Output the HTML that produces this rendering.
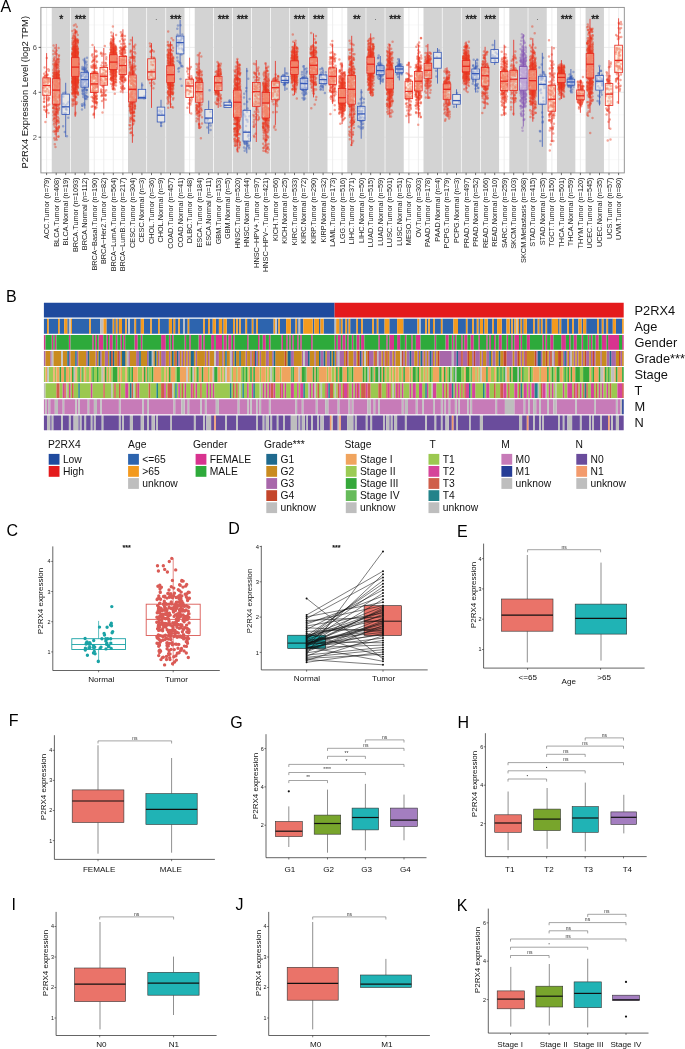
<!DOCTYPE html>
<html><head><meta charset="utf-8"><style>
html,body{margin:0;padding:0;background:#fff;overflow:hidden;width:685px;height:1049px;}
svg{display:block;font-family:"Liberation Sans", sans-serif;will-change:transform;}
</style></head><body>
<svg width="685" height="1049" viewBox="0 0 685 1049">
<rect width="685" height="1049" fill="#fff"/>
<text x="0.5" y="12" font-size="16" fill="#000">A</text>
<rect x="40.9" y="7.4" width="583.4" height="165.5" fill="#fff"/>
<path d="M40.9 159.7H624.3M40.9 114.8H624.3M40.9 69.8H624.3M40.9 24.9H624.3" stroke="#F2F2F2" stroke-width="0.5"/>
<path d="M40.9 137.2H624.3M40.9 92.3H624.3M40.9 47.4H624.3M46.6 7.4V172.9M56.2 7.4V172.9M65.7 7.4V172.9M75.2 7.4V172.9M84.8 7.4V172.9M94.3 7.4V172.9M103.8 7.4V172.9M113.3 7.4V172.9M122.9 7.4V172.9M132.4 7.4V172.9M141.9 7.4V172.9M151.5 7.4V172.9M161 7.4V172.9M170.5 7.4V172.9M180.1 7.4V172.9M189.6 7.4V172.9M199.1 7.4V172.9M208.7 7.4V172.9M218.2 7.4V172.9M227.7 7.4V172.9M237.3 7.4V172.9M246.8 7.4V172.9M256.3 7.4V172.9M265.9 7.4V172.9M275.4 7.4V172.9M284.9 7.4V172.9M294.5 7.4V172.9M304 7.4V172.9M313.5 7.4V172.9M323.1 7.4V172.9M332.6 7.4V172.9M342.1 7.4V172.9M351.7 7.4V172.9M361.2 7.4V172.9M370.7 7.4V172.9M380.3 7.4V172.9M389.8 7.4V172.9M399.3 7.4V172.9M408.9 7.4V172.9M418.4 7.4V172.9M427.9 7.4V172.9M437.5 7.4V172.9M447 7.4V172.9M456.5 7.4V172.9M466.1 7.4V172.9M475.6 7.4V172.9M485.1 7.4V172.9M494.7 7.4V172.9M504.2 7.4V172.9M513.7 7.4V172.9M523.3 7.4V172.9M532.8 7.4V172.9M542.3 7.4V172.9M551.9 7.4V172.9M561.4 7.4V172.9M570.9 7.4V172.9M580.4 7.4V172.9M590 7.4V172.9M599.5 7.4V172.9M609 7.4V172.9M618.6 7.4V172.9" stroke="#EBEBEB" stroke-width="0.9"/>
<rect x="51.74" y="7.4" width="18.37" height="165.5" fill="#D3D3D3"/>
<rect x="70.80" y="7.4" width="18.37" height="165.5" fill="#D3D3D3"/>
<rect x="128.00" y="7.4" width="18.37" height="165.5" fill="#D3D3D3"/>
<rect x="147.06" y="7.4" width="18.37" height="165.5" fill="#D3D3D3"/>
<rect x="166.13" y="7.4" width="18.37" height="165.5" fill="#D3D3D3"/>
<rect x="194.73" y="7.4" width="18.37" height="165.5" fill="#D3D3D3"/>
<rect x="213.79" y="7.4" width="18.37" height="165.5" fill="#D3D3D3"/>
<rect x="232.86" y="7.4" width="18.37" height="165.5" fill="#D3D3D3"/>
<rect x="251.92" y="7.4" width="18.37" height="165.5" fill="#D3D3D3"/>
<rect x="270.99" y="7.4" width="18.37" height="165.5" fill="#D3D3D3"/>
<rect x="290.05" y="7.4" width="18.37" height="165.5" fill="#D3D3D3"/>
<rect x="309.12" y="7.4" width="18.37" height="165.5" fill="#D3D3D3"/>
<rect x="347.25" y="7.4" width="18.37" height="165.5" fill="#D3D3D3"/>
<rect x="366.31" y="7.4" width="18.37" height="165.5" fill="#D3D3D3"/>
<rect x="385.38" y="7.4" width="18.37" height="165.5" fill="#D3D3D3"/>
<rect x="423.51" y="7.4" width="18.37" height="165.5" fill="#D3D3D3"/>
<rect x="442.58" y="7.4" width="18.37" height="165.5" fill="#D3D3D3"/>
<rect x="461.64" y="7.4" width="18.37" height="165.5" fill="#D3D3D3"/>
<rect x="480.71" y="7.4" width="18.37" height="165.5" fill="#D3D3D3"/>
<rect x="509.30" y="7.4" width="18.37" height="165.5" fill="#D3D3D3"/>
<rect x="528.37" y="7.4" width="18.37" height="165.5" fill="#D3D3D3"/>
<rect x="556.97" y="7.4" width="18.37" height="165.5" fill="#D3D3D3"/>
<rect x="585.57" y="7.4" width="18.37" height="165.5" fill="#D3D3D3"/>
<path d="M522.1 98.3h0M522.9 62.4h0M523.8 120h0M523.4 73.2h0M525.9 55.5h0M525.8 74.9h0M522.8 66.1h0M523.9 65.1h0M521.8 76.6h0M523.5 87.2h0M523.7 60.6h0M522.3 127.7h0M520.7 95.4h0M524.7 90.3h0M521.4 75.6h0M520.8 80.2h0M525 87.8h0M520.6 93.5h0M525.6 93.2h0M523.7 91.6h0M523.1 90.5h0M520.8 106.5h0M523.5 85h0M526.1 57.1h0M525.2 69.9h0M523 82h0M525.6 84.8h0M524.9 66.2h0M522.4 47.5h0M520.8 65.7h0M523 63.3h0M523.9 66.9h0M520.9 91h0M521.1 115.6h0M521.9 76.2h0M521.3 82h0M525.1 97.2h0M524.7 42.4h0M525.9 48.1h0M521.8 90.5h0M521.2 79.2h0M525.9 75.1h0M525.4 61.5h0M520.4 57.7h0M525.1 83h0M523.2 54.8h0M522.8 86.7h0M522.3 76.5h0M524.8 80.5h0M525.7 77.4h0M524.5 71.1h0M524.6 80.3h0M521.1 81.2h0M523.1 87.6h0M525.9 99.1h0M520.9 79.8h0M525.9 52.1h0M521.7 50h0M521.3 91.1h0M525.5 66.2h0M521.8 37.7h0M522.7 91.4h0M524.6 105.5h0M523.5 92.4h0M520.6 70.3h0M520.4 64.9h0M520.9 108.4h0M526.1 73.9h0M523.5 110.9h0M520.9 60.5h0M524 79.6h0M525.8 49.9h0M523.4 102.1h0M524.8 54.6h0" stroke="#8B5DB8" stroke-opacity="0.43" stroke-width="2.5" stroke-linecap="round" fill="none"/>
<path d="M525.3 94.6h0M521.7 71.8h0M521.6 101.9h0M525.2 73.2h0M524.9 81.2h0M523.3 67.3h0M525.7 78.2h0M522.8 77h0M522.5 77.5h0M522.2 51h0M520.4 80.6h0M522.2 107.5h0M525.2 107.1h0M523.9 100h0M524.8 94.4h0M522.3 87.7h0M522.7 85.2h0M524.5 69.7h0M523.8 35.8h0M522.2 68.7h0M524.4 88.6h0M521.6 99.8h0M522.8 51h0M524.3 100.3h0M525.7 99.4h0M523.5 72.1h0M523.6 75.6h0M520.5 49.1h0M525.2 68.1h0M522.6 91.4h0M522.6 130.8h0M525.9 69.8h0M524.5 97h0M525.5 67.2h0M521.2 114h0M523.2 88.1h0M524 106.6h0M523 101.4h0M525.9 60.7h0M525.5 77.1h0M521.2 82.4h0M522.6 59.5h0M525.5 65.5h0M524.2 59.2h0M525.4 94.3h0M520.8 61.1h0M524.1 103.8h0M523.1 81.9h0M525.4 95.9h0M523.9 76.4h0M523 71.6h0M522.3 82.7h0M520.6 106h0M523.9 53h0M522.9 64.8h0M522 63.8h0M521.8 98.1h0M523.3 69.5h0M525.8 82.2h0M525.5 80.2h0M525.4 76.2h0M523 50.3h0M523.7 97.9h0M521.1 91.9h0M525.9 86.9h0M523.8 59.5h0M521.2 82.2h0M524.4 79.7h0M525.8 86h0M526.1 102.3h0M526.1 96.2h0M524.5 86.6h0M524.4 43.3h0M521.5 85.1h0" stroke="#8B5DB8" stroke-opacity="0.43" stroke-width="2.5" stroke-linecap="round" fill="none"/>
<path d="M522 96h0M524.5 61.6h0M524 82.5h0M522.7 86.9h0M522.2 99.1h0M521.9 34.3h0M522.9 72.3h0M523.7 114.5h0M526.1 94.9h0M524.5 77.6h0M524.9 95.2h0M524.9 103.1h0M522.4 56.3h0M526 83.3h0M524.7 89.4h0M525.6 91h0M522.6 62.2h0M522.3 65.2h0M520.7 101h0M521.4 97h0M520.7 66.9h0M524.2 53.7h0M524.1 59.1h0M521 68h0M520.6 86.6h0M525.4 88.3h0M520.7 61.4h0M520.5 74.9h0M523.9 73.9h0M523.9 76.7h0M523.7 94.3h0M522.3 79.6h0M522.5 85.2h0M520.6 74.5h0M521.9 66.2h0M525 89.7h0M522 103.3h0M524.2 73.9h0M521.3 81h0M522.8 84.4h0M523.8 96.7h0M521 88.6h0M523.1 57.2h0M521.6 99.8h0M523.2 73.7h0M523.6 78.6h0M522.3 95.7h0M523.5 106.6h0M523 69.2h0M524.6 81.9h0M521.1 86.4h0M523.8 103.5h0M522.2 83.1h0M525.6 57.8h0M521.9 54.4h0M523.3 85.3h0M520.8 88.6h0M522.1 52.1h0M525 75.7h0M524.1 92.4h0M522.7 81.6h0M521.9 79.7h0M522.1 69h0M524.6 71.5h0M525.1 92.3h0M525 82.5h0M523.7 66.9h0M521.5 77.8h0M521.7 71.6h0M523.2 52.2h0M523.5 82.2h0M524.9 63.7h0M523.2 56.8h0M521.6 97.5h0" stroke="#8B5DB8" stroke-opacity="0.43" stroke-width="2.5" stroke-linecap="round" fill="none"/>
<path d="M523.7 94.1h0M523 71.9h0M525.6 69.6h0M525.8 101.3h0M521.3 89.1h0M523.6 84.6h0M522.4 46.2h0M525.5 65.8h0M523.6 83.5h0M521.5 111.6h0M524.7 85.1h0M524.4 70.5h0M523.4 70.8h0M525.1 62.1h0M524.7 104.3h0M526 77.6h0M522.8 82.7h0M520.4 89.4h0M526.1 94h0M522.2 83.3h0M524.4 78.5h0M520.4 100.6h0M524 80h0M525.4 81.5h0M524.9 63.1h0M522.9 76.2h0M522.4 97.9h0M523.9 72h0M522.8 97.6h0M520.5 80.6h0M520.8 60.1h0M522 93.3h0M525.8 76.5h0M520.4 80.2h0M524.4 105.3h0M522.8 68.7h0M524.4 84.2h0M522.7 60.2h0M525 63.8h0M521.1 62.3h0M525.7 66.3h0M523 72.4h0M523.2 103.5h0M521.6 57.3h0M524.7 78.9h0M525.5 68.5h0M523.1 82.1h0M525.1 74.2h0M520.9 74.4h0M521.6 74.9h0M522.6 80.1h0M522.6 71.9h0M521.9 57.5h0M523.2 82.9h0M524.1 65.4h0M521.6 80.3h0M523.3 63.2h0M525.5 99h0M521.4 90.7h0M522.7 55.2h0M523 79.7h0M522.7 69.7h0M521 105.8h0M522.6 78.9h0M523.1 77.3h0M524.3 80.5h0M525.8 105.7h0M525.6 58.6h0M524.6 82.5h0M520.7 69.8h0M521.7 57.1h0M524.4 119.3h0M525.4 78.1h0" stroke="#8B5DB8" stroke-opacity="0.43" stroke-width="2.5" stroke-linecap="round" fill="none"/>
<path d="M525.8 85.7h0M522.8 51.7h0M521 65.6h0M525.8 83.8h0M520.4 91.2h0M522.2 73.8h0M522.2 94.5h0M521.5 61.4h0M521.8 69.2h0M525.8 81.4h0M520.5 92.8h0M524.7 96.9h0M523.3 70.6h0M520.6 69.3h0M520.7 44.3h0M524.3 60.3h0M523.9 53.9h0M525.1 63.7h0M524.4 96.3h0M523.5 61.9h0M522.3 72.8h0M523.8 48h0M525.8 87.6h0M522.9 55.8h0M520.9 113.5h0M522.5 90h0M524.8 70.1h0M525 82.6h0M523.9 58.7h0M524.5 62.4h0M522.2 116h0M522.9 79.4h0M522.1 88.3h0M525.9 82.7h0M526 82.2h0M522.2 68.2h0M524.8 60.4h0M525.4 68.3h0M524.4 81.4h0M524.8 92h0M524.4 99.8h0M523.9 68.4h0M522.8 37.1h0M523.5 68.8h0M521.1 93.9h0M526 59.9h0M523.9 49.9h0M522 75.5h0M520.9 60.3h0M524.8 76.4h0M525.2 96.2h0M523.9 40.8h0M521.5 78.3h0M525.2 57.8h0M521.2 40.8h0M524.9 55.3h0M521.3 58.7h0M521.1 87.8h0M525.8 72.2h0M525.4 46.8h0M520.9 54.7h0M523.1 82.6h0M521.6 54.1h0M522.2 71.7h0M523.9 93.6h0M522.4 81.2h0M526.1 89.3h0M520.9 72.1h0M524 68.2h0M524.3 73.6h0M523.3 67h0M523.1 107.1h0M524.3 78.6h0" stroke="#8B5DB8" stroke-opacity="0.43" stroke-width="2.5" stroke-linecap="round" fill="none"/>
<path d="M66.4 109.1h0M63.3 93h0M63.1 126.2h0M65.6 113.6h0M86.5 83.6h0M85.6 68.8h0M84.7 86.4h0M86.4 75.7h0M85.9 85.6h0M86.7 71.4h0M85 69h0M87.3 97h0M85 70h0M83.8 103.6h0M86.4 61.8h0M82.4 66.9h0M87.3 85.4h0M82.5 93.6h0M82.6 69.2h0M83.2 93.8h0M83.2 67.3h0M85.4 98.4h0M82.4 89.4h0M83.8 74h0M85.5 95.6h0M86.7 79.8h0M86.4 86.1h0M144.4 96h0M159 114.1h0M162 110.9h0M181.8 44.5h0M182.9 49.5h0M179.1 62h0M177.6 60.8h0M181.4 65.6h0M178.2 68.8h0M180.9 40.2h0M177.9 40.2h0M178.6 41.9h0M208 118.9h0M210.4 111.7h0M207.3 121.3h0M229.3 100.8h0M249.6 99.1h0M248.8 132.1h0M245.4 143.5h0M247.3 119.9h0M244 97.6h0M244.1 141.6h0M244.8 144.1h0M247.9 136.4h0M246.9 143.6h0M285 81.2h0M284 85.1h0M287.8 82.6h0M284.5 76.8h0M284.8 80.4h0M305.4 87.1h0M302.1 78.8h0M303.8 99.8h0M306.5 81.2h0M305.9 89.4h0M302.2 88.3h0M305.8 92.1h0M305.2 82.4h0M302.7 90.3h0M305 85.5h0M301.9 74.5h0M304.8 78h0M305.7 81.6h0M306.2 93.8h0M303.1 88.7h0M321 83.1h0M322.1 67.9h0M322 86h0M321.3 86.1h0M320.7 77h0M321.1 74.9h0M322.1 86.6h0M359.6 111.7h0M361.3 122.3h0M360 111.3h0M363.1 123.8h0M362.1 97.8h0M358.3 111h0M364 99.1h0M359.1 114.8h0M363 127.2h0M361.7 103.3h0M378 58.2h0M380.2 76h0M382.4 76.2h0M381.1 77.4h0M379.7 68.6h0M381.5 79.7h0M383 69h0M379.7 69.8h0M381 80.9h0M383 79.2h0M381.5 72h0M381 76.9h0M400.3 65.2h0M399.2 73.6h0M400.4 66.5h0M401.1 70.2h0M398.4 73.8h0M400.4 68.8h0M398.5 64.7h0M398.3 70.7h0M397.3 66.7h0M397.6 66.5h0M401.3 73.2h0M436.9 57h0M459.1 102h0M475.8 78.3h0M473.7 75.1h0M473.1 71.5h0M473.8 69.3h0M474.1 68.1h0M472.9 77h0M476.2 73.9h0M475.3 75.1h0M477.3 60.2h0M476.8 85.7h0M476.3 75.2h0M494.1 49.7h0M492.7 45h0M543.5 72.4h0M541.4 104.1h0M545.2 80.8h0M543 77.9h0M542.1 112.4h0M543.1 57.7h0M540.6 103.8h0M570.9 76.9h0M573.2 82.2h0M572.1 83.7h0M571.4 80.4h0M570.2 79.5h0M572.8 77.9h0M568.7 82.1h0M569.9 79.6h0M572 84.1h0M568.5 86.7h0M573.4 83.6h0M569.6 74.4h0M601.4 81h0M598.3 95.8h0M602 83h0M600.5 78h0M601.5 82.4h0M600.2 79.7h0M602.2 85h0" stroke="#3A5CB8" stroke-opacity="0.43" stroke-width="2.5" stroke-linecap="round" fill="none"/>
<path d="M65.6 105.3h0M65.3 92.4h0M68.3 117.8h0M63.7 113.5h0M86.5 84.2h0M82.1 75.5h0M83.6 87.4h0M87.4 76.7h0M83.6 59.7h0M82.7 84.8h0M86.1 69.5h0M83.9 88.8h0M82.4 91.1h0M87.3 96.7h0M85.1 80.9h0M85.6 76.9h0M86.9 90.2h0M84.6 79.3h0M84.8 78.2h0M83.4 79.6h0M85.3 72.4h0M83.8 87h0M83.3 73.8h0M86.4 85.4h0M82.4 68.8h0M87.3 85.7h0M87.4 73.3h0M142.3 85.2h0M160.1 111.4h0M162.1 114h0M181.7 85.7h0M177.5 34.7h0M181.3 66.3h0M177.7 35.8h0M178.5 36.5h0M178.7 71.4h0M179.3 67.9h0M177.3 28.7h0M207.8 119.6h0M209.6 122.8h0M225.4 106h0M247.6 121.7h0M247.6 141.2h0M248.2 135.2h0M249.2 138.8h0M247.5 143.1h0M247 112.1h0M244.2 93.8h0M244.2 114.4h0M247.7 145.5h0M286.8 81.1h0M287.4 82.8h0M283.8 84h0M284.8 82.6h0M286 78.7h0M305.6 92.9h0M306 76.7h0M303.6 95.1h0M306.7 88.3h0M305.8 76.4h0M304.4 84.5h0M303.2 66.6h0M301.9 79.8h0M303.1 89.5h0M302 72.1h0M303.3 89.3h0M302.8 89.6h0M302.2 83h0M305.1 76.4h0M302.9 77.4h0M322 78.6h0M321.2 72.4h0M324.8 82h0M321.3 85.3h0M321.8 72.5h0M320.6 74.9h0M322.6 86.9h0M358.5 126.5h0M362.2 117.3h0M360.1 117h0M360.6 99.3h0M361.9 113h0M360.3 127h0M362.1 113.5h0M358.5 108.1h0M363.7 102.6h0M360.7 128.3h0M377.4 72.1h0M379.4 75.3h0M383.1 71.2h0M378.4 57.4h0M381.9 72.4h0M378.7 55.6h0M381.2 63.7h0M379.1 65.1h0M381.2 68h0M380.6 69.5h0M377.5 66.9h0M383 67.6h0M399.3 65.2h0M399.6 68h0M396.9 68h0M401.7 74.2h0M398.5 70.5h0M397.3 67.3h0M400.5 67.3h0M397.7 62.8h0M399.6 68.4h0M401.5 68.1h0M439 50.5h0M457 92.9h0M473.1 66h0M475.6 67h0M477.3 65.5h0M476.4 84.2h0M473.6 75.3h0M477.9 71.3h0M477.2 59.5h0M475.5 88.8h0M476.6 73.8h0M478 88.3h0M473 72.3h0M493.2 56.9h0M495.7 52.4h0M542.9 121.6h0M540.3 131.4h0M541.6 78.2h0M543.8 85.8h0M539.4 67.6h0M543.6 101.2h0M540.8 80h0M568.2 78.2h0M570.2 79.7h0M570.4 81.9h0M571.6 79.7h0M570.5 87.2h0M570.4 77.6h0M571 82.5h0M571.6 82.5h0M570.7 77.3h0M569.8 85h0M573.7 80.4h0M570.9 80.5h0M598.8 73.5h0M597.1 82.4h0M602.4 83.4h0M600.9 70.7h0M602 85.4h0M596.8 79.6h0M602 80h0" stroke="#3A5CB8" stroke-opacity="0.43" stroke-width="2.5" stroke-linecap="round" fill="none"/>
<path d="M67.3 103.8h0M66.5 110h0M63.6 107.1h0M63.2 96.4h0M85.3 63.1h0M85.3 76.9h0M83.1 94.6h0M83.3 93.8h0M83.2 74.3h0M84.1 70.4h0M84.3 72.9h0M86.2 81.1h0M87 74.1h0M83.8 81.6h0M82.4 75.7h0M83.9 70h0M84.6 61.5h0M84.8 72.7h0M87 57.7h0M82 86.1h0M82.2 76h0M86.6 98.9h0M82.7 81.3h0M86.4 92.7h0M86 95.9h0M86.7 64.8h0M144 98.2h0M159.5 110.1h0M158.5 110.9h0M182.6 66.6h0M183 50.6h0M182.3 34.4h0M177.5 45.8h0M180.5 63.3h0M178.9 48.4h0M177.2 57.6h0M178.7 44.5h0M206 118.6h0M207.3 127.5h0M229.9 100.6h0M245.6 148.5h0M245 143.4h0M248.3 146.1h0M244 147.5h0M248.7 146.9h0M249.4 116.3h0M244.7 150.8h0M244.4 104h0M248.8 145.5h0M284.4 75.4h0M285.1 82.9h0M286.8 88.8h0M285.4 78.5h0M285.5 83.9h0M301.3 89.1h0M306 89.6h0M306.5 68.5h0M302.7 81.9h0M302.4 77.6h0M303.7 79.7h0M306 88.4h0M304.5 83.4h0M303.3 82h0M302.6 97.9h0M304.4 79.7h0M305.5 88h0M305 94.4h0M306.7 71.3h0M325.8 76.1h0M325.8 75h0M320.7 75.2h0M320.3 69.3h0M321 89.2h0M325.5 84.5h0M361.5 114.5h0M362.6 128.4h0M359.2 115.2h0M361.6 92.2h0M360.6 106.7h0M359.1 119.7h0M362.3 111.1h0M358.5 118.6h0M358.6 110.6h0M361.6 124.5h0M379.6 65.9h0M382.3 65.4h0M379.2 73.5h0M379.9 79.1h0M378.3 63.5h0M377.9 71.3h0M381 75.5h0M379.2 72h0M379.8 69.7h0M379.9 66.9h0M379.4 71.3h0M382.8 81.8h0M401.7 68.8h0M397.9 65.6h0M398.1 59.2h0M397.8 65.5h0M399.5 64.1h0M399.5 70.6h0M399.2 67.1h0M396.9 74.5h0M400.2 67.6h0M397.8 69h0M436.1 70.7h0M454 106.8h0M477 63.2h0M475.3 68.7h0M476.8 71h0M473.7 59.8h0M478.3 87.7h0M477 66.7h0M475.8 80.6h0M477 66.9h0M473.3 77.8h0M472.7 83.7h0M497.3 54h0M494.7 60.2h0M543.4 72.1h0M543.4 103.8h0M539.4 78.1h0M541.5 76.7h0M544.1 74h0M540.3 141h0M540.9 89.4h0M570.7 91.1h0M572.4 81.3h0M570.6 77.4h0M572 85.4h0M570.5 80.3h0M569 84.7h0M573.2 82.3h0M571.6 83.6h0M573.6 87.1h0M569.6 85h0M572.1 92.3h0M571.2 77.8h0M599.4 66.1h0M597 80.8h0M599.7 88.1h0M597.7 75.8h0M601 71h0M598.1 86.2h0M602.1 74.8h0" stroke="#3A5CB8" stroke-opacity="0.43" stroke-width="2.5" stroke-linecap="round" fill="none"/>
<path d="M65.5 113.6h0M63.3 107h0M67 136.2h0M64.8 132.1h0M84.4 104.9h0M82.9 82.9h0M87.2 76.4h0M87.1 71.5h0M85.1 88.2h0M82 109.6h0M86.7 82h0M82.4 105.6h0M86.8 73h0M84.5 82.6h0M85.3 98.4h0M84 69.1h0M86.9 76.7h0M84 68.1h0M84.7 77.1h0M83.5 90.3h0M83.3 96.9h0M81.9 104.2h0M83.8 96.5h0M87.1 78h0M87.5 83.5h0M86.5 90.1h0M161.2 112.7h0M161.3 122.9h0M181.5 38.7h0M180.1 40.6h0M181.5 54.4h0M181.3 38h0M178 53.1h0M180.3 42.9h0M177.9 25.6h0M179.4 42.6h0M209.6 90.3h0M210.6 125.4h0M229.9 102.2h0M246.1 126.1h0M247.2 101.7h0M246.1 91.2h0M246.3 88.1h0M244.7 110h0M246.1 119.6h0M244.2 142.4h0M249.2 148.4h0M245.7 131.5h0M285.6 80.3h0M284.8 84.4h0M285.3 79.8h0M286.2 73.3h0M282.3 76.1h0M305.1 81.8h0M306.2 83.5h0M305.2 88h0M306.9 80.9h0M304.1 88.4h0M305.1 98.4h0M302.5 93.2h0M301.6 82.5h0M305.2 69.3h0M303.3 79.5h0M304 78.6h0M306.6 72.2h0M302.8 78.2h0M302.6 90.1h0M324.5 83.8h0M322.5 69.3h0M320.4 86.9h0M324.9 93h0M320.4 89.4h0M325.4 80.7h0M362 111.2h0M362.7 106.8h0M363.1 120.2h0M360.2 120.9h0M362.9 107.9h0M364.1 118.1h0M359.3 111.1h0M358.8 111.3h0M360.3 106.3h0M360.2 117.8h0M382.7 80.3h0M378.8 72.5h0M378 68.7h0M380.4 68h0M382.7 75h0M378 77.7h0M381.1 68h0M380.9 71.6h0M379.1 73.4h0M382.6 68.5h0M383.1 67.8h0M378.8 78.8h0M398.5 65.5h0M398 68.1h0M398.2 70.2h0M399.7 64.1h0M400 69.1h0M399.1 61.2h0M400.6 66.4h0M402.1 67.7h0M401.1 67.2h0M397.4 71h0M436.4 76.4h0M473.2 81.5h0M475.1 75h0M473.2 65.2h0M472.9 78.5h0M474.1 72h0M476.6 76.9h0M477 85.8h0M477.5 91.6h0M474.8 72.2h0M478.2 74.2h0M495.7 62.1h0M492.6 55.3h0M539.9 131.1h0M540.5 75h0M542.6 116.9h0M541.1 83.2h0M544.1 84.3h0M541.5 78.3h0M544.3 87.9h0M573.4 71.9h0M571.4 83.7h0M571.7 76.1h0M571.9 78.7h0M571.7 85.3h0M572.2 81.3h0M569.9 78.9h0M568.2 85.6h0M572.1 85h0M568.7 82.1h0M572.3 89.4h0M571.5 85.1h0M601.7 94.7h0M599.5 103.3h0M599.2 81.8h0M598.5 73.3h0M602 79.2h0M601.1 92.5h0M601 91.5h0" stroke="#3A5CB8" stroke-opacity="0.43" stroke-width="2.5" stroke-linecap="round" fill="none"/>
<path d="M63.4 103.7h0M65.8 108.8h0M68.5 101.9h0M86.9 72.5h0M86.5 67.3h0M83.1 85h0M82.2 82.2h0M82.7 84.5h0M83.1 91.4h0M82.6 84.6h0M84.7 79.1h0M82 76.1h0M82.9 79.3h0M84.5 85.9h0M82.8 83.1h0M82.5 75.7h0M83 76h0M85.8 76h0M87 71.5h0M82.1 105.7h0M87.3 73.8h0M83.1 75h0M83 79.5h0M85.8 74.4h0M86.6 89.8h0M161.2 125.9h0M178.5 44.2h0M181.6 48.6h0M180.5 25.2h0M178.4 45.3h0M182.2 37.9h0M180.5 79.1h0M177.8 46.2h0M178.7 42.4h0M206.7 118.5h0M210.6 129.9h0M229.5 102.2h0M245.4 141.5h0M245 131.5h0M247.1 71h0M249.2 135.8h0M245.4 116.5h0M247.6 108.5h0M249.3 134.6h0M248.3 78.8h0M284.6 80.8h0M284.9 82.8h0M284.4 81.1h0M283.2 75.1h0M287.4 73.6h0M301.6 88.3h0M302.5 78h0M301.2 83.2h0M306.6 77.9h0M306.2 73.7h0M304.1 86.8h0M305.8 90h0M304.5 91.3h0M302.7 89.4h0M305.3 80.6h0M306.3 80.6h0M304.8 82.5h0M303.8 91.3h0M301.8 86.3h0M320.6 74.8h0M321.3 81.2h0M325.8 72.3h0M323.6 78.8h0M324.3 80.4h0M323.9 80.7h0M362.5 120.6h0M359.3 118.9h0M358.7 115.3h0M358.6 107.8h0M360.6 111.7h0M360.9 120.3h0M361 117.9h0M360.3 117.9h0M358.7 103.5h0M359.7 108.5h0M377.6 75.5h0M382.2 68.3h0M379.2 62.7h0M380.7 76.6h0M377.4 69.7h0M379.7 65h0M378.6 76h0M379.9 67.1h0M378.3 64h0M381.5 71.1h0M381.1 65.5h0M400.1 66.6h0M398.6 71.7h0M398.1 76.9h0M401.5 64.5h0M397.1 66.3h0M400.9 72.1h0M398.7 70.6h0M397.2 73.2h0M400.8 72.5h0M401.9 73h0M478.1 77.9h0M477.8 84.1h0M476.2 66.7h0M472.7 77.9h0M476.9 75.3h0M475.5 67.9h0M475.4 68.2h0M474.4 74.6h0M474.9 85.3h0M473.1 80.5h0M495.1 56.6h0M495 60.5h0M541.2 93.1h0M543.1 97.7h0M540.2 90.6h0M542.3 79.8h0M542.5 122.4h0M545.2 75h0M541.7 64.5h0M569.3 81h0M570.7 80.5h0M571.3 79h0M568.1 81.4h0M573.2 84.7h0M571.4 82.8h0M569.5 80.8h0M571 87.1h0M568.6 86h0M569.8 77.7h0M572.6 84.3h0M597.9 80.2h0M597.6 101.1h0M599.4 101.5h0M599.8 97.1h0M596.7 77.1h0M596.8 78.6h0M599.5 77h0" stroke="#3A5CB8" stroke-opacity="0.43" stroke-width="2.5" stroke-linecap="round" fill="none"/>
<path d="M47.5 89.2h0M44.2 82.7h0M48.7 82.1h0M45.9 72h0M48.3 97.2h0M44.4 97.4h0M47.8 78.6h0M47.8 82.8h0M44.1 82.7h0M48.8 79.5h0M45.1 81.8h0M47.7 74.8h0M44.3 96.9h0M44.6 82.4h0M48.6 90.4h0M44.7 78.1h0M58.9 91.4h0M58 97.2h0M53.4 69.9h0M54.5 74.6h0M57.9 110.2h0M58.9 108.7h0M57.9 83.2h0M56.3 66h0M56.7 76h0M56.2 131.1h0M56 89.4h0M57.7 90h0M57.3 106.2h0M58.1 136.7h0M58.5 78.9h0M59 109.5h0M53.4 76.1h0M53.9 79.3h0M54.8 72.6h0M56.9 54.3h0M58.6 85.7h0M57.7 96.9h0M56.4 87.1h0M57.2 109.6h0M54 81.3h0M55 93.2h0M58.9 94.6h0M53.8 76.9h0M57.1 103.2h0M58.4 59.2h0M58 91.2h0M56.5 64.7h0M56.4 123.3h0M56.1 93.7h0M54.7 96.7h0M56.2 97.9h0M55.9 96.8h0M58.8 77.1h0M53.4 54.3h0M58.1 61.9h0M56.7 78h0M56.2 90h0M56.4 124h0M56 82.2h0M55.5 104.8h0M54.4 101h0M55.6 108.6h0M58.3 119.6h0M53.4 101.7h0M58.9 74.9h0M57.7 102.1h0M56.9 81.2h0M53.3 82.3h0M55 64.5h0M53.5 131.4h0M58 75.8h0M55.7 89.8h0M58.5 74.4h0M55.4 65.6h0M58.8 56.2h0M55.4 80.4h0M58.6 89h0M54.9 93.9h0M58.8 88.2h0M57.7 92.9h0M54.7 84.8h0M56.1 83.5h0M57.1 120.9h0M58.4 89.8h0M59 59.6h0M56.6 73.3h0M56.7 139.8h0M55.2 89.4h0M55.5 92.3h0M56.5 76.1h0M53.3 64.3h0M58.5 118.5h0M53.9 70h0M55.5 53.7h0M58.1 73.2h0M56.5 86.2h0M55.7 99.2h0M77.5 66.8h0M74.2 56.6h0M76 54.2h0M74.6 40.3h0M77.1 67.3h0M73.2 66.3h0M72.9 54.1h0M77.7 78h0M75.6 47.1h0M75.4 37h0M75.3 61.2h0M76.5 58.3h0M74.3 66.7h0M75.4 71.9h0M76.6 68.4h0M78 82.4h0M72.8 62.5h0M72.6 60.7h0M72.7 54.7h0M77 64.7h0M72.4 73.1h0M75.9 70.7h0M77.1 63.2h0M76.9 66.7h0M73 72.1h0M74.6 76.3h0M73.7 87.7h0M77.2 57h0M73.4 59.4h0M73.3 54.7h0M76.6 42.4h0M76.9 64.7h0M75.6 54.7h0M76.3 88h0M74.8 74.2h0M74.6 48.6h0M75.5 52.4h0M76.3 49h0M74.8 52.6h0M77 73.3h0M74.4 61.7h0M74.4 69.2h0M74.1 69.1h0M77.1 78.7h0M72.9 72.9h0M77.5 80.8h0M74.9 89.1h0M73.2 66.9h0M74.5 80.4h0M77.7 63.7h0M74.4 81.4h0M74 58.8h0M74.1 72.9h0M74.1 78.4h0M76.4 81.3h0M72.5 73.4h0M74.2 71.7h0M75.7 65.4h0M76.1 72.5h0M77.4 42h0M76.6 73.2h0M72.4 31.1h0M74.4 71.9h0M74.7 51.9h0M74.2 74.5h0M76.3 54.4h0M72.6 55.4h0M77.6 87h0M75 83.2h0M73.7 53.9h0M74.4 58h0M76 67.3h0M75.6 56.4h0M72.5 99h0M75.8 62.8h0M74.6 93.5h0M77.2 42.4h0M77.8 64.4h0M73.7 75.3h0M77.7 59.9h0M77.1 79h0M77.4 84h0M73 79.3h0M73.5 65.5h0M78 68.8h0M74.8 81.6h0M75.8 61.9h0M72.7 83.8h0M77.6 69.5h0M75.8 60.9h0M74.5 76.4h0M72.4 68.5h0M72.4 69.9h0M73 82.9h0M76.6 56.2h0M77.8 81.2h0M72.6 56.4h0M72.7 76.7h0M77.4 56.6h0M73.8 75.2h0M73.9 51h0M73.7 53.4h0M75.9 83.8h0M74.4 54.7h0M77.4 64.3h0M76.6 60.8h0M76.7 68.7h0M75.7 68h0M76.5 81.5h0M74.9 92.9h0M77.9 52.4h0M76.8 73.4h0M76.2 86.8h0M75.1 79.7h0M75.3 41.3h0M74 76.3h0M74.7 69.7h0M73.5 82.3h0M76.7 61.2h0M72.4 83.2h0M74.9 78.1h0M72.6 59.9h0M73.7 100.4h0M73.3 64.7h0M73 71.2h0M74.3 63.4h0M74.4 64.3h0M73.1 67.4h0M75.3 62.1h0M72.8 72h0M74.1 68.6h0M77.3 79.9h0M77.2 70.3h0M72.5 88.5h0M76.5 57.4h0M72.6 87.5h0M76.3 67.1h0M76.3 71.8h0M76.7 60.5h0M73.8 70.8h0M75.3 66.3h0M77 53.1h0M74.4 58.4h0M75 64.9h0M72.9 49.3h0M77.7 76.6h0M77.2 59.3h0M74.2 59.2h0M77.6 57.9h0M73.3 69.8h0M76.9 52.3h0M77.1 54.4h0M78 73.9h0M75.9 71.5h0M76.3 58.2h0M74.6 58.5h0M75.2 77.3h0M72.7 70h0M74.6 46.1h0M74.5 71.7h0M77.6 54.7h0M74.5 90.2h0M76.2 43h0M77 65.2h0M77.8 76.3h0M77.1 70.6h0M73.6 56h0M74.4 63.4h0M73.9 72.3h0M76.8 67.3h0M74.1 47.6h0M74.3 71.5h0M74.9 38.9h0M75.5 55.8h0M74.8 81.8h0M73.9 64.1h0M75.8 70.6h0M76 51.1h0M72.6 53.6h0M75.6 66.6h0M77 66.4h0M73.8 74.4h0M73.1 99.2h0M72.8 67.7h0M76.6 61.9h0M74.3 68.9h0M72.7 89.3h0M74.8 56.6h0M77.4 51.7h0M76.3 64.4h0M77.3 61.3h0M76.6 65.3h0M73.7 63.5h0M78.1 64.3h0M75.2 53.5h0M76.6 31.5h0M76.3 68.4h0M74.2 82.5h0M73.8 91.4h0M72.6 87h0M75.8 57h0M75.9 80.4h0M75.3 88.6h0M73.7 69.6h0M77.1 86h0M72.8 82.7h0M75.3 72.6h0M73.4 49.8h0M76.9 62.7h0M76.1 78.2h0M74.2 81.1h0M75.8 80.4h0M76.2 92.5h0M73.6 90.3h0M72.6 70.9h0M75.3 72.6h0M72.6 81.3h0M74.5 62.7h0M75.4 55.6h0M94.5 91.7h0M94.2 92.9h0M96.2 102.5h0M91.5 65.9h0M96.3 74.6h0M91.6 66.8h0M96.6 51.6h0M92.4 84.2h0M94.4 72.2h0M95 96h0M96.2 51.7h0M96.9 87h0M93 67.7h0M95.5 107.8h0M94.4 95.2h0M92.5 44.9h0M93.6 76.3h0M95.8 86.8h0M93.1 57.5h0M91.8 84.8h0M97 75.3h0M92.5 78.9h0M93.8 73.4h0M92.3 76.8h0M96.5 107.5h0M92.7 85.2h0M93.3 88.6h0M92 55.6h0M96.3 56.8h0M94.8 97.9h0M93.3 84.5h0M93.7 88.4h0M92.9 60.9h0M91.5 74.1h0M93.2 65h0M94.1 68.6h0M94.3 78.5h0M96.1 85.3h0M105.5 75.1h0M102.1 95.1h0M104.3 70h0M102.3 86h0M106.6 79.1h0M101.1 52.8h0M102.4 84.3h0M101.5 68.1h0M104.5 84.7h0M105.7 76.4h0M104.1 73.5h0M104.4 75.7h0M103.6 93h0M104.9 77h0M102.7 68.9h0M105.3 54.3h0M105.4 95.8h0M113.5 84.9h0M113.6 77.7h0M115.7 58.1h0M111.9 62.6h0M114.3 65.6h0M116.1 52.5h0M113 51.6h0M114.3 50.1h0M111.5 74.4h0M111.2 41h0M111.1 51.8h0M114.2 69.9h0M111.1 59.5h0M112.5 59.1h0M116 76.2h0M115.8 54.7h0M111.1 46.8h0M111.8 62.9h0M112.6 68.1h0M111.6 67.7h0M113.2 60h0M111.8 50.1h0M115.3 60.6h0M111.3 42.1h0M113.1 55.6h0M111.1 39.3h0M115.1 55.7h0M110.9 55.2h0M114.4 51.8h0M114.2 69.6h0M116 64.1h0M110.7 60.2h0M114.5 67.2h0M114.2 59.9h0M113.9 54.2h0M111.5 61.1h0M115.9 62.3h0M111.4 57.8h0M111.5 72h0M111 56.4h0M113.7 57.3h0M110.6 79.3h0M112.3 77.7h0M112.3 59.5h0M115.5 62.6h0M110.9 61.3h0M114.9 50.9h0M116.1 62.6h0M113 54.6h0M111.4 58.9h0M111.9 57.7h0M113.1 69.3h0M111.9 49.7h0M112.9 65.9h0M112.3 76.7h0M112.8 58.7h0M114.8 93.7h0M115.3 57.8h0M115.5 76.4h0M112.3 62.1h0M112.8 69.4h0M113.8 70.5h0M111.7 50.9h0M112.9 78h0M111.7 44.5h0M111.5 70.6h0M111.5 62.1h0M115.7 85.6h0M113.9 76.6h0M111.8 65.9h0M114.8 48.4h0M115.1 58.6h0M111.6 46.3h0M111.5 67.3h0M111.3 60.8h0M111.3 66.1h0M112.8 50h0M113.9 50.7h0M115.1 57.2h0M113.2 48.1h0M115.7 54.3h0M111.3 43.9h0M115.8 76.3h0M113.9 49.5h0M111.4 77h0M116.1 62.3h0M113.5 47.9h0M115.9 67.8h0M115.1 51h0M116 85.5h0M115.2 73.2h0M115.8 70.9h0M112.9 72.7h0M114.7 63.3h0M115.8 69.4h0M113.2 83.9h0M111.2 63.1h0M113.1 59.9h0M111.1 56.7h0M115.7 55.6h0M115.7 71.5h0M113.7 53.3h0M114.9 51.8h0M113.6 51.7h0M114.4 72.4h0M111.9 71.1h0M114.3 62.4h0M113.7 52.9h0M115.3 61.5h0M115.3 63.4h0M116.2 50.1h0M111.4 62.3h0M113.6 68.4h0M121.4 75.3h0M125.3 80.4h0M121.8 55.3h0M120.2 78.9h0M124.1 47.9h0M121.3 49.8h0M124 63.2h0M122.8 68.4h0M120.7 55.8h0M121.8 88.6h0M120 51.3h0M122.2 80.6h0M123.4 78.1h0M123.4 76.6h0M121.6 72.8h0M124.1 68.9h0M124.4 56.6h0M122.1 66.2h0M120.6 74.5h0M122.5 49.9h0M121.9 35.9h0M123.4 77.8h0M123.9 49.2h0M123.4 57.3h0M121.2 74.9h0M122.2 64.8h0M123.6 72.4h0M122.5 59.2h0M121.7 79.8h0M122.1 58.6h0M123.8 69h0M123.8 71.9h0M124.2 58.8h0M124 56.6h0M120.8 66.2h0M122.5 73.9h0M120.6 70.1h0M120.1 57.9h0M121.9 72.3h0M125.2 70.8h0M121.3 76.2h0M121.1 62.2h0M121.2 78h0M122 71.1h0M132.6 99.7h0M134.2 57.2h0M131 51.3h0M134.1 104.6h0M130.8 99.9h0M132.1 66.9h0M134 102h0M133.2 71.8h0M131 89.2h0M130.2 62.3h0M131.9 54.6h0M134 90.8h0M130.9 113h0M133.2 89.7h0M129.6 104.4h0M131.3 102.8h0M131.8 97.3h0M130.8 93.1h0M134.6 67h0M134.7 91.7h0M134.9 91h0M130.4 72.1h0M134.4 89.5h0M129.9 110.8h0M131.1 102.8h0M133.7 72.6h0M133.1 90.8h0M131 69h0M129.8 106.1h0M131.8 118.2h0M133.8 80.9h0M131.7 109.9h0M130.4 93.8h0M129.6 73.5h0M130.1 89.4h0M134.7 92.7h0M131.1 74.4h0M134.2 107.5h0M135 106.1h0M131 70.5h0M133.2 120.5h0M135 86.6h0M131.4 102.8h0M134.4 85.3h0M132.7 94.3h0M133 113.3h0M130.9 68.6h0M132.8 66.2h0M133.2 104.5h0M129.7 93.9h0M135 100.6h0M132.8 57.8h0M134.9 108.1h0M134.2 112.8h0M134.3 46.7h0M134.9 90.9h0M134.7 61.6h0M131.1 105.2h0M130 57.6h0M131.5 76.8h0M133.8 93.4h0M149.2 72.2h0M153.8 69.7h0M151.3 74.7h0M154.3 57.9h0M153.2 78h0M150.7 46h0M151 73.1h0M151.8 71h0M167.9 79.4h0M168.7 71.5h0M173.3 81.7h0M170.2 49.5h0M171 86.2h0M169.9 76.7h0M170.4 73.5h0M168.8 67.2h0M168.6 76.6h0M172.8 58.8h0M169.5 62.9h0M169.2 72.7h0M172.1 79.5h0M172.8 72.9h0M170.5 68.5h0M169.2 55.5h0M172.1 68.2h0M168.8 46.1h0M172.2 68.8h0M172.3 66.4h0M173.3 80.1h0M170.2 76h0M168.9 53.1h0M170.1 58.2h0M168.5 88.1h0M171.4 65h0M170.1 77h0M171.9 94h0M168.9 68.1h0M171.4 76.2h0M169.7 88.2h0M170.2 72.5h0M172.8 76.5h0M172.3 72.2h0M168 54.8h0M170.1 78.2h0M168.7 94.4h0M171.3 78.2h0M169.1 61.8h0M168.8 63.9h0M170.1 70.4h0M172.8 67.6h0M171.8 75.5h0M169.3 77.9h0M169.1 67.1h0M167.9 76.9h0M172.3 67.6h0M171.2 54.9h0M172.7 82h0M170.4 80.9h0M171.6 80.9h0M168.6 83.2h0M172.7 87.6h0M172.7 67.9h0M172.1 77.4h0M169.5 68.8h0M169.2 85h0M170.7 75.4h0M172.3 82.4h0M172.1 81.2h0M169.4 70.6h0M172.3 86.3h0M172.4 84.3h0M169.2 66.8h0M173.2 92.7h0M172.5 64.9h0M171.1 81.5h0M170.3 72.3h0M173.4 77.2h0M172.9 58.2h0M173.1 78.2h0M169.2 71.7h0M173.1 61.1h0M168.1 78.9h0M170.7 45.1h0M172.6 84.6h0M171.1 69.3h0M172.8 50.8h0M168.9 102.3h0M170.4 75.6h0M168.3 99.4h0M171.6 87.8h0M171.3 78.6h0M172.7 79.3h0M167.7 56.9h0M170 80.5h0M170.5 85h0M170.1 86h0M171.3 65.1h0M173.3 64.4h0M167.7 73h0M167.7 79.3h0M188.8 93.9h0M189.4 85.9h0M190.4 104.6h0M191.2 113.5h0M190.6 91.1h0M191.7 99.4h0M191.9 82.8h0M191.2 91.6h0M191.6 79.5h0M191.2 97.4h0M200.3 109.2h0M196.4 105.5h0M198.3 88.1h0M200.5 99.8h0M201.8 81.6h0M199.6 75.4h0M201.4 99h0M200.4 115.1h0M197.7 86.6h0M196.9 109.1h0M196.5 121.3h0M199.4 78h0M197.7 86h0M200.8 109.8h0M201.6 78.9h0M196.4 106.8h0M196.9 69h0M199 85.7h0M196.3 105.6h0M196.3 111.4h0M196.9 72.1h0M198.8 83.7h0M196.4 77.8h0M197.5 110.9h0M196.7 112.9h0M200.2 109.8h0M199.5 107.3h0M199.9 98h0M200 87.6h0M200.3 100.7h0M197.1 86h0M197.3 77.6h0M196.7 118.6h0M199.1 124.3h0M197.2 81.3h0M201.3 78.2h0M200.3 108h0M215.8 92.1h0M218.4 78.9h0M215.9 85.1h0M215.6 77h0M220.5 105.7h0M217.4 81.1h0M220.1 69.2h0M217.2 89.1h0M217.6 74.2h0M218.1 85.3h0M219.1 80.6h0M216.9 78h0M217 100.2h0M218 74.8h0M217.3 77h0M220 96.6h0M215.8 94.4h0M219.3 76.2h0M218.9 63.7h0M217 103.9h0M218.1 86.3h0M219.4 78.9h0M215.6 87h0M216.5 94.5h0M218.9 82h0M216.6 77.2h0M219.4 69.7h0M220.9 84.6h0M218.4 78.8h0M216.6 87h0M217.7 95.3h0M237.2 74.9h0M235.7 120.3h0M235.6 118.1h0M239.6 95.2h0M236.2 109.9h0M236 85h0M237.1 77.7h0M234.6 138.9h0M236.4 104.8h0M237.7 67h0M234.9 139.5h0M235.2 86.2h0M234.8 138.8h0M239.5 64.4h0M236.1 135.3h0M239.5 75.6h0M237.7 104.2h0M238.4 86.5h0M234.8 105.1h0M239.9 119h0M239.9 81.6h0M236.3 132h0M234.6 81.9h0M236.6 77.4h0M240.1 107.5h0M234.7 139.7h0M235.4 105.8h0M240.1 127.4h0M236.3 97h0M238.1 93.6h0M238.1 94.6h0M238.4 66.9h0M237.4 119.8h0M237.7 81.5h0M236.4 103.3h0M236.6 140.9h0M238.6 93.8h0M235.1 93.2h0M239.5 97.1h0M240.1 107h0M235.8 136.4h0M235.2 91.8h0M234.9 121.4h0M234.6 86h0M238.4 97.2h0M237.2 140.1h0M239.5 86.9h0M238.2 78.3h0M238.7 134.1h0M237.2 134.8h0M238.2 85.5h0M235.6 135h0M236.8 102.4h0M235 106.6h0M235 72h0M236.6 83h0M238.5 104.1h0M239.5 78.7h0M238.1 71.7h0M240 115.1h0M235.4 89.2h0M235.8 123.4h0M236.4 110h0M238.4 80.1h0M236.9 104.8h0M236.8 124.6h0M239 72.9h0M236.7 62.3h0M237.1 106.8h0M235 118h0M235.8 100.9h0M235.6 117h0M234.7 128.8h0M237.8 151.4h0M237.9 130.8h0M235.9 99.4h0M239.5 126.3h0M238.5 121.8h0M236.1 129h0M234.5 105.4h0M237.3 78.5h0M236.2 107.8h0M238.5 130.1h0M237.2 114.4h0M234.5 105h0M236.3 101.1h0M238.2 108.9h0M237 93.4h0M236 97.4h0M238.3 119.3h0M238.6 88h0M239.6 110.3h0M240.2 73.1h0M236.9 92.7h0M238.8 86.8h0M240.1 102.6h0M234.9 131.6h0M236.3 105.4h0M236.4 116.4h0M238.5 73.5h0M237.4 117.5h0M237.8 99.9h0M240.2 127.6h0M238.6 84.4h0M259 118.8h0M255.1 105.2h0M255.3 90.3h0M254 77.3h0M257.8 84.8h0M253.9 116.5h0M255.3 64.2h0M256.6 106.7h0M258.7 93.6h0M256.6 90.4h0M256.1 102.3h0M257.8 93.7h0M255.6 133.7h0M257.4 79.9h0M253.9 63.8h0M258.8 94.6h0M256.6 87.5h0M257 87.9h0M258.2 84.4h0M255.1 106.1h0M264.7 101.4h0M263.6 98.9h0M268.7 127.2h0M263.9 102.5h0M267 98.1h0M264.2 82.6h0M264 123.1h0M263 126.5h0M267.4 100.9h0M263.2 82.8h0M263.7 131.2h0M264 87.3h0M264.8 85.7h0M268.5 130.3h0M267.5 71.1h0M263.8 112.2h0M264.9 106.8h0M267.8 86.8h0M268.1 99h0M268.1 126.5h0M263.3 130.1h0M264.6 93.8h0M265.2 117.6h0M266.1 108.5h0M264.8 102.6h0M267.5 148.2h0M265.4 114.5h0M267.3 101.7h0M263.8 73.3h0M263.4 82.7h0M264.5 130.8h0M265.5 96.8h0M265 105.1h0M265.1 103.2h0M264.9 83.7h0M266.7 111.3h0M265.2 141.4h0M267.6 123.6h0M263.6 132.6h0M265.7 89.9h0M264.7 95.8h0M266.6 140.1h0M266.9 102.5h0M263.1 122.5h0M268 75.8h0M263.8 137.5h0M264.1 111.9h0M267.7 152.4h0M265.9 134.5h0M265.8 114.9h0M264.3 90.6h0M265.5 101.1h0M264.8 132.1h0M265.4 98.3h0M265.4 118.9h0M264.9 97.4h0M265.9 72.6h0M268.7 127.6h0M263.6 128.9h0M267.5 120.6h0M266.7 92.8h0M264.3 86.1h0M267 119.3h0M265 88.7h0M264.5 132.3h0M266.1 68.1h0M266.1 87.6h0M267.6 82.3h0M263.9 114.8h0M267.5 94h0M268.2 94.2h0M266.1 92.2h0M264.7 89.2h0M266.4 151.9h0M266.1 113.8h0M266.4 82h0M265.1 109.1h0M263.8 91h0M266.5 86.2h0M266.3 110.5h0M263.7 135.6h0M265.4 93.6h0M267.2 95.6h0M266.3 132.6h0M267.6 115.3h0M272.5 101.4h0M277.8 95.2h0M277.6 92.6h0M276.1 89.1h0M277.1 105.6h0M277.6 87h0M276.3 102.7h0M275.7 82.1h0M277.2 106h0M274.9 83.5h0M274 78.9h0M272.8 82.7h0M276.1 80.1h0M273.8 85.5h0M295.7 63.6h0M293.9 72.1h0M293.9 71.6h0M296.6 71.4h0M295.4 63.9h0M294.5 58.4h0M296.8 74h0M296.8 65.8h0M293 63.2h0M294.4 66.3h0M295.4 66.9h0M295.6 65.2h0M295 84.1h0M296.2 67.8h0M293.2 64.5h0M295.9 82.1h0M296.8 65.4h0M293.6 56.1h0M296.2 48.9h0M293.4 63.8h0M294.2 52.7h0M295.4 75.1h0M297.2 80.4h0M292.2 79.7h0M294 69.4h0M296.6 66.7h0M296.8 73.7h0M294.6 50.9h0M292.9 60.3h0M297 54.2h0M297.1 57h0M292 78.6h0M297 67.8h0M295.2 58.9h0M294.9 65.4h0M294.8 61.6h0M294.8 90.7h0M294.4 69h0M291.8 62.6h0M295.8 67.5h0M293.1 72.2h0M295 72.7h0M295.8 78.2h0M296.3 55.9h0M295.7 64.7h0M297.3 67.5h0M297.2 58.9h0M294.6 58.1h0M295.8 72.2h0M291.7 74.6h0M295.5 83h0M296.6 70.2h0M294.5 67.4h0M292.6 55.6h0M293.5 78h0M293.5 76.9h0M297.1 82.1h0M295.4 70.5h0M296.8 78.1h0M296.5 52.3h0M295.9 62.7h0M291.8 76.2h0M294.9 78.6h0M293.8 62.8h0M296.7 71.6h0M293.3 64.7h0M294.9 45.6h0M295.2 44.9h0M293.6 48.1h0M296.2 59.6h0M292.1 73.4h0M296.8 68.3h0M292.6 62h0M292.4 55.9h0M293.5 58.8h0M292.6 64.9h0M293.6 56.2h0M292.2 70h0M294.7 86.9h0M296.4 70h0M296.3 66.3h0M292.4 76.5h0M294.5 68.7h0M296.1 81h0M296.7 76.4h0M292.9 79.5h0M296.4 67.6h0M296.1 69.1h0M295.2 83.2h0M293.1 52.5h0M296.9 72.9h0M292.3 69h0M295.6 56.6h0M296.2 57.6h0M296.6 59h0M295.7 69.6h0M294.1 80.6h0M293.6 70.1h0M291.7 74.3h0M294.9 58.9h0M294.1 62.9h0M294.7 53.8h0M295.4 65.7h0M297 61.1h0M293 63.9h0M295.1 89h0M293.5 62.9h0M316 69.1h0M313.2 64.1h0M316 57.5h0M310.9 74.7h0M314.5 70.2h0M313.8 68.5h0M316.3 70.9h0M313.6 74.4h0M313.9 82.6h0M311.3 53.3h0M313 70.8h0M312 72.7h0M315.8 54h0M310.7 79.8h0M314.1 56h0M311.9 56.6h0M315.3 72.2h0M315.6 53.1h0M316.2 73.3h0M314.2 82.9h0M312.4 72.5h0M316.4 71.8h0M311.5 73.7h0M312.5 85.6h0M311.8 55h0M313 52h0M314.9 67.4h0M313.6 61.9h0M311.8 55.1h0M314.2 55.8h0M312 68.2h0M316.4 64.7h0M314.1 60.4h0M313.9 72.4h0M315.8 85.1h0M311.7 57.3h0M313.7 60.2h0M316.2 65h0M312.9 63h0M311.1 60h0M316 71.6h0M316.1 57.1h0M314.4 62.4h0M310.7 77.6h0M311.9 65.9h0M316.3 68.8h0M313.4 74h0M311.3 46.6h0M314.2 58.7h0M312.8 85.6h0M313.2 52h0M310.7 72.4h0M311.4 75.6h0M312 73.3h0M314.9 59.2h0M310.7 78.7h0M316 47.6h0M313.6 52h0M332.3 73.3h0M335 74.4h0M334.2 95.3h0M331.6 74.4h0M332.5 76.9h0M333.1 64.1h0M330.9 58h0M330.5 87.9h0M330.1 78.3h0M332.4 82.9h0M330.3 74.8h0M333.5 72.6h0M335.5 85.6h0M334.5 77.6h0M331.8 96.7h0M331.5 83.3h0M334 81.5h0M333.8 74.1h0M329.9 90.1h0M333.4 80.7h0M335.5 94.2h0M334.4 88.5h0M332.4 81.4h0M330.5 83.3h0M333.6 67.9h0M334.4 58.8h0M329.8 62.1h0M334.8 71.2h0M332.7 79.8h0M334.1 93.7h0M333.5 82.1h0M333.9 73.8h0M330.3 69h0M332.9 100h0M332.9 80.2h0M339.6 104h0M344.7 100h0M342.7 111.2h0M342.4 102.5h0M339.5 83h0M341.4 86.7h0M343.9 91.5h0M339.5 104.4h0M340.5 86.1h0M340 102.3h0M344.6 99.2h0M342 85.3h0M340.2 99.9h0M340.3 123.7h0M344.8 102.5h0M341.5 98.7h0M341 106.5h0M341.3 98.7h0M339.3 112.9h0M343.5 100.5h0M344.4 101.2h0M343.3 82.7h0M343.3 96h0M341.7 79.7h0M341.2 75.6h0M343.1 108.3h0M341.5 83.7h0M340.6 98.2h0M342.9 75.2h0M344.5 74.8h0M340.9 98.8h0M344.4 107.4h0M339.4 98.8h0M342.5 83.4h0M339.5 82h0M343.6 105.3h0M343.2 87.7h0M342.2 101.3h0M341.4 102.5h0M341.8 93h0M340.9 91.5h0M340.9 95.7h0M339.6 76.1h0M344.5 103.3h0M340.6 99.5h0M340.4 104h0M340.1 103.6h0M344.5 102.4h0M344 91.4h0M343.3 108.4h0M343.4 99.4h0M341.3 103.8h0M344.7 109.7h0M343.8 96.8h0M342.1 93.4h0M344.7 89.3h0M343.4 92.6h0M340 96.3h0M339.9 70.9h0M341.2 93.5h0M341.4 99.7h0M343.4 88.1h0M344.1 100.2h0M343.2 106.4h0M342.1 100.2h0M340.3 106.9h0M344.8 76.8h0M340.1 97.8h0M341.3 99.7h0M344.3 104.9h0M343.3 73.7h0M339.6 101.1h0M342.7 95.4h0M343.3 99.4h0M341 110h0M340.3 90.5h0M341.6 106.3h0M341.7 103.1h0M340 100.9h0M344.9 118h0M339.5 98.7h0M343.3 96.4h0M341.2 102.3h0M340.2 97.8h0M344.2 97.9h0M340.3 99.2h0M341.1 99h0M341.8 95.2h0M342.2 86.2h0M343.3 94.3h0M342.6 84.4h0M343.9 79.2h0M345 75.3h0M343.1 99.1h0M339.4 105.6h0M342.4 79.1h0M340.9 99h0M341.9 85.1h0M344.3 82.6h0M343.8 95.7h0M344.3 105.4h0M344.4 103.1h0M344 104.4h0M341 85.4h0M349.4 79.9h0M353.4 93.3h0M350.1 73.8h0M352.9 123.3h0M354 101.5h0M351.1 125.4h0M354.2 119.5h0M351.4 89.2h0M351.3 70.6h0M348.8 103.2h0M354.5 69.2h0M351.4 61.5h0M352.3 92.6h0M354.4 82.4h0M351 88h0M353.2 91.1h0M350.6 73h0M353.7 84.5h0M354.4 72.4h0M351.7 103.3h0M348.9 58h0M351.5 103.7h0M352.2 110.1h0M354 76.6h0M351.5 137h0M353 134.5h0M351.4 77.3h0M350.2 111.4h0M350.8 88.9h0M350.9 63.4h0M353.6 109.7h0M351.6 80.3h0M350.2 57.7h0M354.1 121.8h0M349 49.7h0M349.4 75.1h0M354.5 111.5h0M353.1 91.1h0M351.9 120.2h0M350.3 68.6h0M352.7 103.4h0M352.9 101.1h0M351.4 91.2h0M352.3 89.7h0M353.5 91.9h0M349.5 80.5h0M351.5 120.7h0M351.3 95.9h0M350.1 105.5h0M352.5 79.9h0M352 70h0M352.2 104.4h0M350.4 122.3h0M349 99.2h0M354.3 114h0M350.2 98.7h0M349.8 135.8h0M353.2 79.9h0M351.8 82.3h0M352 84.8h0M351.5 103.9h0M354 96h0M351.5 74.8h0M351.1 80.7h0M350 57.2h0M352.5 105.2h0M352.1 89.8h0M353.6 59.9h0M352.3 91.4h0M352.2 44h0M351.3 77.8h0M349.8 93.4h0M348.8 100.9h0M350.4 114.2h0M353.7 88.9h0M371.2 78.9h0M372.2 78.1h0M373 59.2h0M370.8 62.3h0M370.9 90.8h0M370 58.4h0M369.9 64.2h0M370.5 55.7h0M369.2 88.5h0M368.6 63h0M369.7 65.1h0M371.4 60.3h0M372 84.8h0M373.4 55.4h0M373.3 57.6h0M373 70.3h0M371.9 67.8h0M371.5 67.7h0M369.8 75h0M371.4 55.2h0M369.8 55.7h0M371.6 62.3h0M371.6 62.4h0M369.2 59.4h0M371.6 76.6h0M368.2 47.9h0M369.8 89.8h0M369.5 80.3h0M373.2 61.1h0M372.9 63.3h0M368.4 59.7h0M370.2 38.4h0M368.1 69.6h0M369.2 86.8h0M373.1 65.8h0M368.2 85h0M368.5 78.8h0M367.9 68.4h0M369.2 58.8h0M372.5 72.3h0M373.2 65.6h0M371.5 71h0M370.3 79.9h0M371.6 87.2h0M371 74h0M373.5 76.2h0M372.8 48.2h0M371.5 54.4h0M368 65.6h0M370.5 73.8h0M371.7 60.5h0M371.3 77.9h0M372.3 53.5h0M371.5 56.2h0M368.1 78.2h0M371.1 79h0M368.9 50.5h0M371.8 73.5h0M370.3 65.8h0M369.4 65.7h0M370.8 87h0M370 51.5h0M369.1 48.9h0M370.7 55.9h0M373.4 73.4h0M370.6 70h0M371.1 60.6h0M368.8 63.7h0M371.2 58.8h0M370.9 59h0M373.1 60.5h0M370.8 65.8h0M370.7 64.6h0M372.3 63.4h0M372.8 55.5h0M372.7 55.3h0M370.1 47.5h0M371.1 63.2h0M370.6 64.7h0M369.8 61.5h0M369.2 60.4h0M368.6 50h0M373.6 46.6h0M371.1 67.8h0M370.1 74h0M373.2 68.9h0M370.1 87.9h0M373.2 72.8h0M369.4 75h0M373.2 76.4h0M369.5 83h0M370.8 50.5h0M371.7 89.7h0M370.3 76.7h0M370.6 70.1h0M370.6 67.1h0M369.5 70.4h0M372.8 55.6h0M369.2 84.7h0M367.8 72.9h0M369.1 52.3h0M369.4 69.3h0M370.9 62.9h0M387.6 52.6h0M388 106.2h0M390.4 70.5h0M389.8 83.2h0M389.3 95.4h0M392.6 91.3h0M390.9 77.7h0M389.4 71h0M388.1 86.1h0M388.4 95.4h0M391.4 71.7h0M387.3 92.9h0M389 91.9h0M390.2 96h0M392.1 78.3h0M388.7 75.4h0M388.8 63h0M387 77h0M392 63.6h0M392.6 63.3h0M387.9 71.1h0M388.6 75.7h0M391.4 96.5h0M392.3 77.7h0M392.5 84.7h0M392.7 81.7h0M392 71.5h0M391.5 68.4h0M391.3 79.4h0M392.2 60.4h0M392.4 52.6h0M392.5 111.8h0M389.4 96.2h0M390.8 54.2h0M388 114h0M391.6 87h0M388.1 89.6h0M388.9 79.3h0M392.4 92.2h0M391.8 91.1h0M387.3 94h0M388.2 80.5h0M389 82.3h0M388.1 61.4h0M391.7 81.7h0M388.1 80.9h0M388.8 44.4h0M389.9 81.8h0M388.7 79.1h0M388.9 78h0M390.5 73.3h0M390.6 101.2h0M387.5 89.5h0M388.7 63.2h0M387.1 106h0M388.9 99.2h0M387.9 70.3h0M389.7 80.4h0M391.1 85.9h0M391.4 77.6h0M389.1 100.1h0M390.5 69.4h0M391.9 77.6h0M392.5 100.9h0M391.7 87.6h0M390 99.5h0M391.7 66.8h0M387.6 81.5h0M387.6 75.2h0M391.3 81.5h0M388.1 75.3h0M390.3 78.1h0M391.1 70.1h0M389.2 87.1h0M388.2 93h0M389.6 80.1h0M387 74.7h0M389 49.5h0M392.3 76.5h0M392.1 80.7h0M391.4 88.9h0M388.7 80.4h0M391.6 97.2h0M391.1 64.9h0M390.9 87h0M390.1 104.6h0M390.7 85.3h0M389.5 87.7h0M389.3 72.6h0M391.5 71.1h0M388.7 85.6h0M391.6 95.7h0M391.1 91.3h0M389.5 106h0M390.1 77h0M388.5 70.6h0M391 82.5h0M390 91.9h0M387.9 73.3h0M390.3 55.8h0M391.2 61.8h0M408.9 93.3h0M410.4 66.9h0M407.7 81.5h0M406.4 94.8h0M409 75.2h0M407.7 80h0M406 103.9h0M411.6 76.1h0M408.8 63.1h0M411 93.2h0M410.2 104.8h0M406.6 79.9h0M409.4 110.4h0M409.6 93.7h0M409.4 100.2h0M407.6 78.9h0M411.4 91.9h0M410.4 84.3h0M419.4 80.8h0M419.5 64.5h0M415.6 67.8h0M417.3 89.6h0M416.8 73.5h0M420.1 70h0M420.9 73.6h0M418.3 99h0M421.2 76.5h0M416.3 46.8h0M416.3 95.4h0M419.1 106h0M420.6 81.6h0M420.9 103.2h0M417.6 100.1h0M417.3 58.8h0M416.9 88.7h0M418.3 98.3h0M418.9 92.8h0M420.6 81.1h0M418.9 57.4h0M419.6 68.5h0M421 81.8h0M416.7 75.7h0M419.2 77.6h0M416.7 72.7h0M415.6 105.4h0M417.6 96.9h0M418 83.8h0M421.2 97.4h0M416.5 66.5h0M419.3 84.3h0M419.1 95.5h0M421 77.3h0M418.9 76.1h0M420.3 76.3h0M417.6 90.5h0M418.5 81.1h0M419.7 114.7h0M418.9 61.7h0M418.6 113.1h0M415.9 92.8h0M419 89.4h0M417.1 86.5h0M420 91.6h0M419.1 42.4h0M419.5 83.9h0M420.2 83.4h0M419.6 77.3h0M416.3 90.5h0M420.9 81.1h0M417.9 85.5h0M419.9 91.8h0M417.8 44.5h0M417.9 71.3h0M417.3 86.4h0M418.9 60.6h0M418.8 89.5h0M419.7 98.6h0M418.5 69.2h0M420.8 83h0M425.2 91.6h0M430 76.1h0M428.6 67.1h0M427.5 62.2h0M426.1 65.9h0M428.3 64.7h0M428.7 69.1h0M425.9 58.4h0M428.8 59.9h0M430.6 90.1h0M425.5 53h0M427.4 61h0M426.7 56.6h0M426.4 82.9h0M429.9 78.5h0M430.2 72.6h0M430.6 78.4h0M429.6 73.8h0M430.8 54h0M430.1 65.8h0M425.4 73.3h0M426.8 85.9h0M429.7 82.9h0M427.3 63.7h0M428 81.4h0M427 61.5h0M430.8 85.2h0M426.1 92.8h0M429.6 75.4h0M427.4 88h0M425.9 75.2h0M429.5 80.8h0M428.5 78.5h0M426.8 71.7h0M425.3 85.5h0M428.6 97.6h0M446.5 89.8h0M445.1 85.4h0M444.7 86.6h0M444.2 85.7h0M446.1 86.6h0M447.7 86.7h0M445 92.7h0M444.8 80.7h0M446.3 106.5h0M449 78h0M444.6 96.3h0M449.3 85.9h0M447.2 90.7h0M446.2 82.5h0M444.4 103.7h0M448 116h0M449.8 111.7h0M448.4 86.7h0M447.3 109.8h0M449.3 103.4h0M448.8 87.9h0M446 91.3h0M444.9 86.2h0M444.8 83.4h0M444.9 98.7h0M445.8 89h0M448.8 90.4h0M445.6 93h0M445.6 103.7h0M449.1 72.3h0M444.6 97.7h0M448 105.6h0M445.2 112.2h0M444.9 93.5h0M445.6 69.2h0M447.2 78.8h0M466.7 75.9h0M464.7 64.1h0M465.4 58.5h0M467.3 73.5h0M468.1 59h0M464.4 67.3h0M467.8 60.3h0M465.2 61.2h0M468 66.6h0M463.4 70h0M465 62.6h0M466.5 70.3h0M463.2 64.8h0M463.3 71.6h0M467.4 72h0M464.4 68.8h0M463.6 76h0M464.6 76.8h0M464 71.9h0M464.8 50.3h0M467.4 68.5h0M466.4 69.3h0M464.2 74.1h0M464.7 49.9h0M468.2 57.9h0M468.1 68.1h0M463.9 78.2h0M464.3 61.2h0M467.7 64h0M466.8 61.4h0M465.1 77.2h0M464 74.6h0M468.1 62h0M468.6 71.3h0M464.8 67h0M466.3 58.6h0M464.5 56.2h0M466.3 63.1h0M464.7 67.3h0M465.9 60.1h0M468.8 41.7h0M467.6 58.2h0M465.5 75.7h0M464.8 51.5h0M463.5 64.5h0M464.4 70.4h0M468.3 69.6h0M466 77.9h0M468.9 73.8h0M467 82.5h0M468.4 57.6h0M467.4 78.3h0M466.7 46.4h0M464.3 61.2h0M463.4 62h0M466.5 47.3h0M467.7 70h0M468.9 79.9h0M463.9 77.7h0M464 68h0M463.4 71.8h0M467.3 75.7h0M464.5 61.1h0M467.7 75.7h0M467.2 59.3h0M463.3 56.8h0M464.2 66.1h0M467.9 67.9h0M464.6 68.8h0M466.9 63h0M468.3 70.2h0M465.8 77.9h0M466.9 74.9h0M463.2 59h0M466.3 60.7h0M468.8 55.3h0M467.7 73.9h0M466.5 74.1h0M463.8 70.1h0M465.5 74.5h0M469 60h0M468.5 53.2h0M464 52.7h0M468.8 86.1h0M466.1 66.2h0M465.9 65.6h0M465.4 66.3h0M466.4 55.6h0M465.3 54.4h0M464.1 68.5h0M468.8 70.8h0M465.1 61.6h0M468.9 64.9h0M466.4 64.1h0M466 53.5h0M463.8 69.2h0M463.4 61.7h0M463.4 70.6h0M464.5 66.2h0M467.6 80.4h0M483.1 61.6h0M482.4 91.8h0M482.4 93.1h0M487.6 80.8h0M485.2 67.9h0M483.9 80.4h0M483.2 79.3h0M484.1 89.1h0M484.8 81.9h0M484.5 88.5h0M487.7 104.1h0M484.3 89h0M485.5 78h0M488 68h0M487.7 87.2h0M483.1 71.6h0M483.1 69.7h0M487.9 81.2h0M487.9 98.3h0M487 68.1h0M485.2 78.7h0M482.7 71.5h0M483.5 75.2h0M482.4 74.9h0M487.2 92.7h0M482.7 92.5h0M486.3 96.7h0M487.1 51.9h0M484.8 93.5h0M486 76.6h0M484.2 71.5h0M483 85h0M486.5 88.3h0M484.6 69.5h0M503.1 81.5h0M504.1 81.1h0M501.7 84.1h0M504.1 97.9h0M506.3 78.4h0M504.2 61.4h0M506.6 73.1h0M503.3 83h0M507.1 79.8h0M503.8 70.7h0M506.2 86.3h0M504.9 57.5h0M506.7 91.5h0M505.9 84.6h0M506.4 86.4h0M504.2 69.7h0M504.1 113.9h0M506.9 91.2h0M502 75.1h0M501.3 66.7h0M507 74.6h0M504.8 100.6h0M504.7 80.5h0M505.2 82.6h0M505 71.5h0M503.7 97.6h0M505.7 77.9h0M502.5 78.8h0M501.4 85.1h0M504.2 107h0M506.5 70.9h0M503.9 82.6h0M505.7 86.2h0M501.9 77.4h0M505.6 89.4h0M503.7 70.5h0M503.5 78.6h0M506.5 77.4h0M504.4 77.3h0M504.3 79.3h0M502 90.5h0M504.7 96.9h0M506.9 84.1h0M503.2 91.5h0M505.6 77h0M506.2 89.6h0M504.6 62.2h0M503.2 89.2h0M502.4 102.4h0M502.5 72.1h0M501.7 51.8h0M504.4 98.5h0M511 77.6h0M511.6 82.1h0M514.6 95.4h0M515.3 75.8h0M515.1 99.9h0M516.5 92.6h0M516.3 71h0M512.9 81h0M513.2 97.9h0M516.5 62.4h0M515.1 98.8h0M513.4 59.8h0M512.7 72.3h0M512.5 84.1h0M511.8 80.6h0M514.3 81.5h0M513.6 85.8h0M511.7 60.8h0M510.8 72.1h0M515.6 74.2h0M514.5 70.5h0M533.6 81.6h0M530.1 110.3h0M530.9 65.3h0M532.7 89.3h0M533.3 91.3h0M533.5 86.5h0M535.5 94.7h0M534.6 64.2h0M533.1 82.7h0M531.5 96.6h0M534.7 92.5h0M534.9 87.5h0M535.1 84h0M532.8 68.6h0M530.3 59.4h0M534.3 84.3h0M533.4 57.6h0M531.5 111.3h0M532.9 115h0M532.1 83.9h0M533.1 66.9h0M532.5 94.7h0M535.1 67.4h0M533.9 92.9h0M530.9 80.7h0M535.2 85.1h0M535.6 107.9h0M530.6 67.5h0M534.6 87.4h0M530.7 74.4h0M534.2 70h0M535.2 59.1h0M535.1 84.6h0M534.9 77.2h0M533.7 84.9h0M535.5 92.6h0M532.8 87h0M534.4 87.1h0M534.8 86.1h0M530.2 88.8h0M532.4 78.2h0M532.5 83.4h0M535 91.2h0M531 101.4h0M533.7 90.7h0M535.3 75h0M535.4 91.7h0M530.9 67.7h0M531.9 85.1h0M531.4 113.5h0M533.8 51.3h0M534.7 77.8h0M530.1 83.3h0M533.8 52.8h0M530.6 77.7h0M530 80.1h0M530.4 65.5h0M530.8 72h0M529.9 93.7h0M533.9 108h0M535.1 74.9h0M533 94.6h0M531.2 65.1h0M535.1 77.8h0M533 87.9h0M531.7 65.9h0M530.4 80.1h0M530.6 104.4h0M532 91.5h0M532.8 77.6h0M533.2 84h0M533.1 90.6h0M534.5 72h0M533.9 74.1h0M532.1 92.8h0M533.8 93.4h0M535.5 68.2h0M531.8 89.6h0M534.8 77.5h0M532.5 64.5h0M532.8 77h0M534.8 70.1h0M534.1 91.9h0M553.3 75.3h0M550.8 95h0M550.2 85.5h0M549.3 107.6h0M551.7 100.8h0M550.4 114.1h0M552.3 70.1h0M553.6 77h0M554.3 115.6h0M551.6 105.6h0M552.7 101.6h0M552.6 68.1h0M553.7 117.9h0M553.2 75.4h0M549.9 90.5h0M553.5 106.6h0M549.8 150.6h0M550.2 120.3h0M553.3 103.8h0M549.2 100.5h0M551.4 84.9h0M550.8 98.3h0M551.9 100.8h0M551.3 81h0M551.5 65.1h0M550.2 73.4h0M554.3 89.2h0M554.5 89.6h0M552.1 85.5h0M553.4 141h0M560.4 83.9h0M560 78.5h0M559.7 85h0M563.8 71.8h0M559.8 85.6h0M560.5 81.9h0M563.7 91.3h0M561.4 83.3h0M564.2 76.2h0M560.8 87.2h0M559.7 84.8h0M564.2 73.8h0M560.2 74.4h0M562.1 70.2h0M561.3 74.5h0M559.5 69.3h0M564 71.5h0M563 69.3h0M560 68.1h0M559.1 73.8h0M559.6 75.2h0M564.3 77.9h0M560.6 76.7h0M561.6 80h0M562 82h0M561.8 81.2h0M561.6 80.8h0M562.3 82.1h0M559.3 84.9h0M560.8 76.9h0M562.8 68.4h0M563.9 76.9h0M558.7 70.1h0M559.1 94.1h0M561.8 70.4h0M561.8 86.1h0M561.5 70.4h0M564 96.7h0M560.8 83.1h0M561.7 84.8h0M561.4 79.9h0M563.4 81h0M561.4 93h0M559.5 80.8h0M559.3 75.9h0M562.4 73.4h0M563.9 74.2h0M559.2 80.4h0M563.2 83.7h0M560.9 75.6h0M563.9 72.9h0M564.3 74.8h0M564.1 91.8h0M560 86.7h0M561.4 77.1h0M559.7 94.7h0M563.7 75.5h0M561.2 82.4h0M560 81h0M558.9 76.9h0M562.3 79h0M560 82.2h0M558.8 82.8h0M560.9 74.5h0M558.6 67.1h0M560 84.2h0M562.6 83h0M560.1 79.3h0M562.7 88.8h0M563.7 73.7h0M559.5 88.2h0M561.1 74.8h0M558.9 80.9h0M562.1 77h0M563 69.8h0M558.7 85.3h0M559.6 80.9h0M562.7 76.7h0M562.4 83.6h0M561.7 67.5h0M560.2 72.8h0M559.3 81.9h0M558.5 75.2h0M559.1 87.5h0M560.9 65.9h0M562.9 84.8h0M560.9 82h0M563.3 80.9h0M563.1 81.6h0M560.8 75h0M562.5 71.9h0M561.5 74.6h0M558.6 73.6h0M562.6 74.2h0M563.1 76.7h0M560.8 73.5h0M563.8 77.2h0M561.7 75.1h0M562.2 87h0M562.8 80.5h0M559.4 69.1h0M582.9 94h0M582.9 77h0M580.4 81.6h0M578.6 100.1h0M583.3 86.7h0M580 104.8h0M578.2 101.8h0M580.1 92.9h0M579.8 97.3h0M578.1 86.7h0M579.3 96.3h0M578.2 84.2h0M577.6 89.5h0M582.3 82.7h0M582.4 89.3h0M582.8 95.3h0M582.1 92h0M580.5 98.4h0M580.9 99.6h0M579.3 98.9h0M580.5 80.8h0M577.8 95h0M581.5 102.5h0M580.1 92.1h0M587.5 88h0M591.5 84.5h0M589.1 44.9h0M592.3 65h0M589.9 43.9h0M591.7 56.8h0M591.6 67.8h0M590.4 63.3h0M590.3 63.1h0M587.5 62h0M589.2 53.4h0M589.6 45.1h0M591.5 62.8h0M589.5 40h0M589.9 80.6h0M590.8 93.4h0M590.5 75.4h0M587.2 89.2h0M587.4 63.4h0M590.4 61.5h0M589.8 94.5h0M592.8 42.6h0M590.3 57.9h0M589.2 54.7h0M591 61h0M588.5 41.6h0M592.4 75.4h0M588.6 58.7h0M592.7 81.9h0M589.4 52.9h0M587.3 63.6h0M590.1 83.6h0M591.7 80.7h0M592.7 100.1h0M590.9 93.5h0M588.8 73.1h0M588.6 57.5h0M589.7 76.8h0M590.9 59.6h0M590.6 52.1h0M592 76.3h0M588.5 57h0M588.3 86.2h0M591.7 61.6h0M590.9 57.7h0M589.7 57.4h0M591.6 63.6h0M587.5 47.8h0M590.2 87.9h0M589.5 70.9h0M590.9 39.1h0M590.6 67.8h0M590.9 67.4h0M588 45h0M592.7 57.9h0M589.4 85.4h0M590.8 62.6h0M588.6 54.7h0M591.6 56.8h0M588.3 65.1h0M590.2 44.4h0M588.3 61.1h0M588.1 115.8h0M590.9 74.8h0M591.7 68.8h0M592.5 96.5h0M590.2 51.6h0M589.1 32.2h0M592.6 54.6h0M588.8 86.4h0M591.8 89.3h0M587.7 62.4h0M587.2 63.1h0M587.5 86.2h0M589.6 72.3h0M589.4 58.3h0M589 71.1h0M591.4 82.2h0M589.7 57.6h0M591.7 66.9h0M587.2 58.8h0M591.6 52h0M589.4 89.4h0M591.9 53h0M590.1 53h0M590.6 79.8h0M591.8 92.1h0M588.9 82.8h0M587.9 77.1h0M587.6 44.2h0M592 45.4h0M592.4 101.1h0M588.5 57.4h0M592.6 66.6h0M587.9 70.1h0M592.2 64h0M588.9 55h0M588.4 69.2h0M591.2 30.2h0M589.7 67.7h0M590 56.1h0M591.6 72.7h0M588.5 48.6h0M592.5 61.1h0M589 50.1h0M592 87.2h0M590.5 57.5h0M592.6 35.4h0M592.4 84.8h0M607 79.7h0M609.9 76h0M608 101.3h0M611.9 93.6h0M607.7 81.9h0M608 84.5h0M609.4 83.2h0M606.6 72.2h0M607.7 88.5h0M606.3 108.5h0M611.5 96.8h0M607.1 85.2h0M616.2 66h0M619.2 48.5h0M618.5 66.3h0M618.8 23h0M616.4 88h0M619.7 90.8h0M615.9 52.9h0M619.3 66.5h0M617.6 77.7h0M619 52.7h0M621.2 69h0M616 81.6h0M617.8 72.4h0M616 53.8h0M620.6 85.7h0M617.2 62.1h0" stroke="#EA3418" stroke-opacity="0.43" stroke-width="2.5" stroke-linecap="round" fill="none"/>
<path d="M44.1 79.7h0M44.4 109.7h0M45.4 86.2h0M44.1 90.5h0M47.8 82.7h0M44.6 106.8h0M47.2 94.4h0M48.5 113.1h0M48.2 80.6h0M45.3 76h0M46.5 78.2h0M47.6 105.6h0M47.4 78.4h0M43.9 76.9h0M49.5 81.2h0M46.8 58.1h0M54.8 73.1h0M59 79.6h0M54.8 76.6h0M54.6 95.7h0M58.5 68.7h0M55.5 63.7h0M58.9 70.9h0M58.7 95.6h0M54 91.4h0M56.3 72h0M55.1 94.2h0M56.2 76.5h0M56 114.8h0M54 108.4h0M57.1 74.9h0M58.1 78.4h0M53.4 111.3h0M54.8 144.3h0M56.6 67.7h0M57.9 72.6h0M56.3 91.3h0M54.9 76.8h0M58.7 83h0M59 77.6h0M54.7 65h0M55.9 77.8h0M53.3 97.3h0M55.6 89.7h0M55.5 99.2h0M56.9 81.4h0M57.2 128.3h0M56.9 70.4h0M57.5 94.3h0M55.5 147h0M56.5 90.9h0M55.9 105.6h0M55.9 71.2h0M54 74.1h0M55.9 70.4h0M53.9 89.8h0M54.8 104.3h0M54.4 76.8h0M57.5 91.4h0M55.2 94.9h0M54.5 85.1h0M53.8 87.2h0M55.4 111.9h0M54.5 90.7h0M58.4 64.1h0M54.7 126.7h0M53.5 115.6h0M57.3 80.8h0M58.8 97.5h0M53.4 98.1h0M57.2 101.6h0M54.6 93.5h0M54.1 116h0M58.4 83.9h0M55.4 85.1h0M58 85.9h0M58.5 96.7h0M58.5 91.6h0M53.3 107.9h0M54.7 74.1h0M56.8 128.9h0M56.5 86h0M57.4 86.3h0M55 66.6h0M56.6 80.4h0M58 74.7h0M58.6 47.9h0M55.4 100.8h0M57.2 87.7h0M53.8 118.5h0M55.3 95.3h0M58 75.6h0M53.8 99.6h0M58.9 127.8h0M58.5 77.4h0M55.6 85.3h0M57.6 93.7h0M57.1 109.2h0M73.9 75.1h0M73.3 58.5h0M74.4 55.8h0M78.1 63.9h0M73.8 71.4h0M75.3 77.9h0M74.4 66.9h0M72.9 66.8h0M74.3 65.7h0M72.7 75.4h0M76 49h0M76.6 40.2h0M76.7 63.2h0M77.9 69h0M74.2 99.9h0M76.4 92.7h0M77.6 48.2h0M76.4 73.9h0M77.4 93.1h0M76 84h0M73.8 53.8h0M74.8 53h0M73.3 71.6h0M74.3 60.6h0M76 82.3h0M77.5 62.5h0M75 47.2h0M73.3 78.9h0M74.1 73.7h0M78 71.3h0M74.8 69.6h0M76 72.7h0M76.7 75h0M74.1 76.6h0M75 74.6h0M72.5 104h0M76.5 56.3h0M73 85.2h0M76.4 65.9h0M73.1 74.4h0M76 31.6h0M74.5 60.6h0M75.1 56.9h0M73.1 46.9h0M73.1 75.7h0M76.2 85.6h0M77.4 71.4h0M75.4 83.1h0M74.7 89.6h0M75.3 85.8h0M75.1 43.6h0M75.2 60.5h0M75.7 56.5h0M77.7 58.1h0M75.8 79.9h0M76.1 62.4h0M74.8 53.3h0M72.4 53.9h0M73.5 63.7h0M76.5 65.3h0M72.8 93.2h0M77.1 47h0M75.7 66.7h0M77.8 85.1h0M75.8 91.6h0M77 90.4h0M77.2 93.2h0M75.5 70.4h0M73.5 79.9h0M77.5 92.6h0M75.6 47.5h0M75.8 65.2h0M73.8 78.8h0M72.8 64.4h0M74.6 69.8h0M77.9 74.7h0M72.6 84.1h0M75.7 72.2h0M73.1 66.1h0M73.1 47.5h0M75.1 63.4h0M73.2 68.5h0M78 39.7h0M78.1 94.7h0M72.4 78.3h0M75.6 58.8h0M75.2 64.3h0M76.5 68.6h0M75.1 67h0M74.9 50.2h0M76.7 47.3h0M73.4 57.4h0M75.8 75.6h0M73.9 83.2h0M73.3 52.6h0M73.7 65h0M75.3 91.4h0M72.4 81.9h0M72.5 93.5h0M77.8 81.5h0M75 71.6h0M77.2 52.2h0M75 62.8h0M75.5 60.4h0M74.9 62.7h0M74.4 60h0M75.1 89.5h0M75.6 102.1h0M74 62.5h0M73.2 62.3h0M73.5 88.8h0M75.3 114.5h0M75.4 39.8h0M78.1 84.9h0M73 70.5h0M73.4 83.2h0M76.9 70.1h0M73.9 84.4h0M72.9 61.5h0M76.5 65.5h0M74.6 73.3h0M74.1 42.3h0M74.6 66.1h0M78 72.6h0M77.1 64.2h0M72.9 54.9h0M76.5 74.7h0M77.5 70h0M75.5 72.1h0M74.2 55.1h0M73.6 62.2h0M72.5 59.5h0M74.4 76.9h0M74.1 62.2h0M73.8 82.1h0M72.6 55.5h0M74.6 72.9h0M76 68.9h0M72.6 70.2h0M74.7 54.9h0M74.9 56.8h0M73.3 89.1h0M73.5 59.5h0M72.7 72.5h0M75.2 69.3h0M73.7 73.1h0M77.7 48.8h0M74.5 78.8h0M77.8 86.4h0M72.8 100.9h0M74.8 89.7h0M74 60.2h0M77.6 53.2h0M77.8 72.3h0M74.9 65.5h0M77.5 60.5h0M75.5 69.1h0M75.5 92.4h0M73.3 51.4h0M73.6 48.5h0M77.4 79.7h0M76.5 69.8h0M73.8 46.4h0M74 60.1h0M72.4 90.1h0M75.1 72.9h0M77.5 61.4h0M74.3 48.8h0M75.2 76.7h0M76 50.4h0M76.7 74.9h0M75.1 85.2h0M74.9 65.8h0M77.7 55.4h0M77.4 48.3h0M74.6 69.8h0M72.8 102h0M74.2 58.6h0M76 62h0M75.9 62.4h0M74.8 73h0M76.8 72.7h0M72.4 71.8h0M72.7 59.7h0M77.7 60.1h0M74.2 62.3h0M75.6 51h0M76.7 66h0M73.9 43.9h0M75.7 79.4h0M78.1 73.7h0M76.3 60.2h0M76.9 67.5h0M73 78.5h0M73 48.8h0M73.9 68.3h0M76.1 65.6h0M74.6 99.1h0M75.9 86.6h0M76.1 71.2h0M78.1 80.1h0M76 72.4h0M75.1 63.4h0M75 55h0M73 49.2h0M76.3 103.9h0M73.7 78.9h0M74.2 69.3h0M75.9 53.1h0M74.6 62.3h0M72.7 52.3h0M77.2 81.9h0M76.6 69h0M72.9 44.4h0M76.3 82.3h0M73.9 25.4h0M74.1 68.1h0M75.7 82.5h0M74.7 63.3h0M97 76.6h0M96.7 80.9h0M95.2 88.4h0M92 83.4h0M91.9 91.7h0M96.2 67.7h0M96.9 95.7h0M96.9 84h0M96.6 104.8h0M93.6 66.4h0M94 90.5h0M96.6 76.4h0M94.5 82.9h0M95.4 56.6h0M95.7 77.3h0M93.2 90.6h0M92.6 72h0M94.1 75.7h0M95.9 90.7h0M94.6 72.3h0M95.9 96.9h0M96.4 95h0M95.3 108.8h0M95.3 107.5h0M95.5 67.4h0M91.9 73.2h0M92.2 62h0M92.7 76.7h0M91.6 76.9h0M93.7 98.8h0M94.2 77.9h0M93 75.4h0M97 102.3h0M96.4 79.8h0M93.4 74.6h0M97.1 61.7h0M91.5 80.9h0M96.3 96.4h0M106.1 80.1h0M102.3 74.5h0M103.5 89.8h0M104.7 94.8h0M105.5 74.5h0M101.2 79.8h0M105.3 74.9h0M105.5 62.8h0M101.4 95.9h0M105.6 79.2h0M105.2 79.8h0M106.6 83.7h0M104.7 91.4h0M105.8 79.5h0M101.5 83.1h0M102.5 112.5h0M105.5 72h0M112.3 46.1h0M115.9 65.2h0M114.6 53.7h0M111.9 80.4h0M112.2 75.9h0M114.4 53.9h0M115.9 62.8h0M112.1 77.7h0M116.1 59.1h0M116 60.1h0M112.1 61.9h0M113.2 55.2h0M111 78.9h0M113.2 59.4h0M115.9 58.8h0M113.1 57.9h0M111.5 49.8h0M113.3 75.7h0M111.8 56.5h0M114.8 59.9h0M113.3 88.7h0M116 62.1h0M111.9 47.3h0M111.2 43.2h0M114.3 81.4h0M110.5 54.5h0M111.1 69.6h0M115.7 63.8h0M114.1 46.2h0M111.5 77.6h0M114.7 55.7h0M111.2 53.8h0M113.2 68.4h0M114.1 82.8h0M113.9 49.2h0M114.5 61.7h0M112.4 56.1h0M111 60.6h0M110.7 49.6h0M113.8 81h0M113.8 57.5h0M114.6 65.7h0M111.4 66.6h0M114.6 71.2h0M111.1 69.2h0M112.7 67.2h0M115.8 70.4h0M115.7 59.2h0M111 52.8h0M113.5 59.5h0M112 56.8h0M114.6 67.6h0M116.2 62.5h0M115.2 56.2h0M112 50.5h0M114.1 38.6h0M114.3 58.9h0M115.4 71.2h0M112.4 73.7h0M110.6 57.1h0M112.2 53.4h0M111.1 41.7h0M116 68.9h0M111 55h0M113 37h0M113.6 46.7h0M114.9 50.5h0M116 62.5h0M112.9 62.6h0M111.9 79.9h0M112 66.2h0M114.4 60h0M114 56.2h0M113.2 50.4h0M114.5 60h0M115.5 72.3h0M113.7 70.5h0M114.4 77.7h0M113.2 52.7h0M112.4 68.8h0M112.4 70.7h0M111.8 54.9h0M113 41.3h0M116.1 75.3h0M114.3 55.9h0M116.2 54.2h0M113 63.3h0M115.4 52.8h0M110.5 59.2h0M115.8 47.2h0M112.3 45.6h0M110.9 61.5h0M115 57.9h0M114.2 70.5h0M112.9 26.5h0M111.1 46.7h0M111.9 69.1h0M113.2 63.9h0M112.4 57.1h0M114 66.1h0M114.8 56.5h0M112.8 48.2h0M115.6 67.6h0M112.3 64.3h0M114.1 79.5h0M116.1 35h0M116.2 72.2h0M110.5 63.9h0M112 41.9h0M116.1 66h0M114.2 47h0M111.3 56.1h0M112.9 58.4h0M122.2 52.8h0M123.5 60.9h0M121.4 67.9h0M123.7 46.9h0M122.9 52.3h0M120.5 72.5h0M122.5 52.2h0M122.9 58.7h0M124 53.6h0M124.2 48.8h0M120.5 67.4h0M120.2 66h0M125.5 46.7h0M121.3 54.1h0M124.5 62.9h0M124.7 52.4h0M121.3 66.4h0M120.2 60.8h0M122.8 59.3h0M122.4 87.1h0M122.5 48.8h0M121.5 60.5h0M120.1 71.5h0M123.3 70.7h0M122.1 70.6h0M120.2 47.8h0M124.5 58.9h0M122.7 59.7h0M124.1 59h0M121.9 39h0M121.9 77h0M123.8 60.9h0M125.6 56.3h0M121.5 48.5h0M120.8 83.7h0M124.8 69.6h0M125.4 68.1h0M125.1 79.6h0M120.4 53.6h0M125 36h0M123.2 40h0M125.5 79.7h0M122.9 53.2h0M124.2 58.3h0M130.4 105.3h0M133.2 75.2h0M134.3 88.8h0M132 104.3h0M134.5 89.9h0M129.6 124.9h0M131.3 92.4h0M132.7 93.2h0M130 80.4h0M131.4 88.8h0M134.9 81.2h0M130.5 77.6h0M132.7 82.6h0M130.3 76.1h0M132.1 112.1h0M130.2 121.8h0M132.4 79.5h0M133.3 71h0M130.7 83.2h0M131.9 87.3h0M130.1 95.8h0M130 87.8h0M129.8 73.6h0M133.7 97.9h0M133.2 97.4h0M134.7 102.8h0M130.7 50.4h0M132.2 98.4h0M130.6 112.3h0M130.6 109.7h0M133.7 101h0M134.4 77h0M133.7 80.9h0M129.6 106.1h0M133.6 84.6h0M129.6 60.1h0M131.8 67.5h0M134.9 104.5h0M134 111.1h0M130.3 105.3h0M130.5 76.7h0M134 120.4h0M133 106.9h0M134.4 105h0M131.7 94h0M133.9 46.4h0M132.9 124.5h0M135.3 65.9h0M132.6 104.2h0M130.9 109.3h0M134 64.2h0M129.6 81.8h0M129.9 73.2h0M134.3 99.7h0M130.1 89h0M133.5 100.3h0M130.9 57.7h0M134.2 86.1h0M133.4 73.5h0M133.7 87.4h0M130.8 72.7h0M151.5 56.9h0M152.3 75.9h0M153.9 51.4h0M148.7 79.9h0M152.8 65.1h0M149.2 77.1h0M152 50.2h0M170.5 81.5h0M171.8 68.9h0M171.5 77.5h0M171.8 59.1h0M172.4 56.6h0M168.9 73.3h0M167.6 82.7h0M171.9 89.9h0M171.9 89.8h0M172 64.7h0M168.8 73.7h0M169.8 73.1h0M171.8 59.5h0M173 78.8h0M171.5 84h0M170.7 69.2h0M170.4 68.1h0M168.3 101.1h0M171.8 76.1h0M169.4 95.5h0M173.1 85.6h0M169.2 92.3h0M168.5 75.3h0M168.2 31.6h0M170.6 74h0M170.6 96.7h0M167.8 68.4h0M171.1 70.1h0M168.3 75.5h0M170.5 83.3h0M169.9 67.7h0M169 84h0M172.5 70.6h0M168.3 57.6h0M172.3 66.8h0M171.9 74.6h0M171.8 65.7h0M167.8 81.5h0M171 82.8h0M169.6 68.5h0M173 99.4h0M170.3 86.1h0M170.2 74.9h0M172.2 76.7h0M170.7 72.5h0M172.6 64.6h0M173.3 69.5h0M170.2 79.1h0M168.3 75.2h0M167.8 50.7h0M168.3 49.9h0M169.9 79.6h0M173 47.8h0M170.8 79.9h0M171.7 68h0M172.8 93.8h0M172.8 78.4h0M170 88.3h0M171.7 89.3h0M172.9 65.7h0M171.9 91.8h0M167.7 103.6h0M169.8 56.9h0M172.9 79.1h0M171.9 45.2h0M168.9 65.7h0M169.4 87.9h0M172.6 80.2h0M168.3 53.3h0M168.7 79.4h0M168.2 107.7h0M171 84.9h0M169.1 73.1h0M168.5 78.2h0M169.2 79.7h0M167.8 66.5h0M170.1 62.2h0M172 74.1h0M168.1 91.8h0M171.7 67.7h0M172 66.1h0M168.7 84.1h0M171.9 66.5h0M173.4 71.2h0M168.1 82h0M171.2 62.7h0M167.9 50.1h0M173 107.4h0M169.5 89.8h0M167.7 54.8h0M168.2 80.4h0M172.1 61.1h0M188.6 76.7h0M191.9 80.8h0M190.3 103.1h0M187.9 81.6h0M187.3 85h0M191.1 101.6h0M188 90h0M188.1 90.1h0M189.8 68.8h0M188 83.3h0M202 99.1h0M199 87.5h0M198.5 110.8h0M199.1 82.1h0M201.8 110.6h0M196.6 96.8h0M199.1 89.8h0M200.8 79.5h0M196.5 82.4h0M197.8 89.8h0M197.6 86h0M198 74.9h0M197 93h0M197.3 87.2h0M197.6 87h0M199.2 74.6h0M197.8 88.2h0M202 117.2h0M197.8 55.2h0M199.8 99.8h0M199.4 91.9h0M199.6 103.5h0M199.7 105.2h0M200.7 92.9h0M201.2 94.1h0M199.6 73.7h0M199.2 78.3h0M199.2 84.5h0M198.9 95.9h0M201.6 94.3h0M196.3 77.5h0M198.2 80.7h0M201.7 80.1h0M198.1 99.9h0M196.6 114.4h0M200.8 83.6h0M201.2 83.6h0M220.4 77.9h0M216.6 91.7h0M217.4 71.4h0M215.7 72.1h0M217.2 86.7h0M216.4 78.4h0M219.5 76.9h0M217 72.2h0M220.3 86.2h0M218.2 79.4h0M216.2 85.1h0M216.1 76.8h0M217.8 66.2h0M219.1 100h0M220.6 69.8h0M218.8 88.3h0M219.8 73h0M220.9 84.5h0M217.8 91.8h0M218.7 93.5h0M216.5 103.9h0M218.2 82h0M217.3 73.4h0M215.5 91.7h0M218.3 68.7h0M217.7 94.1h0M219.3 75.1h0M220.1 74.5h0M220.4 99h0M219.2 72.1h0M219.3 86h0M236.3 94.9h0M237.2 90.4h0M235.3 91h0M237 88.6h0M239.6 103.2h0M237.1 95.1h0M235.3 134.6h0M239.9 69.4h0M236.4 84.7h0M236.2 115.6h0M239.3 120.7h0M234.5 113.8h0M237.3 97.9h0M237.6 103.8h0M239.6 101.4h0M235.8 71.3h0M236.7 105.3h0M237.3 130.5h0M234.6 103.5h0M237.5 88h0M238.5 108.5h0M235.1 118.8h0M239.5 113.5h0M240 103.7h0M238.6 115.3h0M237.9 119.6h0M235 88.1h0M235.8 104.9h0M234.9 94.6h0M234.8 114.9h0M235.2 99.9h0M239.5 107.9h0M235.6 105.9h0M238.4 127.9h0M237.2 86.7h0M239.5 142.9h0M238.8 70.7h0M238.2 83.9h0M238.4 106.9h0M235.2 83.8h0M234.8 80.2h0M236.6 104.6h0M238.8 106.6h0M237.1 78.4h0M239.6 68h0M234.6 105.9h0M235.1 143.6h0M236.4 109.6h0M237.7 62.2h0M239.6 99.3h0M239.4 93.8h0M236.8 94.5h0M234.5 102.5h0M234.9 112.3h0M237.5 111.7h0M236.8 111.1h0M235.5 123.9h0M239.9 65.3h0M238.9 95.4h0M239.9 103h0M239.6 95.6h0M239.2 119.9h0M237.4 59h0M237.6 116.9h0M235.7 79.4h0M234.4 114.9h0M239.3 128.3h0M237.3 116.3h0M235.9 92.4h0M238.3 69.8h0M235.1 104.9h0M238 102.6h0M237.2 149.5h0M236.3 70.3h0M238.7 148.3h0M238 105.7h0M236.1 77.9h0M239.3 118.4h0M234.7 107.1h0M235.7 127.7h0M237.5 91.1h0M240 74.3h0M236.4 109.2h0M236 94.7h0M236.6 125h0M237.2 110.3h0M237.2 108.7h0M237.3 123.7h0M236.5 110.1h0M239.5 97.2h0M236.8 114.8h0M234.8 114.5h0M238 101.7h0M238.6 120.1h0M239.7 113.9h0M236.2 101.8h0M237.1 87.4h0M238.9 138.3h0M234.6 129.9h0M238.7 102.7h0M237 119.1h0M237.6 123.8h0M239.6 102.6h0M239.2 104h0M255.4 80.2h0M254.1 124.6h0M258.6 80.2h0M258.3 102.9h0M255 124.6h0M254.1 126.8h0M256.6 96.6h0M258.1 95.1h0M253.8 121.9h0M253.5 114.9h0M254.4 86.9h0M254.3 137h0M254.9 94.8h0M255.6 101h0M258 83.1h0M257.7 115.3h0M254.1 88.8h0M255.3 73.2h0M254.2 119.8h0M258.9 117.2h0M266.3 83.6h0M266.7 80.8h0M263.4 84h0M268.2 136.9h0M267.1 90h0M268.4 88.4h0M266.6 144.8h0M263.6 105h0M263.4 98.6h0M263.8 103.3h0M264.9 113.2h0M268.7 120.9h0M267.4 91.1h0M267.7 102.2h0M265.1 110.9h0M263.2 96.8h0M263.1 111.6h0M265.3 63.5h0M266.9 111.4h0M268.4 100.4h0M263 93.9h0M264.3 119.2h0M266.2 109.9h0M268.1 129.3h0M267 125.1h0M264.9 85.8h0M263.4 150.8h0M267.7 147.5h0M266.3 92.5h0M264.3 95.7h0M265 117h0M263.2 127.5h0M266.2 83.9h0M266.9 93h0M266.2 111.4h0M267.4 114.3h0M266.9 70.5h0M263.1 117h0M265.7 73.5h0M266.3 99h0M267.7 102.1h0M266.5 125.5h0M263 91.5h0M267.1 107.2h0M265.2 93.1h0M268.2 97.9h0M267 108.9h0M266.8 118.1h0M265.2 150.9h0M265.8 99.5h0M265.3 105.8h0M267.3 100h0M264 86.9h0M264.7 145.7h0M267.8 84.1h0M266 76.5h0M268.6 95.1h0M267.3 103.2h0M266.3 114.8h0M266 73.8h0M265.3 98.2h0M268.6 109.1h0M267.4 117.3h0M265.8 98.8h0M265.7 89.6h0M268 92.8h0M265.1 86.5h0M265.6 101.8h0M267.4 94h0M267 68.2h0M267.8 116.2h0M264.5 117.6h0M263.6 88.2h0M266.3 99.8h0M266.4 98.5h0M265.5 93.8h0M266.1 86.7h0M266 126.1h0M263.2 93.7h0M264.6 79.7h0M266.2 119.7h0M267.8 97.2h0M268.5 90.6h0M268.3 86.2h0M273.2 94.2h0M274.2 81.6h0M274.6 81.5h0M277.4 99.8h0M273.5 92.7h0M276 78.1h0M276.7 94.2h0M274.2 83.9h0M275.5 80.6h0M276.9 95.6h0M276.8 79.3h0M276.4 103.9h0M277.7 87.5h0M292.3 75h0M296.7 84.6h0M296.9 69.7h0M295.4 87.5h0M296.6 70.9h0M293.4 70.7h0M296.2 88.5h0M297.4 63.1h0M295.4 72.8h0M296.4 74.1h0M294.6 80.2h0M296.3 86.7h0M293.5 54.2h0M295.1 74h0M296.3 73.8h0M293.8 87.4h0M296 70.3h0M296.8 70h0M292.9 65h0M292.2 53.1h0M292.5 73.3h0M296.1 73.1h0M294.7 59.5h0M294.3 62.6h0M291.6 60.8h0M293.2 50.3h0M296.3 67.8h0M294.2 57.3h0M292.7 70.1h0M296.4 47.6h0M297.3 62.8h0M295.3 67.4h0M294.2 68.8h0M292.4 63.7h0M294.6 72.1h0M292.7 70.7h0M294.5 72.5h0M293.4 52.1h0M297.2 61.4h0M295.5 85.7h0M295.2 55h0M293.9 62.7h0M292.9 58.2h0M293.3 49.4h0M295.5 67h0M297.3 56.3h0M295.6 82.3h0M292.6 74.7h0M293.5 84.8h0M296 77.1h0M297.3 62.1h0M294.1 70h0M296.4 57.6h0M293.2 66.7h0M292 61.3h0M291.9 81.4h0M292.4 68.7h0M292.2 62.2h0M295.1 73.7h0M293.8 65.1h0M294 67.5h0M292.9 62.7h0M295.1 83.8h0M294.9 74.4h0M296.4 56.3h0M293 68.4h0M292 70.1h0M296.9 63.3h0M291.9 54.9h0M295.8 68.1h0M293.4 68.4h0M296.3 65.2h0M295.3 57.4h0M296.1 62h0M295.2 59.3h0M292.8 72.4h0M296.2 73.9h0M295.4 65.6h0M292.1 63.7h0M292.7 47.1h0M292 54.7h0M292.2 69.2h0M294 67.9h0M297.4 49.2h0M292.6 70.7h0M296.7 64.1h0M294.3 73.6h0M296.1 62.9h0M296.5 65.8h0M293 85.2h0M292.8 66.9h0M294.6 74.6h0M292.7 75.4h0M292.3 68.7h0M294.1 56.8h0M297.1 79.8h0M292.7 89h0M294.5 66.8h0M296.5 55.6h0M295.7 58.6h0M292.4 57.6h0M297.3 51.7h0M295.3 69.2h0M292.7 53.6h0M292.6 68.5h0M293.3 64.8h0M292.7 56.8h0M312.7 46.5h0M315.6 43h0M315.5 55.4h0M314.7 104.5h0M311.5 59.6h0M311.6 61.9h0M312.6 47.1h0M316.4 65.3h0M316.2 73.7h0M311.4 49.5h0M310.7 73.1h0M316.4 61.4h0M313.3 58.1h0M311.5 62.2h0M314.8 62.7h0M315.4 82.2h0M310.7 58.7h0M312.2 71.9h0M314.5 58.5h0M315.7 73.7h0M312.9 48.6h0M311.2 63.9h0M311.8 66.9h0M311.8 68.3h0M315.9 36h0M315.5 79.4h0M313.6 66.6h0M315.9 51.3h0M316.1 72.4h0M312.7 56.8h0M312.9 77.3h0M316.1 89.6h0M311.5 71h0M315.1 73h0M312.4 81.8h0M314 72.7h0M313.2 73.4h0M313.7 62.6h0M313.5 50.5h0M312.4 52.5h0M314.6 56.3h0M315.2 58.9h0M314.2 49.2h0M311.9 62.6h0M315.6 58.8h0M314.4 88.9h0M312.5 68.4h0M314 85.3h0M313.9 72h0M313.9 60.3h0M314.3 73.4h0M312.7 77h0M313.3 55.5h0M316.4 70.7h0M316.3 69.4h0M314 60.9h0M312.2 76.7h0M311.6 64.7h0M334 53.9h0M334.2 95.8h0M332.3 78.4h0M330.4 91.4h0M331.3 79.4h0M335.5 71.3h0M330.7 88.5h0M334 67.5h0M332.8 72.1h0M335.1 73.1h0M330 80.1h0M332.8 78h0M331 78.8h0M333.8 83.5h0M331 69.7h0M332.9 61.6h0M335.1 70.2h0M333.1 86.7h0M334.1 83.4h0M333.4 67.9h0M332.8 77.2h0M335 79.3h0M334.8 60.6h0M333.5 69.4h0M331.8 89.6h0M334.5 100.4h0M334.3 69.9h0M334 91.5h0M330.1 91h0M330.6 68h0M333.6 71.1h0M335 76h0M333.5 80.8h0M330.4 114h0M331.1 57.5h0M345 102.1h0M340.9 95.6h0M340.8 107.3h0M342.6 94.1h0M340.4 91.8h0M344.4 94.1h0M339.6 90.2h0M342.6 115.8h0M343.1 111.5h0M344.2 99.4h0M343.9 90.7h0M340.3 107.8h0M341 97.7h0M342.4 107.7h0M340.7 108.2h0M342.4 82.8h0M339.5 86.8h0M343.9 101.8h0M340.4 96.7h0M339.5 100h0M344.6 101.6h0M343.8 119h0M344.5 87.3h0M341.1 100.1h0M344.7 96.5h0M340.4 100.6h0M340.9 88.8h0M340.6 95.5h0M340.8 91.9h0M342 82.3h0M344.2 93.7h0M344.8 95.9h0M342.6 102.5h0M343 82.9h0M340.7 83.9h0M341.7 93.9h0M343.1 115.9h0M343.5 78h0M341.6 98.4h0M341.3 86.5h0M342.5 101.4h0M340.1 93.5h0M341.6 80.4h0M340.5 103.4h0M340.6 97.3h0M342.7 83.9h0M340.5 100.8h0M344.9 75.4h0M341.2 109.6h0M341.1 92.9h0M344.7 80.8h0M340.9 94.8h0M343.5 79.4h0M341.7 102.1h0M344.4 83.1h0M344.8 102h0M343.7 72.7h0M340.1 106.7h0M342.6 104.2h0M340 90.6h0M344.2 95.6h0M344 90.3h0M344.1 102.7h0M339.7 88.1h0M340.3 81.3h0M339.8 94.5h0M341 91.4h0M344.9 105h0M344.6 101h0M343.4 110.6h0M343.6 90.7h0M343.1 88.9h0M340.6 76.5h0M341.6 99.1h0M339.4 59.6h0M339.4 108.9h0M342.2 87.7h0M340.9 84.4h0M342.6 103.5h0M341.9 99.1h0M343.4 96.2h0M344.3 77.6h0M341 103.5h0M342.3 86.1h0M341.1 105.3h0M342 106.2h0M341 102h0M343.1 80.1h0M339.8 82.8h0M344.3 101.9h0M343.2 88.1h0M341.6 101.5h0M339.4 91.7h0M339.2 94.2h0M344.5 85h0M340.4 88.5h0M341.5 88.2h0M341.9 100.6h0M343 100.3h0M341.9 86.9h0M341 98.7h0M344.7 88.3h0M342.6 114.2h0M352.4 49.1h0M353 74.7h0M352.1 124.8h0M349.9 91.3h0M353.7 67.8h0M351.1 85.1h0M350.6 99.9h0M349.3 69.6h0M348.9 91.9h0M351.8 109h0M353 99.7h0M354.4 77h0M354.2 75.5h0M351.5 77.8h0M352.9 94.4h0M354.1 106.5h0M349.1 95.9h0M354.4 94.2h0M353.9 72.5h0M349.8 97h0M353.4 67.5h0M350.1 92.5h0M352 78h0M353.7 74h0M350.9 63.5h0M354.2 107.9h0M350.2 75.7h0M352.9 101.4h0M349.4 94.2h0M351.8 118.3h0M351.9 88.9h0M349.7 82.2h0M349.7 59h0M349.3 127h0M350.2 82.4h0M349.9 87.6h0M351.1 93.1h0M352.9 111.8h0M352.6 67.6h0M349.7 85.4h0M353.5 105.9h0M351.9 69h0M349.5 80.9h0M353.7 94.6h0M354.2 108.2h0M354.5 78.7h0M353.4 107.3h0M350.2 63.6h0M350.7 69.8h0M353.2 54.2h0M353.6 77h0M350.6 83.2h0M348.9 103h0M353.8 122.3h0M352.5 89.5h0M353.3 91.7h0M350.6 43.6h0M349.5 101.3h0M351.3 86h0M349 88.9h0M350.4 132h0M353.3 94h0M353.6 45h0M350.6 83.8h0M353.7 91.8h0M349.4 68.5h0M348.9 75.7h0M353.4 124.8h0M349.4 87h0M353.5 121.1h0M349.8 139.2h0M349.1 105.7h0M354.4 94.8h0M352.1 106h0M369.7 62.1h0M368.8 58.1h0M371.5 72.4h0M370 64.7h0M368.9 56.1h0M370.9 74.7h0M370.1 65.5h0M370.2 85.5h0M370.1 64.8h0M371.8 76.3h0M372.6 63.6h0M369.2 83.9h0M373.2 53.6h0M369.8 76.5h0M370.7 66h0M372.1 54.9h0M371.9 95.5h0M371.1 57.6h0M370.8 68.6h0M371.2 64.8h0M369.8 75.4h0M367.8 62.7h0M373.4 71.2h0M371.8 54.9h0M371.5 69.9h0M368.8 79.8h0M373.2 60.8h0M371.2 67.4h0M371.8 61.5h0M372.6 66.5h0M373.3 73.5h0M372.5 62.7h0M371.4 58.5h0M370 53.8h0M369.4 74.7h0M371.9 52.2h0M372 92.2h0M370.4 82.2h0M373.1 74.1h0M369.2 58.7h0M368.8 52.4h0M369.6 56.4h0M371.7 56.3h0M369.8 78.1h0M370.9 68.3h0M372.7 76.1h0M369.8 53.1h0M368.6 55.3h0M370.4 64.1h0M372.4 76.4h0M369.1 70h0M368.8 40.9h0M369 61.2h0M368.4 70h0M372.6 65.8h0M369.7 57.5h0M372.1 61.6h0M371.5 63h0M372.6 59.7h0M373.3 52.8h0M372.6 64.6h0M373.2 89.7h0M368.9 52.7h0M370.5 77.2h0M368.7 46.4h0M373.6 62.1h0M370.2 78.9h0M369.7 75.4h0M372.2 44.1h0M371.5 56.1h0M371.7 60.4h0M368.6 61.1h0M368 89.7h0M371.1 54h0M368.6 60.3h0M369.1 54.6h0M370.6 92.7h0M369.3 65.1h0M369 54.8h0M368.5 69.4h0M370.8 55h0M369 66.5h0M372.3 66h0M371.4 84.1h0M367.9 56.5h0M371.6 52.8h0M369.4 68h0M372.2 56.2h0M370.5 65.6h0M369.6 88.6h0M368.4 68.1h0M368.6 43.8h0M372.7 67.6h0M370.7 75.1h0M372.1 63h0M371 65.1h0M371.2 64.4h0M368.8 66.6h0M372.1 81h0M369.6 79.8h0M373 49.3h0M371.6 59.4h0M371.2 58.3h0M392 81.2h0M387.8 70.6h0M391.4 93.9h0M387.4 80.5h0M387.2 76.3h0M391 64.9h0M387.8 89.4h0M387 60.3h0M387.6 73.2h0M390 85.8h0M389 90.9h0M391.4 78.2h0M388.6 82.7h0M391.5 95.2h0M388.5 70.1h0M388.2 78.7h0M389.8 45.2h0M388.6 99h0M388.2 73.6h0M390.2 77.2h0M389.2 70.9h0M390.9 74.7h0M390.7 53.5h0M392.1 75.6h0M390.3 73h0M391.7 75.9h0M388.4 88.5h0M391.9 75.8h0M390.3 94.8h0M387.9 92h0M391 91.8h0M392.7 100.8h0M388.1 59.5h0M391.5 77h0M389.8 86.1h0M388.6 78.8h0M391.9 84.7h0M387.2 89.8h0M390 62.9h0M387.5 78.1h0M389.9 103.3h0M391.9 76.6h0M388.9 82.1h0M389.7 86.1h0M392 80.7h0M388.2 99.4h0M389.5 78.7h0M390.7 70.5h0M387.2 70.6h0M388.3 65.5h0M391.2 48.7h0M388.1 74.9h0M391.7 52.4h0M392 71.2h0M388 52.1h0M387.1 90.2h0M391.5 70.9h0M389.9 70.2h0M391.5 87.9h0M390.4 93.9h0M389.3 77.9h0M391.5 84.7h0M390.8 70.6h0M388.2 88.9h0M388.7 56.8h0M388.3 60h0M388.4 110.7h0M392.2 57.6h0M391.1 79h0M387.5 106.3h0M392.1 71.6h0M387.5 83.8h0M389.8 96.9h0M387.4 69.8h0M388 52.9h0M388.2 75.9h0M388.9 70.4h0M387.3 84.8h0M388.3 69.6h0M387.3 84.7h0M390.8 58.8h0M390.8 71.7h0M388.1 105.6h0M387.1 65.5h0M389.3 57h0M387.2 99.8h0M391.6 70.5h0M391.8 72h0M389 84.9h0M392.7 79.7h0M388.7 94.1h0M387 69.3h0M387 78.2h0M389.8 103.7h0M389.5 84.1h0M390.6 87.4h0M391.4 78.2h0M388 97.4h0M388.9 79.5h0M388.3 62.4h0M408.3 79.6h0M411.7 96.6h0M408.2 90.3h0M406.2 97h0M411.2 97.7h0M410.6 97.2h0M408.8 114.7h0M407.1 64.9h0M406.2 99.3h0M408.3 85.2h0M407.1 106.1h0M406.7 107h0M407.5 107.2h0M406.2 88.2h0M410.9 101.6h0M410.7 107.6h0M408 89.2h0M409 97.6h0M416.7 73.3h0M416.9 75.3h0M417.3 69.2h0M421.2 57.5h0M418.1 89h0M417.3 85.9h0M417.4 89.6h0M421.1 80.4h0M416.5 84.5h0M419.6 79.3h0M417.9 81.2h0M420.2 65.9h0M415.7 90.1h0M417.7 87.2h0M419.6 76h0M418.9 109.5h0M419.3 83.1h0M421 38.1h0M418.9 86.5h0M417 64.9h0M421.3 58.5h0M417.2 66.2h0M421.1 55.4h0M421 86.9h0M418.7 68.3h0M421.2 83.2h0M419 78h0M416.1 100.1h0M417.2 84.8h0M420.3 68.7h0M416.7 94.5h0M419.4 59.2h0M417.8 66.2h0M418.4 79.3h0M419.1 80h0M416.8 74.8h0M419.9 58.2h0M419.6 80.3h0M416.3 70.7h0M418 106.7h0M417.1 74.4h0M418.9 71.5h0M416.1 79h0M418.6 95.4h0M417 67h0M420.2 86.2h0M418.5 66.7h0M419.4 77h0M417.6 97.2h0M417.9 104.5h0M416 81.4h0M416.8 74.3h0M416.2 113h0M420.3 77.5h0M415.7 85.6h0M421 83.3h0M417.1 71.3h0M419.1 70.9h0M417.1 97.3h0M415.9 83.7h0M417.8 82.8h0M426.8 64.8h0M429.5 77.3h0M428.6 59.3h0M428.3 62.9h0M428.3 59.5h0M429 86.6h0M426.8 75.1h0M426.7 64.4h0M425.8 97.5h0M427.8 66.3h0M427.5 61.3h0M429 62.3h0M427.3 52.9h0M429.7 68.7h0M428.5 66h0M426.9 81.1h0M430.5 65.6h0M429.2 75.9h0M425.8 84.1h0M429.1 56.2h0M428.3 57.4h0M425.5 61.8h0M428.7 76.4h0M429.3 75.6h0M429.5 52.4h0M427.8 59.5h0M425.7 68.2h0M430.8 67.9h0M429.1 87.5h0M425.7 59.5h0M429.3 97.7h0M429.9 60.7h0M425.9 61h0M428.5 80.1h0M426.9 83.9h0M426.6 59.3h0M446 84.8h0M447.3 92.8h0M448 114.3h0M448.2 94.3h0M446.7 88.6h0M447.5 113.6h0M448.7 82.1h0M447.8 85.5h0M446.4 103.5h0M446.1 83.6h0M447.8 98.5h0M448.2 87.8h0M445.1 94.9h0M449.8 87.8h0M447.9 88.6h0M446.3 95.3h0M446.3 78.7h0M446.2 73.5h0M445.2 82.2h0M445.2 106.4h0M448.1 98.1h0M449 76.8h0M445.9 90.2h0M445.7 93.4h0M447 85.9h0M446.3 85.7h0M444.6 106.6h0M444.7 84.8h0M444.1 105.6h0M447 72.1h0M444.2 88.3h0M449.8 98h0M444.3 77.9h0M445.2 86.2h0M444.2 87.3h0M445.7 93.5h0M468.6 65.6h0M466 66.6h0M468.9 60h0M466.4 54.9h0M468.8 70.2h0M465.7 68.4h0M465.9 79.9h0M467.6 73h0M467.6 70.6h0M467.2 63.1h0M466.4 71.9h0M468.6 65.5h0M463.2 57.7h0M468.7 60.1h0M466.9 73.7h0M465.4 80.4h0M463.6 66.2h0M467.2 57.8h0M464.4 65.2h0M463.4 71.8h0M468 80.2h0M464.9 68.4h0M468.3 59.1h0M465 58.2h0M467 78h0M465.5 69.9h0M465.3 66.1h0M465.9 66.8h0M466.6 70.5h0M468.5 71.8h0M463.8 67h0M463.8 50.3h0M465.7 74h0M467 61.1h0M467.3 50.2h0M464.9 64.4h0M464.6 61.3h0M467.7 48.1h0M468.5 51.2h0M465.1 66.3h0M468.9 47.9h0M467.1 51.7h0M466.3 68.8h0M468.8 48h0M466.9 81.3h0M465.2 55.2h0M463.3 63.7h0M463.8 65.5h0M465 57.7h0M468.7 76.3h0M468.9 68.3h0M468.7 76.3h0M464.5 64.6h0M468.5 56.9h0M463.6 63.3h0M464.1 68.3h0M465.3 57.9h0M464.6 72.2h0M466.8 69.7h0M467 70.1h0M467.3 67.6h0M465.8 67.9h0M468 66.2h0M464.3 67h0M465.6 66.6h0M467.3 70.9h0M467.9 54.3h0M465 61h0M465.8 64.3h0M465.4 67.3h0M463.4 71.3h0M467.6 79.8h0M463.9 58.2h0M463.9 62.6h0M465.4 45.8h0M467.1 76.7h0M463.3 71.9h0M468.4 69.5h0M465.2 47.5h0M464.1 53.7h0M465.6 83.5h0M464.6 80.2h0M464.8 69.7h0M467.2 57h0M466.1 59.5h0M468.5 56.8h0M466.1 70.1h0M466.9 62.9h0M464.6 66h0M466.5 46.5h0M469 78.8h0M467.2 78h0M465.9 60h0M466.7 46.7h0M464.4 66.1h0M465.9 61.7h0M467.6 81.4h0M466.5 67.4h0M464 56.6h0M465 64h0M482.3 67.5h0M485.5 81.2h0M485.4 71h0M486.1 83.3h0M486 77.8h0M487.5 68.9h0M487.3 66.4h0M482.4 77.6h0M484.2 69.2h0M484.8 72.7h0M486.1 53.3h0M484.2 93.6h0M484.5 62.8h0M487 70.3h0M487.8 84.4h0M486.1 66.6h0M486.7 74.4h0M484.7 79.8h0M487.5 76.3h0M486.2 98.5h0M482.6 70.8h0M482.7 73.2h0M482.7 98.1h0M483.7 69.2h0M486.9 89.1h0M484.9 55.1h0M482.5 75.4h0M483.9 58.2h0M483.7 86.2h0M483 65.3h0M485.8 82.3h0M482.5 96.6h0M485.2 84.3h0M505.7 70.3h0M506.1 80.6h0M506.9 60.6h0M503 85.6h0M505.6 65.8h0M505.8 90.5h0M503.7 68.3h0M504.3 80.5h0M506.5 60.9h0M504 76.4h0M505.7 97.7h0M505.8 60.9h0M506.7 85.1h0M504.2 59h0M505.6 79.5h0M506.6 80.7h0M501.9 77.9h0M504 86h0M501.4 93.7h0M503.2 99.3h0M503.1 75.3h0M504.8 63.1h0M503 72.8h0M506.2 57.8h0M501.6 87.4h0M501.9 72.1h0M501.9 105.6h0M503.3 98.2h0M504.3 57.4h0M502.1 83.3h0M501.8 114.9h0M506.9 90.8h0M503.1 77.5h0M504.7 82.7h0M505.7 95.1h0M505.8 88.1h0M507 96.5h0M504.6 77.1h0M503.1 70.6h0M506.5 63.8h0M504.9 79.1h0M503.9 61.8h0M504 84.3h0M502.9 93.7h0M506.3 84h0M503.6 87.9h0M504.4 71.6h0M505.2 69.9h0M506.1 89.8h0M504.7 82.9h0M506.2 67.2h0M502.9 87h0M514.9 86.3h0M514.4 80.4h0M511.4 72.6h0M514.3 67.9h0M513.6 102.4h0M512.6 70.4h0M513.4 75h0M511 109.5h0M514.9 57.7h0M511.8 74.9h0M513.6 99.6h0M510.9 80.9h0M514.3 80.5h0M516.1 82h0M515.4 51.4h0M513.2 88.1h0M515.2 72h0M515.2 97.9h0M512.4 89.5h0M516.1 84.9h0M514.2 72.5h0M534.6 81.2h0M534.8 92.5h0M533.9 84.1h0M532 66.2h0M535 59.4h0M535.7 86.7h0M530 91.7h0M532.4 66.4h0M532.1 79.2h0M535.5 81.9h0M535.3 87.1h0M532.6 91.6h0M535.6 79.4h0M532.4 85.3h0M534.6 68.7h0M530.8 59.2h0M530.9 84.1h0M534 75h0M535.5 93.5h0M532.7 63.4h0M530.7 70.2h0M530.9 88.3h0M533 50h0M532.2 91.9h0M534.3 62.3h0M534 90h0M533.6 53.2h0M531.8 86.3h0M532.1 103.5h0M534.2 96.8h0M535 59.7h0M535.3 71.9h0M533.6 82.2h0M530.5 68.7h0M532 85h0M533.3 61.4h0M530.8 104.1h0M535.5 83.1h0M535.6 66h0M535.2 87.9h0M531.5 80.8h0M530.6 82.7h0M533.9 102.4h0M531.5 65.1h0M531.8 94.6h0M533.4 94.2h0M534.3 94.6h0M533.1 98.9h0M535.3 101.6h0M532.5 68.2h0M530 101.2h0M535.7 68.8h0M533.4 70.4h0M532.8 81.2h0M530.8 62h0M534.2 86.3h0M531.4 55.8h0M531.4 82.3h0M535.1 73.2h0M535.4 47.7h0M530.1 78.3h0M535 84.2h0M531.2 50.9h0M532.3 58.2h0M535.2 83.1h0M531.4 104.1h0M530.8 78.2h0M532.2 94.4h0M533.6 64.9h0M531 89h0M530.6 71h0M533 56.1h0M531.6 98.3h0M532.6 88.2h0M530.5 116.9h0M534.4 88h0M533.3 80.2h0M530.6 60h0M531.3 64h0M533.7 62.6h0M533.1 80.6h0M534.7 78.6h0M533.7 114.3h0M554.4 102.8h0M549.3 114.5h0M551.1 90.9h0M550.2 101.4h0M553.5 94.2h0M552.1 63.1h0M554 123.8h0M551.1 104.9h0M554.6 89.8h0M550.9 94.6h0M552.4 102.7h0M553.7 87.9h0M554.5 90.9h0M552.9 114.8h0M553.4 107.1h0M551.5 91.5h0M549.5 86.3h0M550.6 102.3h0M551.2 128.6h0M554.3 94.8h0M552.5 79.2h0M550.7 144.6h0M554.6 95.7h0M552.8 96.1h0M553.9 98.4h0M551.6 87h0M550.6 95.4h0M554 109.6h0M551.1 104.1h0M553 106.2h0M559.6 99.1h0M562.5 85.1h0M559.8 76.4h0M562.9 82h0M563.2 73.4h0M560.1 83.6h0M559.2 88.2h0M561.5 76.9h0M562.4 82.1h0M558.9 83.2h0M561.7 64.2h0M563.4 80.2h0M562.2 84.3h0M560.1 80.3h0M559.6 84.6h0M562.4 76.2h0M559.8 90.5h0M562.4 70.8h0M563.6 75.9h0M561 71.3h0M561 75.9h0M560.9 72.3h0M563.4 76.9h0M561.9 77.3h0M563.2 69.9h0M562.9 81.5h0M560.2 78.7h0M559.3 78.5h0M560.9 88.5h0M562.8 73.8h0M561.9 85.1h0M562.5 73.2h0M560.5 81.1h0M560.5 82.3h0M562 90.6h0M562.5 82.8h0M560.7 84.4h0M559.1 79h0M559.4 82.2h0M559.9 75.9h0M562.6 70.2h0M558.5 84.3h0M561.1 74.2h0M560.7 80.7h0M560.2 84.3h0M561.5 90.3h0M559.9 84.5h0M560.5 77.7h0M559.4 71.7h0M563.9 74.8h0M560.6 77.7h0M559.4 75.5h0M560.4 84.5h0M562.6 81h0M559.3 71.9h0M563.8 81.6h0M563.5 78h0M562.3 73.6h0M562.3 76.8h0M561.4 79.4h0M561.1 71.2h0M561 87.2h0M561.7 84.5h0M559 67.4h0M561.9 77.4h0M564.2 85.4h0M564.2 66.9h0M560.8 79.5h0M560.2 71.9h0M563.4 86h0M561.2 73.6h0M562.4 69.5h0M563.7 79.6h0M559.6 90.9h0M561 85.6h0M561.3 79.9h0M561 86.6h0M563.9 74.1h0M561.2 75.7h0M562.1 83.7h0M562.1 73.8h0M559.2 74.6h0M563.5 78.2h0M563 86.8h0M561.4 79.7h0M559.6 73.5h0M559.6 81.5h0M562.5 74.1h0M558.6 88.9h0M561.9 74.3h0M563.1 84h0M558.7 73.3h0M560.2 87.1h0M564.1 74.8h0M562.5 83.8h0M560.7 73.5h0M560.8 81.7h0M559.4 82.1h0M558.7 72.5h0M560.6 74.1h0M582.1 86.6h0M579.2 93.5h0M581.7 89.6h0M582.2 88.7h0M578 102.6h0M579.7 93.8h0M582.7 96.2h0M577.7 95h0M581.1 105h0M582.1 85.7h0M583.3 91.3h0M577.8 93.8h0M583 94.1h0M578.9 90.6h0M583 96h0M582.9 99.9h0M579.2 89.8h0M580.5 99.5h0M582.3 101.5h0M578 96.5h0M582.5 99.6h0M579.2 95h0M578.4 96.5h0M578.8 102.8h0M592.3 36.6h0M589.9 79h0M590.4 103.3h0M589.5 62.5h0M587.3 66.8h0M590.5 76.3h0M589.2 48.9h0M588.3 59.9h0M590.8 60.3h0M590.1 76.3h0M591.1 77.9h0M588.5 91.2h0M592.2 56.2h0M589.2 75.1h0M588.6 84.2h0M589.8 96.9h0M591 37.9h0M591.9 69.4h0M588.5 82.9h0M587.3 43.1h0M590.9 59.1h0M590.8 74.6h0M587.8 40.4h0M589.6 34.9h0M587.2 85.5h0M591.6 29.5h0M591.6 36.6h0M590.1 79h0M589.9 72.6h0M588.7 67.7h0M590.2 70.9h0M591.7 68.7h0M588.8 51.6h0M589.4 60h0M590.4 91.6h0M589.2 64.7h0M591.3 87.5h0M587.6 62.2h0M589.7 64.9h0M592.4 64.9h0M588.4 83h0M592.5 35.3h0M588.3 82.5h0M589.1 51.7h0M591.2 68.7h0M590.7 70.4h0M592.1 89.8h0M590.2 41.9h0M590.1 83.6h0M587.6 113.1h0M590 62.8h0M592.9 78.1h0M591.8 58.2h0M590.3 60.9h0M592.4 81.5h0M588.2 77.2h0M589.7 58.9h0M589.2 45.9h0M590.1 57.2h0M590.3 66.1h0M589.7 46.5h0M587.4 81.9h0M588.3 52.6h0M587.5 82.1h0M592.4 52.5h0M588.1 65.2h0M592.1 65.6h0M590.8 52.2h0M587.1 43.1h0M592.7 53.5h0M589 88.5h0M590.5 55.6h0M590.4 42.2h0M591.7 83.4h0M590.7 65.3h0M592.4 60.4h0M588.5 56h0M588.5 68.8h0M590.1 66.9h0M589.9 89h0M589.5 84.7h0M588.5 55h0M588.8 74.3h0M588.8 46.5h0M592.1 88.9h0M591.5 82.5h0M589.4 85.1h0M591.1 57.7h0M591.1 64.6h0M589.9 32.3h0M590.6 73h0M589.9 60h0M592.2 61.1h0M592.7 47h0M588.3 34.6h0M589 78.4h0M591.2 74.2h0M587.5 66.8h0M590.9 65.9h0M591.6 77.9h0M588.4 54.8h0M588.6 90.1h0M592.2 55.4h0M590.1 63.1h0M590.6 43.9h0M589.7 95.9h0M587.3 55.5h0M592.1 51.1h0M590 87.7h0M606.6 114.4h0M608.3 79.7h0M608.8 76h0M607.2 73.4h0M609.8 119.6h0M609.1 97.6h0M609.4 98.3h0M608.2 93.8h0M608.6 81h0M609.5 96.4h0M610.3 83.1h0M609 104.6h0M616 72h0M618.9 61.5h0M620.4 68h0M618.9 52.4h0M619.7 66.3h0M619.7 29.5h0M621.2 69.3h0M617.2 86.9h0M616 80.2h0M621.5 60.1h0M620.3 60h0M618.5 67.9h0M618.2 59.6h0M616.1 78.9h0M620.2 55.2h0M616 86.4h0" stroke="#EA3418" stroke-opacity="0.43" stroke-width="2.5" stroke-linecap="round" fill="none"/>
<path d="M44.1 99h0M45 75.9h0M45.5 82h0M44.9 87h0M46.8 85h0M46.6 76.2h0M48.6 99.6h0M45.4 122.1h0M46 79.7h0M46.1 111.8h0M43.7 95.1h0M44 87.5h0M44.9 81.6h0M48.8 79.1h0M44.2 101.8h0M44.6 81.5h0M55.4 114.5h0M58 71.7h0M57.3 87.7h0M56.9 86.3h0M57.8 77.5h0M57.5 131.3h0M57.1 65h0M58 128.9h0M58.5 72.5h0M55.8 94.1h0M56.3 116.4h0M58.5 122.8h0M58.7 83.9h0M53.7 76.9h0M54.1 68h0M56.2 80.6h0M55.2 97.6h0M54.8 61.6h0M57.3 59.5h0M53.6 61.3h0M54.6 81.3h0M55.3 103.2h0M53.9 72.3h0M57.4 111.8h0M54.2 78.2h0M54.8 80h0M55.5 75.3h0M55 86.6h0M55.1 132.1h0M54.1 94h0M57.3 112.4h0M56.1 112.3h0M54.7 96.6h0M57.7 121.5h0M53.3 107.9h0M58.4 100.4h0M54.8 139.8h0M58.4 81.5h0M55 89.7h0M58.5 66.2h0M53.5 76.4h0M58.4 126.7h0M55.9 96.6h0M58.9 100.2h0M58.5 81.4h0M54.6 95.1h0M55.2 79.5h0M55.6 92.2h0M56 84.8h0M56.3 82.5h0M57.8 84.4h0M56.3 85.2h0M57 72.3h0M55.7 121.4h0M54.4 75.1h0M55 85h0M55.5 134h0M58.7 97.9h0M53.3 96.4h0M58 74.8h0M58 73h0M55.2 62.1h0M56.9 88.8h0M55.7 96h0M55.4 98.7h0M55.1 88.3h0M55.7 104.5h0M56.5 67.7h0M59 99.8h0M58.1 78.6h0M55.9 119.2h0M54.1 100.1h0M54.4 84.3h0M54.2 99.3h0M59 126.3h0M55.6 102.8h0M56.2 104.6h0M54.4 88.3h0M54.2 118.5h0M56.3 79.3h0M53.9 58.8h0M55.8 101h0M75.2 64h0M77.7 65.1h0M75.7 54.7h0M75.7 77.3h0M75.7 92.3h0M77.5 76.8h0M75.7 64.1h0M76 59.2h0M77.8 76.1h0M76.8 61.4h0M74.1 63.8h0M75 66h0M76.4 76h0M73.6 47.2h0M73.7 58h0M77.3 62h0M72.9 65.1h0M76.6 85.2h0M72.9 38.3h0M74 86.1h0M74.5 71.5h0M76.8 64.3h0M76.7 57.7h0M77.1 52.2h0M76.4 45.7h0M72.5 70.8h0M76.7 89.5h0M74.9 86.2h0M73.2 74.7h0M76.5 59.1h0M72.9 60.5h0M75 82.2h0M76.5 75.7h0M76 78.8h0M76.2 77.2h0M75.5 64.7h0M77.1 86.5h0M78 52.3h0M73.6 73.5h0M76.8 61.1h0M75 56.4h0M73.8 75.8h0M76.1 84.6h0M77.1 80.4h0M74.3 64.6h0M77.5 82.1h0M73.7 77.2h0M77.3 66.2h0M76 61.7h0M75.1 32.6h0M73.5 90.2h0M73.9 79.3h0M72.5 82.9h0M75.8 66.7h0M76.2 71.1h0M74.5 97h0M72.6 87.1h0M74.6 74.4h0M72.3 65.7h0M73.7 65.2h0M75 81.9h0M72.8 65.2h0M73.2 86.1h0M76.9 51h0M75.8 41.1h0M74 84.4h0M75.6 56.5h0M76.9 62.3h0M76.9 67.8h0M75.3 81h0M73.2 80.6h0M74.3 74.8h0M77.8 64.4h0M72.6 58.7h0M73.8 41.4h0M78.1 64.5h0M76.1 62.1h0M76.7 77.4h0M76.5 68.1h0M74.9 88.3h0M73.6 72.3h0M73.9 52.8h0M76.2 39.4h0M77.7 34.9h0M73.1 62.6h0M73.1 72.1h0M75.9 68.5h0M72.6 81h0M73.4 59.5h0M75.3 66.6h0M77.9 40.9h0M72.9 69.1h0M76.4 81.8h0M73 66.4h0M74.6 52h0M74.3 79.3h0M73.8 35.7h0M73.1 60.4h0M76.3 73.9h0M74 69h0M73 74.7h0M75.9 57.9h0M73.6 70.9h0M75.2 74.8h0M74.9 54.3h0M76.2 56.7h0M77.6 62.3h0M74.7 66.6h0M74.5 80.5h0M75.7 56.2h0M72.4 93.9h0M75.3 78.8h0M74.6 56.1h0M74.3 59.9h0M77.1 50.3h0M73.4 68.3h0M72.3 74.4h0M76.1 66.9h0M75.3 60.2h0M74.4 79h0M75.7 39.5h0M77.5 78.4h0M74.1 69h0M74 60.1h0M73.4 73.2h0M73.9 49h0M73.5 91.7h0M75.7 77.3h0M74.5 70.1h0M76.2 42.7h0M74 51.6h0M76.3 58.8h0M73 73.1h0M74.5 59.2h0M74.3 86.1h0M73.7 81.9h0M73.9 67.5h0M74.9 92.7h0M73.8 74.3h0M73.5 62.3h0M74.1 55.2h0M76.2 74h0M73.5 56.6h0M72.4 60.7h0M75.5 75.2h0M73.1 75.6h0M77.1 55.1h0M77.1 54.1h0M73.2 83.1h0M72.5 54.2h0M75.3 71.3h0M74.9 71.7h0M77.9 42.1h0M75.1 49.8h0M74.5 49.5h0M75.5 61.3h0M73 64.4h0M76.5 56.8h0M76.8 49.7h0M74.1 65.3h0M74.3 55.7h0M72.6 100.2h0M77.2 61.8h0M76.3 50.8h0M75.2 71.4h0M73.2 79.4h0M73.3 70.6h0M72.4 66.4h0M75.4 68.4h0M76 84h0M76 68.2h0M74.4 29.8h0M73.3 77.6h0M75.7 71.9h0M77.5 52.5h0M73.5 76.3h0M74.3 56.7h0M76.7 71.5h0M75.8 75.2h0M76.5 67.5h0M75.5 84.7h0M74.1 89.6h0M76.8 86.8h0M75.2 65.8h0M76.8 65.3h0M77.6 81.5h0M77.8 92.9h0M76 57.8h0M74 66.8h0M77.4 75.7h0M73 68h0M72.8 62.2h0M75.2 68.5h0M75.1 40.9h0M77.6 76.8h0M72.7 58.5h0M76.3 83.7h0M74.6 48.9h0M73.5 74.3h0M75.5 78.4h0M76.6 65.2h0M75.5 77.9h0M77.7 65.7h0M76 44.2h0M72.9 61.1h0M74.9 38.1h0M74.5 75.7h0M73.7 77.8h0M74.9 69.9h0M75.7 78.9h0M75.4 66.6h0M74.7 63.5h0M76.3 70.3h0M72.8 55.1h0M78.1 82.8h0M73.8 65.5h0M77.3 50.3h0M74.4 63.5h0M73.9 78.2h0M96 86h0M93.7 91.8h0M96.2 80.2h0M94.9 77.7h0M93 91.1h0M96.9 78.9h0M94.3 72.6h0M92.8 106.2h0M95.2 58.9h0M96.6 102.9h0M95.7 98.8h0M94.7 71.2h0M93.8 94.4h0M94.7 85.2h0M92.4 89.2h0M93.2 74.2h0M96.7 86.2h0M95.7 101.6h0M91.6 91.1h0M93.8 83.3h0M93.7 98.5h0M95.3 99.1h0M94.7 84.2h0M96.6 83.4h0M94.9 66.1h0M96 99.4h0M93 83.4h0M93.3 91.9h0M95.9 98.7h0M92.7 100.8h0M92.2 84.3h0M94.4 75.2h0M95.7 91.2h0M92.9 87h0M96.6 81.2h0M94.1 60.3h0M96.7 72.4h0M92.6 82.2h0M104 75.4h0M101.5 65.5h0M101.3 91.9h0M101.7 81.6h0M105.7 63.2h0M102.2 74.5h0M101.5 74.2h0M100.9 53.7h0M101.2 89.5h0M104.7 82.8h0M105.8 71.6h0M101.4 76.1h0M106.2 66.3h0M102 100.9h0M103.5 66.8h0M101 76.3h0M114.1 49.7h0M114.4 82.4h0M116.2 61.4h0M111.7 45.8h0M110.8 71.9h0M111.5 64.9h0M112.4 67h0M115.7 55.1h0M112.7 58.3h0M111.3 73.6h0M112.7 42.8h0M114.3 59.7h0M111.1 57.9h0M110.9 49.4h0M113.5 66.2h0M113.1 62.6h0M110.5 63.3h0M111.3 74.7h0M113.9 66.1h0M112.8 84.6h0M116.2 64.1h0M112.4 67h0M113.1 62.1h0M115.6 76.4h0M115.4 49.8h0M116.1 64.3h0M111.9 72.9h0M114.5 68.4h0M113.2 54.2h0M111.8 43.7h0M112.5 66.8h0M110.9 71.6h0M110.6 59.5h0M111.6 70.1h0M111.6 80.2h0M112 54.3h0M113.5 63.3h0M112 74.2h0M111.3 68.2h0M115.1 56h0M111.1 56.7h0M114.2 60.5h0M111.8 69.4h0M111 48.2h0M113.4 60.4h0M114.3 70.4h0M115.9 53.6h0M114 53.7h0M116 56.5h0M111.5 58.8h0M114.7 63.1h0M111.6 62.7h0M111.3 49.9h0M110.5 52.9h0M112.6 78.6h0M111.9 48.3h0M112.7 69.8h0M115.9 57.8h0M115 65.7h0M110.9 59.9h0M114.1 87.9h0M113.5 79.7h0M114.5 54.3h0M115 82.2h0M112.7 85.1h0M111.3 78.4h0M115.5 69.5h0M113.7 87.5h0M113.4 53.4h0M113.9 68.9h0M115.3 78.9h0M114.2 54.6h0M112.2 52.7h0M113.3 89.5h0M116.1 58.4h0M115.4 63.2h0M114.3 58.4h0M113.6 76.3h0M113.3 60.5h0M115 73.5h0M115.2 64.2h0M114.7 54.2h0M111.6 49h0M111.2 58.5h0M116.1 48.6h0M111.5 64h0M115 64.7h0M111.3 50.2h0M115.1 75h0M112.6 69.3h0M114.8 63.1h0M111.3 45.6h0M111 64h0M114.6 51.8h0M113.8 75.6h0M114.4 62.1h0M115.2 70.2h0M112.4 65.6h0M111.4 50.4h0M114.1 43.8h0M111.8 77.7h0M113.2 59.2h0M112.6 65.6h0M111.2 54.9h0M113.6 42h0M113.7 60.7h0M114.4 85.1h0M113.9 82.5h0M115.6 47.1h0M112 48.3h0M111.4 62.7h0M111.4 78.8h0M111.8 61.7h0M121.9 57.1h0M120.5 63.4h0M121.9 59.1h0M120.9 47.5h0M122.5 55.7h0M124 60.2h0M123.1 62.7h0M124.7 46.9h0M125.6 71.1h0M122 59.7h0M123.7 69.4h0M122 66.5h0M123.3 69.1h0M122.9 68.2h0M123 85.9h0M121.2 86.8h0M124.5 74.4h0M123.9 49.7h0M122.1 86.2h0M121 79.5h0M121.1 87.8h0M122.2 52.3h0M123.9 71.5h0M121.9 67.1h0M125.2 52.7h0M121.5 58.5h0M122.2 56.3h0M121.2 65.8h0M121 69.3h0M121.6 78.3h0M124.9 67.8h0M121.3 78.2h0M123.9 63.8h0M123.5 69.9h0M121.8 63.6h0M122.1 85.7h0M125.6 67.7h0M124 88.6h0M120.4 63.5h0M124.6 51.2h0M123.5 49h0M124.8 69.7h0M122.9 69.1h0M132.5 68.4h0M132.3 79.8h0M133.1 113.3h0M133.4 120.2h0M130.6 97.4h0M134.9 90.1h0M132.8 91.2h0M133.8 99.4h0M131.3 103.5h0M130.1 86.6h0M129.9 101.9h0M131.9 107.9h0M131.7 83.6h0M131.3 106.9h0M131.5 100.7h0M133.8 98.9h0M132.5 97.5h0M134.3 92.5h0M131.1 118.8h0M129.7 62.2h0M129.6 98.7h0M130.6 80.7h0M135 89.7h0M131.1 112.6h0M132.4 56.6h0M131.1 73.7h0M134.2 58.7h0M133.7 97.5h0M132 68.8h0M135 98.8h0M134.6 52.1h0M133.4 123.6h0M131.4 82.5h0M134.5 81.1h0M130.9 108.6h0M133.6 60.3h0M132.8 77.3h0M131.7 96.1h0M133.9 108.9h0M130.3 125.4h0M130 76.4h0M132.9 68h0M131.5 75h0M132.9 135.3h0M130.1 108.3h0M129.8 129.1h0M133.9 100.6h0M129.7 101.8h0M129.6 101.9h0M131.7 116.2h0M132.5 74.1h0M131.1 132.5h0M130.3 94.5h0M134.3 89.8h0M133.2 85.5h0M134.4 59.7h0M130.2 98.4h0M130.4 110.1h0M133.4 75.5h0M134.1 52h0M134.5 96.2h0M151.1 70.6h0M152.9 64.9h0M151.4 85.7h0M150.7 51.2h0M149.9 43.4h0M152 50.6h0M150 82.9h0M171.3 53.6h0M169.7 86.3h0M168.2 90.9h0M169.4 89.5h0M173.4 61.9h0M172.2 84.7h0M172.1 75.7h0M168.8 78.1h0M168.5 58.4h0M171.7 78.3h0M167.8 97.1h0M168.3 68.3h0M172.2 89h0M172.8 78h0M170.1 68.1h0M168.7 69.6h0M170 63.8h0M172.6 82.5h0M170 81.9h0M170.8 70.4h0M171.7 69.4h0M167.8 86.6h0M171 59.1h0M173.2 58.5h0M172.7 72.5h0M170.6 85h0M172.7 61.4h0M172.1 58.5h0M171.4 77.8h0M172 87.5h0M173.3 84.7h0M167.7 80.7h0M171.7 74.1h0M171.1 92h0M172.8 81.3h0M168.4 44.4h0M173.2 88.2h0M168.4 82.8h0M168.5 77.9h0M169.9 68h0M170.7 74.8h0M170.7 58.9h0M168.9 65.4h0M172.2 62.7h0M170.1 67h0M168.3 75.7h0M169.3 85.6h0M173 67.8h0M170.6 70.2h0M169.5 68.2h0M170 82.7h0M170.8 70.7h0M172.2 73.1h0M168.2 62.6h0M168.5 82h0M169.7 76.3h0M168.1 71.2h0M170.9 79.5h0M167.7 70.8h0M172 61.3h0M169.8 95.3h0M172.8 80h0M167.9 55.6h0M172.5 73h0M168.4 72.3h0M167.8 76.8h0M171.8 76.4h0M172.7 79.7h0M169.7 62.4h0M173.2 64.8h0M170.7 104.3h0M173.1 78.8h0M169 85h0M168.1 84.8h0M171.9 107.1h0M170.8 49.9h0M171.8 68.9h0M171.1 73.5h0M168.9 76.6h0M169.5 63.3h0M168.4 80.1h0M170.3 82.4h0M173.4 74.4h0M168 63.1h0M167.8 61h0M170.8 77.4h0M172.3 79.5h0M173 59.5h0M170.7 77.5h0M170.1 86.9h0M170.6 61.1h0M191 66.9h0M187.4 68.1h0M186.8 90.6h0M191.7 77.8h0M191.3 76.2h0M187.7 82.9h0M190.1 92h0M188.7 103.6h0M190.9 88.2h0M189.2 90.9h0M200.9 138.2h0M196.9 104.8h0M197 91.7h0M197 91.3h0M200 85h0M200 92.2h0M201.9 81h0M198.3 70.5h0M197.2 78.7h0M199.2 72.4h0M197 98.4h0M201.6 75.5h0M199.2 125.4h0M196.3 100h0M196.5 64.1h0M199.6 98.6h0M199.9 88.9h0M197.5 98h0M197.8 89.4h0M199.2 111.9h0M198.3 67.4h0M197.3 72.3h0M201 92.3h0M197.7 106.3h0M200.2 94.3h0M197.7 84.1h0M197.9 100.3h0M200.7 126.9h0M201.1 91.7h0M200.9 78.7h0M196.6 109.9h0M196.5 82.7h0M199.1 106h0M198.9 104.5h0M197.8 89.7h0M199.8 71.4h0M199.5 83.2h0M218.5 88.1h0M219.2 82.7h0M220.9 72.7h0M220.8 101.6h0M219.1 66.1h0M218.6 85.5h0M220 103.4h0M221.1 98.4h0M217.9 98.8h0M219.9 78.6h0M219.7 83.6h0M218.5 85h0M216.9 88.7h0M217.8 89.3h0M216.4 82.1h0M219.1 93.7h0M217.5 76.7h0M220.2 66.5h0M216.2 91.3h0M216.5 86.5h0M216.4 85.9h0M220.8 74.5h0M217 93h0M218.6 83.4h0M215.4 83.7h0M216.6 71.5h0M217.6 85.8h0M219.2 86.1h0M218 81.2h0M217.7 70.8h0M220.7 71.5h0M237.4 113.3h0M238.2 107.9h0M239.3 97.4h0M235 99.7h0M237.9 132.9h0M238.7 86.2h0M239.2 108.5h0M238.8 100.7h0M238.7 92h0M235.6 104.5h0M235.8 133.6h0M238 73.7h0M235.9 104h0M234.4 119.7h0M239.1 108.4h0M239 87.6h0M237.3 135.2h0M234.4 131.7h0M239 68.8h0M234.4 106.7h0M236.2 115.3h0M237.6 118.8h0M235.1 99.2h0M236.2 105.6h0M235 145.5h0M236.7 100.3h0M235.1 78.7h0M237.3 95.9h0M239 96.2h0M234.6 70.6h0M235.7 118.9h0M238.9 107.7h0M239.4 80.5h0M239.5 96.9h0M238.6 123.7h0M235.2 97h0M235.4 132.8h0M238.4 116.4h0M235.2 88.7h0M240 109.7h0M235.5 96.7h0M238.9 99.4h0M235.5 128.3h0M238.5 103.9h0M236.5 100.2h0M236.3 124.2h0M237.4 92.8h0M236.7 84.5h0M234.9 114h0M234.9 133.8h0M239 83.2h0M238.5 92.2h0M235 80.2h0M237.1 122.5h0M238.5 140.6h0M240.1 106h0M235.5 105.2h0M237.9 78.2h0M237.4 97.8h0M238.3 69h0M237.6 131.6h0M234.6 109.7h0M237.6 116.9h0M234.7 88.7h0M235.6 93.2h0M236.3 118.4h0M235.1 101.1h0M237.4 78.5h0M239 102.4h0M239 65.4h0M236 131.2h0M237.8 90.5h0M236.9 83.2h0M235 108.6h0M234.8 115.2h0M238.7 65.6h0M234.4 105.9h0M235.2 74.9h0M238.4 126.3h0M237.4 111.3h0M239.8 88.4h0M238.8 121h0M236.6 130.7h0M236.6 117.2h0M240.1 110.9h0M235.9 113.3h0M236.4 99.8h0M238.4 113.4h0M239.9 79.5h0M235 98.5h0M237.9 109.6h0M238 137.9h0M239.1 115.4h0M240.1 96.7h0M239.9 142.2h0M236.5 99.3h0M237.6 135h0M236.6 125.8h0M237.5 92.3h0M239.3 112h0M240.1 86.5h0M238.3 103.4h0M237.4 100.5h0M236.5 117.3h0M254.7 111.7h0M256.3 109.3h0M255.7 74.7h0M255.2 86.2h0M253.7 91.9h0M254 104.2h0M258.2 111.9h0M256 93.7h0M257.1 98.2h0M256.5 87.5h0M255.3 95.9h0M257.6 88.6h0M254.3 82.7h0M255.1 89.1h0M258.3 106.3h0M257.2 77h0M259.2 83.5h0M253.6 126.6h0M254 72.6h0M268.5 125.4h0M267.7 115.6h0M268.2 116.7h0M268.7 80.2h0M265.1 95.5h0M266.7 85.8h0M264.4 98.7h0M264.7 93.6h0M264.8 90.1h0M268.2 108.5h0M267.5 127.7h0M263.1 85.5h0M263.9 108.1h0M264.5 79.2h0M267.6 131.6h0M266.3 91.7h0M263.8 86.7h0M268.7 115.6h0M265.2 122h0M264.1 101.4h0M267.3 113.7h0M265.5 88.4h0M268 112.3h0M264.8 91.2h0M263.9 147.8h0M267 88.9h0M267.1 98.7h0M266.1 95h0M265.7 105.9h0M264.6 104.8h0M267.5 146.7h0M266.7 88.9h0M268.3 118.8h0M264 118.8h0M267.8 81.3h0M266 118.2h0M265.5 116.4h0M266.5 116.7h0M265.5 100.6h0M266.7 99.1h0M264.6 99.2h0M266.1 139.9h0M265.3 130.9h0M266 92.4h0M267 80.2h0M263.8 126h0M263.8 138.9h0M264.7 94.3h0M263.8 93.3h0M264.4 132.7h0M265.7 120.6h0M268.7 119.5h0M266.7 148.9h0M265.6 91.9h0M266.3 136.6h0M265.8 100.6h0M265 92.9h0M265.8 129.7h0M267.5 92.5h0M264.4 97h0M265.1 101h0M266.1 113.5h0M268.6 109.7h0M263.8 92.1h0M268 102.4h0M267.8 90.6h0M266.5 106.7h0M264.2 126.8h0M268 114.7h0M267.8 96.1h0M265.4 95.5h0M266.6 107.7h0M264.5 110.2h0M264.7 85.9h0M266.5 135.7h0M263.9 127.8h0M267.5 101.1h0M268.5 101.5h0M266.1 109.9h0M264.7 92.8h0M266.8 114.4h0M263.5 123.2h0M268.2 113.7h0M263.9 125.2h0M278.1 76.2h0M273.1 112.2h0M275.7 86.4h0M278.1 90.8h0M275.7 86.1h0M277.4 81.1h0M274.7 99.1h0M274.7 80.8h0M273.6 104.3h0M275.1 91.6h0M272.7 96.5h0M277 82.2h0M277.7 81.5h0M295.3 64.9h0M292.8 69.1h0M294.6 67.1h0M294.9 59.6h0M292.4 57h0M297.2 82.7h0M293.2 58.3h0M295.9 62.5h0M293 59.9h0M294.4 65h0M293.6 63.3h0M297 64.7h0M293.8 59.1h0M297.3 66.1h0M297.2 51.2h0M296.1 68h0M295.4 51.7h0M295.3 74.1h0M296.2 56.8h0M297.3 76h0M294.3 63.3h0M292 75.8h0M295.5 72.5h0M294.6 69.1h0M294.9 68.2h0M292.3 78h0M292.2 62.8h0M292.9 50.8h0M296.6 60.1h0M295.3 76.8h0M293.6 86.5h0M293 65.8h0M296.7 59.5h0M292.6 49.2h0M293.5 74.5h0M295.3 75h0M297.2 61h0M292.1 68.3h0M294.1 70.4h0M294.5 60.5h0M295.8 47.1h0M293.1 61.2h0M296.2 55h0M293 63.4h0M293.7 57.2h0M292.4 53.6h0M292 52.1h0M294.8 84.9h0M294.3 80h0M293.8 74h0M291.6 58.8h0M294.6 65.3h0M295 61.7h0M292.4 52.5h0M295.7 81.7h0M294.8 89.3h0M293.1 86.2h0M293.9 75.7h0M295.3 89.1h0M296.4 64.9h0M292.7 47.2h0M294 48.4h0M297.2 68.6h0M296.5 60.3h0M295.2 78.1h0M296 64.1h0M295.5 51.4h0M295.9 67.5h0M293 61.3h0M292.4 76.2h0M293.2 41.7h0M297.1 66.8h0M291.7 76.3h0M296.9 84.7h0M293.1 71h0M295.7 65.8h0M292.8 72.2h0M296.6 61h0M292.2 61.4h0M291.9 73.2h0M291.7 82.9h0M291.8 72.7h0M296.3 62.6h0M294.2 71.1h0M293 63.3h0M295.9 76.7h0M293.3 64.5h0M292.6 71.4h0M291.7 64.5h0M292.2 61.2h0M293.1 50.9h0M293.7 76.5h0M296.9 76.9h0M292.9 74.1h0M296.2 51.7h0M293.6 69h0M292.5 55.3h0M296.8 57h0M293.5 62.8h0M296.4 64.3h0M291.7 62.7h0M295.6 92.3h0M297 61.9h0M292.8 67h0M291.9 57.4h0M293.4 76.3h0M294.5 59.4h0M315.4 67.9h0M312.6 78.3h0M311.5 58.3h0M311.1 63.4h0M311.2 54.7h0M314.4 82.7h0M311.8 53.8h0M311.8 53.5h0M312.6 90.7h0M313 57.6h0M312.1 59.4h0M313.7 77h0M311.9 72.3h0M312.4 80.6h0M310.7 51.7h0M316 64.8h0M310.8 53.9h0M314.1 75.2h0M316.3 64.5h0M315.8 57.4h0M316.2 66h0M311.4 76.4h0M313.5 62.6h0M312.8 57.7h0M312.5 58.1h0M314.5 58.7h0M311.1 61.4h0M313.2 59.3h0M313.4 52.8h0M311 67.1h0M313.7 50.4h0M312.2 69.8h0M311.8 87.7h0M314.1 76.3h0M311.3 77.7h0M314.2 84.1h0M315.4 49.9h0M311.2 46.7h0M312.3 80h0M313.7 69.1h0M311 67.7h0M310.7 76.6h0M311.4 65.8h0M310.9 63.4h0M312 76h0M314 74.3h0M313.4 64.4h0M312.4 69.8h0M316.1 70.9h0M314.1 67.1h0M315.7 58.9h0M316 84.1h0M314.6 75.6h0M312.7 76.3h0M315.8 61.1h0M311.9 63.7h0M312 71.1h0M314.9 68.5h0M334.7 105.2h0M332.5 77.5h0M335.2 90.7h0M330.7 97.4h0M335.2 70.9h0M330 59.6h0M332 73.2h0M331.9 78.3h0M333.8 83h0M332.8 57.1h0M330.7 85.6h0M331 98.8h0M334.8 89.6h0M330.3 72.4h0M332.3 78.9h0M334.6 83.1h0M332.2 91.9h0M334.7 61.6h0M331.4 72.6h0M330.1 71.9h0M332.8 91.9h0M332.8 79.9h0M332.5 52.2h0M334.1 89h0M334.1 91.1h0M331.4 83.9h0M334.3 70.9h0M333.8 58.8h0M334.7 81.6h0M333.3 83.7h0M335.3 71.9h0M330 69.2h0M330.5 81.2h0M333.1 85.2h0M331.9 86.6h0M340.1 101.8h0M343.1 108.1h0M339.9 98.4h0M341.6 89h0M340.2 92.6h0M342.8 107.4h0M343.2 89.6h0M341.2 78.4h0M343.9 99.9h0M344.4 95.7h0M344.1 110.2h0M340.5 89h0M341.4 99.2h0M342.7 101.6h0M343 110.8h0M342.7 98.7h0M341 100.1h0M340.1 95.4h0M343.1 74.4h0M340.3 99.4h0M343.7 93h0M341.9 84.4h0M342.9 106.9h0M340.2 104.4h0M343.2 98.1h0M343 104.1h0M339.6 97.6h0M340.2 85.8h0M340 70.7h0M339.6 110h0M344.2 96.9h0M342.6 101.2h0M344.3 100.3h0M339.6 100.3h0M341.1 99.2h0M342.4 100.1h0M341.4 99.5h0M341.2 99.2h0M340.4 97.9h0M342.2 109.2h0M341 101.4h0M341.1 82.4h0M340.9 98.4h0M343.8 104.1h0M344.7 90.2h0M343.8 102.8h0M339.3 79.8h0M343.6 87h0M344.8 92.5h0M343 91.4h0M344.2 96.9h0M344.2 83.1h0M343.7 104.9h0M343.4 77.9h0M341.8 100.4h0M343.9 100.9h0M339.4 103.1h0M340.4 91.1h0M340.7 99.4h0M342 99.1h0M340.7 100.2h0M344.3 95.6h0M344.7 110.1h0M339.8 86h0M344.4 74.7h0M343.3 93h0M341 108.3h0M343.4 100.5h0M342.1 89.4h0M344.9 90.4h0M344.3 94.9h0M341.5 82.8h0M342.3 100.5h0M340.8 64.6h0M342.9 80.6h0M344.3 100.9h0M341.7 64.7h0M340.4 85.8h0M342.7 89.4h0M341.3 96.9h0M341.8 88.2h0M344.7 73.8h0M343.7 76h0M340.8 99.4h0M339.7 87.1h0M343.1 98.8h0M343.4 85.3h0M345 108.2h0M342.9 84.3h0M339.5 93.4h0M340.8 78h0M339.7 98.1h0M340.7 111.7h0M341.4 104.8h0M339.3 94.4h0M341.5 99.7h0M344.7 105.4h0M341.4 112.2h0M339.7 111.9h0M343.4 91h0M340.7 93.4h0M339.6 99.1h0M344.7 92.1h0M353.8 110h0M353.8 89.2h0M351.1 122.8h0M350.8 65.3h0M349.3 92.7h0M353.2 81.4h0M349.9 88.5h0M349.6 103.4h0M353.9 77.7h0M350.1 57.6h0M352.8 57.6h0M352.2 72.1h0M350.5 72.9h0M352.3 81.9h0M349.2 101.5h0M349.2 78h0M349.1 59.4h0M350.5 115h0M351.6 120.7h0M352.5 66.4h0M350.7 105.9h0M350.3 62.1h0M351.5 101.9h0M352 104.8h0M354.1 69.4h0M353.4 89h0M351.4 80.1h0M351.3 64h0M354.1 83.4h0M352.6 78.4h0M352.8 102.8h0M353.7 105.4h0M352.1 123.9h0M350.5 88.1h0M349.3 97.7h0M353.9 94.5h0M350.8 82.2h0M349.7 90.3h0M352.5 86.9h0M353 132.1h0M351.8 75.7h0M351.4 87.3h0M351.3 102.3h0M350.9 99.6h0M351.2 86.3h0M351 70.8h0M354.2 88.6h0M354 59.5h0M350.4 77.1h0M352.3 68.3h0M349.3 82.2h0M350.2 76h0M350 106.5h0M353.2 98.6h0M349.4 98.5h0M353.8 97.1h0M354.1 91.1h0M352 118.2h0M350.3 52.9h0M353.3 97.8h0M354.4 93.8h0M349.1 91.1h0M353.1 89.7h0M349.5 72.2h0M353.4 72.3h0M348.8 98.7h0M350.5 82.8h0M353 99.9h0M349.4 102.7h0M349.9 86.4h0M350.9 81.5h0M350.5 73.3h0M350.6 95.3h0M349.8 73.7h0M371 79.5h0M367.9 59.3h0M370.8 71.1h0M370.4 87.2h0M372.3 58.2h0M372.8 95.3h0M369 50.2h0M372.2 52.3h0M367.9 82.6h0M373.1 71.3h0M372.1 54.3h0M369.8 43.3h0M372.9 92.7h0M373 58.8h0M370.6 57.4h0M370.3 67.4h0M373.2 60.3h0M373.5 66h0M370.4 55.5h0M369.2 78.1h0M371.2 40.7h0M372.1 74.8h0M371.1 88.1h0M370.8 54.8h0M371.1 52.9h0M371.8 62.6h0M368.6 73.5h0M373.4 48.3h0M372.2 52.5h0M372.3 91.9h0M370.1 82.5h0M372.2 60.8h0M369.1 79.6h0M368.7 63.6h0M370.3 76.2h0M368.3 58.2h0M367.8 67.8h0M371.8 60.5h0M367.9 67.9h0M370.2 76.9h0M368 40.9h0M369.4 83h0M373.5 78.8h0M370.8 66.8h0M368.4 68.4h0M368.2 69h0M369.8 59.8h0M371 69.7h0M370 92.5h0M369.6 64.9h0M369.3 56.2h0M373.6 64.5h0M371.6 81.1h0M369.6 48.6h0M372.1 59.2h0M371.5 69.5h0M368.6 63.1h0M372.3 55.3h0M368.5 62.9h0M372.1 70.9h0M371.3 87.6h0M369.8 59.8h0M368.8 49.2h0M373.3 44.3h0M373.6 79.7h0M369.7 68.3h0M370.7 56.4h0M373.1 52.9h0M373.4 38.2h0M372.3 59.4h0M372.5 54.7h0M372.5 71.5h0M368.9 64.6h0M368 56.6h0M370.3 62h0M373.4 63.3h0M371.1 67.4h0M372.2 71.6h0M370.9 70h0M371.3 57.8h0M370.6 65.4h0M369.8 65.7h0M372.1 60.5h0M370.6 77.8h0M372.9 49.9h0M369.2 84.8h0M373.3 72.4h0M370.2 58.7h0M367.9 70.3h0M369.3 71.1h0M373.6 46.9h0M371.6 73.4h0M370.7 90.6h0M371.3 61.4h0M369.2 74.7h0M370.6 57.1h0M372.2 71.9h0M369.1 51.4h0M372 83.6h0M369.5 67.2h0M373 68.9h0M372.7 60.9h0M370.4 65h0M392.6 82.3h0M388.8 87.3h0M390.1 54.1h0M387.6 58.8h0M387.3 65.5h0M391.3 71.4h0M392.5 68.2h0M391.9 72.2h0M388.4 101.9h0M392.4 58.3h0M391.4 59.8h0M387.7 75.8h0M392.5 78.1h0M389.6 81.9h0M390 64.1h0M390.2 105.8h0M392.5 74.2h0M389.6 84.5h0M389.7 90.5h0M391.2 67.6h0M392.4 70.3h0M391.1 88.5h0M387.6 87.4h0M391.9 66.3h0M392.2 80.7h0M391.9 58.8h0M391.6 101.2h0M391.3 90.4h0M389.8 87h0M388.5 80.8h0M389.3 60.7h0M391.1 71.5h0M390.6 67.9h0M391.8 81.6h0M391.9 54.5h0M390.7 82.4h0M388.6 91.5h0M392 70.5h0M388.7 82.9h0M388.8 62.9h0M390.8 64.9h0M388.5 92.6h0M389.8 102.3h0M389.7 67.8h0M392.2 90.3h0M387.3 74.8h0M392.3 88.1h0M392.3 72.5h0M392 79.4h0M389.9 104.4h0M389.4 103h0M392.2 86.7h0M391.6 65.9h0M389.8 74.7h0M389.1 75.4h0M388.7 78.2h0M389.8 70.2h0M387.5 64.8h0M389.3 113.1h0M387.2 72.5h0M392.6 41.8h0M392.6 80.7h0M392.4 89.4h0M387.1 73.4h0M391.6 78.3h0M391.9 75.4h0M391.3 78.7h0M388.9 63.6h0M390.1 89.1h0M388.6 95.8h0M390.2 93.6h0M387.2 111.9h0M387.6 55.2h0M387.3 73h0M392 72.6h0M389.9 61.5h0M387.6 68.8h0M391.6 79.8h0M392.3 85.2h0M391.8 79.2h0M388.8 77.8h0M388.5 70.5h0M392.4 77.4h0M391.7 77h0M388.9 73.1h0M387.1 82.2h0M390.8 68.2h0M392.2 85.1h0M387.1 103.4h0M387 87.6h0M391 85.2h0M388.2 57.4h0M387.9 69.4h0M388.3 68.8h0M386.9 68.3h0M387.3 99.9h0M390.9 67.6h0M389.2 86.5h0M389.2 64.3h0M388.1 86.3h0M411 88.7h0M410.8 108.9h0M409.3 96.7h0M407.1 94.3h0M411.4 86.7h0M410.1 105.1h0M410 87.6h0M409.5 93.2h0M406.2 78.9h0M406.7 96.8h0M407 98.6h0M406.1 87.6h0M408.6 64.8h0M411 90.2h0M409.6 94.6h0M407.9 81.6h0M406.6 73.2h0M415.7 94.4h0M420.4 82.7h0M417.5 102.7h0M419.5 75.7h0M416.8 88.2h0M419.6 52.3h0M416 112.2h0M420.8 66.9h0M417.8 78.2h0M415.8 91h0M421.1 77.4h0M418.3 84.1h0M419.9 88.2h0M416.1 74.6h0M420.6 81.5h0M418.2 80h0M415.5 89.7h0M419.3 89.8h0M417.9 67h0M419.1 99.1h0M420.2 61.8h0M420.1 68.5h0M419.1 52.3h0M420.4 82.5h0M418.6 70.4h0M417.8 78.6h0M420.3 90.8h0M420.9 82.3h0M418.6 86.4h0M418.4 88.2h0M420.5 93.2h0M418.1 79.7h0M419.5 71.4h0M418.7 77.9h0M415.5 80.2h0M417.3 92.2h0M419.9 113.1h0M416.6 97h0M420 67.9h0M416.5 88.4h0M420 92.1h0M419.6 76.7h0M416.6 83.2h0M418.6 58.9h0M418.4 69h0M417.3 86.8h0M420.7 86.9h0M418.2 53.5h0M420.1 88.7h0M418.8 84.2h0M419.5 94.9h0M419.7 92.1h0M419.1 58.1h0M418.3 50.3h0M415.6 73.4h0M417.6 57h0M418.5 77.8h0M416.2 82.4h0M418.8 92.7h0M420.4 75.8h0M417.8 97.6h0M429.7 72.1h0M430.5 58.4h0M430.4 59.4h0M426 66.1h0M426.1 88.4h0M425.5 72.3h0M427.9 64.9h0M426.5 70.6h0M430.4 71.8h0M428.6 61.3h0M428 65.7h0M430.1 75.6h0M428.4 64.3h0M428 70.4h0M428.5 66.8h0M427.5 60.9h0M430.2 59.3h0M430.5 82.3h0M429.1 74.2h0M427.5 79.1h0M425.5 80.4h0M427.7 54.6h0M426.8 63.1h0M430.4 52.9h0M428.5 68.5h0M428.6 58.7h0M425.7 61.2h0M425.5 60.4h0M425.1 73.6h0M426.7 67h0M425.7 80.4h0M429.2 66.1h0M428.4 63.2h0M426.8 72.3h0M430.3 69.8h0M428.2 57.8h0M448 88.7h0M449.1 118.5h0M444.6 87.8h0M447.2 98.6h0M448.1 103.7h0M449.7 88.3h0M445.3 95.9h0M447.8 87.6h0M448.8 117.2h0M448.9 85h0M449.7 82.4h0M447.7 108.6h0M446.6 86.7h0M444.9 81.4h0M449.7 116.8h0M445.4 82h0M444.6 92.2h0M449.3 74.7h0M444.7 89.2h0M448.4 94.7h0M449.5 96.2h0M449.5 95h0M445.8 95.8h0M446.1 86.3h0M448.1 78.7h0M447.8 96.7h0M449.4 102.8h0M446 115.1h0M449.8 103h0M445.9 90h0M444.7 89.6h0M445.4 95h0M444.2 82.1h0M448.1 85.9h0M448.5 99.8h0M445.8 80.3h0M466 69.6h0M465.3 70.2h0M463.9 72.6h0M466.5 72.7h0M463.5 61.6h0M467 65.8h0M466.4 73.3h0M465.5 60.1h0M467.7 70.8h0M465.8 58.7h0M464.8 76.2h0M468 66.7h0M467.1 66.8h0M466.8 65.6h0M463.3 73.8h0M465.4 63.3h0M468.8 73.7h0M468.1 84.8h0M465.4 64.2h0M468.8 72.8h0M463.9 64.4h0M464.7 64.2h0M466.7 71.2h0M468.5 73.3h0M465.3 69.3h0M464.9 78.6h0M468.6 77.5h0M463.8 70.9h0M468.9 68.7h0M463.5 73.1h0M464.5 61.4h0M468.7 59.9h0M465.2 72.7h0M464.2 84.3h0M465 53.7h0M464.4 65.2h0M463.8 56.4h0M464.4 64.8h0M466.6 64.8h0M465.4 69.8h0M468.8 69.7h0M467.8 65.1h0M463.9 76.9h0M466.5 78.9h0M466.5 79.5h0M466.9 73.6h0M465.6 69.4h0M465.7 46.5h0M467.4 64.2h0M466.5 75.8h0M466.7 73.4h0M466.6 69.9h0M466.2 55.2h0M464 63.9h0M464.8 69.6h0M468.7 66.3h0M468.2 69.4h0M464.1 71h0M463.5 63.9h0M463.4 56.7h0M463.7 76.6h0M465.5 71.3h0M468.3 70.7h0M466.2 66.3h0M464.9 66.9h0M465.7 52.6h0M466.6 84.1h0M466.6 79.8h0M467.6 76.7h0M465.5 62.7h0M466.4 64.8h0M468.2 56.3h0M466.2 67.4h0M465.9 73.1h0M464.6 61.4h0M463.6 82.9h0M467.6 45.8h0M468.4 67.8h0M464.2 75.3h0M463.6 74.1h0M468.2 65.2h0M466.6 53.7h0M467.6 59.7h0M465.5 63.9h0M463.9 71.3h0M464.2 68.3h0M467.7 58.6h0M463.7 72.7h0M466.3 67.7h0M465 65.1h0M463.8 74.7h0M466.3 63.9h0M463.8 81.5h0M468.7 72.2h0M464.9 76.3h0M464 58h0M464 67h0M467.2 61.7h0M466.7 58.7h0M485.1 58.7h0M486.5 87.3h0M486.3 82.7h0M486.9 86.1h0M487.9 65.8h0M482.3 113.1h0M485.5 65.2h0M484.3 72.8h0M482.4 69.6h0M484.9 80.8h0M482.4 67.1h0M482.2 68.2h0M487.3 98.1h0M488 71.7h0M487.4 89.3h0M487 75.4h0M487 81.1h0M485.5 79h0M483.4 86.5h0M483.3 92.4h0M487.2 98.6h0M484.1 102.8h0M484.9 71h0M483.9 94.6h0M482.5 74h0M484.5 58.3h0M487.6 75.5h0M485.2 87.6h0M485 72.6h0M487.3 72.5h0M483.5 69.9h0M487.3 72h0M482.6 64.4h0M505 88.7h0M501.9 73.1h0M505.2 47.1h0M505.4 73h0M503.5 65.3h0M504.9 91.9h0M501.6 86.6h0M504.8 77.1h0M503.4 83.2h0M504.3 57.8h0M506.7 80.2h0M505.5 73.9h0M503.1 83.7h0M505.6 107h0M505.4 68.9h0M501.6 69.3h0M501.8 67h0M503 74.9h0M503.6 93.2h0M506.8 70.4h0M503.9 58.1h0M506.4 71.8h0M506.5 77.3h0M504.8 95.5h0M501.6 77.3h0M506.8 80.7h0M506.9 61.9h0M502.8 68.3h0M502.7 86h0M502.6 83.1h0M504.3 65.7h0M504.7 63.8h0M502.5 68.6h0M503 95h0M506.4 84.3h0M505.6 76.9h0M501.5 72.3h0M501.8 97.8h0M502.2 92.8h0M503.5 79.2h0M502.1 68.9h0M501.5 95.2h0M505.2 73.6h0M506.4 70.9h0M506.5 63.2h0M501.4 80.7h0M503.7 85.5h0M501.4 68.2h0M503.9 85.4h0M505.9 93.8h0M507 76.6h0M501.8 91.3h0M511.7 64.4h0M514.4 101.6h0M515.3 74.2h0M515.4 57.6h0M512.8 81h0M511 80.6h0M515 88.1h0M511.4 69h0M515.9 58.5h0M516.3 90.2h0M515.7 89.3h0M513.2 89.8h0M515.4 101.6h0M512.4 93.1h0M515.1 75.8h0M512.9 59h0M516.2 70h0M513.2 81.4h0M513.8 65.5h0M516 71.9h0M515.6 70.2h0M531 75.6h0M535.3 107h0M534.4 81h0M531.9 72.5h0M535.1 77.6h0M533.2 87.8h0M534.6 67.7h0M532.2 93h0M535.1 104.3h0M532.9 71.2h0M530.2 70.3h0M534.7 65.9h0M533.7 82.1h0M534.8 98.6h0M534.3 97h0M533.1 86.5h0M533.7 106.1h0M532.2 74.6h0M532.9 78h0M530.7 73.5h0M534.9 74.2h0M535.4 63.7h0M533.7 81.9h0M535.6 112.7h0M531.3 82.5h0M531 91.7h0M534.6 77.1h0M530.1 66.4h0M534.1 94.7h0M530.3 90.3h0M531.1 57.1h0M531.5 103.8h0M532.1 75.2h0M534.8 60.2h0M534.6 52.7h0M530.2 60.5h0M535 85.1h0M533.7 88.9h0M531.7 58.8h0M534.8 63h0M532.5 98.6h0M535.2 68h0M532.4 63.9h0M532.4 91.1h0M534.7 33.2h0M535.7 96.3h0M533.5 52.4h0M534.3 104.1h0M532.5 71.4h0M533.4 96.1h0M535 78.7h0M532.1 86.3h0M533.6 57.4h0M531.6 46.9h0M531.6 94.1h0M531.9 70.1h0M532.8 81.3h0M531.7 90.9h0M534.3 87.9h0M532.3 26.6h0M531.3 101.3h0M531 68.7h0M530.2 56.8h0M531.3 62.9h0M531.8 104.4h0M531.6 77.7h0M530.9 38.8h0M531.4 64.9h0M531.7 74.3h0M533.7 74.4h0M532.9 76.2h0M530 45.6h0M534.6 70.4h0M534.3 91.6h0M532.9 95.5h0M530.8 62.9h0M530.2 84.9h0M531 93h0M533.5 89.4h0M535.6 69.2h0M530.3 101.1h0M534.5 100.4h0M533 44.6h0M550.3 100.3h0M551.4 89.8h0M551.4 121.6h0M553.6 115.6h0M553.3 105.1h0M550.2 86h0M549.4 115.5h0M554.2 88.1h0M553.1 126.7h0M552.5 90.3h0M549 40.3h0M551.4 74.7h0M549.3 120.5h0M552.4 116.5h0M554 103h0M550.2 93.9h0M552.9 129.3h0M552.8 110.4h0M550.6 61.1h0M551.8 107h0M549.6 100h0M551.2 120.2h0M550.9 105.2h0M553.7 77.6h0M550.5 105.2h0M551.6 140.9h0M551.2 122.5h0M551.7 120.9h0M553.9 106.7h0M552 119.1h0M558.8 72.1h0M563.1 80.9h0M559.6 74.3h0M563.5 72.9h0M561.4 73.3h0M564.2 84.4h0M560.9 88.2h0M561.8 70.6h0M558.7 80.2h0M559.7 81.6h0M560.8 79.9h0M560.3 64.5h0M558.6 68.6h0M563.3 76.2h0M561.9 76.7h0M559.7 79.9h0M563.9 74.9h0M560.2 79.2h0M558.7 74.6h0M561 77.6h0M562.6 78h0M563.6 89.2h0M561.8 73.5h0M562.9 77.4h0M562.6 71.5h0M560.4 71h0M563.4 77.3h0M562.5 85.8h0M558.5 74.6h0M560.7 83.4h0M563 80.1h0M561.8 81.5h0M562.1 83.5h0M561.2 73.6h0M562 75.1h0M563.9 66.1h0M560.8 75.9h0M563.8 87.9h0M558.6 80.8h0M564.1 71h0M561.2 78.2h0M563.3 77.1h0M559.8 92.1h0M560 88.9h0M560.1 78.5h0M559 87h0M561.7 93.5h0M563.3 79.3h0M562.8 76.3h0M561.6 78.9h0M561.9 86.3h0M561.2 84.3h0M561.8 86.7h0M561.2 74.5h0M559.1 74h0M562 72.5h0M561.6 85.2h0M561.2 78.5h0M560.9 83.2h0M562.6 76.8h0M561.3 76.3h0M561 71.2h0M562.5 76.5h0M562 85.8h0M559.5 81.4h0M564 79.3h0M561.7 86h0M562.6 77.3h0M563.9 85.8h0M564 67.4h0M558.7 82.2h0M561.3 70.3h0M564.2 80.4h0M560.5 73.7h0M560.7 77.2h0M558.8 83.9h0M563 74.8h0M559.9 72.2h0M559.1 71.8h0M562 73.6h0M561.8 67.7h0M560.1 77.3h0M560.9 76h0M563.1 73.9h0M561 79.7h0M559 82.8h0M559.2 69.5h0M559.6 84.5h0M563.5 81.5h0M562.1 78h0M563.5 95.9h0M559.4 84h0M562.3 86.6h0M559.4 68.3h0M560.7 75h0M559.6 83.6h0M563.5 80.8h0M559.2 80.4h0M562.8 90h0M558.5 84.7h0M582.9 99.9h0M581.7 87.4h0M583 94.5h0M578.9 100.6h0M577.8 82.2h0M579.5 102.5h0M580.7 82.5h0M577.7 101.4h0M581.9 103.7h0M579.9 100.5h0M578.1 92.2h0M579.3 85h0M578 100.3h0M581 95.5h0M578.7 97.7h0M582.5 97.6h0M581.3 87.1h0M578.6 87.6h0M582.2 90.6h0M578.3 98.9h0M581.7 93.9h0M578.6 85.5h0M579.1 89.7h0M578.8 94.4h0M591.7 100.6h0M591 67.5h0M588 64.3h0M591.6 40.5h0M592.6 71.8h0M592 79.3h0M589.7 93.9h0M592.5 99.8h0M592.3 31.5h0M588.1 67.8h0M590 62.2h0M592.5 39h0M588.9 61.7h0M589.1 58.1h0M591.7 57.6h0M588.1 71.5h0M587.6 62.8h0M590.5 91.7h0M590.5 62.5h0M590.9 55.7h0M588.4 57.9h0M587.9 30h0M590.3 66.2h0M588.6 58.4h0M587.5 74.3h0M589.7 66h0M591.3 86h0M592.3 79.7h0M592.3 63.9h0M590.1 59.9h0M591.1 83.2h0M587.9 73.7h0M588.3 74.3h0M589.9 63.2h0M587.7 38.3h0M587.8 24.5h0M592.1 52.6h0M588.3 26.4h0M592.5 77.6h0M590.4 37.5h0M590.7 50.1h0M591.7 65.9h0M591.2 68.9h0M588.8 78h0M591.5 29h0M589.3 77.8h0M590.6 80.9h0M591.5 101h0M588.5 104.9h0M591.8 69.8h0M592 62.6h0M592.6 63.6h0M588 69.1h0M592.4 38.7h0M588.9 48.3h0M587.8 89.7h0M587.4 42.5h0M588.5 64.5h0M588.2 63.9h0M592.7 49.8h0M592.6 49.8h0M592.7 82.2h0M590.5 61.8h0M589.7 85.8h0M589 73.6h0M587.2 60.8h0M591.1 56.3h0M591 55.3h0M592.6 92.9h0M591.5 70.2h0M589.2 69.8h0M591.7 85.8h0M591.2 87h0M588.6 57.6h0M589.9 71.1h0M588.7 52.9h0M587.8 77.2h0M592.8 61.6h0M588 60.7h0M592.5 84.5h0M588.9 88.6h0M589.5 64.2h0M588 42.8h0M589.9 46.1h0M591.2 69h0M591.5 55.9h0M592.5 118.1h0M588.2 50.8h0M589 93.5h0M592.7 54.8h0M589.4 83.2h0M591.9 69.2h0M590.1 70.2h0M591.8 52.4h0M587.4 61h0M590.5 97.5h0M590.2 77.1h0M589.7 61h0M590.1 81.1h0M588 62.6h0M590.4 57.7h0M587.2 60.7h0M591.3 74.6h0M589.6 52.2h0M589.7 61.1h0M587.9 49.1h0M591.6 83h0M590.6 52.3h0M589.7 72h0M609.6 112.5h0M606.7 88.3h0M610.7 64.3h0M610.5 139.4h0M610.9 102.8h0M607.5 80.3h0M606.8 75.5h0M607.7 77.7h0M609 80.8h0M607.1 109.9h0M608.9 67.2h0M619.5 67h0M618.7 55.4h0M621.3 37h0M621 74.6h0M618.1 78.2h0M621.4 24.3h0M617.4 36.3h0M616.7 65.8h0M616.7 60.9h0M618.5 83.5h0M617.5 66.7h0M619.3 68.3h0M616.5 48.3h0M620.5 79.9h0M618.7 28h0M620 89.1h0" stroke="#EA3418" stroke-opacity="0.43" stroke-width="2.5" stroke-linecap="round" fill="none"/>
<path d="M46.7 88.6h0M47.1 110.1h0M48.5 81.1h0M45.5 92h0M48.8 70.8h0M48.2 69.3h0M49.2 93.2h0M43.9 101.8h0M48.8 79.3h0M49.3 104.6h0M46.1 91.5h0M48.8 69.7h0M44.7 83.9h0M45.2 91.7h0M44.3 82.8h0M46.8 88.8h0M56.3 75.6h0M57.5 120.4h0M58.7 72.4h0M58.5 79.3h0M54.3 90.1h0M54.2 66.3h0M54 105.7h0M54.5 76.3h0M56.6 104.1h0M54.3 90.7h0M53.9 124.5h0M55.8 103.5h0M58.7 103.5h0M54.6 77.5h0M54.5 57.3h0M55.2 74.8h0M53.6 107.9h0M54 82.9h0M57.2 85.2h0M58.3 73.4h0M53.5 82.3h0M53.4 90.1h0M56.1 82.6h0M56.9 63.4h0M58.3 62.1h0M58.8 74.7h0M54.4 114.5h0M54.6 89.2h0M57.5 80.5h0M56.3 128.1h0M54 89.6h0M53.3 112.6h0M57.5 78.2h0M56.8 86.7h0M57.1 77.7h0M54.4 88.3h0M54.5 79.9h0M57.3 112.6h0M55.1 80.3h0M54.9 104.8h0M54.9 64.4h0M58 59.9h0M54.9 89.7h0M54.8 63.6h0M58.5 104.8h0M54.8 83.9h0M58.9 77.5h0M55.8 77.4h0M55.5 90.4h0M57.2 83.9h0M57 86h0M56.6 85.9h0M54.6 75.8h0M54.7 89.8h0M56.2 82h0M58.8 62h0M54.1 79.6h0M58.7 96.5h0M54.9 81.1h0M56 96.2h0M57.7 86.8h0M56.8 97.4h0M58.7 136.6h0M54.3 138h0M57.8 77h0M59 55.3h0M56.9 86.1h0M54.4 114h0M56.2 75h0M55 85.9h0M54.8 65.7h0M56.7 86.4h0M57.9 76.7h0M54.9 97.3h0M55.4 73.2h0M54.2 76.2h0M54.1 104.1h0M58.9 61.8h0M57.8 116.9h0M54.7 98.1h0M56.7 82.4h0M77.7 74.1h0M73.3 79.5h0M77.4 79.5h0M74.9 81.9h0M76.2 97.2h0M76.1 60.3h0M73.5 48.9h0M74.6 50.3h0M76.6 78.8h0M77.8 49.5h0M74.1 74.9h0M73.6 67.9h0M73.9 91.9h0M73.8 65.3h0M77.6 75.4h0M75.6 87.3h0M77.7 64.5h0M74.4 50h0M73.5 83.9h0M76.7 62h0M74.2 45.5h0M75.4 79.3h0M78 67h0M74 69.3h0M76.9 55.2h0M77.5 64.1h0M76.1 71.6h0M73 64.4h0M73.2 92.2h0M72.9 38.5h0M73.5 48.4h0M74.7 55.2h0M77.4 62.3h0M76.9 55.2h0M77.7 76.8h0M77.8 54.2h0M75.3 68.6h0M73.9 70h0M76.6 58.3h0M75 59.9h0M74 89.9h0M72.3 74.9h0M74.4 58.5h0M72.4 68.7h0M73.2 43.1h0M73.5 60.8h0M73.1 70.7h0M75 40.4h0M76 68.4h0M76.5 64.2h0M74.8 70.8h0M76.1 104.1h0M76.5 85h0M77.6 80.2h0M75 75.7h0M75.6 56.3h0M75.6 91.8h0M78 94h0M76.3 65.1h0M72.6 68h0M77.7 82.6h0M73.3 75.4h0M76.9 59.2h0M72.7 77.5h0M74.1 70.7h0M74.8 56.2h0M73.9 92.5h0M77.7 60h0M75 43.9h0M73.4 85.1h0M72.6 57.4h0M72.5 69.9h0M76.8 81.2h0M75 92.9h0M75.6 43h0M73.8 66.4h0M78 88h0M73.8 57.4h0M73.4 69.1h0M77.2 40.8h0M72.6 72.6h0M73.3 60.4h0M73.5 56.8h0M77.5 57.7h0M72.3 78.8h0M76.4 56.9h0M76.4 57.7h0M77.2 62.4h0M77.1 74.8h0M77.1 51.1h0M75.2 56.5h0M72.5 67.2h0M72.9 74.8h0M75.8 73.2h0M74.8 95.6h0M77 102.5h0M74.8 75.4h0M77.8 43.4h0M73.9 75.4h0M73 73.8h0M73.1 68.7h0M73.5 85h0M75.3 57.5h0M74 75.9h0M76.6 61.9h0M77.1 86.9h0M73.1 88h0M75.8 61.2h0M74.2 55.8h0M77.7 72.2h0M72.6 53.4h0M74.4 72.5h0M75.6 59.2h0M73.3 91.7h0M78.1 79.9h0M74.4 79.8h0M74.1 47.1h0M75.6 112.8h0M77.1 62.1h0M72.9 61.8h0M77.9 57.2h0M75.8 62.3h0M77.4 76.6h0M75.4 73.3h0M74 58.7h0M74.9 63.4h0M77.8 42.5h0M75.8 74h0M76.1 43.3h0M74.4 53.2h0M74.7 51.3h0M74.7 73.7h0M77.6 73.4h0M76 55.4h0M72.3 58.7h0M73.5 48.2h0M72.8 92.7h0M74.8 46.8h0M75.5 90.7h0M76.4 69.8h0M77.4 72.1h0M76.8 79.4h0M76.4 62.9h0M72.8 43.9h0M72.4 63.5h0M77.2 43.4h0M76.6 45.8h0M75.6 66.8h0M74.1 66.5h0M76.5 75.3h0M74.8 47h0M73.5 78.7h0M75.9 94.7h0M74.3 74h0M75.7 56.6h0M73.8 46h0M75.3 49.1h0M78.1 66.8h0M73.1 71.5h0M77.5 70.9h0M76.7 47h0M75.5 72.1h0M75.7 52.9h0M77.4 72.7h0M77.4 60.4h0M77.4 59.3h0M74.4 69.3h0M72.6 105.8h0M77.9 49.1h0M76.9 74.3h0M74.4 83.3h0M74.3 66.7h0M72.7 71.9h0M75.7 59.4h0M73.9 60.5h0M76.1 88.8h0M73.1 93h0M76.3 75.3h0M73.8 53.1h0M73.2 70h0M76.1 71.5h0M74.9 61.7h0M74.4 64h0M77.8 75.2h0M73.7 64.2h0M72.7 49.4h0M76 50.3h0M73.6 80.2h0M74.2 92.5h0M74.4 59.9h0M78 64.1h0M76.5 83.4h0M73.7 70.6h0M73.4 57.4h0M74.3 54.1h0M74.7 51.1h0M78 71.8h0M78.1 73.5h0M73 59.9h0M72.3 81.7h0M74.5 47.6h0M73.9 63.9h0M75.4 59.5h0M77.4 53.3h0M74.4 58.4h0M76.7 91.3h0M72.4 57.9h0M76 64h0M74.4 64.1h0M78 59h0M75.2 80.4h0M74.9 95.4h0M75.5 64.8h0M72.6 66.7h0M77.1 58h0M77.3 71.1h0M73.8 85.3h0M77.7 64.1h0M92.7 84.2h0M95.9 102.3h0M96.2 93h0M94 96.2h0M95.2 88.1h0M93.5 72.6h0M96.2 73.8h0M93.4 75.9h0M94 64.6h0M94.3 86.6h0M95.7 64.4h0M91.7 67.6h0M96.1 61.6h0M96.2 74.8h0M93.1 85.5h0M93.9 86.8h0M95.1 107h0M93 90.8h0M93.4 74.6h0M96.1 103.1h0M93.4 60h0M96.6 87h0M93 97.6h0M96.6 98.9h0M94.9 84.6h0M93.5 114.8h0M94.6 68.1h0M94.7 92.3h0M93.8 65.7h0M96.4 85.2h0M95.5 102.4h0M93.9 60h0M95.6 50.7h0M93.4 101.6h0M92 78.1h0M96.2 95.9h0M97.1 91.5h0M94.8 82h0M104.5 65.8h0M104.3 83.5h0M103.6 77h0M106.2 90.2h0M101.1 90.8h0M104.8 45.9h0M102 55.8h0M105.9 95.1h0M103.2 86.8h0M102.1 74.5h0M103 72.8h0M101.6 77.8h0M106.2 78.9h0M106.4 64.9h0M106.3 57.2h0M102.3 62.7h0M116 71.2h0M116.1 48.9h0M114.4 56.9h0M112 59.2h0M112.5 60.4h0M111 43.8h0M115.3 60.8h0M111.4 61.7h0M111.7 70.3h0M115 49h0M111.6 61.4h0M115.3 64.7h0M111.8 68.8h0M111.7 67.5h0M115.5 61.7h0M112.3 66.4h0M110.6 69.7h0M115.1 71.9h0M111.7 58.5h0M114.4 75.1h0M115.3 67.6h0M114.3 52.1h0M111.2 78.1h0M110.8 64.1h0M115.9 53.8h0M115.5 53.4h0M115.1 70.1h0M111.9 65.1h0M110.5 71.3h0M112.9 67.1h0M111.2 71.8h0M113.8 55.8h0M112.6 65h0M114.9 89.5h0M114.7 48.8h0M114.6 61.9h0M113.2 67h0M115 74h0M114.6 65.9h0M115 46.3h0M111.9 67.5h0M114.5 53.3h0M114.6 59.4h0M110.7 57h0M114.6 72.4h0M111.7 61.2h0M113.1 65.9h0M112.2 53.3h0M114.9 53.6h0M114.9 67.9h0M113.2 43.9h0M116 67.9h0M111.5 56.3h0M114.9 73h0M112.6 69.3h0M115.8 74.1h0M113.6 59h0M114.8 66.2h0M111.7 57.7h0M110.8 69.6h0M115.7 52.5h0M113.3 72.9h0M110.7 45.1h0M112.5 65.1h0M111.6 68.4h0M116 62.1h0M111.7 78.2h0M111.3 63.8h0M110.5 66.8h0M115.7 62.8h0M115.9 58.9h0M116.2 52.7h0M110.9 58.1h0M115.9 51.4h0M112.9 70.5h0M114.7 62.6h0M111.3 64.6h0M112.8 40.1h0M112.5 77.3h0M112 52.4h0M110.6 53.2h0M114.6 59.1h0M112.7 62.4h0M110.6 61.2h0M113 81.6h0M111.3 68.6h0M115.6 72.8h0M111.5 69.3h0M113.8 76.1h0M112 68.4h0M111.4 63.3h0M114.9 69.9h0M115.5 63h0M111.7 54.8h0M113.1 55.5h0M110.8 68.2h0M111 50h0M115.9 79.5h0M115 51h0M113.5 65.5h0M116 82h0M113.3 57h0M111.3 32.5h0M112.1 60.8h0M112.5 51.6h0M111.6 61.5h0M110.7 62.2h0M115.2 50.3h0M116.1 71.8h0M111.3 50.6h0M112.5 64.2h0M113.4 72.5h0M115.2 61.8h0M123.9 64.6h0M121.9 60.9h0M125.3 56.1h0M122.9 68.7h0M123.8 48.2h0M121.5 53.5h0M125.7 61.3h0M124.7 73.5h0M120.2 81.9h0M124.1 69.7h0M120.9 91.6h0M121.8 34h0M122.8 60.2h0M122.4 50h0M122.9 65.3h0M122.6 63.1h0M123.7 76.7h0M125.6 69.3h0M124.1 67.4h0M120.9 32.3h0M120.7 63.7h0M120 63.8h0M121.1 73.9h0M123.7 62.2h0M121.4 36.3h0M124.5 88.5h0M124.6 79.4h0M120.5 59.6h0M122.1 80.9h0M120.5 76.7h0M125.5 72.7h0M124.6 61h0M122.7 72.5h0M121 71.1h0M123.6 72.7h0M122.6 74.5h0M124.9 66.9h0M123.1 56.3h0M120.9 70.3h0M121.6 66.4h0M124 60.7h0M121.4 43.9h0M124.3 43.5h0M134.1 99.6h0M130.8 106.9h0M130.2 97.5h0M130.1 76.2h0M132.9 81.5h0M134 87.4h0M133.3 102.6h0M134.6 56.7h0M132.2 88.2h0M135.3 99.9h0M135 77.8h0M133.3 72.5h0M134.6 95h0M130.7 96.3h0M130.3 63.8h0M129.7 44h0M131.3 83.8h0M131.1 113.8h0M130.4 76.2h0M131.3 128.3h0M131.7 57.4h0M134.3 99.4h0M131.9 97.8h0M132 101.3h0M130.8 69.8h0M135.3 44.8h0M132.8 89.7h0M130.1 63.6h0M131.7 93.9h0M135.3 53.4h0M131.1 102.6h0M132.8 83.4h0M134.4 48.7h0M135.1 89.7h0M131.2 100.2h0M132.7 77.3h0M134 58.3h0M133.6 74h0M131.4 81.4h0M135 106.1h0M132.1 91.3h0M132.4 87.9h0M129.6 89.6h0M131.7 91.9h0M133.8 88.2h0M131.1 66.6h0M133.1 77.1h0M133.7 112.2h0M131.4 132.8h0M132.6 84.4h0M131.8 93.5h0M130.5 133.1h0M131.3 78.5h0M134.2 78.9h0M134.3 121.3h0M131 103h0M134 115.7h0M134.6 73.9h0M134.6 81.3h0M130.3 117.7h0M133.2 73.9h0M154.3 78.2h0M150.4 46.6h0M153.9 61.5h0M153.4 88.3h0M151.9 79.8h0M151.2 62.1h0M150.4 74.9h0M169.3 70.1h0M171.4 68.5h0M169.6 78h0M169.4 72.4h0M167.7 75.7h0M170.5 93.2h0M171.3 55.2h0M168.2 78.6h0M168.2 60h0M173.2 82.9h0M172.5 62.7h0M171 70.4h0M170.9 50.1h0M169 54.7h0M173.3 57.4h0M171.3 73.1h0M173.2 79h0M171.1 71.4h0M172 56.4h0M168.1 59.6h0M171.9 76h0M167.9 65.4h0M168.4 84.9h0M167.9 63.1h0M170.1 80.5h0M167.7 65.5h0M171.7 81.1h0M172.4 68.7h0M172.2 93.6h0M170.1 80.2h0M168.2 69.1h0M169.3 52.8h0M172.3 64.6h0M170.3 53.9h0M173.1 86h0M171 73.1h0M169.5 47h0M169.4 81.3h0M169.2 52h0M170.4 73.9h0M171.6 38.3h0M169.6 72.5h0M172.4 70.4h0M171.4 82.4h0M169 88.5h0M172.8 80.9h0M169.2 88.4h0M171.3 74.6h0M170.4 66h0M172.2 63.5h0M168.5 93.6h0M172.3 85.8h0M171 89h0M172.3 80.3h0M172.5 66h0M172.6 78.8h0M168.8 84.1h0M168.2 49.7h0M169 76.3h0M169.3 85.3h0M172.8 72.7h0M172.6 77.7h0M168.4 75.3h0M169.4 86.4h0M169.6 78.8h0M170.7 75.3h0M170.4 92.3h0M170.5 60h0M171.1 74.2h0M168 93h0M173.2 40.2h0M169.1 49.2h0M171.8 61.8h0M170.3 51h0M171.5 78.5h0M173 80.5h0M168.4 74.6h0M170.1 76.2h0M170.2 79.9h0M168.2 72.3h0M171.2 84.4h0M173.4 98.1h0M169.9 54.5h0M172 79.2h0M170.7 71.5h0M167.7 76.3h0M168.3 57.5h0M168.5 76.3h0M167.8 45.2h0M172.3 58.5h0M169 92.9h0M189.6 83.7h0M187.4 107.7h0M191.6 83.4h0M188.9 78h0M188.3 83.8h0M188.1 73.9h0M187.3 89.9h0M192.2 97h0M188 69.3h0M199.1 93.7h0M199 94.4h0M201.9 74.4h0M197.4 93.2h0M198.2 115.9h0M197.9 106.8h0M200.9 84.7h0M201 72.4h0M201.2 79.1h0M199.8 103.5h0M198.9 112.2h0M202 123.6h0M198.9 63.7h0M199.8 52.9h0M198.5 87.1h0M198.8 93.4h0M201.3 56.5h0M197 96.3h0M200.8 87.3h0M196.9 109.2h0M197.6 74.2h0M199.6 93.5h0M197.9 113.2h0M201.1 91.7h0M200.2 100.4h0M196.4 85.9h0M199.1 127.4h0M196.7 86.9h0M197 95.5h0M196.8 108.5h0M199.8 127.9h0M200.1 79.4h0M197.2 73.1h0M197.8 112.6h0M200.7 81.1h0M199 85.4h0M199.1 116.1h0M220.4 95.1h0M220.5 97.5h0M219.7 77.7h0M217.8 89.8h0M219.1 81.9h0M219.6 85.9h0M219 89.1h0M217.2 79.6h0M218 86.2h0M220.7 86.5h0M217.8 72.7h0M215.5 93.8h0M219.2 72h0M216.2 78.8h0M216.1 75.6h0M217.4 87.5h0M218.3 91.2h0M215.5 102.6h0M216 91.6h0M219.1 64.9h0M216.7 89.9h0M217.6 75.7h0M220.2 74.1h0M215.4 89.7h0M220.3 72h0M219.4 77h0M219.7 68.6h0M217.9 73.5h0M215.9 82.5h0M220.8 94.9h0M236.1 105.7h0M237.2 122.5h0M235.9 108.7h0M237.4 78.1h0M238.5 97.5h0M238.8 122.7h0M239.3 94h0M235.3 97.6h0M239.3 100.1h0M236.3 94h0M238.4 103.7h0M236.3 136h0M235.6 78.3h0M235 79.1h0M239.5 108.2h0M239.6 111.9h0M235.9 117.7h0M236.9 116.8h0M235.9 91.5h0M235.9 112h0M239.2 110.9h0M235.2 76h0M236.2 102.4h0M238.2 119.3h0M237.8 103.9h0M237.8 128.8h0M236.5 142.7h0M237.1 88.5h0M239.5 96.4h0M239.7 90h0M237.1 130.9h0M237.2 131.8h0M238.5 101.5h0M238.3 141h0M239.7 126h0M239.1 120.6h0M235.5 104h0M236.3 95h0M237.6 76.7h0M238.7 107.1h0M239 83.7h0M237.5 111.7h0M239.3 105h0M238.3 71.7h0M239.7 134.2h0M236.7 108.9h0M236.6 103.6h0M239.5 87h0M238.5 110.5h0M238 101.7h0M235.1 92.2h0M239.9 81h0M236.1 78.1h0M234.8 91.4h0M237.9 63.8h0M238.7 123.5h0M235.4 104.9h0M237 79.2h0M237.9 96.2h0M237.1 123.7h0M239.6 74.3h0M236.8 115.4h0M237.2 91.9h0M235.4 87.6h0M234.5 135.2h0M240.1 84.7h0M237.2 101.7h0M235.3 83.8h0M234.5 128.6h0M234.7 141.5h0M238.7 64.7h0M237.4 140.3h0M239.2 79.3h0M239.7 96.5h0M238.7 111.1h0M237 94.4h0M238.3 117.2h0M236 85.9h0M236.7 128.1h0M240 97.3h0M238.3 129h0M238.9 123.2h0M238.3 124.7h0M240 109.6h0M237.8 106.4h0M237.4 133.4h0M238.1 94.6h0M238 92.9h0M235.7 92.8h0M236.2 100.4h0M239.5 111.5h0M239 73.2h0M240 90.2h0M236.7 145.1h0M234.4 123.8h0M238.9 103.8h0M237.1 95.2h0M239.6 83.3h0M239.5 96.3h0M239.5 97.9h0M239.6 144.7h0M236.5 121h0M239.5 127.6h0M236.4 88h0M255.5 86.1h0M257.4 84.2h0M256.1 119h0M257.4 98.8h0M258.9 73.3h0M258 101.3h0M257.5 104h0M256.7 77.2h0M254.7 84.6h0M253.8 91.9h0M253.9 135.7h0M258.4 67.4h0M258.8 89.9h0M259.1 78.2h0M255.9 101.7h0M257.9 71.1h0M257.7 110h0M257.2 108.6h0M254.4 102.4h0M266.1 83.7h0M267.8 90.4h0M266.8 95.5h0M267.6 103.4h0M263.8 94.4h0M264.1 89.3h0M263.3 126.1h0M265.6 123.5h0M265.9 139.8h0M263.3 113.4h0M267 84.3h0M266 111.9h0M267.4 125.5h0M268.5 91.9h0M265.4 97.6h0M267.6 119.3h0M266.4 77.4h0M264.9 102h0M265.3 115.5h0M264.3 96.8h0M264.5 71.8h0M263.3 103.4h0M263.4 95.6h0M268.1 93.3h0M265 123.4h0M264.5 107.2h0M265.8 119h0M265.3 101.9h0M264.7 87.9h0M268.2 120h0M265.8 92h0M265.4 107.3h0M267 93.9h0M268.3 120h0M266.3 117.4h0M267.5 132.5h0M268.1 109.8h0M265 96.1h0M263 95.9h0M268.7 80.9h0M267.6 104.3h0M265 89.9h0M265.9 102.2h0M267.2 84.7h0M268.5 110.3h0M263.7 74.7h0M263.4 83.3h0M263.3 126.4h0M268.2 77.9h0M268.6 85.2h0M268.4 102.4h0M265.3 110.1h0M263.6 114.4h0M266.1 89.8h0M267 115.5h0M263.7 105.3h0M265.5 120.6h0M268.4 123.3h0M264.4 110.1h0M267.3 113h0M266.4 138.7h0M264.2 82.6h0M268.2 117.1h0M263.1 101h0M265.1 100.3h0M264.3 88.7h0M265.4 118.2h0M265.1 87.6h0M263.9 99.3h0M263.5 124h0M267.8 108.9h0M268 90.2h0M264.4 130.5h0M263.2 125h0M267.4 135.8h0M267.6 137.9h0M267.2 102.6h0M263.3 118.7h0M265.3 116.3h0M264.1 112h0M267.7 98.2h0M268.2 66.7h0M268.3 108.8h0M264.6 96.1h0M274.1 127.6h0M273.6 84.6h0M272.7 87.7h0M278.1 79h0M278.3 77.3h0M278 99.1h0M276.7 112.1h0M275.6 129.8h0M273.7 89h0M277.1 101.3h0M278.2 82.7h0M273 79.4h0M275.9 83.3h0M292.1 66.5h0M296.7 66.1h0M294.9 67.6h0M294 64.5h0M296.8 72.6h0M297.3 48.2h0M292.5 77.5h0M295.6 78.5h0M296.1 65.9h0M295 74.4h0M296.1 53.8h0M294.2 68h0M295.3 70.1h0M295.6 81.7h0M293.9 72.2h0M294.1 64.5h0M295.5 73.9h0M292.5 74.1h0M293.8 75.9h0M293.8 60.4h0M294.3 70.5h0M292.8 62.1h0M295.8 72.1h0M295.6 61.8h0M293.9 70.8h0M295.8 71.9h0M295.7 69.9h0M295.7 70.6h0M296.3 77h0M291.8 51.5h0M296.2 66.8h0M296 74.6h0M295.4 63.9h0M291.9 62.4h0M295.2 71.8h0M296.1 64.8h0M293.4 52.4h0M296.8 67.1h0M292.1 79.5h0M291.8 60.3h0M296.6 77.9h0M296.9 71h0M296.6 48.3h0M295.6 80.4h0M297.1 68h0M292.8 66.7h0M297.2 61.1h0M297.3 66.2h0M293.7 64.6h0M292.4 63.8h0M292.6 70.6h0M293.6 63.5h0M292 58h0M295.5 53.3h0M292.6 60.4h0M295.2 60.8h0M296.6 70.7h0M295.4 67.2h0M295.2 55.2h0M296 57.3h0M296.7 72.3h0M296.6 68.8h0M295.9 58.6h0M295.4 68.9h0M294.6 73.8h0M292.7 72.9h0M293.5 68.6h0M293.8 71.1h0M295.9 61.7h0M296.4 78.5h0M296.1 70.1h0M295.3 74.5h0M291.6 63.5h0M297.2 62.4h0M294 68.8h0M296.3 82.8h0M292.9 82.1h0M295.4 81.5h0M294.8 74.1h0M292.8 71.1h0M293.6 61.6h0M292.9 89.3h0M296.3 59.7h0M296.4 56.9h0M294.8 45.6h0M296.6 62.7h0M293.6 68.2h0M294.5 81.1h0M295.6 67.6h0M297.1 61.4h0M293.2 59.6h0M292.5 61.2h0M293.1 78.6h0M293.3 72.2h0M296.8 73.7h0M293.3 94.7h0M294 63.5h0M295.4 63.7h0M294.7 56.4h0M293.4 69.8h0M294.2 58.4h0M293.8 74.2h0M294.7 67.1h0M292.9 62.1h0M295.5 66.6h0M291.9 61.5h0M311 63.8h0M310.9 64.5h0M311.1 58.3h0M316.3 73.4h0M315.5 82.1h0M314.5 39.3h0M311.6 80.1h0M311.6 63.4h0M314.1 54.2h0M314.4 57.9h0M314.6 69.4h0M313.5 72.5h0M313.4 59.5h0M310.9 65.3h0M315.8 84.5h0M310.9 80.9h0M313.1 57.7h0M314.7 63.4h0M316.1 60.4h0M312.5 72.3h0M314.4 51.3h0M316.1 78h0M311.5 82.9h0M315.3 57.7h0M311.9 68.4h0M311.6 68.6h0M314 90.8h0M312.8 54.2h0M313.6 67.3h0M310.9 84.3h0M313.4 63.2h0M314.7 79.8h0M315.8 69.9h0M315.9 51.8h0M316.3 74.2h0M311.2 33.1h0M315.4 69.8h0M315.9 99.7h0M313.8 62.9h0M311.4 72.1h0M310.8 48.3h0M313.8 47.1h0M313.9 93.7h0M315 60.8h0M311.9 70.3h0M314.1 55.1h0M311.3 53.2h0M313.7 65h0M313.7 53.2h0M312.9 83.1h0M313.7 59.8h0M314.4 67.8h0M311.3 108.2h0M311.9 67.3h0M313.8 46.5h0M315.8 42.1h0M312.5 57.7h0M311.6 73.9h0M331 77.9h0M331.6 72.3h0M335.4 71.5h0M334.9 88.1h0M332.6 59.9h0M335.3 69.1h0M335.3 58.3h0M330.4 81.5h0M330.6 52.8h0M334.8 74h0M335 72h0M335.5 91.9h0M334.8 110h0M331 73.6h0M334.5 77.6h0M334.4 77.6h0M331.4 74.2h0M333.5 74.3h0M329.8 85.2h0M330 57.2h0M332.2 45.8h0M330.4 79.7h0M332 58.6h0M332.6 77.8h0M330.4 84.3h0M334.7 81.1h0M335.4 70h0M329.9 64.1h0M332.6 81.7h0M330.8 44.5h0M330.5 57.5h0M332.1 75.7h0M331.2 64.1h0M331.9 92.2h0M339.3 95.6h0M340.6 94.5h0M339.3 102.1h0M341.9 115.1h0M344.7 85.3h0M344.1 102.8h0M341.9 80.3h0M341.9 113.1h0M341.3 85.6h0M344.9 106.5h0M343.1 99.8h0M339.9 108.3h0M342.8 101.6h0M343.1 102h0M339.2 104.4h0M344.4 88.9h0M344.1 97.3h0M343 103.8h0M340.6 86.3h0M341 70.2h0M344.1 111h0M342.8 100.5h0M340.1 107.3h0M339.9 106.6h0M341.4 94.7h0M340.2 99.9h0M342.7 110.6h0M343.9 98h0M340.7 96.5h0M339.9 97h0M339.3 81.5h0M339.4 101.3h0M342.5 86h0M341.7 99.8h0M343.9 98.6h0M344 99.5h0M343.9 87.3h0M343.1 82.1h0M343 102.3h0M339.7 98.3h0M341.2 108.4h0M342.3 90.7h0M341.8 93.2h0M344.2 88.5h0M341.1 73.3h0M343.4 106.7h0M340.3 99.6h0M342.9 84.9h0M341.1 107.9h0M339.9 78.1h0M342.7 92h0M345 90.7h0M341.2 83.1h0M343.1 98.4h0M342.7 105.6h0M339.4 95.5h0M342.7 100h0M340.1 101.4h0M343 95.9h0M342.6 100.4h0M340.5 95.7h0M343.3 95.7h0M344.4 93.2h0M340.4 101.8h0M341 98.2h0M341.3 83.2h0M344.1 84.9h0M344 72.9h0M341.6 98.3h0M343.7 108.1h0M342.9 102.7h0M339.6 72.1h0M340.8 88.8h0M341.4 101.1h0M340.9 97.3h0M340.5 98.2h0M341.2 77.8h0M342 65.7h0M340.5 76.4h0M344.8 83.3h0M344.6 95.7h0M343.3 90h0M339.3 85.6h0M341 96.2h0M340.1 87h0M339.6 96.4h0M339.7 101.5h0M339.8 70.3h0M341.6 90.4h0M342.7 95.3h0M341.5 87.9h0M339.2 77.6h0M341 69.6h0M341.8 104.9h0M341.1 98.3h0M344.6 102.7h0M339.7 108.9h0M345 94.5h0M340.9 103.7h0M343.2 112.8h0M343.9 88.4h0M344.8 85.7h0M344.3 89.4h0M353.1 76.4h0M349.3 134.2h0M350.6 76.6h0M350.6 97.6h0M353.9 78.7h0M349.2 70.4h0M349 82h0M353.1 108.2h0M351 98.8h0M349.9 116.7h0M351.3 56.2h0M352.6 119.9h0M352.2 107.7h0M349.5 79.8h0M353.2 83.1h0M351.9 85.5h0M349.6 115.5h0M352.3 96.5h0M351.6 120.2h0M349.1 72.6h0M349.6 40.8h0M350 76.2h0M353.7 117.1h0M350.7 49.4h0M351.2 86.3h0M352.5 89.6h0M348.8 82h0M353.5 95.6h0M350.8 100.9h0M352.4 75.2h0M353.9 127.9h0M352.2 142.8h0M349 95.5h0M352.8 88.1h0M351.3 66.5h0M350.5 133.5h0M353.7 114.4h0M353.8 103.9h0M354.5 54.2h0M350.8 93.7h0M352.5 50.7h0M349.4 131.4h0M349.6 86.1h0M352.4 70.5h0M351.9 96.5h0M352.5 59.4h0M349 90h0M351.3 110.4h0M352.8 79.1h0M349.6 64.7h0M350.9 85.9h0M350.8 93.8h0M351.1 97.7h0M348.9 70.3h0M350.5 99.7h0M352.5 63.4h0M353.8 76.7h0M353.8 89.5h0M353.5 84.3h0M348.9 97.5h0M350.4 91h0M349.8 106.3h0M350.7 61.5h0M350 100h0M352.4 96.7h0M353.8 93.5h0M351.3 84.6h0M353.5 101.2h0M353.9 84.9h0M349.9 106.2h0M353.9 73.6h0M350.3 116.3h0M353.2 140.9h0M351.1 88.5h0M373 67.3h0M370.4 53.2h0M371.9 53h0M371 57.7h0M371.2 67.6h0M373 50.4h0M368.3 57.7h0M369.1 49.9h0M368.9 73.4h0M370 80.8h0M373.6 56.8h0M372.6 64.1h0M368.4 77.1h0M372.5 61.8h0M368.9 85.2h0M369.8 87.4h0M369.3 76.8h0M370.9 86.1h0M373.6 83h0M373.5 60.7h0M371.1 81h0M369.7 65.5h0M369.9 49.5h0M371.5 68.3h0M369.1 54.7h0M368.8 46.2h0M372.6 73h0M370.5 59.4h0M371.8 66.6h0M371.7 65.3h0M372.4 81.3h0M372 51.7h0M369.3 60h0M368.7 61.5h0M370.7 55h0M372.9 58.5h0M371.2 39h0M372.3 63.8h0M370.4 62.4h0M368.1 79.4h0M373 44.7h0M368.6 61.2h0M368.7 61.2h0M371.5 74.4h0M370.1 80.2h0M371.8 75.4h0M370.5 65.4h0M368.3 57.3h0M369.3 72.3h0M370.2 74.9h0M370.5 61.4h0M372.1 64.8h0M368.2 70.8h0M372 83.3h0M370.8 62.2h0M372.6 59.6h0M369 67.3h0M371.4 67.8h0M370.9 73.2h0M368.8 62.9h0M370 50.7h0M369.4 83.8h0M370.2 68.5h0M367.9 61.9h0M372.9 49.4h0M369.1 78.3h0M373 89.5h0M371.6 50.6h0M373.2 46.1h0M373.4 57.5h0M371.8 61.6h0M369.7 75.6h0M372.6 63.9h0M370.5 58h0M372 92.2h0M373.4 76.7h0M372.2 67.1h0M372.6 81.2h0M372.5 66.3h0M368.1 76h0M368.1 66.7h0M369.5 61.7h0M372.6 60.1h0M371.4 61.7h0M372.2 58.2h0M368.4 44.8h0M371 49.4h0M373.2 67h0M370.2 72.1h0M372.7 54.8h0M372.2 59.8h0M371.5 66.9h0M369 39.5h0M372.2 53.8h0M369 72.6h0M370.6 57.1h0M372.1 62.6h0M373.1 65.6h0M369.5 53.5h0M368.9 53.6h0M369 63.8h0M372.6 60.6h0M372.1 66.6h0M390 75.2h0M388.8 69h0M389.4 101.4h0M388.1 92h0M388.3 78h0M390.6 96.7h0M389.1 79.8h0M392.6 80.9h0M390.6 58.5h0M387.8 77.3h0M392.1 99h0M391.4 71.1h0M390.5 88.8h0M391.5 69.6h0M387.9 77.4h0M390.3 74.5h0M387.9 89.4h0M389.6 75.7h0M387.3 70.4h0M390.8 77.7h0M387 93.9h0M391 86.4h0M391.1 68.5h0M390.5 71.2h0M389.7 53h0M387.6 80h0M392.4 74.8h0M391.1 90.3h0M387.7 69.7h0M388.7 85.1h0M387.9 83.2h0M390.1 62.6h0M389.6 103.2h0M391.9 75.8h0M389.4 68.9h0M390.9 71h0M388.9 82.9h0M392.4 86.9h0M389.5 84.3h0M388 104.6h0M388.2 61.1h0M390.3 71.2h0M392.4 93.8h0M389.2 72.5h0M392.6 92.8h0M389.9 102.2h0M391.4 83.5h0M389.9 67.8h0M390.6 73.8h0M388.3 108h0M389.9 77h0M388.3 65.5h0M390.5 82.7h0M388.7 69h0M387.6 63.6h0M389.3 98.6h0M391.2 64.3h0M391.1 64h0M389.1 85.8h0M387.6 108.7h0M387.9 98.2h0M387 76.9h0M388.9 75.1h0M391.1 113.2h0M389.7 68.5h0M390.9 99.2h0M390.1 93.1h0M390.9 98.2h0M389.7 62.5h0M390 75.3h0M389.4 84.5h0M388 77h0M390.8 93.1h0M389 75.7h0M388.1 47.6h0M392.1 78.8h0M389.7 73.4h0M388.3 68h0M392.1 87.8h0M392 65.6h0M388.5 74.2h0M389.6 58.2h0M388.5 74.4h0M391.3 84.8h0M389.8 72.6h0M391.9 94.5h0M391.2 71h0M388.9 85.8h0M388.2 83.3h0M390.6 72.2h0M387.9 75.7h0M392.6 82h0M391.7 85.7h0M391.3 91.1h0M391 75.3h0M389.2 73.4h0M392.3 81.2h0M390.1 106.2h0M391.7 80.6h0M392.3 74.9h0M409.4 98.2h0M407.7 82.2h0M409.3 91.9h0M408.9 92.2h0M406.1 80.2h0M409 96.1h0M406.4 116h0M410.1 80.3h0M408 79.2h0M407.2 98.7h0M407.3 110.6h0M409.3 98.5h0M409.9 76.3h0M409.8 106.4h0M410.5 105.5h0M408.7 96.1h0M407 99.2h0M421.3 96.1h0M418.8 72h0M419.6 71h0M417.5 74.2h0M415.8 95h0M417.9 102.4h0M418.9 74.3h0M417.4 98.3h0M419.8 80.3h0M419.5 77.1h0M417.5 81.9h0M416.3 102.8h0M420.8 117.3h0M421.2 68.6h0M418.6 77.7h0M417.7 104.6h0M421.1 78.4h0M416.8 99.2h0M418.7 88.6h0M418.5 70.7h0M421.3 68.5h0M417.8 63h0M417.8 73.9h0M416.5 85.9h0M417.2 83.5h0M418.7 78.5h0M420.9 68.2h0M418.3 84.1h0M415.6 78.2h0M418.4 72.7h0M415.9 64.9h0M418.9 92.5h0M419.5 83.5h0M418 77.2h0M420.5 95.5h0M417.6 88.7h0M419.4 98.2h0M419.2 46h0M421.1 86h0M415.5 96.5h0M418.6 67.4h0M419.7 93.8h0M418.6 79h0M419.6 99.2h0M418.5 71.1h0M419.4 76.6h0M418.6 82.5h0M418.1 61.2h0M417 75.1h0M416.5 80.6h0M418.2 124.8h0M420.5 81.6h0M417.8 73.5h0M420.3 80.3h0M420.3 75.3h0M419.3 100.1h0M418.4 86.4h0M417.6 101.4h0M416.8 89.8h0M416.9 91.2h0M427.1 75.7h0M430.2 92.8h0M428.2 62.2h0M428.9 83.9h0M428.1 57.7h0M426.5 46.3h0M425.8 71.7h0M425.1 70.7h0M428.5 65h0M426.9 79.3h0M426.2 75.7h0M426.7 62.9h0M428.4 80.3h0M425.5 66h0M425.3 57.1h0M427.7 60.2h0M428.9 56.3h0M428.7 69.2h0M425.7 68.7h0M425.5 68.3h0M427.4 70.2h0M425.3 75.2h0M427.1 72.3h0M428.5 85.4h0M427.7 79.9h0M427.6 61.5h0M425.2 67.1h0M426.2 81.4h0M428.9 65.5h0M430.2 69h0M427.9 81.4h0M427.3 83.3h0M427.9 57.5h0M427 73.6h0M430.4 58.8h0M444.6 109.7h0M447.5 85.3h0M448.4 82.3h0M444.5 113.4h0M444.9 97.4h0M448.5 90.5h0M447.3 77.8h0M444.4 71.3h0M447.7 70.9h0M446 100.5h0M448.2 85.4h0M444.7 91.7h0M449.7 88h0M446.8 82.4h0M448.4 78.9h0M445.5 119.3h0M446.6 81.3h0M448.5 77.8h0M445.9 91.8h0M448.4 88.3h0M444.2 83.7h0M447.2 72.6h0M449.8 82.9h0M449.1 101.3h0M445.1 84.5h0M446.3 89.5h0M444.6 71.7h0M448.9 104.8h0M448.7 90.5h0M449.8 88.5h0M449 114.6h0M446.9 98.2h0M449.8 114.3h0M448.6 111.8h0M449 72.3h0M445.9 101.2h0M465.5 43.6h0M465.9 53.6h0M468.3 55.4h0M465.4 81.5h0M467.2 72.7h0M463.3 71.6h0M465 46.9h0M465.1 83.2h0M465.5 64.3h0M464.1 64.8h0M466 78h0M464.3 66.9h0M464.1 64.5h0M465.9 72.9h0M464.3 58.8h0M468.7 66.5h0M467.2 58.2h0M464.4 55.7h0M467.2 73.4h0M463.3 70.5h0M467.9 56.4h0M464.3 46.9h0M463.8 70.4h0M463.6 60h0M463.8 71.5h0M467.1 58.6h0M464.2 89.3h0M463.4 56.1h0M467.2 61.9h0M467 64h0M466.7 55.4h0M464.9 68.5h0M463.8 58.5h0M464.2 62h0M467.5 62.9h0M466.3 75.4h0M467.1 71.5h0M464.8 72.4h0M465.1 73.7h0M468.6 69.4h0M464.2 81.2h0M468.5 73.5h0M467.9 56.7h0M466.9 58.5h0M464.8 70.1h0M468.6 64.6h0M464.1 66.3h0M468.8 68.2h0M465.4 68.4h0M463.3 70.4h0M464.9 57.1h0M468.2 68h0M468.5 58.9h0M466.9 69.8h0M467.6 51.7h0M467.7 67.2h0M467.5 77.1h0M463.2 58.3h0M466.1 66.7h0M463.7 60.4h0M463.2 71.6h0M464.5 65.4h0M466.4 64.7h0M465.6 69.6h0M467.7 74.8h0M463.9 78.4h0M465.6 52.6h0M463.4 57.1h0M467.2 59h0M464 63.7h0M465 76.6h0M463.3 64.7h0M466.8 45h0M467.1 65.6h0M464.3 69.1h0M465.8 58.6h0M463.4 62.1h0M468.8 63.6h0M464.5 58.2h0M465.9 71.6h0M465 73.3h0M465.1 63.9h0M467.8 58.7h0M463.3 77.4h0M468.9 79.7h0M467.1 77.1h0M466 71.8h0M465 78.5h0M468.3 55.4h0M467.2 62.4h0M467.9 51.3h0M464.3 75.8h0M466.6 57.2h0M464.1 57.2h0M464 69.3h0M465.9 62.4h0M467.4 70h0M467.5 70.7h0M464.6 64.1h0M487.2 95.8h0M487.7 88.4h0M484.8 81.9h0M487.3 63.8h0M484.7 71.5h0M483.3 74.8h0M488 67.2h0M487.2 51.9h0M484.3 66.9h0M487.2 64.6h0M485.7 69.6h0M484 108h0M483.3 68.9h0M483.7 63.7h0M482.9 61.5h0M486.9 78.9h0M486.4 81.4h0M483.5 82.6h0M484.2 56.6h0M484.8 78.3h0M486.6 54.6h0M486.3 90.5h0M483.1 70.4h0M485.8 89.4h0M487.4 95.7h0M484.1 64.3h0M484.3 99.6h0M485.6 86.8h0M485.8 81.2h0M482.5 93.4h0M482.5 83.7h0M485.9 95.7h0M487.4 71.8h0M502.2 82.8h0M503.3 105.6h0M503.9 93.3h0M501.6 64.1h0M507 66.9h0M505.1 81.5h0M503.4 62h0M504.5 58.5h0M505.7 79h0M504.8 90.5h0M503.9 87.3h0M502.5 104.4h0M505.5 82.2h0M506.8 76h0M502.6 76.9h0M504.2 78.1h0M505.7 68h0M504.1 78.2h0M505.5 75.1h0M502.7 75h0M505.8 100.6h0M504.9 79.2h0M502 58.4h0M504.4 82.3h0M503 89.3h0M505 73.7h0M505.5 73h0M503.5 81.8h0M504.1 60.9h0M502.5 82.1h0M502 70.9h0M504.4 93.1h0M505.4 75.7h0M504.7 73.6h0M502.1 78.2h0M501.5 101.4h0M505.6 113.4h0M506 86.9h0M504.4 69.7h0M506.2 84.2h0M503.9 64h0M501.5 72.9h0M506.7 86.5h0M503.2 87.3h0M504.9 80.9h0M506.4 79h0M506.6 67.9h0M502.9 94.4h0M502.4 74.9h0M501.9 81.8h0M503.5 103.6h0M501.6 72.6h0M513.5 56.6h0M514.8 55.2h0M515.9 86.9h0M515 80h0M514.6 95h0M512.9 74.5h0M512.2 71.6h0M512.5 71.9h0M513.4 66.4h0M511.2 66.1h0M513.4 113.8h0M511.1 74.7h0M512.5 74h0M515.4 71.4h0M511.4 73.8h0M511.5 92.1h0M513.8 69.4h0M513.8 83.5h0M513.1 67.6h0M512.8 84.8h0M535.5 57.8h0M535.7 72.3h0M535.6 104.9h0M532.3 78.3h0M535.3 104.4h0M533.6 67.9h0M532 78.9h0M530 66.6h0M532 97.1h0M535 76.7h0M531.1 86.6h0M532 94.6h0M530.6 93.7h0M534.9 85.7h0M533.6 71.3h0M535.1 78.1h0M535.2 63.5h0M531.4 76h0M530.7 98.5h0M531.8 65.5h0M533.6 74h0M534.8 90.4h0M533 78.2h0M534.7 89.8h0M530.7 101.9h0M533.3 79.9h0M532 69.5h0M530.8 71.2h0M532.5 55.3h0M531.6 79.5h0M533 102h0M534.8 62.8h0M535.4 62.5h0M533.4 89.2h0M533.5 99.2h0M531.1 75h0M531.7 52.3h0M534.7 64.1h0M532.7 85h0M532.7 90h0M530 86.2h0M535 81h0M532.3 63.3h0M532.5 86.5h0M533.9 88.7h0M535.6 90.8h0M530.7 82.3h0M533.6 90.2h0M533.2 101.4h0M533 94.5h0M532.2 83h0M530.8 98.4h0M534.1 70.2h0M532.6 85.7h0M534.7 76.2h0M535.4 66.3h0M532.3 102.9h0M534.2 96.6h0M534.8 54.5h0M533.4 89.6h0M531.6 71.3h0M535.4 76.9h0M535.2 106.9h0M534.4 52.4h0M532.9 93.9h0M531 89.1h0M532.4 81.8h0M535.2 90.2h0M533.7 93h0M535.2 85.6h0M530.2 78h0M531.8 82.4h0M531.4 90.9h0M531.7 83.6h0M535.3 82.1h0M533.6 87.5h0M530 73.2h0M530.9 102.2h0M532.6 92.3h0M533.2 63.4h0M531.1 83.9h0M534.4 83.7h0M532.3 61.1h0M554.3 83.7h0M553.9 48.3h0M554 102.4h0M550.2 105.9h0M552.8 128.2h0M554.3 99.2h0M553.8 108.8h0M550 99.9h0M554.4 98h0M552.5 68.1h0M554.6 73.5h0M550.3 91h0M550.6 82.6h0M549.8 68.6h0M553 93.2h0M551.9 83.2h0M549.6 117.3h0M553.3 106.6h0M549.8 73.5h0M553.8 104.9h0M550.3 92.1h0M552.9 99.3h0M549.3 82.1h0M550.2 112.7h0M554 106.4h0M549.6 114.4h0M550.2 127.9h0M549.7 130.4h0M551 92.2h0M553.9 96.4h0M561.9 80.3h0M559.1 72.9h0M559.3 90.4h0M560.7 77.2h0M558.5 67.8h0M559.9 73.5h0M559.7 78.6h0M562.4 73.1h0M559.6 75.6h0M558.9 82.5h0M560.5 74.4h0M563.1 78.8h0M563 76h0M561.7 79.8h0M559.8 82.4h0M562.7 75.7h0M563.7 76.5h0M560.4 79.1h0M560.2 68.9h0M559.3 77.7h0M561 95.6h0M563.8 86.1h0M560 81h0M559.5 86.9h0M559.6 79.7h0M562.7 85.7h0M563.4 94.2h0M562.6 79.4h0M558.6 80.5h0M561.1 82.1h0M560.1 88.4h0M560.2 82.3h0M559.2 71.9h0M561.1 75.2h0M562.5 77.6h0M563.3 85.4h0M561.9 74.6h0M560.9 79.4h0M563.4 72.2h0M563.3 75.7h0M564.2 77.6h0M560.1 70.2h0M564 81.3h0M562.5 73.5h0M562.4 76.6h0M559.1 66.5h0M563.6 82.4h0M558.6 77.4h0M563.1 78h0M563.4 71.9h0M562.5 81.9h0M562.5 74.9h0M560.7 67.2h0M563.8 66.9h0M562.5 89.1h0M560.5 88.4h0M563.9 78.4h0M559.8 70.6h0M561.1 85h0M560.5 89.7h0M562 72.7h0M561.8 66.9h0M563.6 83.2h0M562.4 81.9h0M561.5 81.4h0M560.9 77.1h0M562.2 80.4h0M564 87.6h0M560.6 84.9h0M559.8 72.4h0M560.2 72.9h0M560.2 77.1h0M558.5 75.3h0M560.7 89.1h0M559.1 82.7h0M561.1 76.3h0M564.2 85.4h0M561.3 87.7h0M561.1 74.3h0M561.2 97.5h0M563.9 73.6h0M563.1 85.9h0M560 70.8h0M558.6 65.5h0M562.1 76.9h0M561.5 85.7h0M558.7 77.5h0M560.6 81.7h0M563.3 70h0M561.4 77.1h0M560 69.4h0M559.8 92.7h0M560.5 77.4h0M563.5 75.7h0M561.9 65.5h0M559 68.7h0M561.2 73.2h0M561.7 77.3h0M561.2 69.2h0M558.5 74.9h0M581.5 84.6h0M580.2 96h0M582.3 101.3h0M578 81.4h0M578.9 98.1h0M579.7 99h0M582.2 100.1h0M578.3 97.1h0M582.5 98.3h0M579 106.9h0M581.7 88.8h0M580.8 81h0M582.4 86.4h0M577.6 97.3h0M579.6 100.1h0M580.6 85.8h0M579.6 82.2h0M581.3 85.6h0M579.3 103.6h0M577.7 98.1h0M582.5 101.8h0M580.9 98.4h0M578.6 98.6h0M579.5 99.1h0M588.4 101.9h0M588.9 33h0M587.6 58.3h0M587.4 53.9h0M589.8 79.9h0M589.9 59.1h0M587.8 64.6h0M591.5 88.1h0M587.4 49.8h0M591.5 72.3h0M591.9 72.6h0M591.4 47.5h0M587.4 70.8h0M591.5 75.4h0M589 50h0M591.7 53.4h0M589.3 67.2h0M589 55.4h0M587.2 64.7h0M589.6 66.1h0M592 88.5h0M590.4 51.4h0M588 70.7h0M592.3 51.1h0M591.2 56h0M590.2 63.1h0M589.4 79.5h0M591.2 91.5h0M590.3 69.2h0M589.4 63.8h0M588.4 74.2h0M589.4 67.1h0M587.9 66.6h0M591.9 71.7h0M587.8 75h0M592 82.1h0M592.7 76.6h0M587.8 87.2h0M589.9 55.4h0M592.6 64.1h0M588.7 111.5h0M592.5 77.9h0M592.1 59.9h0M591.9 78.1h0M590.3 89.3h0M591.6 72.1h0M589.2 96.2h0M589.6 65.1h0M588.4 29.9h0M588.4 59.5h0M589.2 93.1h0M591.5 94.1h0M589 55.3h0M591.7 66.8h0M592.2 82.8h0M591.3 57.3h0M587.6 64.5h0M588 67.4h0M588.5 87.9h0M587.7 54.7h0M587.6 58.7h0M588.9 47.5h0M590.4 79.2h0M591.5 59.4h0M588.4 51.9h0M590.2 64.7h0M592.1 46.2h0M589.7 51.3h0M589.9 65.8h0M590.5 55.6h0M591.2 38.2h0M589.5 76.4h0M592.5 51.6h0M590.9 58.4h0M590.6 76.8h0M591.7 65.6h0M589.6 64.8h0M588.1 41.1h0M592.7 69.7h0M587.6 43.9h0M588.5 64h0M592.8 44.8h0M592.7 57.9h0M588.3 71h0M587.4 77.6h0M592.2 47.5h0M591.6 91.6h0M588.2 48.5h0M589.5 79.4h0M592.6 28.7h0M590.4 52.5h0M592.5 74.7h0M589.7 65.7h0M588 95.3h0M591.1 47.4h0M589 93.9h0M589.9 62h0M587.4 82.7h0M589 56.1h0M590 60.4h0M588.5 107.7h0M592.8 56.5h0M587.5 87.7h0M588.5 63h0M590.2 72.2h0M587.7 57.7h0M592.3 82.8h0M591.4 60.8h0M587.2 71.7h0M610.9 93.2h0M609.9 80.4h0M610.9 62.6h0M606.2 95.9h0M606.6 89.3h0M610.3 66.6h0M608.5 121.7h0M610.6 100.9h0M607.9 110.7h0M611.2 89.1h0M608.3 106.2h0M621.1 27.9h0M618.9 75.8h0M616.1 34.9h0M618.4 39h0M616.5 79h0M617.9 38.9h0M616.6 49.8h0M619.8 32.6h0M616.7 50.3h0M616.9 74.2h0M620.8 64.1h0M618.4 62.1h0M620.1 51.4h0M617.7 102.2h0M617.1 47.9h0M621 50h0" stroke="#EA3418" stroke-opacity="0.43" stroke-width="2.5" stroke-linecap="round" fill="none"/>
<path d="M44.1 73.8h0M46 110.8h0M47.4 79.2h0M47.1 99.4h0M49.4 87h0M47 81.4h0M44.1 106.7h0M46.4 74.5h0M46.9 74.7h0M44.6 67.4h0M49.2 98.3h0M48.3 100.4h0M43.7 88.1h0M45.7 90.9h0M48.5 91.8h0M57.8 64.9h0M55.3 87.1h0M59 96.2h0M57 79.7h0M57.8 113.9h0M58.5 83.3h0M53.3 72.9h0M54.6 90.3h0M58.5 75.2h0M54.3 59.8h0M56.5 102.6h0M56.2 109h0M54.8 130.7h0M57.8 67.6h0M58.8 126.9h0M57.4 85.2h0M59 107.7h0M58 130.7h0M55.7 87h0M56.5 108.3h0M54.4 83.7h0M57.5 90.1h0M58.1 110.3h0M53.6 106.1h0M57.1 73.7h0M54.7 69.1h0M56.2 86.9h0M57.6 112.1h0M57 91.2h0M57.9 129.8h0M55.3 85.9h0M56.2 81.8h0M54.4 84.1h0M54.1 95.3h0M57.3 85.1h0M53.4 50.8h0M56.6 50.6h0M56.1 85.9h0M58.1 78.1h0M59 104.6h0M58.7 71h0M58.7 121.6h0M53.5 120.2h0M56.5 99.9h0M59 89.9h0M57.6 129.7h0M54 84.9h0M58.3 58.6h0M58.6 90.3h0M57 64.9h0M55 52.3h0M56.7 101.4h0M54.7 105.9h0M54.6 113.7h0M54.4 122.9h0M54.5 103.6h0M53.6 45.6h0M57.6 80.6h0M54 121.1h0M55.4 87.9h0M53.6 85.7h0M54.8 48h0M56 77.9h0M57.9 88.5h0M57.6 80.2h0M54.8 95.5h0M58.2 106h0M54.7 70.3h0M57 86.5h0M53.9 93.2h0M53.9 83h0M57 77.7h0M53.8 97.3h0M55 110.3h0M54.4 81.2h0M53.3 105.7h0M58.6 95.4h0M56.1 61.2h0M58.2 87.1h0M57.5 84.3h0M55 118h0M75.3 64.3h0M76.9 93.3h0M76 32.4h0M73.3 48.9h0M72.5 67.4h0M72.4 59.7h0M73.1 78.1h0M73.9 84.3h0M72.6 66.8h0M73.1 65.7h0M76.9 39.2h0M72.9 82.1h0M76.9 80.9h0M73.7 68.7h0M76.2 81.4h0M74.1 58.5h0M72.5 71.3h0M77.1 59.6h0M77.2 64.3h0M73.5 63.4h0M77.3 51h0M73.6 49.2h0M75.2 50.9h0M73.6 33.7h0M74.6 76h0M75.2 56.6h0M73.2 74.1h0M75 84.9h0M75.3 66.9h0M74.5 45.8h0M74.6 69.8h0M76.6 52.4h0M77.3 63.8h0M76.5 58.7h0M76.8 58.8h0M75.3 46.5h0M73.5 95.1h0M74.6 63.3h0M73.6 51.2h0M75.6 85.1h0M77.2 73.8h0M76.5 63.1h0M72.6 42.4h0M77.8 68.9h0M73.3 46.8h0M76.3 92.4h0M75 71.8h0M75.6 66h0M76.3 48.3h0M75.9 69.2h0M77.1 82.4h0M76.9 68.6h0M72.6 53.9h0M75.9 87.3h0M73.4 66.6h0M73.8 88.6h0M77 60.3h0M75.1 84.7h0M72.8 40.9h0M76.8 75.8h0M76.5 68h0M77.3 46.2h0M76 79.9h0M78 71.7h0M74.5 92.8h0M75.7 67h0M76.3 52.1h0M73.7 45h0M76.8 45.6h0M73.4 64.4h0M72.9 53.6h0M78.1 67.4h0M73.8 52.1h0M77.8 76.8h0M76.2 88.8h0M74.4 63.2h0M76.7 59.8h0M73 59.5h0M73.6 36h0M76 48.8h0M73.2 71h0M75.2 77.5h0M73.8 78.2h0M72.7 60.5h0M73.4 58.7h0M73.5 45.5h0M73.5 60.1h0M77.3 78.5h0M74.5 72.6h0M77.3 51.9h0M75.4 83.8h0M72.9 41.4h0M72.6 52h0M77.3 62.9h0M74.6 58h0M77.6 51.6h0M75.4 75.8h0M76 71.6h0M75.9 97h0M75.8 48.2h0M74 70.9h0M76.4 75.5h0M72.4 80.5h0M76.8 26.8h0M77.9 59.4h0M75.3 84.8h0M76.8 66.2h0M74.5 94.2h0M75.2 60.8h0M74.2 70h0M77.7 81.8h0M75.8 79.5h0M77.9 92.2h0M74.2 71.8h0M73.2 56h0M78.1 80.6h0M76.2 57h0M74.7 76.3h0M72.7 85.9h0M77.6 57.5h0M73.8 84.7h0M77.9 77.7h0M73.7 91.2h0M74.6 69.6h0M76.2 66.8h0M77.2 73.2h0M74.9 76.9h0M73.6 59.4h0M74.6 77.8h0M75.2 55.8h0M77.4 46.9h0M76.1 78h0M72.6 69.3h0M73.4 64.2h0M74 54.9h0M77.6 51.2h0M77.7 53.3h0M75.3 59.9h0M75.5 47.6h0M76.2 60.1h0M74.3 55.8h0M77.1 75.9h0M74.2 73.4h0M76.5 68.2h0M76 49.6h0M74 62.9h0M77.1 71.1h0M76 63.1h0M76.3 72h0M72.3 63.7h0M76.2 74.9h0M72.8 72h0M76.2 65.3h0M77.5 76.3h0M75.6 81.6h0M72.9 49.1h0M74.7 71.8h0M76.5 73.8h0M73.7 66.3h0M75.9 81h0M73 77.9h0M77 70.9h0M73 64.9h0M75.4 61.8h0M73.4 65.9h0M75.9 78.4h0M74.6 84.6h0M73.2 56.8h0M75.6 63.4h0M77.4 58.5h0M72.7 80.3h0M73.1 56.9h0M76.5 70.8h0M78 62.9h0M73.3 67.2h0M73.5 83.5h0M77.4 60.6h0M74.3 78.3h0M77.7 69.3h0M73.1 61.7h0M76.6 76.9h0M73.9 104.3h0M76.7 57.1h0M74.4 70h0M76 50.8h0M76.1 52.9h0M73.8 65.4h0M75.6 24.4h0M73.3 95.7h0M76.8 39.1h0M73.2 36.5h0M77.4 40.7h0M72.4 72.9h0M76.3 56h0M77.4 59.2h0M75.5 62.6h0M74.6 51.5h0M72.3 62.9h0M77.6 53.6h0M76.6 33h0M75.4 70.3h0M77.6 48.2h0M77 83.6h0M72.6 92.6h0M74.9 61.5h0M73.2 63.7h0M72.7 61.6h0M77.3 72.3h0M74.7 69.8h0M76.4 71.1h0M72.5 48h0M75.2 62.3h0M73 64.2h0M76.3 84.7h0M74.3 61.7h0M75.5 57.2h0M75.4 65.7h0M75.5 75.7h0M92.5 54.2h0M96.8 77.5h0M96 66.2h0M93.4 88.4h0M96.1 97h0M94.9 78.6h0M92.3 84.5h0M96.4 68h0M96.9 73.9h0M91.7 106.7h0M91.6 96.9h0M95.1 100.4h0M95.3 86.4h0M92.2 80h0M93.6 79.1h0M93.7 74.5h0M95.9 74.8h0M94.5 102.4h0M96.8 98.5h0M95.1 73.7h0M93.7 91.6h0M91.8 74.4h0M96.3 72.3h0M95.1 84.9h0M96.2 78.2h0M96.2 85.4h0M96.1 77.8h0M92.6 78.4h0M91.7 80.6h0M97 55.8h0M94 77.2h0M92.5 76.1h0M95.6 93h0M97.1 72.5h0M92 97.1h0M94.7 78.7h0M93.9 113.7h0M96.2 85.2h0M106.1 71.3h0M103.6 70.1h0M103.2 80.6h0M102.3 80.2h0M101.5 92.5h0M106.2 59.2h0M105.6 79.8h0M103.8 99.3h0M101 79.4h0M106.6 82.1h0M102.7 81.3h0M103.9 82.6h0M105.8 99.7h0M102.4 95.6h0M105.3 78.6h0M102.8 53.8h0M111.4 52.1h0M112.1 55.8h0M114.5 51.7h0M113.9 46.9h0M111.3 61.3h0M114.4 65.8h0M111.8 64.5h0M114.3 70h0M110.8 73.7h0M113.5 62.2h0M111.7 69.9h0M113 61.8h0M113 61.2h0M115.5 62.6h0M111.7 55.5h0M112.5 57.7h0M113.2 72.9h0M115.4 45.4h0M110.7 64.7h0M111.8 35.8h0M111.6 67.4h0M111.4 51.7h0M111.8 68.7h0M113.8 61.5h0M112.8 64.4h0M115.4 73.9h0M115.7 74.3h0M113.5 61.2h0M113.2 79.5h0M112.8 55h0M111.7 78.1h0M112.5 48.8h0M116 67.9h0M115.2 64.7h0M112 60.8h0M111.1 60h0M111.9 51.9h0M113.3 63.4h0M111.8 72.2h0M114.3 61.5h0M112.9 68.2h0M111.6 79.9h0M116 82.5h0M115.9 68.4h0M113.5 63.5h0M114.6 67.3h0M114.1 65.6h0M114.9 45.7h0M111.2 59.3h0M111.2 71h0M116 77h0M112.4 46.6h0M114.8 69.7h0M116 80.5h0M111.1 54.9h0M114.7 51.1h0M112.4 67.1h0M110.7 69.2h0M112.4 83.8h0M113.1 62.5h0M114.7 69.7h0M114.3 81.7h0M113.9 45.1h0M115.1 59h0M112.2 86.6h0M115.1 48.2h0M110.6 43.3h0M112.9 75.5h0M112.4 61.2h0M114.6 57.8h0M113 63.7h0M111.9 71.7h0M111.6 55.6h0M113.9 69.3h0M112.5 56.3h0M115.8 71.5h0M112.6 88.8h0M115.7 59.9h0M113.5 44.7h0M112.6 69.6h0M111.6 48.1h0M113.6 39.9h0M111 83.8h0M111.1 66.1h0M112.7 39h0M110.8 72.7h0M113.9 67.6h0M110.5 74.6h0M114.7 53.8h0M115 46.3h0M115.4 47.3h0M113.9 83.5h0M113 56.9h0M112.6 67.1h0M115.5 79.4h0M114.7 48.6h0M115.4 59.5h0M115.2 59.8h0M111.9 67.4h0M111 54.9h0M115.8 57.5h0M113.7 63.3h0M113.8 69.9h0M115.9 71.8h0M114 74.5h0M115.3 67.6h0M112.9 62.7h0M111.5 54.8h0M112.8 63h0M116 72.7h0M115.7 75.8h0M112.8 74.7h0M124.8 74.8h0M122.4 49.1h0M120.9 69.3h0M121.9 68.7h0M120 41.3h0M123.9 66h0M122.9 60.1h0M122.7 35.5h0M120.6 70.6h0M121.6 77.4h0M120.6 50.8h0M125 45.8h0M121.9 50.3h0M123.1 69.8h0M122.2 35.1h0M122.1 72.6h0M124 81.9h0M121.9 62.3h0M125.2 50.2h0M124.9 71.3h0M125.2 78.2h0M121.9 81h0M124.9 72.6h0M120.7 78.1h0M124.9 39.4h0M120.3 60.4h0M124.3 57.3h0M122.1 65.4h0M125 66.5h0M120.6 53.2h0M122.1 53.7h0M122.2 89.5h0M121.1 79.3h0M123.2 76.9h0M124.5 80.4h0M123.8 41.1h0M121 75.8h0M125.2 59.7h0M121.7 70.2h0M124.2 43.7h0M122.7 71.1h0M121.3 70h0M125.1 61.8h0M131.6 78.4h0M132.1 69.8h0M134.5 86.3h0M131.9 92.8h0M132.6 80.4h0M132.8 83.7h0M129.9 104.1h0M129.8 65.3h0M133.7 112.1h0M130.7 120h0M132 109.4h0M132.8 101.4h0M133.2 85.9h0M133.2 118.6h0M134.1 96.7h0M133.7 68.6h0M132 68.9h0M130.1 67.2h0M135 108.8h0M132.9 73.1h0M129.6 72.5h0M131.9 90.4h0M130.1 119.8h0M131.1 89h0M132.4 70.3h0M135 94h0M130.5 52.2h0M132.3 71.6h0M133.3 99.5h0M132.2 96.4h0M131.3 83.7h0M130.7 78.5h0M131.8 94.1h0M130.8 88.9h0M135.3 69.2h0M134.2 116.1h0M134.9 106.8h0M134.9 77.9h0M134.2 66.6h0M135.3 88.5h0M131.9 65.2h0M131.8 71.3h0M132 83.3h0M131 90.7h0M130.2 80.4h0M134.9 108.4h0M134.9 100.8h0M135.1 82.6h0M134.1 84h0M133 56.5h0M130.5 108.4h0M134.4 87.1h0M130.2 96.8h0M130.8 40.2h0M134.4 70.5h0M132.7 95.4h0M130.1 87.4h0M130.5 77.1h0M129.7 106.5h0M131.7 95h0M153.4 82.5h0M151.6 79.3h0M152.3 73.2h0M151.3 64.6h0M153.7 57.7h0M150.6 52h0M154.3 83.7h0M168.7 82.6h0M169.9 89.3h0M167.7 71.6h0M171.8 54.2h0M170.8 72.4h0M167.9 80.7h0M171.5 92.3h0M169.7 63.5h0M169.2 74.9h0M173.2 78h0M172.9 75.4h0M170.2 65.7h0M168.4 84.9h0M170.8 70.4h0M167.9 66.8h0M172.6 79.7h0M172.8 91.4h0M168.2 93.7h0M169.9 45.1h0M172.6 72.3h0M173 76.3h0M168.4 79h0M167.7 98.6h0M171.7 90.5h0M170.3 75.6h0M169.5 75.3h0M169.4 77.2h0M172.3 64.2h0M173 89.5h0M170.1 77.4h0M169.9 53.7h0M170.3 94.2h0M169 85.9h0M168.5 76.4h0M171.1 78.6h0M169.5 62.7h0M170 79.1h0M171.2 77.3h0M168.6 98.1h0M169.9 86.4h0M168.4 81.5h0M171.6 66.8h0M169.1 84.5h0M168.3 97.5h0M169.6 52.8h0M169.4 83.6h0M167.9 42.1h0M171.5 66.8h0M172.8 92.3h0M168.4 60.7h0M168.4 80.2h0M168.2 78.5h0M168.2 67.2h0M172.8 94.5h0M169.6 95.2h0M172.1 85.7h0M172.3 71.1h0M168.4 58.8h0M170.7 73.3h0M173.2 65.7h0M170.9 79.8h0M168.5 87.8h0M169.5 59.5h0M171.1 79.2h0M173.4 65h0M169.4 70.2h0M167.9 83.9h0M168.7 91.6h0M169.6 55.3h0M170.8 86.2h0M173.1 74.8h0M172.4 82.5h0M173 77.7h0M172.3 75h0M170.9 67.2h0M170.2 77.6h0M172.6 75.4h0M169 72.8h0M169.5 63.1h0M171.3 81.8h0M170.4 73.9h0M170.9 82.3h0M171.4 61.6h0M171.3 60.6h0M172.6 79.9h0M169.1 51.8h0M170.7 72.3h0M167.8 92.6h0M168 80.5h0M172.2 61h0M169.5 70.5h0M191.9 78.7h0M188.6 86.1h0M187.2 71.5h0M190 78.8h0M190.4 81h0M188.7 83.6h0M190 86.7h0M189.8 100.1h0M190 91.2h0M201.7 71.5h0M198.8 84.1h0M197.9 89.7h0M198.5 102.4h0M196.5 108.1h0M197.8 80.3h0M196.7 85.5h0M199 124h0M197.1 106.1h0M199.7 70h0M199 93.3h0M198.9 79.4h0M196.8 98.3h0M198.7 72.9h0M201.9 88.9h0M200.3 105.4h0M197 99.8h0M201.2 108.4h0M201.4 97.3h0M196.7 88.3h0M199.5 96.3h0M200.4 99.3h0M197.7 87.8h0M197.7 65.4h0M197.2 79.1h0M201.6 104.6h0M196.3 84.6h0M199.7 70.9h0M201.5 94.5h0M198.2 119.3h0M201.3 105.3h0M200.7 112.2h0M201.9 81.3h0M197.6 113.3h0M198 93.9h0M197.3 101.4h0M219.3 74.6h0M220.9 63.7h0M220.7 88.9h0M218.8 91.9h0M220.5 79.4h0M220.9 73.9h0M217.3 86.3h0M215.8 81.6h0M218.4 75.3h0M216.1 81.4h0M218.3 93h0M219.2 70.4h0M217 98.2h0M216.4 80.4h0M216.8 89.1h0M220.8 81.3h0M216.1 82.9h0M220.4 64.7h0M220.4 85.6h0M215.8 92.5h0M219 66.5h0M218.2 94.1h0M217.5 62.1h0M219.1 77.1h0M215.6 86.3h0M218.9 76h0M218.8 96.1h0M217.6 100.4h0M220.4 80.5h0M218.3 91.1h0M239.4 126.2h0M236 98.8h0M237.3 102.9h0M237.6 107.9h0M239.1 91.7h0M236.5 107.5h0M240.1 89h0M235.1 102.2h0M239.6 83.2h0M238.8 78.9h0M237.8 131.7h0M237.1 112.1h0M236.5 97.8h0M237.4 115.1h0M239.4 113.9h0M239 125.1h0M239.3 103h0M237.1 90.2h0M239.8 144.9h0M235.8 75.9h0M238.9 103.7h0M234.5 101h0M237.5 141.8h0M239.5 94.8h0M238.3 95.3h0M239.5 96.1h0M240 72.7h0M238.3 100.9h0M239.3 71h0M238.7 106.6h0M238 93.6h0M238.8 105h0M237.8 96.8h0M235.1 106h0M235.3 82.1h0M237.1 120h0M236.3 100.7h0M238.7 68.3h0M234.7 108.9h0M235.4 90.8h0M236 66.4h0M234.6 97.3h0M238.5 90h0M238.1 100.5h0M238.1 106.1h0M238.7 99.4h0M235.3 140.9h0M237.7 121.6h0M235.9 107.1h0M237.5 105.8h0M236.4 69.1h0M236.8 113.2h0M234.5 129h0M237.6 98.8h0M237.4 103.2h0M239.1 89.6h0M234.5 124h0M239.3 146.8h0M237.7 107.6h0M235.1 95.4h0M237 79.7h0M237.5 117.5h0M238.8 72.3h0M235.2 84.8h0M238.5 140.6h0M239.1 125.3h0M237 99.3h0M235.5 98.4h0M235.8 66.8h0M235.1 117.7h0M237.1 85.7h0M236.2 106.6h0M237.7 129.4h0M239.8 106h0M237.6 113.1h0M236.9 123.9h0M240.1 99.6h0M236.6 114.7h0M235.1 100.1h0M239.5 102.1h0M239.1 94.5h0M234.7 88.4h0M237.4 88h0M237.3 112.7h0M235.8 107.4h0M238.7 115.6h0M234.4 115.2h0M239.8 88.8h0M235.4 103.5h0M236.5 89.5h0M235.3 94.8h0M236.2 98h0M240.2 112.6h0M236.8 95.4h0M237.4 106.5h0M237.2 117.6h0M237.2 126.7h0M236.6 73.3h0M237.7 105.7h0M237.3 105h0M235.4 145.7h0M238.1 98h0M236.6 135.5h0M234.7 138.9h0M256.2 89.5h0M254.7 73.5h0M259 87.1h0M256.4 91.3h0M255.5 96.3h0M255.8 114.1h0M256.4 87.4h0M257.7 69.2h0M254.5 84.4h0M254.3 85.7h0M257.2 86.1h0M256 117.1h0M259.1 99h0M255 98.9h0M258.9 74.4h0M254.6 88.7h0M255.9 104.1h0M258.1 120.1h0M258.9 103.4h0M263.2 127.7h0M266.1 103.4h0M264.1 100.8h0M268.4 143.9h0M265.7 88.1h0M266.5 122.6h0M265.7 75.4h0M267.8 96.9h0M267.9 107.9h0M265.3 85.4h0M268.3 95.7h0M267.8 126.1h0M267.3 111.7h0M266.3 114h0M266 94.2h0M266.1 118.3h0M268 126.9h0M266 120.9h0M267.1 108.1h0M263 123.8h0M267.1 122h0M265 129.4h0M266.2 97.2h0M266.4 99.2h0M265.7 120.5h0M267.2 93.4h0M264.3 108.2h0M266.1 103.2h0M266.6 92h0M263.6 89.4h0M267.7 89.7h0M267.9 113h0M265.7 88.9h0M265.1 107.6h0M267.8 112h0M267 121.4h0M267.8 103h0M265.4 140.1h0M268.2 101.6h0M263.6 92.2h0M263.1 143.8h0M264.1 128.1h0M266.9 114.7h0M267.3 71h0M265.5 124.6h0M265.5 116.9h0M267.1 97h0M266.6 112.5h0M268.7 114.4h0M267.8 100h0M268.3 74h0M263.3 118.8h0M267.7 117.6h0M266.7 105.3h0M265.1 112.7h0M267.1 110.9h0M267.1 100.9h0M268.7 114.3h0M266.4 107.1h0M264 84.5h0M266.7 90h0M267.2 118.5h0M268.7 149.5h0M266.5 77.8h0M265.1 117.5h0M263.3 147.9h0M264 85.8h0M266.2 84.5h0M266.2 101.8h0M264.5 95.1h0M263.1 109.3h0M265.4 78.8h0M265 111.1h0M263.7 120h0M268.4 79.3h0M268.2 100h0M264.1 99.5h0M266.9 90.5h0M268.1 90.4h0M265.1 113.4h0M268 103h0M268.6 83.2h0M264.2 76.6h0M268.2 94.4h0M274.6 78.1h0M275.8 80.8h0M275.2 91.5h0M274.6 126h0M274.8 88.5h0M278.1 76h0M273.1 95.5h0M275.7 74.6h0M272.7 81h0M276.4 101h0M277.9 82.3h0M273.8 90.2h0M272.8 93.3h0M293.2 77.7h0M293.2 68.6h0M297 65h0M296.6 66.7h0M296.2 72.9h0M295.4 58h0M293.1 56h0M292.3 79.1h0M297 47.8h0M295.9 60.2h0M294.1 59.3h0M292.1 64.7h0M293.3 50h0M294.9 80.9h0M295.7 78.7h0M294.4 70.1h0M295 71.9h0M294.3 59.9h0M292.8 73.3h0M295.8 90.2h0M292.6 71.2h0M292.4 81h0M294.4 59.3h0M295.5 79.4h0M293.6 77h0M296.8 98.5h0M291.9 73.4h0M293.4 76.1h0M295.5 58.9h0M294.7 78.9h0M292.1 67.8h0M293.3 69.4h0M291.7 76.9h0M293.2 64h0M291.6 69.8h0M294.2 52.8h0M295 61.9h0M295.5 59h0M294.5 74.7h0M294.8 67h0M291.9 75.7h0M293.7 69.4h0M291.7 57.8h0M296.5 72.3h0M292.1 55.6h0M297.3 59.9h0M292.3 72.2h0M292.3 89.4h0M296.5 74.8h0M297.2 58.1h0M293.2 62.8h0M293.6 72.4h0M292.4 57.5h0M294.9 63.8h0M294.4 58.9h0M297.1 66.1h0M296.1 80.7h0M291.9 77h0M291.8 78.5h0M292.8 63h0M291.7 64.7h0M295.8 51.5h0M294.1 48.7h0M295.4 60.3h0M297.2 69.6h0M292.3 82.3h0M295.5 43.2h0M295.4 61.2h0M293.1 65.6h0M292.7 56.9h0M296.1 67.8h0M295.6 40.7h0M292.7 50.8h0M296.2 64.1h0M295.8 75.8h0M291.6 66.3h0M295.4 62.2h0M295 64.1h0M296.4 62.4h0M291.7 67.1h0M295.6 75.3h0M294.4 75.5h0M294.9 58.3h0M294.6 77h0M296.2 52.5h0M294 56.4h0M295.2 50.8h0M295 59h0M295.6 57.7h0M291.9 78.2h0M294.9 58.4h0M295.2 56.3h0M293.8 69.7h0M293.9 79.3h0M295.3 62.8h0M296.7 53.8h0M293.8 60.2h0M294.4 49.4h0M294.3 55.4h0M296.3 75.6h0M291.6 64.4h0M296.2 62.2h0M292.8 34.6h0M295.4 74h0M291.9 66.9h0M292.8 64.4h0M312.6 64.7h0M316.3 97.1h0M314.9 62.2h0M311.7 64.2h0M310.7 63.9h0M314.6 72.4h0M311.8 87.1h0M313.4 93.1h0M315.8 42.8h0M314 54.3h0M313.2 89.1h0M313.1 69.1h0M310.7 67.4h0M311.2 70.9h0M314.6 65.1h0M313.8 56.4h0M311.3 67.9h0M312.4 81.3h0M313.3 73.6h0M314.3 68.5h0M310.7 52.9h0M312.2 82h0M311.8 53.2h0M315 64.7h0M315.2 53.1h0M313 45.3h0M312.2 59.4h0M313.8 61h0M312.6 62.8h0M313.9 83.5h0M310.7 49.6h0M311.3 75.7h0M316 70.7h0M313.8 62.6h0M311.9 68.7h0M313.5 67.7h0M310.8 74.7h0M315.2 47.9h0M313.7 61.5h0M316 59.6h0M311.4 68.9h0M316 69.4h0M314.3 61.7h0M315.5 47.9h0M312.1 52.2h0M316.2 52.6h0M312.2 64.4h0M311 80.9h0M315 77.1h0M313.2 76.9h0M314.3 49.9h0M315.2 72.5h0M311 77.1h0M316.3 65.4h0M316.3 52.5h0M314.8 77.6h0M315.4 59.6h0M311.2 58.3h0M332.6 71.7h0M332.8 57.8h0M330.6 91.2h0M332.9 68.1h0M332.6 101.2h0M333.4 70.6h0M332.8 68.7h0M334.7 76.9h0M333.9 85.5h0M334.6 85.3h0M330.6 82h0M331.2 96.1h0M334 89.7h0M333.7 74.4h0M334 56h0M331.1 75.4h0M331.9 62.3h0M335.5 65.7h0M333.3 91.4h0M335.2 54.5h0M330.9 87.2h0M333.6 97.9h0M332 70.3h0M332.9 71.1h0M333.3 80.9h0M332.9 78.3h0M330.7 72.4h0M332.4 66.6h0M330.8 77.1h0M330.1 83.3h0M330 67.6h0M334.4 79.7h0M332.3 40.9h0M332.9 74.4h0M342.5 91.4h0M341.6 102.7h0M341.9 106.9h0M343.5 97.5h0M339.6 99.8h0M341.8 104.2h0M342.7 102.4h0M341.6 112.7h0M344.3 84.2h0M341.5 96.4h0M344.3 82.4h0M343.1 120.2h0M344.1 96.4h0M344.3 90.9h0M340.4 112.1h0M343.3 104.7h0M340.2 88.8h0M339.9 99.2h0M342.1 90.9h0M339.5 103.3h0M339.3 106.9h0M339.3 107.7h0M343.6 98h0M344.6 88.4h0M341.8 89.3h0M341.7 98.7h0M344.9 79.1h0M343.7 81.6h0M344.7 102.4h0M340 90.2h0M339.4 99.1h0M343.3 101.8h0M343.4 82.1h0M342.2 86.8h0M340.2 98.6h0M342.8 102.7h0M344.5 102.9h0M341.6 98.2h0M339.3 113.7h0M340.6 96.9h0M341.4 73.5h0M341.1 92.3h0M341.4 100h0M341.4 100.2h0M342.6 94h0M342 99.1h0M345 105.8h0M343.2 99.9h0M343.6 109.1h0M340.4 93.6h0M340 78.8h0M344.8 100.8h0M340.1 101.1h0M340.7 92h0M342.7 89.8h0M343.7 84.8h0M343.7 81.3h0M340.5 100.8h0M340.9 63.6h0M344.7 86.7h0M343.1 101.8h0M339.7 102.5h0M341.3 104.2h0M344.7 104.9h0M344.7 72.3h0M343.5 92.9h0M342 88h0M341.5 98.4h0M340.7 105.4h0M340.6 98.7h0M344.3 81.4h0M344.4 85.3h0M339.9 103.9h0M343.5 114.3h0M341.3 104.6h0M343.1 82.2h0M343.8 91.2h0M343.9 98.9h0M342 91.7h0M340.2 102.4h0M343.3 97.6h0M340 106.5h0M342.4 99.4h0M340.5 98.3h0M340.5 107.9h0M343.8 96.1h0M343 88.3h0M341.6 101.7h0M343.3 108.7h0M342.8 89.2h0M342.8 79.1h0M341.5 83.3h0M341.5 67h0M341.6 116.7h0M344.3 83.5h0M343.6 95h0M344.8 93.2h0M340.8 108.8h0M340.3 112.2h0M341.5 99.9h0M341.7 100h0M339.4 97.8h0M342.8 95.4h0M353.5 88.7h0M350.3 100.6h0M350.9 86.9h0M350.8 85h0M354 87.2h0M350 78.1h0M351.9 79.2h0M351.3 87.5h0M349.4 95.1h0M351.4 86.3h0M349.9 78h0M352.3 91.7h0M353.3 66.3h0M351.6 91.7h0M352.7 116.7h0M350.2 113.5h0M351.7 90.6h0M351.5 74.7h0M352.2 94.2h0M351.9 74.6h0M353.5 97.3h0M349.7 81.9h0M348.8 79h0M350.4 109.3h0M354.2 77.2h0M352.8 96.8h0M350.4 83.6h0M353 117.4h0M349.8 71.1h0M351.2 145h0M353.9 122h0M350.3 107.3h0M350.7 83.3h0M352.8 122.8h0M350.8 77.5h0M351.8 61.6h0M352.2 86.1h0M353.3 87.2h0M353.3 91h0M353.3 73.5h0M351.5 80.2h0M352.9 90.5h0M351.3 75.3h0M350.9 78.5h0M352.2 99.8h0M354.1 96.3h0M353.2 94.8h0M353.2 71.9h0M354.4 82.1h0M348.8 95.8h0M349 56.5h0M352.2 75.3h0M352.9 63.2h0M354.2 86.4h0M349.1 84.4h0M350.2 69.4h0M349.4 81.7h0M353.7 58h0M351.6 126.4h0M354.6 95.1h0M350.9 83.9h0M351.2 129.4h0M352.4 90.3h0M350.9 96.4h0M352.7 134.5h0M354.4 113.8h0M353.2 78.9h0M350.2 64.9h0M353 115.8h0M350 93.7h0M352.4 114.6h0M349.2 102.4h0M349 72.1h0M349.4 85h0M370.2 72h0M370 59.4h0M372.5 64.1h0M371.2 63h0M372.9 70.5h0M373.3 59.3h0M370.1 65.5h0M369.9 77.8h0M370.6 49.7h0M372.8 78.6h0M369.8 46.5h0M372.1 51.7h0M368.9 43.2h0M368 81.5h0M372.4 62.9h0M368.8 89.6h0M369 58.2h0M370.6 76.3h0M371.2 69.9h0M370.6 47.4h0M370.9 56.5h0M369.8 58.4h0M371.3 59.8h0M369.4 63.3h0M370.2 66.3h0M372.6 59h0M372.3 58.7h0M370 81.3h0M368.6 59.2h0M368.5 64.5h0M373.5 48.6h0M373.1 66.1h0M373.2 85.8h0M368.4 79.3h0M373.2 71.6h0M370.7 49.8h0M368 66.7h0M369.4 67.7h0M368.3 49.8h0M369.2 70.4h0M369.4 60.3h0M367.9 75.1h0M373 54.2h0M372.2 62.9h0M370.3 81.3h0M371.6 61.6h0M371 44.6h0M373.2 54h0M373.1 72h0M368.5 54h0M371 42.8h0M373.1 61.7h0M370.9 67.8h0M372.9 65.1h0M371.1 49.1h0M370.1 62.3h0M371.2 52h0M369.6 67.4h0M370.1 67.8h0M373.2 65h0M370 77.7h0M370.5 69.2h0M369 65.1h0M372.7 85.5h0M369.3 66h0M370.7 74h0M371.2 62.4h0M372.3 63.1h0M373.3 66.6h0M372.9 94.5h0M368 70h0M368.3 59h0M371.7 53.1h0M369.8 63.2h0M369.4 54.7h0M371.3 55.6h0M368.4 64.1h0M369.2 59h0M370.5 60.4h0M371.9 76.4h0M373.1 61.2h0M371.1 75.8h0M368.4 75.8h0M371.1 58.9h0M370.3 62.3h0M372.4 66.6h0M372 89.8h0M373 47h0M371.7 61.4h0M371.6 60.1h0M373.1 58.6h0M372.8 52.3h0M369.1 76.5h0M369 65.9h0M372.7 45.1h0M373 55.2h0M368.7 68h0M370.3 60h0M370.9 59.8h0M372.9 62.1h0M371.5 93.5h0M367.8 57.4h0M368.4 81.6h0M387.2 89.9h0M389.7 62h0M389.3 61.8h0M389.2 88.4h0M388 75.4h0M387.7 66.3h0M388.7 71.5h0M386.9 104.2h0M388.9 68h0M390.9 97.9h0M387.9 79.3h0M389.7 82.3h0M389.6 60.6h0M389.6 80h0M389.5 92.4h0M391.2 75.8h0M392.3 87.6h0M392.4 73.9h0M391.8 82.8h0M389.7 66.3h0M389.6 54.8h0M387.4 65.5h0M392.3 92.1h0M387.1 85.7h0M390.9 69.9h0M389.8 66h0M391.3 88.1h0M387.3 86.2h0M388 79.6h0M392.5 74.2h0M392.3 101.9h0M392 103.5h0M390.8 80.7h0M388.4 75.3h0M391.6 76.4h0M389.5 94.3h0M389.5 87.5h0M389.1 58.5h0M391.2 87.2h0M391.5 92.3h0M389.2 51.5h0M388.7 90.1h0M389.2 66.8h0M391.4 105.5h0M389.9 82.9h0M391.6 77.7h0M389.8 66.2h0M389.3 73.9h0M390.8 92.3h0M387.1 51h0M392.4 94.8h0M390.1 72.7h0M387.6 76h0M389.7 91.5h0M390.1 103.6h0M392 63.6h0M392.4 91.2h0M389 74.6h0M391.3 66.1h0M387.3 82.5h0M392.2 83.6h0M391.8 67.9h0M389.1 80h0M388.9 69.5h0M391.5 89.2h0M391.8 90.5h0M388 84.6h0M387.4 73.7h0M389.2 107.2h0M389.5 77.8h0M392.6 84.5h0M389.2 70.7h0M390.1 56.1h0M391 96.8h0M390.9 75.3h0M392.1 94.9h0M391.5 80h0M388.1 72h0M391.1 116.5h0M392.2 82.3h0M389.2 93h0M388.6 98.2h0M388.6 99.5h0M387.5 55.8h0M390.9 96.6h0M388.2 82.9h0M391.1 77.4h0M389 84.4h0M390.7 65.5h0M389.2 61.6h0M391.6 110.2h0M388.1 59.6h0M392 82h0M392 89.5h0M391.9 76.5h0M388.6 55.4h0M392.4 69.4h0M388.9 78.9h0M387.3 75.7h0M389.4 90h0M408 113.6h0M410.5 114.7h0M409.5 89.3h0M406.7 103.1h0M410 93.2h0M410.2 83.2h0M407.6 96.3h0M408.6 92.1h0M411.6 93.2h0M409.8 89.4h0M410.5 80.2h0M410.1 98h0M409 78.6h0M411.4 90.5h0M411.7 96.3h0M408.3 74h0M406.6 96.4h0M416.9 90.6h0M417 83.3h0M420.8 86h0M416.4 108.5h0M420.1 96.9h0M420.6 86.4h0M417.9 70.4h0M419.2 95.8h0M419.9 79.3h0M415.9 93.9h0M418.9 72.3h0M421 38.2h0M420.8 88.8h0M416.1 89.8h0M416.1 92.8h0M416.6 105h0M418.7 70h0M418.4 108.6h0M415.7 77.7h0M419.4 66.7h0M420.7 80.1h0M416.4 67.1h0M418.6 59h0M420.7 116.8h0M416.9 71.3h0M420.8 97.1h0M417.9 68.8h0M418.6 88.7h0M420.9 102.2h0M420.4 68.1h0M420.7 62.2h0M417.5 84.7h0M417.3 76.9h0M418.4 64h0M418.6 82h0M417.4 91.1h0M421.2 65.4h0M417.7 56.3h0M418.4 82.3h0M419.6 78.4h0M419.1 93.4h0M418.1 84.6h0M417.2 89.3h0M419.1 61.2h0M420.2 75.2h0M416.8 87.7h0M420.2 102.7h0M420.2 74h0M420 82h0M416 105.7h0M419.1 61.1h0M415.8 86.4h0M417 90.9h0M418.2 84.8h0M419.3 73.5h0M418.6 81.3h0M418.8 68.3h0M420.8 95.8h0M421 71.5h0M418.9 103.1h0M429.5 64.6h0M430.7 81.5h0M430.3 66.6h0M426.6 69.6h0M425.8 71.5h0M426 75.5h0M429.6 58.9h0M429.7 56.3h0M429.4 74.7h0M428.9 70.3h0M430.2 59.5h0M427.3 55.2h0M430.2 67.6h0M429.5 75.2h0M426.1 86.1h0M426.5 71.8h0M430.3 62.6h0M425.4 68.1h0M426 64.9h0M425.5 63.8h0M429.1 60.2h0M426.8 65.1h0M427.9 65.1h0M430.4 74.6h0M430.6 65.1h0M428.3 61.2h0M425.1 70.5h0M427 62.1h0M428.5 65.6h0M430 86h0M430.4 56.7h0M427.2 69.6h0M430.8 81.3h0M427.7 68.8h0M427.9 74.8h0M445.4 100.8h0M449.8 104.6h0M445.1 120.7h0M448.5 78.1h0M448.1 109.1h0M446.8 77.6h0M444.7 91.7h0M445.3 81.5h0M448.9 102.7h0M444.8 108.8h0M444.8 92.1h0M444.3 86.7h0M445.9 84h0M448.1 112.3h0M444.5 85.7h0M446.6 83.5h0M444.6 88.7h0M445.7 98.5h0M448.6 105.1h0M444.5 82.1h0M446.2 99.7h0M449.1 75.5h0M447 79.7h0M449.1 100.9h0M448.3 110h0M448.9 80.2h0M445.3 96.1h0M449.1 82.3h0M446.9 79.7h0M447.9 89.1h0M447.2 84.8h0M445.7 102.4h0M445.6 84h0M447.2 83h0M446 71.5h0M468 63.8h0M466.3 78.3h0M463.5 59.1h0M467.9 64.3h0M463.4 60.7h0M463.6 62.3h0M466.9 62.8h0M467.1 77.3h0M468.1 69.5h0M463.6 79.1h0M464.8 50.8h0M466.2 59.7h0M463.8 66.5h0M468.7 64.3h0M465.2 72.3h0M465.8 68.1h0M466.3 61.4h0M465.1 59.2h0M468.7 82.5h0M467.1 59.8h0M466.6 88h0M468.2 59.7h0M466.4 59.6h0M466.1 72.4h0M468.7 64.2h0M464.1 63.8h0M468 74.2h0M465.1 62.9h0M463.7 67.3h0M463.6 72.1h0M465 78.9h0M468.1 60.3h0M466.6 69.4h0M467.5 62.2h0M464.9 53.3h0M468.8 57.7h0M466.1 66.4h0M463.9 79.6h0M465.3 70.7h0M463.2 61.6h0M467.9 66.5h0M464.5 74.3h0M468.9 65.4h0M468.4 62.2h0M463.8 80.2h0M464.5 80.6h0M467.9 65.2h0M463.8 70.2h0M463.3 64.4h0M466.3 69.9h0M465.5 61.8h0M463.6 77h0M466.1 48.5h0M464.2 66.5h0M466.3 63.9h0M467.8 68.2h0M464.4 60.5h0M465.6 73.4h0M468.5 63.5h0M465 60h0M465.7 61.3h0M465.9 77.1h0M463.4 61.2h0M465.1 72.8h0M468.4 79.1h0M464.9 71h0M465.3 78.6h0M466.1 69h0M464 71.1h0M467.6 91.9h0M464.8 59.4h0M463.7 64.8h0M465.9 57.8h0M466.8 47h0M463.7 75.2h0M467.8 59.3h0M464.2 66h0M466.3 48.3h0M465.2 63.5h0M468.4 67.9h0M468.4 66.7h0M467.7 65.9h0M463.6 65.4h0M463.7 67h0M463.5 78.1h0M463.2 78.7h0M466.5 67.2h0M468.3 67.8h0M468.7 74.3h0M465.2 68h0M465 61.4h0M467.8 63.6h0M467.3 71.5h0M467.3 63.6h0M468.4 58.8h0M468.7 62h0M468.5 56.1h0M466 60.8h0M463.7 66.4h0M482.8 102.1h0M484.4 76.7h0M482.7 64.3h0M482.8 69h0M485.5 61.2h0M485.6 70.5h0M486.8 75h0M483.9 57.7h0M485.8 90h0M484.9 67.1h0M482.5 87h0M484.1 88.8h0M487.9 77h0M484.7 74.3h0M484.1 82h0M482.8 77.9h0M484.5 86.5h0M486.2 93.2h0M483.5 55.3h0M486.8 103.3h0M485.2 82.6h0M482.4 78.5h0M482.5 63.8h0M483.2 69h0M484.3 87.8h0M484.5 86.2h0M483.9 51.4h0M487.9 80.9h0M487.7 68.2h0M484.8 102.3h0M482.5 95.5h0M484.4 82.5h0M486.5 63.9h0M503.5 69.8h0M505.1 85h0M506.4 99.3h0M505.8 71.1h0M504 78.8h0M504.5 71.4h0M502.1 77.8h0M505 77.8h0M505.2 97.3h0M506.1 66h0M502.3 83.7h0M504 86.2h0M504.5 102.7h0M501.9 90.4h0M503.6 76.3h0M505 71.9h0M506.9 84h0M503.7 87.8h0M501.9 90.8h0M502.5 78h0M504.7 81.5h0M502.9 97h0M503.8 67.8h0M501.6 82.4h0M503 89.2h0M501.7 61.6h0M501.9 60h0M501.8 93.7h0M502.1 99.5h0M503.9 80.6h0M504.1 112.6h0M504.8 63h0M504.7 54.2h0M507 70.7h0M505.3 75.1h0M506 102.1h0M506 81.8h0M501.8 90.8h0M504.8 66h0M505.9 54.4h0M503.1 93h0M505.2 76.4h0M506.7 85.1h0M505.6 80h0M502.7 60.5h0M502.2 83h0M504.5 107.7h0M506.9 64.8h0M503.6 109.8h0M505.1 71h0M501.3 86.4h0M511.4 94.3h0M513.2 70.3h0M511.7 86.6h0M516.4 79.8h0M511.1 106.9h0M511.1 98h0M514 73.4h0M512.6 75.3h0M515.5 68.6h0M511.5 98.3h0M513.6 73.7h0M515.5 93h0M511 85.4h0M515.8 98.6h0M511.9 98.6h0M511 102.3h0M516.3 71.9h0M513.2 76.2h0M514.8 91h0M515.4 87.4h0M531.5 94.6h0M533.3 66.9h0M531.8 57.8h0M531.9 85.6h0M531.2 89.3h0M531.5 79.8h0M535.5 103.8h0M532.6 71.3h0M535.6 113h0M531.5 48.3h0M532.9 103.1h0M535.4 87.7h0M531.3 72.3h0M532.8 72.9h0M531.1 66.3h0M531.3 63.1h0M531.7 75.2h0M532.1 68h0M529.9 92.3h0M533.5 88.6h0M533.2 66h0M535.2 78.2h0M535 61.6h0M534.3 86.1h0M531.3 95.3h0M533.6 88h0M531.8 93.1h0M534.2 109h0M530.7 99h0M530 85.4h0M531.3 70.4h0M534 90.6h0M535.7 81.9h0M534.7 74.5h0M533.6 75.4h0M535.6 102.6h0M531.8 76.8h0M533.3 118.1h0M533.5 82.5h0M531.4 82.6h0M532.4 67h0M530.2 94.7h0M532.6 81.9h0M534.1 90.4h0M531.5 66.8h0M531.4 81.8h0M531.9 72.7h0M530.8 69.3h0M533.6 111.7h0M534.8 78.5h0M534.3 94.1h0M533 86.2h0M535.1 92.4h0M534.8 66.8h0M530.3 75.5h0M532.9 68.4h0M532.4 63.7h0M532.3 86.5h0M531.5 88.3h0M533.6 86.1h0M530.5 78.1h0M533.6 91.2h0M529.9 97.5h0M530.7 91.5h0M533.8 95.8h0M533.8 109.6h0M535.1 71.9h0M534 70.4h0M531.1 66.8h0M530.2 82.7h0M533.7 97.3h0M532.5 85.2h0M534.7 83.2h0M534.9 84.3h0M533.5 79.6h0M532.5 67.4h0M533.3 93.7h0M530.5 63.7h0M531.5 77h0M534 72.2h0M535.6 88.7h0M535.7 65.5h0M530.3 79.7h0M551.5 85.9h0M552.2 71.8h0M552.7 75.5h0M552.8 92.3h0M552.3 106.1h0M550.1 76.5h0M553 73.6h0M553.3 133.4h0M554.3 103.3h0M554.1 85.5h0M549.2 89.4h0M552.7 61.4h0M551.9 110.9h0M551.5 94.5h0M551 112.5h0M551.9 54.6h0M554.2 113.2h0M551.8 66.1h0M550.8 113.1h0M551.8 91.3h0M549 56.6h0M551.3 98.4h0M550.9 88.1h0M553.6 80.4h0M553.9 96.4h0M549 120.3h0M553.6 64.4h0M554.4 110.9h0M550.6 95.5h0M549.4 93.7h0M560.1 78.6h0M563.6 75.3h0M561.2 81.5h0M558.7 73.9h0M563.7 76.8h0M562.2 72.4h0M562.1 94.6h0M561.6 77.3h0M563.8 75.8h0M560.6 70.6h0M564.1 86.2h0M560 76.2h0M559.9 81.5h0M558.6 83.9h0M559.5 76.3h0M559 81.8h0M562.1 69.6h0M559.2 76.4h0M560.2 74.9h0M558.6 68.4h0M563.6 85.7h0M563.9 72.5h0M559.9 75.1h0M560.5 75.6h0M559.8 74.5h0M559 70.2h0M561.2 75.4h0M563.4 67.7h0M559.5 79.3h0M560.8 86.3h0M562.4 76.2h0M559.3 75.9h0M562.9 85h0M563.9 84.5h0M559.2 70.8h0M562.6 73h0M564.1 68.4h0M560.5 77.1h0M560.3 68.3h0M560.9 80.3h0M564 82.1h0M563.1 82.9h0M558.5 73.2h0M560.3 72.8h0M562.5 84.7h0M563.6 73.2h0M559.4 71.8h0M560.6 76.8h0M559.4 82.5h0M559.3 76.1h0M558.9 73.6h0M559.7 79.3h0M562.3 76.3h0M558.9 75.9h0M558.8 89.3h0M558.9 75.2h0M560.1 79.6h0M561.9 76.4h0M562.7 83.1h0M559.1 87h0M561.3 87.2h0M560.9 73.3h0M562.8 78.9h0M558.9 84h0M559.3 73.5h0M563.3 89.1h0M562.7 73.1h0M560.1 83.1h0M561.2 72.9h0M562.2 75h0M563.9 65.6h0M560.1 80.1h0M562.4 66.2h0M559 82.1h0M560 72.8h0M558.8 74.7h0M563.6 90.8h0M562 86.9h0M561.1 70.6h0M558.8 70h0M559.3 77.1h0M559.3 87.8h0M563.1 71.5h0M561.8 78h0M560.9 77.4h0M559.7 85h0M559 70.4h0M561.7 67.3h0M561.9 82.2h0M562 83.9h0M563.5 74.8h0M561.7 76.6h0M559.1 69.5h0M563.3 83.1h0M563.3 83.6h0M558.7 69.9h0M561.6 72.5h0M558.7 78.2h0M558.9 76.3h0M561.2 80.6h0M577.7 94h0M580.8 82.2h0M581.2 106.3h0M581.2 88.7h0M580.8 102h0M580.4 95.7h0M583.3 86h0M579 108.4h0M581.2 90.6h0M580.5 94.1h0M579.7 97.9h0M578.1 99.2h0M580.5 104.9h0M582.7 89h0M579.9 101.5h0M578.5 85.2h0M580.5 97.9h0M582.7 86h0M578.6 97.1h0M580.2 104.1h0M581.2 88.9h0M581.9 103.5h0M581.4 88h0M578.7 92.6h0M587.4 71h0M589.3 57.7h0M587.9 82.6h0M590 75.3h0M587.7 50.5h0M588.9 37.8h0M591.4 39.4h0M588.8 106.2h0M592.7 54.8h0M588.2 76.6h0M587.4 90.3h0M592.7 73.3h0M589.1 59.2h0M588.6 91.6h0M587.8 50.5h0M590.8 73.5h0M590.9 29.9h0M588.8 65.1h0M590.4 64.7h0M591.1 64.9h0M588.3 63.7h0M592.5 76.5h0M592.3 86.2h0M592.3 69.1h0M590.1 36.6h0M587.3 82.6h0M587.5 61.2h0M590.8 103.4h0M587.5 87h0M591.4 55.9h0M589.9 40.1h0M587.7 86.4h0M592.7 66.5h0M590.6 47.3h0M587.2 64h0M589.9 95.8h0M587.1 27.3h0M588.8 97.1h0M587.5 49.8h0M587.3 65h0M592.5 72.9h0M588.3 64.5h0M587.5 57.4h0M587.3 51.1h0M587.2 58.7h0M591.2 97.7h0M591.1 38.3h0M588.8 46.8h0M589.2 93.4h0M589.5 62.7h0M589.6 39.1h0M590.7 70.2h0M587.2 102.3h0M592.8 62.5h0M587.5 51.9h0M589 83.4h0M588.4 58.9h0M589.1 65.1h0M589.3 62.7h0M588.9 71h0M587.8 74h0M589.4 49.2h0M590.5 41.8h0M590 69.3h0M590.8 100.5h0M590 58.3h0M590 104.8h0M589.6 52.7h0M592.4 69.5h0M589.1 53.3h0M589.4 63.5h0M589.9 81.2h0M588.1 69.3h0M587.4 43.3h0M587.8 79.5h0M589.9 28.5h0M592.9 59.4h0M592 32h0M591.3 58.7h0M591.2 93.1h0M590.4 88.4h0M591 49.5h0M590.7 77.6h0M592.5 48.9h0M592 66.5h0M590.6 88.5h0M589.8 62.7h0M587.8 84.3h0M588.9 74.1h0M590.6 66.9h0M588.4 106h0M589.8 49.9h0M592.1 60h0M591.5 30.9h0M587.2 50.6h0M592.5 44h0M588 77.6h0M588.2 50.3h0M590 66.5h0M587.3 114.7h0M590.8 70.2h0M590.4 54.9h0M591.1 79.6h0M589.4 77.6h0M590.2 132.9h0M590.5 58.8h0M588.2 61.5h0M591.6 84.2h0M592.6 75h0M610.3 128.8h0M607.7 140.4h0M609.1 89.5h0M607.8 82.1h0M609.7 84.5h0M608.5 108.7h0M609.6 78.1h0M607.5 110.6h0M607.2 79.6h0M610.7 85.9h0M610.1 104.7h0M619.6 55.8h0M619 58.4h0M618.8 54.6h0M616.3 63.6h0M619.7 49.6h0M619.3 24h0M618.6 57.5h0M617.3 66h0M617.9 79.2h0M615.9 51.7h0M618.2 69.8h0M618.9 53.9h0M620.9 21.9h0M619.4 37.2h0M619.5 86.4h0M617.5 49.4h0" stroke="#EA3418" stroke-opacity="0.43" stroke-width="2.5" stroke-linecap="round" fill="none"/>
<path d="M46.6 53.1V77.9M46.6 95.3V118" stroke="#E8281E" stroke-width="0.8"/>
<rect x="42.82" y="77.9" width="7.6" height="17.4" fill="#FFE4C8" fill-opacity="0.42" stroke="#E8281E" stroke-width="0.8"/>
<path d="M42.82 85.5h7.6" stroke="#E8281E" stroke-width="1.3"/>
<path d="M56.2 43.9V78.7M56.2 104.2V139.5" stroke="#E8281E" stroke-width="0.8"/>
<rect x="52.35" y="78.7" width="7.6" height="25.5" fill="#FFE4C8" fill-opacity="0.42" stroke="#E8281E" stroke-width="0.8"/>
<path d="M52.35 90.1h7.6" stroke="#E8281E" stroke-width="1.3"/>
<path d="M65.7 82.8V94.1M65.7 114.4V137.1" stroke="#3558B8" stroke-width="0.8"/>
<rect x="61.88" y="94.1" width="7.6" height="20.3" fill="#FFFFFF" fill-opacity="0.45" stroke="#3558B8" stroke-width="0.8"/>
<path d="M61.88 106.8h7.6" stroke="#3558B8" stroke-width="1.3"/>
<path d="M75.2 29.3V57.7M75.2 76.3V116.8" stroke="#E8281E" stroke-width="0.8"/>
<rect x="71.42" y="57.7" width="7.6" height="18.6" fill="#FFE4C8" fill-opacity="0.42" stroke="#E8281E" stroke-width="0.8"/>
<path d="M71.42 67.1h7.6" stroke="#E8281E" stroke-width="1.3"/>
<path d="M84.8 57.7V72.3M84.8 87.2V108.7" stroke="#3558B8" stroke-width="0.8"/>
<rect x="80.95" y="72.3" width="7.6" height="14.9" fill="#FFFFFF" fill-opacity="0.45" stroke="#3558B8" stroke-width="0.8"/>
<path d="M80.95 79.6h7.6" stroke="#3558B8" stroke-width="1.3"/>
<path d="M94.3 46.3V73.4M94.3 92.5V118.5" stroke="#E8281E" stroke-width="0.8"/>
<rect x="90.48" y="73.4" width="7.6" height="19.1" fill="#FFE4C8" fill-opacity="0.42" stroke="#E8281E" stroke-width="0.8"/>
<path d="M90.48 83.9h7.6" stroke="#E8281E" stroke-width="1.3"/>
<path d="M103.8 48V67.4M103.8 85.2V108.7" stroke="#E8281E" stroke-width="0.8"/>
<rect x="100.02" y="67.4" width="7.6" height="17.8" fill="#FFE4C8" fill-opacity="0.42" stroke="#E8281E" stroke-width="0.8"/>
<path d="M100.02 76.3h7.6" stroke="#E8281E" stroke-width="1.3"/>
<path d="M113.3 32.6V54.8M113.3 69.5V89.3" stroke="#E8281E" stroke-width="0.8"/>
<rect x="109.55" y="54.8" width="7.6" height="14.7" fill="#FFE4C8" fill-opacity="0.42" stroke="#E8281E" stroke-width="0.8"/>
<path d="M109.55 62.1h7.6" stroke="#E8281E" stroke-width="1.3"/>
<path d="M122.9 29.3V56.5M122.9 74.4V93.3" stroke="#E8281E" stroke-width="0.8"/>
<rect x="119.08" y="56.5" width="7.6" height="17.9" fill="#FFE4C8" fill-opacity="0.42" stroke="#E8281E" stroke-width="0.8"/>
<path d="M119.08 65.5h7.6" stroke="#E8281E" stroke-width="1.3"/>
<path d="M132.4 36.6V75M132.4 101.9V142.8" stroke="#E8281E" stroke-width="0.8"/>
<rect x="128.61" y="75" width="7.6" height="26.9" fill="#FFE4C8" fill-opacity="0.42" stroke="#E8281E" stroke-width="0.8"/>
<path d="M128.61 89.3h7.6" stroke="#E8281E" stroke-width="1.3"/>
<path d="M141.9 82.5V89.3M141.9 98.7V98.7" stroke="#3558B8" stroke-width="0.8"/>
<rect x="138.15" y="89.3" width="7.6" height="9.4" fill="#FFFFFF" fill-opacity="0.45" stroke="#3558B8" stroke-width="0.8"/>
<path d="M138.15 97.4h7.6" stroke="#3558B8" stroke-width="1.3"/>
<path d="M151.5 43.1V58.8M151.5 79.2V107.9" stroke="#E8281E" stroke-width="0.8"/>
<rect x="147.68" y="58.8" width="7.6" height="20.4" fill="#FFE4C8" fill-opacity="0.42" stroke="#E8281E" stroke-width="0.8"/>
<path d="M147.68 71.9h7.6" stroke="#E8281E" stroke-width="1.3"/>
<path d="M161 99.8V107.1M161 122V126.6" stroke="#3558B8" stroke-width="0.8"/>
<rect x="157.21" y="107.1" width="7.6" height="14.9" fill="#FFFFFF" fill-opacity="0.45" stroke="#3558B8" stroke-width="0.8"/>
<path d="M157.21 115.2h7.6" stroke="#3558B8" stroke-width="1.3"/>
<path d="M170.5 41.5V65.8M170.5 82.5V107.9" stroke="#E8281E" stroke-width="0.8"/>
<rect x="166.74" y="65.8" width="7.6" height="16.7" fill="#FFE4C8" fill-opacity="0.42" stroke="#E8281E" stroke-width="0.8"/>
<path d="M166.74 74.7h7.6" stroke="#E8281E" stroke-width="1.3"/>
<path d="M180.1 19.9V36.1M180.1 53.9V64.6" stroke="#3558B8" stroke-width="0.8"/>
<rect x="176.28" y="36.1" width="7.6" height="17.8" fill="#FFFFFF" fill-opacity="0.45" stroke="#3558B8" stroke-width="0.8"/>
<path d="M176.28 42.6h7.6" stroke="#3558B8" stroke-width="1.3"/>
<path d="M189.6 57.7V79.2M189.6 97.4V113.6" stroke="#E8281E" stroke-width="0.8"/>
<rect x="185.81" y="79.2" width="7.6" height="18.2" fill="#FFE4C8" fill-opacity="0.42" stroke="#E8281E" stroke-width="0.8"/>
<path d="M185.81 86h7.6" stroke="#E8281E" stroke-width="1.3"/>
<path d="M199.1 53.6V82.5M199.1 102.2V129" stroke="#E8281E" stroke-width="0.8"/>
<rect x="195.34" y="82.5" width="7.6" height="19.7" fill="#FFE4C8" fill-opacity="0.42" stroke="#E8281E" stroke-width="0.8"/>
<path d="M195.34 91.7h7.6" stroke="#E8281E" stroke-width="1.3"/>
<path d="M208.7 100.6V109.5M208.7 123V133.8" stroke="#3558B8" stroke-width="0.8"/>
<rect x="204.88" y="109.5" width="7.6" height="13.5" fill="#FFFFFF" fill-opacity="0.45" stroke="#3558B8" stroke-width="0.8"/>
<path d="M204.88 118.1h7.6" stroke="#3558B8" stroke-width="1.3"/>
<path d="M218.2 62.5V76.3M218.2 90.6V107.9" stroke="#E8281E" stroke-width="0.8"/>
<rect x="214.41" y="76.3" width="7.6" height="14.3" fill="#FFE4C8" fill-opacity="0.42" stroke="#E8281E" stroke-width="0.8"/>
<path d="M214.41 82.8h7.6" stroke="#E8281E" stroke-width="1.3"/>
<path d="M227.7 102.2V102.2M227.7 107.4V107.4" stroke="#3558B8" stroke-width="0.8"/>
<rect x="223.94" y="102.2" width="7.6" height="5.2" fill="#FFFFFF" fill-opacity="0.45" stroke="#3558B8" stroke-width="0.8"/>
<path d="M223.94 105.2h7.6" stroke="#3558B8" stroke-width="1.3"/>
<path d="M237.3 59.3V90.1M237.3 117.2V151.7" stroke="#E8281E" stroke-width="0.8"/>
<rect x="233.47" y="90.1" width="7.6" height="27.1" fill="#FFE4C8" fill-opacity="0.42" stroke="#E8281E" stroke-width="0.8"/>
<path d="M233.47 102.2h7.6" stroke="#E8281E" stroke-width="1.3"/>
<path d="M246.8 67.9V110.3M246.8 141.1V153.3" stroke="#3558B8" stroke-width="0.8"/>
<rect x="243.01" y="110.3" width="7.6" height="30.8" fill="#FFFFFF" fill-opacity="0.45" stroke="#3558B8" stroke-width="0.8"/>
<path d="M243.01 132.2h7.6" stroke="#3558B8" stroke-width="1.3"/>
<path d="M256.3 60.1V82.5M256.3 106.3V142" stroke="#E8281E" stroke-width="0.8"/>
<rect x="252.54" y="82.5" width="7.6" height="23.8" fill="#FFE4C8" fill-opacity="0.42" stroke="#E8281E" stroke-width="0.8"/>
<path d="M252.54 91.7h7.6" stroke="#E8281E" stroke-width="1.3"/>
<path d="M265.9 62.5V92.5M265.9 118V151.7" stroke="#E8281E" stroke-width="0.8"/>
<rect x="262.07" y="92.5" width="7.6" height="25.5" fill="#FFE4C8" fill-opacity="0.42" stroke="#E8281E" stroke-width="0.8"/>
<path d="M262.07 103h7.6" stroke="#E8281E" stroke-width="1.3"/>
<path d="M275.4 60.9V81.2M275.4 99.8V124.9" stroke="#E8281E" stroke-width="0.8"/>
<rect x="271.60" y="81.2" width="7.6" height="18.6" fill="#FFE4C8" fill-opacity="0.42" stroke="#E8281E" stroke-width="0.8"/>
<path d="M271.60 87.7h7.6" stroke="#E8281E" stroke-width="1.3"/>
<path d="M284.9 67.4V76.3M284.9 82.5V90.9" stroke="#3558B8" stroke-width="0.8"/>
<rect x="281.14" y="76.3" width="7.6" height="6.2" fill="#FFFFFF" fill-opacity="0.45" stroke="#3558B8" stroke-width="0.8"/>
<path d="M281.14 80.4h7.6" stroke="#3558B8" stroke-width="1.3"/>
<path d="M294.5 42V60.9M294.5 74.4V95" stroke="#E8281E" stroke-width="0.8"/>
<rect x="290.67" y="60.9" width="7.6" height="13.5" fill="#FFE4C8" fill-opacity="0.42" stroke="#E8281E" stroke-width="0.8"/>
<path d="M290.67 67.4h7.6" stroke="#E8281E" stroke-width="1.3"/>
<path d="M304 65V78.3M304 89.3V99.8" stroke="#3558B8" stroke-width="0.8"/>
<rect x="300.20" y="78.3" width="7.6" height="11.0" fill="#FFFFFF" fill-opacity="0.45" stroke="#3558B8" stroke-width="0.8"/>
<path d="M300.20 83.6h7.6" stroke="#3558B8" stroke-width="1.3"/>
<path d="M313.5 33.4V57.7M313.5 74.4V97.4" stroke="#E8281E" stroke-width="0.8"/>
<rect x="309.73" y="57.7" width="7.6" height="16.7" fill="#FFE4C8" fill-opacity="0.42" stroke="#E8281E" stroke-width="0.8"/>
<path d="M309.73 65.3h7.6" stroke="#E8281E" stroke-width="1.3"/>
<path d="M323.1 69.8V75M323.1 83.6V90.9" stroke="#3558B8" stroke-width="0.8"/>
<rect x="319.27" y="75" width="7.6" height="8.6" fill="#FFFFFF" fill-opacity="0.45" stroke="#3558B8" stroke-width="0.8"/>
<path d="M319.27 79.6h7.6" stroke="#3558B8" stroke-width="1.3"/>
<path d="M332.6 43.6V67.9M332.6 84.4V103.9" stroke="#E8281E" stroke-width="0.8"/>
<rect x="328.80" y="67.9" width="7.6" height="16.5" fill="#FFE4C8" fill-opacity="0.42" stroke="#E8281E" stroke-width="0.8"/>
<path d="M328.80 76.3h7.6" stroke="#E8281E" stroke-width="1.3"/>
<path d="M342.1 62.5V88.5M342.1 103V124.1" stroke="#E8281E" stroke-width="0.8"/>
<rect x="338.33" y="88.5" width="7.6" height="14.5" fill="#FFE4C8" fill-opacity="0.42" stroke="#E8281E" stroke-width="0.8"/>
<path d="M338.33 97.7h7.6" stroke="#E8281E" stroke-width="1.3"/>
<path d="M351.7 35.8V75.5M351.7 104.2V146" stroke="#E8281E" stroke-width="0.8"/>
<rect x="347.87" y="75.5" width="7.6" height="28.7" fill="#FFE4C8" fill-opacity="0.42" stroke="#E8281E" stroke-width="0.8"/>
<path d="M347.87 89.3h7.6" stroke="#E8281E" stroke-width="1.3"/>
<path d="M361.2 89.3V106.3M361.2 120.4V138.7" stroke="#3558B8" stroke-width="0.8"/>
<rect x="357.40" y="106.3" width="7.6" height="14.1" fill="#FFFFFF" fill-opacity="0.45" stroke="#3558B8" stroke-width="0.8"/>
<path d="M357.40 113.9h7.6" stroke="#3558B8" stroke-width="1.3"/>
<path d="M370.7 33.4V57.2M370.7 73.1V95.8" stroke="#E8281E" stroke-width="0.8"/>
<rect x="366.93" y="57.2" width="7.6" height="15.9" fill="#FFE4C8" fill-opacity="0.42" stroke="#E8281E" stroke-width="0.8"/>
<path d="M366.93 64.2h7.6" stroke="#E8281E" stroke-width="1.3"/>
<path d="M380.3 56V65.8M380.3 74.7V84.4" stroke="#3558B8" stroke-width="0.8"/>
<rect x="376.46" y="65.8" width="7.6" height="8.9" fill="#FFFFFF" fill-opacity="0.45" stroke="#3558B8" stroke-width="0.8"/>
<path d="M376.46 70.6h7.6" stroke="#3558B8" stroke-width="1.3"/>
<path d="M389.8 43.9V69.8M389.8 89V117.6" stroke="#E8281E" stroke-width="0.8"/>
<rect x="386.00" y="69.8" width="7.6" height="19.2" fill="#FFE4C8" fill-opacity="0.42" stroke="#E8281E" stroke-width="0.8"/>
<path d="M386.00 78.3h7.6" stroke="#E8281E" stroke-width="1.3"/>
<path d="M399.3 58.5V66.3M399.3 72.7V80.4" stroke="#3558B8" stroke-width="0.8"/>
<rect x="395.53" y="66.3" width="7.6" height="6.4" fill="#FFFFFF" fill-opacity="0.45" stroke="#3558B8" stroke-width="0.8"/>
<path d="M395.53 69h7.6" stroke="#3558B8" stroke-width="1.3"/>
<path d="M408.9 61.7V81.2M408.9 98.7V123.3" stroke="#E8281E" stroke-width="0.8"/>
<rect x="405.06" y="81.2" width="7.6" height="17.5" fill="#FFE4C8" fill-opacity="0.42" stroke="#E8281E" stroke-width="0.8"/>
<path d="M405.06 91.4h7.6" stroke="#E8281E" stroke-width="1.3"/>
<path d="M418.4 44.7V71.5M418.4 90.9V117.6" stroke="#E8281E" stroke-width="0.8"/>
<rect x="414.59" y="71.5" width="7.6" height="19.4" fill="#FFE4C8" fill-opacity="0.42" stroke="#E8281E" stroke-width="0.8"/>
<path d="M414.59 81.2h7.6" stroke="#E8281E" stroke-width="1.3"/>
<path d="M427.9 43.9V63.3M427.9 78.3V99" stroke="#E8281E" stroke-width="0.8"/>
<rect x="424.13" y="63.3" width="7.6" height="15.0" fill="#FFE4C8" fill-opacity="0.42" stroke="#E8281E" stroke-width="0.8"/>
<path d="M424.13 70.3h7.6" stroke="#E8281E" stroke-width="1.3"/>
<path d="M437.5 48V52.3M437.5 68.2V83.6" stroke="#3558B8" stroke-width="0.8"/>
<rect x="433.66" y="52.3" width="7.6" height="15.9" fill="#FFFFFF" fill-opacity="0.45" stroke="#3558B8" stroke-width="0.8"/>
<path d="M433.66 58.2h7.6" stroke="#3558B8" stroke-width="1.3"/>
<path d="M447 67.4V83.9M447 99.3V116.8" stroke="#E8281E" stroke-width="0.8"/>
<rect x="443.19" y="83.9" width="7.6" height="15.4" fill="#FFE4C8" fill-opacity="0.42" stroke="#E8281E" stroke-width="0.8"/>
<path d="M443.19 89.3h7.6" stroke="#E8281E" stroke-width="1.3"/>
<path d="M456.5 89.3V94.5M456.5 104.2V107.9" stroke="#3558B8" stroke-width="0.8"/>
<rect x="452.72" y="94.5" width="7.6" height="9.7" fill="#FFFFFF" fill-opacity="0.45" stroke="#3558B8" stroke-width="0.8"/>
<path d="M452.72 100.6h7.6" stroke="#3558B8" stroke-width="1.3"/>
<path d="M466.1 41.5V60.6M466.1 71.8V91.7" stroke="#E8281E" stroke-width="0.8"/>
<rect x="462.26" y="60.6" width="7.6" height="11.2" fill="#FFE4C8" fill-opacity="0.42" stroke="#E8281E" stroke-width="0.8"/>
<path d="M462.26 66.3h7.6" stroke="#E8281E" stroke-width="1.3"/>
<path d="M475.6 60.1V69M475.6 79.2V92.5" stroke="#3558B8" stroke-width="0.8"/>
<rect x="471.79" y="69" width="7.6" height="10.2" fill="#FFFFFF" fill-opacity="0.45" stroke="#3558B8" stroke-width="0.8"/>
<path d="M471.79 73.6h7.6" stroke="#3558B8" stroke-width="1.3"/>
<path d="M485.1 46.8V67.4M485.1 86V108.7" stroke="#E8281E" stroke-width="0.8"/>
<rect x="481.32" y="67.4" width="7.6" height="18.6" fill="#FFE4C8" fill-opacity="0.42" stroke="#E8281E" stroke-width="0.8"/>
<path d="M481.32 75.8h7.6" stroke="#E8281E" stroke-width="1.3"/>
<path d="M494.7 39.8V49.6M494.7 62.5V65" stroke="#3558B8" stroke-width="0.8"/>
<rect x="490.86" y="49.6" width="7.6" height="12.9" fill="#FFFFFF" fill-opacity="0.45" stroke="#3558B8" stroke-width="0.8"/>
<path d="M490.86 58.2h7.6" stroke="#3558B8" stroke-width="1.3"/>
<path d="M504.2 44.7V71.5M504.2 90.4V116" stroke="#E8281E" stroke-width="0.8"/>
<rect x="500.39" y="71.5" width="7.6" height="18.9" fill="#FFE4C8" fill-opacity="0.42" stroke="#E8281E" stroke-width="0.8"/>
<path d="M500.39 81.2h7.6" stroke="#E8281E" stroke-width="1.3"/>
<path d="M513.7 39.8V70.3M513.7 90.6V115.7" stroke="#E8281E" stroke-width="0.8"/>
<rect x="509.92" y="70.3" width="7.6" height="20.3" fill="#FFE4C8" fill-opacity="0.42" stroke="#E8281E" stroke-width="0.8"/>
<path d="M509.92 79.2h7.6" stroke="#E8281E" stroke-width="1.3"/>
<path d="M523.3 34.2V66.6M523.3 90.1V126.6" stroke="#8050B0" stroke-width="0.8"/>
<rect x="519.45" y="66.6" width="7.6" height="23.5" fill="#FFFFFF" fill-opacity="0.42" stroke="#8050B0" stroke-width="0.8"/>
<path d="M519.45 78.4h7.6" stroke="#8050B0" stroke-width="1.3"/>
<path d="M532.8 38.2V69.8M532.8 90.1V121.7" stroke="#E8281E" stroke-width="0.8"/>
<rect x="528.99" y="69.8" width="7.6" height="20.3" fill="#FFE4C8" fill-opacity="0.42" stroke="#E8281E" stroke-width="0.8"/>
<path d="M528.99 80.7h7.6" stroke="#E8281E" stroke-width="1.3"/>
<path d="M542.3 52.8V76.3M542.3 104.2V146.8" stroke="#3558B8" stroke-width="0.8"/>
<rect x="538.52" y="76.3" width="7.6" height="27.9" fill="#FFFFFF" fill-opacity="0.45" stroke="#3558B8" stroke-width="0.8"/>
<path d="M538.52 84.4h7.6" stroke="#3558B8" stroke-width="1.3"/>
<path d="M551.9 46.3V85.2M551.9 111.2V142" stroke="#E8281E" stroke-width="0.8"/>
<rect x="548.05" y="85.2" width="7.6" height="26.0" fill="#FFE4C8" fill-opacity="0.42" stroke="#E8281E" stroke-width="0.8"/>
<path d="M548.05 99.3h7.6" stroke="#E8281E" stroke-width="1.3"/>
<path d="M561.4 60.1V73.9M561.4 82.5V99" stroke="#E8281E" stroke-width="0.8"/>
<rect x="557.58" y="73.9" width="7.6" height="8.6" fill="#FFE4C8" fill-opacity="0.42" stroke="#E8281E" stroke-width="0.8"/>
<path d="M557.58 77.4h7.6" stroke="#E8281E" stroke-width="1.3"/>
<path d="M570.9 69V79.2M570.9 85.2V93.3" stroke="#3558B8" stroke-width="0.8"/>
<rect x="567.12" y="79.2" width="7.6" height="6.0" fill="#FFFFFF" fill-opacity="0.45" stroke="#3558B8" stroke-width="0.8"/>
<path d="M567.12 82h7.6" stroke="#3558B8" stroke-width="1.3"/>
<path d="M580.4 79.9V90.1M580.4 99.8V112.8" stroke="#E8281E" stroke-width="0.8"/>
<rect x="576.65" y="90.1" width="7.6" height="9.7" fill="#FFE4C8" fill-opacity="0.42" stroke="#E8281E" stroke-width="0.8"/>
<path d="M576.65 95.8h7.6" stroke="#E8281E" stroke-width="1.3"/>
<path d="M590 18.8V53.6M590 77.9V112.8" stroke="#E8281E" stroke-width="0.8"/>
<rect x="586.18" y="53.6" width="7.6" height="24.3" fill="#FFE4C8" fill-opacity="0.42" stroke="#E8281E" stroke-width="0.8"/>
<path d="M586.18 64.2h7.6" stroke="#E8281E" stroke-width="1.3"/>
<path d="M599.5 66.6V75.5M599.5 90.1V105.5" stroke="#3558B8" stroke-width="0.8"/>
<rect x="595.72" y="75.5" width="7.6" height="14.6" fill="#FFFFFF" fill-opacity="0.45" stroke="#3558B8" stroke-width="0.8"/>
<path d="M595.72 81.2h7.6" stroke="#3558B8" stroke-width="1.3"/>
<path d="M609 60.1V83.6M609 105.5V129" stroke="#E8281E" stroke-width="0.8"/>
<rect x="605.25" y="83.6" width="7.6" height="21.9" fill="#FFE4C8" fill-opacity="0.42" stroke="#E8281E" stroke-width="0.8"/>
<path d="M605.25 94.1h7.6" stroke="#E8281E" stroke-width="1.3"/>
<path d="M618.6 18.3V45.2M618.6 72.7V103.9" stroke="#E8281E" stroke-width="0.8"/>
<rect x="614.78" y="45.2" width="7.6" height="27.5" fill="#FFE4C8" fill-opacity="0.42" stroke="#E8281E" stroke-width="0.8"/>
<path d="M614.78 60.4h7.6" stroke="#E8281E" stroke-width="1.3"/>
<text x="61.1" y="23.4" font-size="10.5" text-anchor="middle" fill="#1a1a1a" stroke="#1a1a1a" stroke-width="0.35" letter-spacing="-0.4">*</text>
<text x="80.2" y="23.4" font-size="10.5" text-anchor="middle" fill="#1a1a1a" stroke="#1a1a1a" stroke-width="0.35" letter-spacing="-0.4">***</text>
<text x="156.2" y="19.8" font-size="7" text-anchor="middle" fill="#222">.</text>
<text x="175.5" y="23.4" font-size="10.5" text-anchor="middle" fill="#1a1a1a" stroke="#1a1a1a" stroke-width="0.35" letter-spacing="-0.4">***</text>
<text x="223.2" y="23.4" font-size="10.5" text-anchor="middle" fill="#1a1a1a" stroke="#1a1a1a" stroke-width="0.35" letter-spacing="-0.4">***</text>
<text x="242.2" y="23.4" font-size="10.5" text-anchor="middle" fill="#1a1a1a" stroke="#1a1a1a" stroke-width="0.35" letter-spacing="-0.4">***</text>
<text x="299.4" y="23.4" font-size="10.5" text-anchor="middle" fill="#1a1a1a" stroke="#1a1a1a" stroke-width="0.35" letter-spacing="-0.4">***</text>
<text x="318.5" y="23.4" font-size="10.5" text-anchor="middle" fill="#1a1a1a" stroke="#1a1a1a" stroke-width="0.35" letter-spacing="-0.4">***</text>
<text x="356.6" y="23.4" font-size="10.5" text-anchor="middle" fill="#1a1a1a" stroke="#1a1a1a" stroke-width="0.35" letter-spacing="-0.4">**</text>
<text x="375.5" y="19.8" font-size="7" text-anchor="middle" fill="#222">.</text>
<text x="394.8" y="23.4" font-size="10.5" text-anchor="middle" fill="#1a1a1a" stroke="#1a1a1a" stroke-width="0.35" letter-spacing="-0.4">***</text>
<text x="471.0" y="23.4" font-size="10.5" text-anchor="middle" fill="#1a1a1a" stroke="#1a1a1a" stroke-width="0.35" letter-spacing="-0.4">***</text>
<text x="490.1" y="23.4" font-size="10.5" text-anchor="middle" fill="#1a1a1a" stroke="#1a1a1a" stroke-width="0.35" letter-spacing="-0.4">***</text>
<text x="537.6" y="19.8" font-size="7" text-anchor="middle" fill="#222">.</text>
<text x="566.4" y="23.4" font-size="10.5" text-anchor="middle" fill="#1a1a1a" stroke="#1a1a1a" stroke-width="0.35" letter-spacing="-0.4">***</text>
<text x="594.9" y="23.4" font-size="10.5" text-anchor="middle" fill="#1a1a1a" stroke="#1a1a1a" stroke-width="0.35" letter-spacing="-0.4">**</text>
<rect x="40.9" y="7.4" width="583.4" height="165.5" fill="none" stroke="#8a8a8a" stroke-width="0.9"/>
<path d="M38.6 137.2H40.9" stroke="#333" stroke-width="0.8"/>
<text x="36.8" y="139.8" font-size="7.5" text-anchor="end" fill="#4d4d4d">2</text>
<path d="M38.6 92.3H40.9" stroke="#333" stroke-width="0.8"/>
<text x="36.8" y="94.9" font-size="7.5" text-anchor="end" fill="#4d4d4d">4</text>
<path d="M38.6 47.4H40.9" stroke="#333" stroke-width="0.8"/>
<text x="36.8" y="50.0" font-size="7.5" text-anchor="end" fill="#4d4d4d">6</text>
<text transform="translate(28.3,92.2) rotate(-90)" font-size="9.4" text-anchor="middle" fill="#111">P2RX4 Expression Level (log2 TPM)</text>
<path d="M46.6 172.9v2.2M56.2 172.9v2.2M65.7 172.9v2.2M75.2 172.9v2.2M84.8 172.9v2.2M94.3 172.9v2.2M103.8 172.9v2.2M113.3 172.9v2.2M122.9 172.9v2.2M132.4 172.9v2.2M141.9 172.9v2.2M151.5 172.9v2.2M161 172.9v2.2M170.5 172.9v2.2M180.1 172.9v2.2M189.6 172.9v2.2M199.1 172.9v2.2M208.7 172.9v2.2M218.2 172.9v2.2M227.7 172.9v2.2M237.3 172.9v2.2M246.8 172.9v2.2M256.3 172.9v2.2M265.9 172.9v2.2M275.4 172.9v2.2M284.9 172.9v2.2M294.5 172.9v2.2M304 172.9v2.2M313.5 172.9v2.2M323.1 172.9v2.2M332.6 172.9v2.2M342.1 172.9v2.2M351.7 172.9v2.2M361.2 172.9v2.2M370.7 172.9v2.2M380.3 172.9v2.2M389.8 172.9v2.2M399.3 172.9v2.2M408.9 172.9v2.2M418.4 172.9v2.2M427.9 172.9v2.2M437.5 172.9v2.2M447 172.9v2.2M456.5 172.9v2.2M466.1 172.9v2.2M475.6 172.9v2.2M485.1 172.9v2.2M494.7 172.9v2.2M504.2 172.9v2.2M513.7 172.9v2.2M523.3 172.9v2.2M532.8 172.9v2.2M542.3 172.9v2.2M551.9 172.9v2.2M561.4 172.9v2.2M570.9 172.9v2.2M580.4 172.9v2.2M590 172.9v2.2M599.5 172.9v2.2M609 172.9v2.2M618.6 172.9v2.2" stroke="#333" stroke-width="0.7"/>
<text transform="translate(49.07,177.5) rotate(-90)" font-size="7.3" text-anchor="end" fill="#1a1a1a">ACC.Tumor (n=79)</text>
<text transform="translate(58.60,177.5) rotate(-90)" font-size="7.3" text-anchor="end" fill="#1a1a1a">BLCA.Tumor (n=408)</text>
<text transform="translate(68.13,177.5) rotate(-90)" font-size="7.3" text-anchor="end" fill="#1a1a1a">BLCA.Normal (n=19)</text>
<text transform="translate(77.67,177.5) rotate(-90)" font-size="7.3" text-anchor="end" fill="#1a1a1a">BRCA.Tumor (n=1093)</text>
<text transform="translate(87.20,177.5) rotate(-90)" font-size="7.3" text-anchor="end" fill="#1a1a1a">BRCA.Normal (n=112)</text>
<text transform="translate(96.73,177.5) rotate(-90)" font-size="7.3" text-anchor="end" fill="#1a1a1a">BRCA−Basal.Tumor (n=190)</text>
<text transform="translate(106.27,177.5) rotate(-90)" font-size="7.3" text-anchor="end" fill="#1a1a1a">BRCA−Her2.Tumor (n=82)</text>
<text transform="translate(115.80,177.5) rotate(-90)" font-size="7.3" text-anchor="end" fill="#1a1a1a">BRCA−LumA.Tumor (n=564)</text>
<text transform="translate(125.33,177.5) rotate(-90)" font-size="7.3" text-anchor="end" fill="#1a1a1a">BRCA−LumB.Tumor (n=217)</text>
<text transform="translate(134.86,177.5) rotate(-90)" font-size="7.3" text-anchor="end" fill="#1a1a1a">CESC.Tumor (n=304)</text>
<text transform="translate(144.40,177.5) rotate(-90)" font-size="7.3" text-anchor="end" fill="#1a1a1a">CESC.Normal (n=3)</text>
<text transform="translate(153.93,177.5) rotate(-90)" font-size="7.3" text-anchor="end" fill="#1a1a1a">CHOL.Tumor (n=36)</text>
<text transform="translate(163.46,177.5) rotate(-90)" font-size="7.3" text-anchor="end" fill="#1a1a1a">CHOL.Normal (n=9)</text>
<text transform="translate(172.99,177.5) rotate(-90)" font-size="7.3" text-anchor="end" fill="#1a1a1a">COAD.Tumor (n=457)</text>
<text transform="translate(182.53,177.5) rotate(-90)" font-size="7.3" text-anchor="end" fill="#1a1a1a">COAD.Normal (n=41)</text>
<text transform="translate(192.06,177.5) rotate(-90)" font-size="7.3" text-anchor="end" fill="#1a1a1a">DLBC.Tumor (n=48)</text>
<text transform="translate(201.59,177.5) rotate(-90)" font-size="7.3" text-anchor="end" fill="#1a1a1a">ESCA.Tumor (n=184)</text>
<text transform="translate(211.13,177.5) rotate(-90)" font-size="7.3" text-anchor="end" fill="#1a1a1a">ESCA.Normal (n=11)</text>
<text transform="translate(220.66,177.5) rotate(-90)" font-size="7.3" text-anchor="end" fill="#1a1a1a">GBM.Tumor (n=153)</text>
<text transform="translate(230.19,177.5) rotate(-90)" font-size="7.3" text-anchor="end" fill="#1a1a1a">GBM.Normal (n=5)</text>
<text transform="translate(239.72,177.5) rotate(-90)" font-size="7.3" text-anchor="end" fill="#1a1a1a">HNSC.Tumor (n=520)</text>
<text transform="translate(249.26,177.5) rotate(-90)" font-size="7.3" text-anchor="end" fill="#1a1a1a">HNSC.Normal (n=44)</text>
<text transform="translate(258.79,177.5) rotate(-90)" font-size="7.3" text-anchor="end" fill="#1a1a1a">HNSC−HPV+.Tumor (n=97)</text>
<text transform="translate(268.32,177.5) rotate(-90)" font-size="7.3" text-anchor="end" fill="#1a1a1a">HNSC−HPV−.Tumor (n=421)</text>
<text transform="translate(277.85,177.5) rotate(-90)" font-size="7.3" text-anchor="end" fill="#1a1a1a">KICH.Tumor (n=66)</text>
<text transform="translate(287.39,177.5) rotate(-90)" font-size="7.3" text-anchor="end" fill="#1a1a1a">KICH.Normal (n=25)</text>
<text transform="translate(296.92,177.5) rotate(-90)" font-size="7.3" text-anchor="end" fill="#1a1a1a">KIRC.Tumor (n=533)</text>
<text transform="translate(306.45,177.5) rotate(-90)" font-size="7.3" text-anchor="end" fill="#1a1a1a">KIRC.Normal (n=72)</text>
<text transform="translate(315.98,177.5) rotate(-90)" font-size="7.3" text-anchor="end" fill="#1a1a1a">KIRP.Tumor (n=290)</text>
<text transform="translate(325.52,177.5) rotate(-90)" font-size="7.3" text-anchor="end" fill="#1a1a1a">KIRP.Normal (n=32)</text>
<text transform="translate(335.05,177.5) rotate(-90)" font-size="7.3" text-anchor="end" fill="#1a1a1a">LAML.Tumor (n=173)</text>
<text transform="translate(344.58,177.5) rotate(-90)" font-size="7.3" text-anchor="end" fill="#1a1a1a">LGG.Tumor (n=516)</text>
<text transform="translate(354.12,177.5) rotate(-90)" font-size="7.3" text-anchor="end" fill="#1a1a1a">LIHC.Tumor (n=371)</text>
<text transform="translate(363.65,177.5) rotate(-90)" font-size="7.3" text-anchor="end" fill="#1a1a1a">LIHC.Normal (n=50)</text>
<text transform="translate(373.18,177.5) rotate(-90)" font-size="7.3" text-anchor="end" fill="#1a1a1a">LUAD.Tumor (n=515)</text>
<text transform="translate(382.71,177.5) rotate(-90)" font-size="7.3" text-anchor="end" fill="#1a1a1a">LUAD.Normal (n=59)</text>
<text transform="translate(392.25,177.5) rotate(-90)" font-size="7.3" text-anchor="end" fill="#1a1a1a">LUSC.Tumor (n=501)</text>
<text transform="translate(401.78,177.5) rotate(-90)" font-size="7.3" text-anchor="end" fill="#1a1a1a">LUSC.Normal (n=51)</text>
<text transform="translate(411.31,177.5) rotate(-90)" font-size="7.3" text-anchor="end" fill="#1a1a1a">MESO.Tumor (n=87)</text>
<text transform="translate(420.84,177.5) rotate(-90)" font-size="7.3" text-anchor="end" fill="#1a1a1a">OV.Tumor (n=303)</text>
<text transform="translate(430.38,177.5) rotate(-90)" font-size="7.3" text-anchor="end" fill="#1a1a1a">PAAD.Tumor (n=178)</text>
<text transform="translate(439.91,177.5) rotate(-90)" font-size="7.3" text-anchor="end" fill="#1a1a1a">PAAD.Normal (n=4)</text>
<text transform="translate(449.44,177.5) rotate(-90)" font-size="7.3" text-anchor="end" fill="#1a1a1a">PCPG.Tumor (n=179)</text>
<text transform="translate(458.97,177.5) rotate(-90)" font-size="7.3" text-anchor="end" fill="#1a1a1a">PCPG.Normal (n=3)</text>
<text transform="translate(468.51,177.5) rotate(-90)" font-size="7.3" text-anchor="end" fill="#1a1a1a">PRAD.Tumor (n=497)</text>
<text transform="translate(478.04,177.5) rotate(-90)" font-size="7.3" text-anchor="end" fill="#1a1a1a">PRAD.Normal (n=52)</text>
<text transform="translate(487.57,177.5) rotate(-90)" font-size="7.3" text-anchor="end" fill="#1a1a1a">READ.Tumor (n=166)</text>
<text transform="translate(497.11,177.5) rotate(-90)" font-size="7.3" text-anchor="end" fill="#1a1a1a">READ.Normal (n=10)</text>
<text transform="translate(506.64,177.5) rotate(-90)" font-size="7.3" text-anchor="end" fill="#1a1a1a">SARC.Tumor (n=259)</text>
<text transform="translate(516.17,177.5) rotate(-90)" font-size="7.3" text-anchor="end" fill="#1a1a1a">SKCM.Tumor (n=103)</text>
<text transform="translate(525.70,177.5) rotate(-90)" font-size="7.3" text-anchor="end" fill="#1a1a1a">SKCM.Metastasis (n=368)</text>
<text transform="translate(535.24,177.5) rotate(-90)" font-size="7.3" text-anchor="end" fill="#1a1a1a">STAD.Tumor (n=415)</text>
<text transform="translate(544.77,177.5) rotate(-90)" font-size="7.3" text-anchor="end" fill="#1a1a1a">STAD.Normal (n=35)</text>
<text transform="translate(554.30,177.5) rotate(-90)" font-size="7.3" text-anchor="end" fill="#1a1a1a">TGCT.Tumor (n=150)</text>
<text transform="translate(563.83,177.5) rotate(-90)" font-size="7.3" text-anchor="end" fill="#1a1a1a">THCA.Tumor (n=501)</text>
<text transform="translate(573.37,177.5) rotate(-90)" font-size="7.3" text-anchor="end" fill="#1a1a1a">THCA.Normal (n=59)</text>
<text transform="translate(582.90,177.5) rotate(-90)" font-size="7.3" text-anchor="end" fill="#1a1a1a">THYM.Tumor (n=120)</text>
<text transform="translate(592.43,177.5) rotate(-90)" font-size="7.3" text-anchor="end" fill="#1a1a1a">UCEC.Tumor (n=545)</text>
<text transform="translate(601.97,177.5) rotate(-90)" font-size="7.3" text-anchor="end" fill="#1a1a1a">UCEC.Normal (n=35)</text>
<text transform="translate(611.50,177.5) rotate(-90)" font-size="7.3" text-anchor="end" fill="#1a1a1a">UCS.Tumor (n=57)</text>
<text transform="translate(621.03,177.5) rotate(-90)" font-size="7.3" text-anchor="end" fill="#1a1a1a">UVM.Tumor (n=80)</text>
<path d="M43.9 302.7H334.6V317.6H43.9z" fill="#1F4A9E"/>
<path d="M334.6 302.7H623.7V317.6H334.6z" fill="#E41A1C"/>
<path d="M43.9 318.8H47.0V333.7H43.9zM48.6 318.8H58.0V333.7H48.6zM59.5 318.8H64.2V333.7H59.5zM67.3 318.8H68.9V333.7H67.3zM72.0 318.8H89.2V333.7H72.0zM90.8 318.8H100.2V333.7H90.8zM106.4 318.8H112.7V333.7H106.4zM114.2 318.8H115.8V333.7H114.2zM117.4 318.8H118.9V333.7H117.4zM122.0 318.8H125.2V333.7H122.0zM126.7 318.8H128.3V333.7H126.7zM129.9 318.8H134.5V333.7H129.9zM136.1 318.8H140.8V333.7H136.1zM143.9 318.8H150.2V333.7H143.9zM151.7 318.8H158.0V333.7H151.7zM159.5 318.8H168.9V333.7H159.5zM172.0 318.8H173.6V333.7H172.0zM175.2 318.8H178.3V333.7H175.2zM179.9 318.8H183.0V333.7H179.9zM184.6 318.8H187.7V333.7H184.6zM189.2 318.8H203.3V333.7H189.2zM204.9 318.8H208.0V333.7H204.9zM209.6 318.8H212.7V333.7H209.6zM215.8 318.8H218.9V333.7H215.8zM222.1 318.8H223.6V333.7H222.1zM226.7 318.8H233.0V333.7H226.7zM234.6 318.8H236.1V333.7H234.6zM237.7 318.8H239.3V333.7H237.7zM240.8 318.8H245.5V333.7H240.8zM247.1 318.8H251.8V333.7H247.1zM253.3 318.8H256.4V333.7H253.3zM258.0 318.8H273.6V333.7H258.0zM276.8 318.8H278.3V333.7H276.8zM279.9 318.8H286.1V333.7H279.9zM290.8 318.8H295.5V333.7H290.8zM297.1 318.8H298.6V333.7H297.1zM300.2 318.8H303.3V333.7H300.2zM312.7 318.8H314.3V333.7H312.7zM319.0 318.8H320.5V333.7H319.0zM323.6 318.8H334.6V333.7H323.6zM339.3 318.8H340.8V333.7H339.3zM342.4 318.8H345.5V333.7H342.4zM347.1 318.8H348.6V333.7H347.1zM350.2 318.8H356.5V333.7H350.2zM358.0 318.8H361.1V333.7H358.0zM362.7 318.8H372.1V333.7H362.7zM373.7 318.8H376.8V333.7H373.7zM378.3 318.8H384.6V333.7H378.3zM389.3 318.8H397.1V333.7H389.3zM403.3 318.8H417.4V333.7H403.3zM420.5 318.8H425.2V333.7H420.5zM426.8 318.8H428.3V333.7H426.8zM429.9 318.8H433.0V333.7H429.9zM434.6 318.8H440.9V333.7H434.6zM442.4 318.8H453.4V333.7H442.4zM458.0 318.8H465.9V333.7H458.0zM467.4 318.8H472.1V333.7H467.4zM473.7 318.8H476.8V333.7H473.7zM478.4 318.8H479.9V333.7H478.4zM483.0 318.8H484.6V333.7H483.0zM487.7 318.8H492.4V333.7H487.7zM494.0 318.8H497.1V333.7H494.0zM501.8 318.8H506.5V333.7H501.8zM509.6 318.8H511.2V333.7H509.6zM512.7 318.8H514.3V333.7H512.7zM519.0 318.8H520.6V333.7H519.0zM522.1 318.8H523.7V333.7H522.1zM526.8 318.8H533.1V333.7H526.8zM534.6 318.8H537.7V333.7H534.6zM539.3 318.8H540.9V333.7H539.3zM542.4 318.8H545.6V333.7H542.4zM547.1 318.8H551.8V333.7H547.1zM558.1 318.8H559.6V333.7H558.1zM561.2 318.8H567.4V333.7H561.2zM569.0 318.8H572.1V333.7H569.0zM573.7 318.8H578.4V333.7H573.7zM581.5 318.8H583.1V333.7H581.5zM586.2 318.8H597.1V333.7H586.2zM598.7 318.8H601.8V333.7H598.7zM603.4 318.8H606.5V333.7H603.4zM608.1 318.8H612.8V333.7H608.1zM615.9 318.8H622.1V333.7H615.9z" fill="#2D64AE"/>
<path d="M47.0 318.8H48.6V333.7H47.0zM58.0 318.8H59.5V333.7H58.0zM64.2 318.8H67.3V333.7H64.2zM70.5 318.8H72.0V333.7H70.5zM89.2 318.8H90.8V333.7H89.2zM103.3 318.8H106.4V333.7H103.3zM112.7 318.8H114.2V333.7H112.7zM115.8 318.8H117.4V333.7H115.8zM118.9 318.8H122.0V333.7H118.9zM125.2 318.8H126.7V333.7H125.2zM134.5 318.8H136.1V333.7H134.5zM140.8 318.8H143.9V333.7H140.8zM150.2 318.8H151.7V333.7H150.2zM158.0 318.8H159.5V333.7H158.0zM168.9 318.8H172.0V333.7H168.9zM173.6 318.8H175.2V333.7H173.6zM178.3 318.8H179.9V333.7H178.3zM187.7 318.8H189.2V333.7H187.7zM203.3 318.8H204.9V333.7H203.3zM208.0 318.8H209.6V333.7H208.0zM212.7 318.8H215.8V333.7H212.7zM218.9 318.8H222.1V333.7H218.9zM223.6 318.8H226.7V333.7H223.6zM233.0 318.8H234.6V333.7H233.0zM236.1 318.8H237.7V333.7H236.1zM239.3 318.8H240.8V333.7H239.3zM245.5 318.8H247.1V333.7H245.5zM251.8 318.8H253.3V333.7H251.8zM256.4 318.8H258.0V333.7H256.4zM273.6 318.8H275.2V333.7H273.6zM278.3 318.8H279.9V333.7H278.3zM286.1 318.8H290.8V333.7H286.1zM295.5 318.8H297.1V333.7H295.5zM303.3 318.8H312.7V333.7H303.3zM314.3 318.8H319.0V333.7H314.3zM320.5 318.8H323.6V333.7H320.5zM336.1 318.8H339.3V333.7H336.1zM340.8 318.8H342.4V333.7H340.8zM345.5 318.8H347.1V333.7H345.5zM348.6 318.8H350.2V333.7H348.6zM356.5 318.8H358.0V333.7H356.5zM361.1 318.8H362.7V333.7H361.1zM372.1 318.8H373.7V333.7H372.1zM376.8 318.8H378.3V333.7H376.8zM384.6 318.8H389.3V333.7H384.6zM397.1 318.8H403.3V333.7H397.1zM417.4 318.8H419.0V333.7H417.4zM425.2 318.8H426.8V333.7H425.2zM428.3 318.8H429.9V333.7H428.3zM433.0 318.8H434.6V333.7H433.0zM440.9 318.8H442.4V333.7H440.9zM453.4 318.8H458.0V333.7H453.4zM465.9 318.8H467.4V333.7H465.9zM472.1 318.8H473.7V333.7H472.1zM476.8 318.8H478.4V333.7H476.8zM479.9 318.8H483.0V333.7H479.9zM484.6 318.8H487.7V333.7H484.6zM492.4 318.8H494.0V333.7H492.4zM497.1 318.8H501.8V333.7H497.1zM506.5 318.8H509.6V333.7H506.5zM511.2 318.8H512.7V333.7H511.2zM514.3 318.8H515.9V333.7H514.3zM517.4 318.8H519.0V333.7H517.4zM520.6 318.8H522.1V333.7H520.6zM523.7 318.8H526.8V333.7H523.7zM533.1 318.8H534.6V333.7H533.1zM537.7 318.8H539.3V333.7H537.7zM540.9 318.8H542.4V333.7H540.9zM545.6 318.8H547.1V333.7H545.6zM551.8 318.8H558.1V333.7H551.8zM559.6 318.8H561.2V333.7H559.6zM567.4 318.8H569.0V333.7H567.4zM572.1 318.8H573.7V333.7H572.1zM578.4 318.8H581.5V333.7H578.4zM583.1 318.8H586.2V333.7H583.1zM597.1 318.8H598.7V333.7H597.1zM601.8 318.8H603.4V333.7H601.8zM606.5 318.8H608.1V333.7H606.5zM612.8 318.8H615.9V333.7H612.8zM622.1 318.8H623.7V333.7H622.1z" fill="#F39A1E"/>
<path d="M68.9 318.8H70.5V333.7H68.9zM100.2 318.8H103.3V333.7H100.2zM128.3 318.8H129.9V333.7H128.3zM183.0 318.8H184.6V333.7H183.0zM275.2 318.8H276.8V333.7H275.2zM298.6 318.8H300.2V333.7H298.6zM334.6 318.8H336.1V333.7H334.6zM419.0 318.8H420.5V333.7H419.0zM515.9 318.8H517.4V333.7H515.9z" fill="#BEBEBE"/>
<path d="M43.9 334.9H45.5V349.8H43.9zM51.7 334.9H53.3V349.8H51.7zM54.8 334.9H56.4V349.8H54.8zM68.9 334.9H70.5V349.8H68.9zM92.3 334.9H93.9V349.8H92.3zM95.5 334.9H97.0V349.8H95.5zM98.6 334.9H103.3V349.8H98.6zM106.4 334.9H108.0V349.8H106.4zM109.5 334.9H112.7V349.8H109.5zM115.8 334.9H117.4V349.8H115.8zM120.5 334.9H122.0V349.8H120.5zM123.6 334.9H125.2V349.8H123.6zM134.5 334.9H137.7V349.8H134.5zM140.8 334.9H142.4V349.8H140.8zM161.1 334.9H165.8V349.8H161.1zM168.9 334.9H170.5V349.8H168.9zM172.0 334.9H173.6V349.8H172.0zM184.6 334.9H186.1V349.8H184.6zM189.2 334.9H190.8V349.8H189.2zM198.6 334.9H201.7V349.8H198.6zM203.3 334.9H204.9V349.8H203.3zM211.1 334.9H214.2V349.8H211.1zM215.8 334.9H222.1V349.8H215.8zM223.6 334.9H226.7V349.8H223.6zM228.3 334.9H231.4V349.8H228.3zM233.0 334.9H234.6V349.8H233.0zM247.1 334.9H248.6V349.8H247.1zM258.0 334.9H259.6V349.8H258.0zM262.7 334.9H265.8V349.8H262.7zM268.9 334.9H270.5V349.8H268.9zM281.4 334.9H283.0V349.8H281.4zM286.1 334.9H287.7V349.8H286.1zM289.3 334.9H290.8V349.8H289.3zM292.4 334.9H293.9V349.8H292.4zM297.1 334.9H298.6V349.8H297.1zM300.2 334.9H301.8V349.8H300.2zM311.1 334.9H312.7V349.8H311.1zM334.6 334.9H336.1V349.8H334.6zM337.7 334.9H340.8V349.8H337.7zM342.4 334.9H345.5V349.8H342.4zM347.1 334.9H348.6V349.8H347.1zM351.8 334.9H353.3V349.8H351.8zM356.5 334.9H359.6V349.8H356.5zM361.1 334.9H364.3V349.8H361.1zM378.3 334.9H379.9V349.8H378.3zM386.2 334.9H387.7V349.8H386.2zM389.3 334.9H394.0V349.8H389.3zM397.1 334.9H400.2V349.8H397.1zM404.9 334.9H406.5V349.8H404.9zM411.2 334.9H412.7V349.8H411.2zM415.8 334.9H420.5V349.8H415.8zM434.6 334.9H436.2V349.8H434.6zM445.5 334.9H448.7V349.8H445.5zM451.8 334.9H453.4V349.8H451.8zM454.9 334.9H456.5V349.8H454.9zM461.2 334.9H462.7V349.8H461.2zM464.3 334.9H467.4V349.8H464.3zM470.5 334.9H473.7V349.8H470.5zM478.4 334.9H479.9V349.8H478.4zM486.2 334.9H487.7V349.8H486.2zM489.3 334.9H490.9V349.8H489.3zM494.0 334.9H495.6V349.8H494.0zM498.7 334.9H501.8V349.8H498.7zM506.5 334.9H508.1V349.8H506.5zM511.2 334.9H512.7V349.8H511.2zM514.3 334.9H519.0V349.8H514.3zM520.6 334.9H522.1V349.8H520.6zM526.8 334.9H529.9V349.8H526.8zM542.4 334.9H544.0V349.8H542.4zM545.6 334.9H547.1V349.8H545.6zM550.2 334.9H553.4V349.8H550.2zM561.2 334.9H565.9V349.8H561.2zM569.0 334.9H570.6V349.8H569.0zM573.7 334.9H576.8V349.8H573.7zM581.5 334.9H583.1V349.8H581.5zM587.8 334.9H589.3V349.8H587.8zM590.9 334.9H592.4V349.8H590.9zM595.6 334.9H598.7V349.8H595.6zM601.8 334.9H606.5V349.8H601.8zM608.1 334.9H619.0V349.8H608.1zM622.1 334.9H623.7V349.8H622.1z" fill="#D8338F"/>
<path d="M45.5 334.9H51.7V349.8H45.5zM53.3 334.9H54.8V349.8H53.3zM56.4 334.9H68.9V349.8H56.4zM70.5 334.9H92.3V349.8H70.5zM93.9 334.9H95.5V349.8H93.9zM97.0 334.9H98.6V349.8H97.0zM103.3 334.9H106.4V349.8H103.3zM108.0 334.9H109.5V349.8H108.0zM112.7 334.9H115.8V349.8H112.7zM117.4 334.9H120.5V349.8H117.4zM122.0 334.9H123.6V349.8H122.0zM125.2 334.9H134.5V349.8H125.2zM137.7 334.9H140.8V349.8H137.7zM142.4 334.9H161.1V349.8H142.4zM165.8 334.9H168.9V349.8H165.8zM170.5 334.9H172.0V349.8H170.5zM173.6 334.9H184.6V349.8H173.6zM186.1 334.9H189.2V349.8H186.1zM190.8 334.9H198.6V349.8H190.8zM201.7 334.9H203.3V349.8H201.7zM204.9 334.9H211.1V349.8H204.9zM214.2 334.9H215.8V349.8H214.2zM222.1 334.9H223.6V349.8H222.1zM226.7 334.9H228.3V349.8H226.7zM231.4 334.9H233.0V349.8H231.4zM234.6 334.9H247.1V349.8H234.6zM248.6 334.9H258.0V349.8H248.6zM259.6 334.9H262.7V349.8H259.6zM265.8 334.9H268.9V349.8H265.8zM270.5 334.9H281.4V349.8H270.5zM283.0 334.9H286.1V349.8H283.0zM287.7 334.9H289.3V349.8H287.7zM290.8 334.9H292.4V349.8H290.8zM293.9 334.9H297.1V349.8H293.9zM298.6 334.9H300.2V349.8H298.6zM301.8 334.9H311.1V349.8H301.8zM312.7 334.9H334.6V349.8H312.7zM336.1 334.9H337.7V349.8H336.1zM340.8 334.9H342.4V349.8H340.8zM345.5 334.9H347.1V349.8H345.5zM348.6 334.9H351.8V349.8H348.6zM353.3 334.9H356.5V349.8H353.3zM359.6 334.9H361.1V349.8H359.6zM364.3 334.9H378.3V349.8H364.3zM379.9 334.9H386.2V349.8H379.9zM387.7 334.9H389.3V349.8H387.7zM394.0 334.9H397.1V349.8H394.0zM400.2 334.9H404.9V349.8H400.2zM406.5 334.9H411.2V349.8H406.5zM412.7 334.9H415.8V349.8H412.7zM420.5 334.9H434.6V349.8H420.5zM436.2 334.9H445.5V349.8H436.2zM448.7 334.9H451.8V349.8H448.7zM453.4 334.9H454.9V349.8H453.4zM456.5 334.9H461.2V349.8H456.5zM462.7 334.9H464.3V349.8H462.7zM467.4 334.9H470.5V349.8H467.4zM473.7 334.9H478.4V349.8H473.7zM479.9 334.9H486.2V349.8H479.9zM487.7 334.9H489.3V349.8H487.7zM490.9 334.9H494.0V349.8H490.9zM495.6 334.9H498.7V349.8H495.6zM501.8 334.9H506.5V349.8H501.8zM508.1 334.9H511.2V349.8H508.1zM512.7 334.9H514.3V349.8H512.7zM519.0 334.9H520.6V349.8H519.0zM522.1 334.9H526.8V349.8H522.1zM529.9 334.9H542.4V349.8H529.9zM544.0 334.9H545.6V349.8H544.0zM547.1 334.9H550.2V349.8H547.1zM553.4 334.9H561.2V349.8H553.4zM565.9 334.9H569.0V349.8H565.9zM570.6 334.9H573.7V349.8H570.6zM576.8 334.9H581.5V349.8H576.8zM583.1 334.9H587.8V349.8H583.1zM589.3 334.9H590.9V349.8H589.3zM592.4 334.9H595.6V349.8H592.4zM598.7 334.9H601.8V349.8H598.7zM606.5 334.9H608.1V349.8H606.5zM619.0 334.9H622.1V349.8H619.0z" fill="#2EAA3B"/>
<path d="M43.9 351.0H45.5V365.9H43.9zM50.2 351.0H51.7V365.9H50.2zM68.9 351.0H70.5V365.9H68.9zM76.7 351.0H78.3V365.9H76.7zM86.1 351.0H87.7V365.9H86.1zM95.5 351.0H97.0V365.9H95.5zM100.2 351.0H101.7V365.9H100.2zM104.8 351.0H108.0V365.9H104.8zM118.9 351.0H120.5V365.9H118.9zM128.3 351.0H129.9V365.9H128.3zM136.1 351.0H139.2V365.9H136.1zM147.0 351.0H148.6V365.9H147.0zM158.0 351.0H159.5V365.9H158.0zM161.1 351.0H165.8V365.9H161.1zM168.9 351.0H170.5V365.9H168.9zM178.3 351.0H179.9V365.9H178.3zM181.4 351.0H183.0V365.9H181.4zM184.6 351.0H186.1V365.9H184.6zM187.7 351.0H189.2V365.9H187.7zM195.5 351.0H197.1V365.9H195.5zM204.9 351.0H206.4V365.9H204.9zM208.0 351.0H209.6V365.9H208.0zM215.8 351.0H218.9V365.9H215.8zM222.1 351.0H223.6V365.9H222.1zM231.4 351.0H233.0V365.9H231.4zM245.5 351.0H247.1V365.9H245.5zM250.2 351.0H251.8V365.9H250.2zM256.4 351.0H258.0V365.9H256.4zM259.6 351.0H261.1V365.9H259.6zM265.8 351.0H268.9V365.9H265.8zM272.1 351.0H273.6V365.9H272.1zM290.8 351.0H293.9V365.9H290.8zM301.8 351.0H303.3V365.9H301.8zM304.9 351.0H308.0V365.9H304.9zM314.3 351.0H315.8V365.9H314.3zM320.5 351.0H323.6V365.9H320.5zM326.8 351.0H329.9V365.9H326.8zM336.1 351.0H337.7V365.9H336.1zM339.3 351.0H344.0V365.9H339.3zM347.1 351.0H348.6V365.9H347.1zM353.3 351.0H356.5V365.9H353.3zM361.1 351.0H362.7V365.9H361.1zM369.0 351.0H373.7V365.9H369.0zM378.3 351.0H381.5V365.9H378.3zM383.0 351.0H384.6V365.9H383.0zM389.3 351.0H392.4V365.9H389.3zM394.0 351.0H395.5V365.9H394.0zM403.3 351.0H404.9V365.9H403.3zM406.5 351.0H409.6V365.9H406.5zM411.2 351.0H414.3V365.9H411.2zM417.4 351.0H419.0V365.9H417.4zM422.1 351.0H423.7V365.9H422.1zM425.2 351.0H426.8V365.9H425.2zM428.3 351.0H429.9V365.9H428.3zM431.5 351.0H433.0V365.9H431.5zM434.6 351.0H436.2V365.9H434.6zM439.3 351.0H451.8V365.9H439.3zM453.4 351.0H456.5V365.9H453.4zM458.0 351.0H461.2V365.9H458.0zM462.7 351.0H467.4V365.9H462.7zM472.1 351.0H473.7V365.9H472.1zM475.2 351.0H479.9V365.9H475.2zM481.5 351.0H483.0V365.9H481.5zM486.2 351.0H489.3V365.9H486.2zM492.4 351.0H495.6V365.9H492.4zM506.5 351.0H512.7V365.9H506.5zM514.3 351.0H517.4V365.9H514.3zM520.6 351.0H522.1V365.9H520.6zM523.7 351.0H525.2V365.9H523.7zM536.2 351.0H537.7V365.9H536.2zM540.9 351.0H542.4V365.9H540.9zM548.7 351.0H550.2V365.9H548.7zM553.4 351.0H554.9V365.9H553.4zM562.8 351.0H564.3V365.9H562.8zM565.9 351.0H567.4V365.9H565.9zM569.0 351.0H570.6V365.9H569.0zM573.7 351.0H575.3V365.9H573.7zM576.8 351.0H578.4V365.9H576.8zM581.5 351.0H583.1V365.9H581.5zM586.2 351.0H589.3V365.9H586.2zM590.9 351.0H592.4V365.9H590.9zM594.0 351.0H595.6V365.9H594.0zM600.3 351.0H601.8V365.9H600.3zM606.5 351.0H609.6V365.9H606.5zM611.2 351.0H615.9V365.9H611.2zM620.6 351.0H622.1V365.9H620.6z" fill="#A867AA"/>
<path d="M45.5 351.0H50.2V365.9H45.5zM53.3 351.0H61.1V365.9H53.3zM62.7 351.0H67.3V365.9H62.7zM70.5 351.0H75.2V365.9H70.5zM78.3 351.0H86.1V365.9H78.3zM89.2 351.0H95.5V365.9H89.2zM97.0 351.0H98.6V365.9H97.0zM101.7 351.0H104.8V365.9H101.7zM108.0 351.0H109.5V365.9H108.0zM114.2 351.0H117.4V365.9H114.2zM120.5 351.0H122.0V365.9H120.5zM125.2 351.0H126.7V365.9H125.2zM129.9 351.0H136.1V365.9H129.9zM140.8 351.0H147.0V365.9H140.8zM153.3 351.0H154.9V365.9H153.3zM156.4 351.0H158.0V365.9H156.4zM159.5 351.0H161.1V365.9H159.5zM165.8 351.0H168.9V365.9H165.8zM170.5 351.0H172.0V365.9H170.5zM173.6 351.0H175.2V365.9H173.6zM179.9 351.0H181.4V365.9H179.9zM183.0 351.0H184.6V365.9H183.0zM186.1 351.0H187.7V365.9H186.1zM189.2 351.0H190.8V365.9H189.2zM193.9 351.0H195.5V365.9H193.9zM197.1 351.0H204.9V365.9H197.1zM206.4 351.0H208.0V365.9H206.4zM209.6 351.0H214.2V365.9H209.6zM218.9 351.0H222.1V365.9H218.9zM223.6 351.0H225.2V365.9H223.6zM226.7 351.0H229.9V365.9H226.7zM233.0 351.0H234.6V365.9H233.0zM236.1 351.0H239.3V365.9H236.1zM240.8 351.0H245.5V365.9H240.8zM247.1 351.0H250.2V365.9H247.1zM251.8 351.0H253.3V365.9H251.8zM258.0 351.0H259.6V365.9H258.0zM261.1 351.0H265.8V365.9H261.1zM268.9 351.0H272.1V365.9H268.9zM275.2 351.0H284.6V365.9H275.2zM286.1 351.0H287.7V365.9H286.1zM293.9 351.0H301.8V365.9H293.9zM309.6 351.0H314.3V365.9H309.6zM315.8 351.0H319.0V365.9H315.8zM325.2 351.0H326.8V365.9H325.2zM331.5 351.0H333.0V365.9H331.5zM334.6 351.0H336.1V365.9H334.6zM344.0 351.0H345.5V365.9H344.0zM348.6 351.0H353.3V365.9H348.6zM356.5 351.0H358.0V365.9H356.5zM362.7 351.0H364.3V365.9H362.7zM365.8 351.0H367.4V365.9H365.8zM373.7 351.0H375.2V365.9H373.7zM381.5 351.0H383.0V365.9H381.5zM384.6 351.0H386.2V365.9H384.6zM387.7 351.0H389.3V365.9H387.7zM392.4 351.0H394.0V365.9H392.4zM395.5 351.0H400.2V365.9H395.5zM404.9 351.0H406.5V365.9H404.9zM414.3 351.0H417.4V365.9H414.3zM419.0 351.0H420.5V365.9H419.0zM423.7 351.0H425.2V365.9H423.7zM426.8 351.0H428.3V365.9H426.8zM433.0 351.0H434.6V365.9H433.0zM436.2 351.0H437.7V365.9H436.2zM469.0 351.0H472.1V365.9H469.0zM479.9 351.0H481.5V365.9H479.9zM483.0 351.0H486.2V365.9H483.0zM490.9 351.0H492.4V365.9H490.9zM495.6 351.0H498.7V365.9H495.6zM500.2 351.0H503.4V365.9H500.2zM512.7 351.0H514.3V365.9H512.7zM519.0 351.0H520.6V365.9H519.0zM522.1 351.0H523.7V365.9H522.1zM526.8 351.0H534.6V365.9H526.8zM542.4 351.0H545.6V365.9H542.4zM547.1 351.0H548.7V365.9H547.1zM554.9 351.0H558.1V365.9H554.9zM561.2 351.0H562.8V365.9H561.2zM567.4 351.0H569.0V365.9H567.4zM572.1 351.0H573.7V365.9H572.1zM575.3 351.0H576.8V365.9H575.3zM578.4 351.0H581.5V365.9H578.4zM583.1 351.0H584.6V365.9H583.1zM589.3 351.0H590.9V365.9H589.3zM595.6 351.0H600.3V365.9H595.6zM601.8 351.0H606.5V365.9H601.8zM615.9 351.0H619.0V365.9H615.9zM622.1 351.0H623.7V365.9H622.1z" fill="#C98B1F"/>
<path d="M51.7 351.0H53.3V365.9H51.7zM61.1 351.0H62.7V365.9H61.1zM126.7 351.0H128.3V365.9H126.7zM151.7 351.0H153.3V365.9H151.7zM214.2 351.0H215.8V365.9H214.2zM229.9 351.0H231.4V365.9H229.9zM303.3 351.0H304.9V365.9H303.3zM337.7 351.0H339.3V365.9H337.7zM364.3 351.0H365.8V365.9H364.3zM376.8 351.0H378.3V365.9H376.8zM400.2 351.0H401.8V365.9H400.2zM451.8 351.0H453.4V365.9H451.8zM551.8 351.0H553.4V365.9H551.8zM570.6 351.0H572.1V365.9H570.6z" fill="#BEBEBE"/>
<path d="M67.3 351.0H68.9V365.9H67.3zM75.2 351.0H76.7V365.9H75.2zM87.7 351.0H89.2V365.9H87.7zM98.6 351.0H100.2V365.9H98.6zM109.5 351.0H111.1V365.9H109.5zM112.7 351.0H114.2V365.9H112.7zM122.0 351.0H125.2V365.9H122.0zM139.2 351.0H140.8V365.9H139.2zM148.6 351.0H151.7V365.9H148.6zM154.9 351.0H156.4V365.9H154.9zM172.0 351.0H173.6V365.9H172.0zM176.7 351.0H178.3V365.9H176.7zM190.8 351.0H193.9V365.9H190.8zM225.2 351.0H226.7V365.9H225.2zM234.6 351.0H236.1V365.9H234.6zM239.3 351.0H240.8V365.9H239.3zM254.9 351.0H256.4V365.9H254.9zM273.6 351.0H275.2V365.9H273.6zM287.7 351.0H290.8V365.9H287.7zM308.0 351.0H309.6V365.9H308.0zM319.0 351.0H320.5V365.9H319.0zM323.6 351.0H325.2V365.9H323.6zM329.9 351.0H331.5V365.9H329.9zM333.0 351.0H334.6V365.9H333.0zM359.6 351.0H361.1V365.9H359.6zM409.6 351.0H411.2V365.9H409.6zM420.5 351.0H422.1V365.9H420.5zM429.9 351.0H431.5V365.9H429.9zM456.5 351.0H458.0V365.9H456.5zM489.3 351.0H490.9V365.9H489.3zM498.7 351.0H500.2V365.9H498.7zM537.7 351.0H540.9V365.9H537.7zM564.3 351.0H565.9V365.9H564.3zM609.6 351.0H611.2V365.9H609.6z" fill="#1F6A8E"/>
<path d="M111.1 351.0H112.7V365.9H111.1zM117.4 351.0H118.9V365.9H117.4zM175.2 351.0H176.7V365.9H175.2zM253.3 351.0H254.9V365.9H253.3zM284.6 351.0H286.1V365.9H284.6zM345.5 351.0H347.1V365.9H345.5zM358.0 351.0H359.6V365.9H358.0zM367.4 351.0H369.0V365.9H367.4zM375.2 351.0H376.8V365.9H375.2zM386.2 351.0H387.7V365.9H386.2zM401.8 351.0H403.3V365.9H401.8zM437.7 351.0H439.3V365.9H437.7zM461.2 351.0H462.7V365.9H461.2zM467.4 351.0H469.0V365.9H467.4zM473.7 351.0H475.2V365.9H473.7zM503.4 351.0H506.5V365.9H503.4zM517.4 351.0H519.0V365.9H517.4zM525.2 351.0H526.8V365.9H525.2zM534.6 351.0H536.2V365.9H534.6zM545.6 351.0H547.1V365.9H545.6zM550.2 351.0H551.8V365.9H550.2zM558.1 351.0H561.2V365.9H558.1zM584.6 351.0H586.2V365.9H584.6zM592.4 351.0H594.0V365.9H592.4zM619.0 351.0H620.6V365.9H619.0z" fill="#C4462B"/>
<path d="M43.9 367.1H45.5V382.0H43.9zM48.6 367.1H53.3V382.0H48.6zM54.8 367.1H56.4V382.0H54.8zM68.9 367.1H70.5V382.0H68.9zM76.7 367.1H78.3V382.0H76.7zM83.0 367.1H84.5V382.0H83.0zM86.1 367.1H89.2V382.0H86.1zM90.8 367.1H92.3V382.0H90.8zM93.9 367.1H97.0V382.0H93.9zM98.6 367.1H101.7V382.0H98.6zM108.0 367.1H109.5V382.0H108.0zM111.1 367.1H112.7V382.0H111.1zM118.9 367.1H120.5V382.0H118.9zM122.0 367.1H125.2V382.0H122.0zM126.7 367.1H128.3V382.0H126.7zM129.9 367.1H131.4V382.0H129.9zM137.7 367.1H142.4V382.0H137.7zM148.6 367.1H151.7V382.0H148.6zM161.1 367.1H164.2V382.0H161.1zM165.8 367.1H167.4V382.0H165.8zM175.2 367.1H176.7V382.0H175.2zM189.2 367.1H190.8V382.0H189.2zM195.5 367.1H197.1V382.0H195.5zM208.0 367.1H209.6V382.0H208.0zM220.5 367.1H222.1V382.0H220.5zM223.6 367.1H225.2V382.0H223.6zM231.4 367.1H233.0V382.0H231.4zM236.1 367.1H237.7V382.0H236.1zM240.8 367.1H242.4V382.0H240.8zM243.9 367.1H245.5V382.0H243.9zM247.1 367.1H248.6V382.0H247.1zM259.6 367.1H261.1V382.0H259.6zM265.8 367.1H267.4V382.0H265.8zM268.9 367.1H270.5V382.0H268.9zM272.1 367.1H273.6V382.0H272.1zM279.9 367.1H281.4V382.0H279.9zM317.4 367.1H319.0V382.0H317.4zM326.8 367.1H328.3V382.0H326.8zM331.5 367.1H334.6V382.0H331.5zM348.6 367.1H351.8V382.0H348.6zM364.3 367.1H365.8V382.0H364.3zM386.2 367.1H389.3V382.0H386.2zM390.8 367.1H392.4V382.0H390.8zM394.0 367.1H395.5V382.0H394.0zM398.7 367.1H401.8V382.0H398.7zM409.6 367.1H411.2V382.0H409.6zM415.8 367.1H417.4V382.0H415.8zM420.5 367.1H423.7V382.0H420.5zM425.2 367.1H426.8V382.0H425.2zM428.3 367.1H429.9V382.0H428.3zM431.5 367.1H433.0V382.0H431.5zM440.9 367.1H442.4V382.0H440.9zM447.1 367.1H448.7V382.0H447.1zM451.8 367.1H453.4V382.0H451.8zM461.2 367.1H464.3V382.0H461.2zM469.0 367.1H470.5V382.0H469.0zM475.2 367.1H476.8V382.0H475.2zM478.4 367.1H479.9V382.0H478.4zM490.9 367.1H494.0V382.0H490.9zM495.6 367.1H497.1V382.0H495.6zM498.7 367.1H500.2V382.0H498.7zM501.8 367.1H503.4V382.0H501.8zM523.7 367.1H528.4V382.0H523.7zM531.5 367.1H533.1V382.0H531.5zM539.3 367.1H540.9V382.0H539.3zM550.2 367.1H551.8V382.0H550.2zM553.4 367.1H554.9V382.0H553.4zM562.8 367.1H564.3V382.0H562.8zM565.9 367.1H567.4V382.0H565.9zM579.9 367.1H583.1V382.0H579.9zM590.9 367.1H592.4V382.0H590.9zM606.5 367.1H608.1V382.0H606.5zM609.6 367.1H611.2V382.0H609.6z" fill="#9BCB54"/>
<path d="M45.5 367.1H47.0V382.0H45.5zM53.3 367.1H54.8V382.0H53.3zM56.4 367.1H59.5V382.0H56.4zM61.1 367.1H64.2V382.0H61.1zM65.8 367.1H68.9V382.0H65.8zM70.5 367.1H72.0V382.0H70.5zM75.2 367.1H76.7V382.0H75.2zM79.8 367.1H81.4V382.0H79.8zM84.5 367.1H86.1V382.0H84.5zM89.2 367.1H90.8V382.0H89.2zM103.3 367.1H104.8V382.0H103.3zM106.4 367.1H108.0V382.0H106.4zM109.5 367.1H111.1V382.0H109.5zM117.4 367.1H118.9V382.0H117.4zM120.5 367.1H122.0V382.0H120.5zM125.2 367.1H126.7V382.0H125.2zM133.0 367.1H137.7V382.0H133.0zM142.4 367.1H143.9V382.0H142.4zM145.5 367.1H147.0V382.0H145.5zM153.3 367.1H161.1V382.0H153.3zM164.2 367.1H165.8V382.0H164.2zM167.4 367.1H168.9V382.0H167.4zM170.5 367.1H175.2V382.0H170.5zM179.9 367.1H186.1V382.0H179.9zM187.7 367.1H189.2V382.0H187.7zM193.9 367.1H195.5V382.0H193.9zM198.6 367.1H201.7V382.0H198.6zM203.3 367.1H208.0V382.0H203.3zM209.6 367.1H212.7V382.0H209.6zM217.4 367.1H220.5V382.0H217.4zM222.1 367.1H223.6V382.0H222.1zM226.7 367.1H229.9V382.0H226.7zM233.0 367.1H236.1V382.0H233.0zM237.7 367.1H240.8V382.0H237.7zM248.6 367.1H250.2V382.0H248.6zM251.8 367.1H253.3V382.0H251.8zM254.9 367.1H259.6V382.0H254.9zM261.1 367.1H265.8V382.0H261.1zM267.4 367.1H268.9V382.0H267.4zM275.2 367.1H279.9V382.0H275.2zM281.4 367.1H290.8V382.0H281.4zM293.9 367.1H298.6V382.0H293.9zM300.2 367.1H301.8V382.0H300.2zM306.5 367.1H312.7V382.0H306.5zM314.3 367.1H315.8V382.0H314.3zM319.0 367.1H326.8V382.0H319.0zM328.3 367.1H331.5V382.0H328.3zM334.6 367.1H336.1V382.0H334.6zM337.7 367.1H339.3V382.0H337.7zM342.4 367.1H347.1V382.0H342.4zM353.3 367.1H362.7V382.0H353.3zM369.0 367.1H370.5V382.0H369.0zM373.7 367.1H375.2V382.0H373.7zM381.5 367.1H383.0V382.0H381.5zM384.6 367.1H386.2V382.0H384.6zM389.3 367.1H390.8V382.0H389.3zM392.4 367.1H394.0V382.0H392.4zM395.5 367.1H398.7V382.0H395.5zM401.8 367.1H403.3V382.0H401.8zM404.9 367.1H409.6V382.0H404.9zM411.2 367.1H412.7V382.0H411.2zM419.0 367.1H420.5V382.0H419.0zM423.7 367.1H425.2V382.0H423.7zM426.8 367.1H428.3V382.0H426.8zM433.0 367.1H439.3V382.0H433.0zM442.4 367.1H444.0V382.0H442.4zM445.5 367.1H447.1V382.0H445.5zM464.3 367.1H465.9V382.0H464.3zM472.1 367.1H475.2V382.0H472.1zM476.8 367.1H478.4V382.0H476.8zM481.5 367.1H486.2V382.0H481.5zM487.7 367.1H490.9V382.0H487.7zM494.0 367.1H495.6V382.0H494.0zM506.5 367.1H509.6V382.0H506.5zM511.2 367.1H512.7V382.0H511.2zM520.6 367.1H522.1V382.0H520.6zM528.4 367.1H529.9V382.0H528.4zM533.1 367.1H539.3V382.0H533.1zM540.9 367.1H547.1V382.0H540.9zM548.7 367.1H550.2V382.0H548.7zM554.9 367.1H556.5V382.0H554.9zM559.6 367.1H562.8V382.0H559.6zM569.0 367.1H570.6V382.0H569.0zM572.1 367.1H575.3V382.0H572.1zM589.3 367.1H590.9V382.0H589.3zM594.0 367.1H598.7V382.0H594.0zM603.4 367.1H604.9V382.0H603.4zM614.3 367.1H615.9V382.0H614.3zM617.4 367.1H622.1V382.0H617.4z" fill="#F0A45E"/>
<path d="M47.0 367.1H48.6V382.0H47.0zM73.6 367.1H75.2V382.0H73.6zM101.7 367.1H103.3V382.0H101.7zM186.1 367.1H187.7V382.0H186.1zM192.4 367.1H193.9V382.0H192.4zM212.7 367.1H214.2V382.0H212.7zM225.2 367.1H226.7V382.0H225.2zM229.9 367.1H231.4V382.0H229.9zM270.5 367.1H272.1V382.0H270.5zM298.6 367.1H300.2V382.0H298.6zM367.4 367.1H369.0V382.0H367.4zM378.3 367.1H379.9V382.0H378.3zM450.2 367.1H451.8V382.0H450.2zM454.9 367.1H456.5V382.0H454.9zM479.9 367.1H481.5V382.0H479.9zM504.9 367.1H506.5V382.0H504.9zM517.4 367.1H519.0V382.0H517.4zM600.3 367.1H603.4V382.0H600.3zM611.2 367.1H614.3V382.0H611.2z" fill="#BEBEBE"/>
<path d="M59.5 367.1H61.1V382.0H59.5zM64.2 367.1H65.8V382.0H64.2zM72.0 367.1H73.6V382.0H72.0zM78.3 367.1H79.8V382.0H78.3zM92.3 367.1H93.9V382.0H92.3zM97.0 367.1H98.6V382.0H97.0zM104.8 367.1H106.4V382.0H104.8zM112.7 367.1H117.4V382.0H112.7zM128.3 367.1H129.9V382.0H128.3zM131.4 367.1H133.0V382.0H131.4zM143.9 367.1H145.5V382.0H143.9zM151.7 367.1H153.3V382.0H151.7zM168.9 367.1H170.5V382.0H168.9zM176.7 367.1H179.9V382.0H176.7zM190.8 367.1H192.4V382.0H190.8zM197.1 367.1H198.6V382.0H197.1zM201.7 367.1H203.3V382.0H201.7zM214.2 367.1H217.4V382.0H214.2zM242.4 367.1H243.9V382.0H242.4zM245.5 367.1H247.1V382.0H245.5zM250.2 367.1H251.8V382.0H250.2zM253.3 367.1H254.9V382.0H253.3zM273.6 367.1H275.2V382.0H273.6zM292.4 367.1H293.9V382.0H292.4zM301.8 367.1H304.9V382.0H301.8zM312.7 367.1H314.3V382.0H312.7zM315.8 367.1H317.4V382.0H315.8zM336.1 367.1H337.7V382.0H336.1zM339.3 367.1H342.4V382.0H339.3zM347.1 367.1H348.6V382.0H347.1zM351.8 367.1H353.3V382.0H351.8zM362.7 367.1H364.3V382.0H362.7zM365.8 367.1H367.4V382.0H365.8zM370.5 367.1H372.1V382.0H370.5zM375.2 367.1H378.3V382.0H375.2zM379.9 367.1H381.5V382.0H379.9zM383.0 367.1H384.6V382.0H383.0zM403.3 367.1H404.9V382.0H403.3zM412.7 367.1H415.8V382.0H412.7zM417.4 367.1H419.0V382.0H417.4zM429.9 367.1H431.5V382.0H429.9zM439.3 367.1H440.9V382.0H439.3zM444.0 367.1H445.5V382.0H444.0zM448.7 367.1H450.2V382.0H448.7zM453.4 367.1H454.9V382.0H453.4zM456.5 367.1H461.2V382.0H456.5zM465.9 367.1H469.0V382.0H465.9zM486.2 367.1H487.7V382.0H486.2zM497.1 367.1H498.7V382.0H497.1zM500.2 367.1H501.8V382.0H500.2zM503.4 367.1H504.9V382.0H503.4zM509.6 367.1H511.2V382.0H509.6zM512.7 367.1H517.4V382.0H512.7zM519.0 367.1H520.6V382.0H519.0zM522.1 367.1H523.7V382.0H522.1zM529.9 367.1H531.5V382.0H529.9zM547.1 367.1H548.7V382.0H547.1zM551.8 367.1H553.4V382.0H551.8zM556.5 367.1H559.6V382.0H556.5zM564.3 367.1H565.9V382.0H564.3zM567.4 367.1H569.0V382.0H567.4zM570.6 367.1H572.1V382.0H570.6zM575.3 367.1H579.9V382.0H575.3zM583.1 367.1H589.3V382.0H583.1zM592.4 367.1H594.0V382.0H592.4zM598.7 367.1H600.3V382.0H598.7zM604.9 367.1H606.5V382.0H604.9zM608.1 367.1H609.6V382.0H608.1zM615.9 367.1H617.4V382.0H615.9zM622.1 367.1H623.7V382.0H622.1z" fill="#35A83A"/>
<path d="M81.4 367.1H83.0V382.0H81.4zM147.0 367.1H148.6V382.0H147.0zM290.8 367.1H292.4V382.0H290.8zM304.9 367.1H306.5V382.0H304.9zM372.1 367.1H373.7V382.0H372.1zM470.5 367.1H472.1V382.0H470.5z" fill="#66BB5A"/>
<path d="M43.9 383.2H45.5V398.1H43.9zM65.8 383.2H67.3V398.1H65.8zM111.1 383.2H112.7V398.1H111.1zM133.0 383.2H134.5V398.1H133.0zM172.0 383.2H173.6V398.1H172.0zM239.3 383.2H240.8V398.1H239.3zM259.6 383.2H261.1V398.1H259.6zM308.0 383.2H309.6V398.1H308.0zM314.3 383.2H315.8V398.1H314.3zM320.5 383.2H322.1V398.1H320.5zM334.6 383.2H336.1V398.1H334.6zM392.4 383.2H394.0V398.1H392.4zM431.5 383.2H433.0V398.1H431.5zM537.7 383.2H539.3V398.1H537.7zM545.6 383.2H547.1V398.1H545.6zM554.9 383.2H556.5V398.1H554.9z" fill="#BEBEBE"/>
<path d="M45.5 383.2H56.4V398.1H45.5zM59.5 383.2H62.7V398.1H59.5zM67.3 383.2H68.9V398.1H67.3zM70.5 383.2H72.0V398.1H70.5zM73.6 383.2H78.3V398.1H73.6zM79.8 383.2H90.8V398.1H79.8zM92.3 383.2H103.3V398.1H92.3zM104.8 383.2H111.1V398.1H104.8zM112.7 383.2H114.2V398.1H112.7zM115.8 383.2H118.9V398.1H115.8zM120.5 383.2H125.2V398.1H120.5zM128.3 383.2H129.9V398.1H128.3zM134.5 383.2H136.1V398.1H134.5zM139.2 383.2H148.6V398.1H139.2zM150.2 383.2H156.4V398.1H150.2zM158.0 383.2H161.1V398.1H158.0zM165.8 383.2H167.4V398.1H165.8zM173.6 383.2H175.2V398.1H173.6zM176.7 383.2H178.3V398.1H176.7zM179.9 383.2H181.4V398.1H179.9zM183.0 383.2H184.6V398.1H183.0zM186.1 383.2H190.8V398.1H186.1zM193.9 383.2H195.5V398.1H193.9zM197.1 383.2H200.2V398.1H197.1zM201.7 383.2H206.4V398.1H201.7zM208.0 383.2H209.6V398.1H208.0zM211.1 383.2H212.7V398.1H211.1zM214.2 383.2H229.9V398.1H214.2zM231.4 383.2H233.0V398.1H231.4zM234.6 383.2H236.1V398.1H234.6zM237.7 383.2H239.3V398.1H237.7zM240.8 383.2H242.4V398.1H240.8zM243.9 383.2H247.1V398.1H243.9zM248.6 383.2H251.8V398.1H248.6zM254.9 383.2H259.6V398.1H254.9zM261.1 383.2H262.7V398.1H261.1zM264.3 383.2H265.8V398.1H264.3zM267.4 383.2H268.9V398.1H267.4zM275.2 383.2H279.9V398.1H275.2zM283.0 383.2H284.6V398.1H283.0zM286.1 383.2H290.8V398.1H286.1zM293.9 383.2H297.1V398.1H293.9zM298.6 383.2H300.2V398.1H298.6zM304.9 383.2H308.0V398.1H304.9zM311.1 383.2H312.7V398.1H311.1zM315.8 383.2H317.4V398.1H315.8zM319.0 383.2H320.5V398.1H319.0zM322.1 383.2H325.2V398.1H322.1zM333.0 383.2H334.6V398.1H333.0zM336.1 383.2H337.7V398.1H336.1zM340.8 383.2H342.4V398.1H340.8zM348.6 383.2H351.8V398.1H348.6zM353.3 383.2H354.9V398.1H353.3zM359.6 383.2H361.1V398.1H359.6zM370.5 383.2H378.3V398.1H370.5zM381.5 383.2H386.2V398.1H381.5zM390.8 383.2H392.4V398.1H390.8zM394.0 383.2H395.5V398.1H394.0zM400.2 383.2H401.8V398.1H400.2zM403.3 383.2H409.6V398.1H403.3zM411.2 383.2H412.7V398.1H411.2zM415.8 383.2H419.0V398.1H415.8zM422.1 383.2H425.2V398.1H422.1zM428.3 383.2H431.5V398.1H428.3zM436.2 383.2H442.4V398.1H436.2zM444.0 383.2H445.5V398.1H444.0zM447.1 383.2H448.7V398.1H447.1zM453.4 383.2H454.9V398.1H453.4zM456.5 383.2H458.0V398.1H456.5zM459.6 383.2H461.2V398.1H459.6zM462.7 383.2H464.3V398.1H462.7zM470.5 383.2H472.1V398.1H470.5zM475.2 383.2H483.0V398.1H475.2zM484.6 383.2H486.2V398.1H484.6zM489.3 383.2H494.0V398.1H489.3zM495.6 383.2H500.2V398.1H495.6zM506.5 383.2H508.1V398.1H506.5zM509.6 383.2H514.3V398.1H509.6zM517.4 383.2H519.0V398.1H517.4zM522.1 383.2H523.7V398.1H522.1zM526.8 383.2H528.4V398.1H526.8zM529.9 383.2H531.5V398.1H529.9zM539.3 383.2H540.9V398.1H539.3zM547.1 383.2H548.7V398.1H547.1zM550.2 383.2H551.8V398.1H550.2zM553.4 383.2H554.9V398.1H553.4zM556.5 383.2H562.8V398.1H556.5zM564.3 383.2H567.4V398.1H564.3zM572.1 383.2H573.7V398.1H572.1zM578.4 383.2H579.9V398.1H578.4zM581.5 383.2H583.1V398.1H581.5zM587.8 383.2H590.9V398.1H587.8zM594.0 383.2H595.6V398.1H594.0zM597.1 383.2H598.7V398.1H597.1zM600.3 383.2H601.8V398.1H600.3zM603.4 383.2H606.5V398.1H603.4zM608.1 383.2H609.6V398.1H608.1zM611.2 383.2H617.4V398.1H611.2z" fill="#9BC850"/>
<path d="M56.4 383.2H59.5V398.1H56.4zM64.2 383.2H65.8V398.1H64.2zM72.0 383.2H73.6V398.1H72.0zM103.3 383.2H104.8V398.1H103.3zM114.2 383.2H115.8V398.1H114.2zM118.9 383.2H120.5V398.1H118.9zM131.4 383.2H133.0V398.1H131.4zM136.1 383.2H137.7V398.1H136.1zM148.6 383.2H150.2V398.1H148.6zM161.1 383.2H164.2V398.1H161.1zM167.4 383.2H172.0V398.1H167.4zM181.4 383.2H183.0V398.1H181.4zM192.4 383.2H193.9V398.1H192.4zM200.2 383.2H201.7V398.1H200.2zM233.0 383.2H234.6V398.1H233.0zM236.1 383.2H237.7V398.1H236.1zM270.5 383.2H273.6V398.1H270.5zM279.9 383.2H281.4V398.1H279.9zM317.4 383.2H319.0V398.1H317.4zM325.2 383.2H326.8V398.1H325.2zM329.9 383.2H333.0V398.1H329.9zM337.7 383.2H339.3V398.1H337.7zM342.4 383.2H344.0V398.1H342.4zM347.1 383.2H348.6V398.1H347.1zM356.5 383.2H358.0V398.1H356.5zM361.1 383.2H365.8V398.1H361.1zM367.4 383.2H370.5V398.1H367.4zM378.3 383.2H381.5V398.1H378.3zM386.2 383.2H387.7V398.1H386.2zM389.3 383.2H390.8V398.1H389.3zM397.1 383.2H398.7V398.1H397.1zM445.5 383.2H447.1V398.1H445.5zM461.2 383.2H462.7V398.1H461.2zM464.3 383.2H465.9V398.1H464.3zM494.0 383.2H495.6V398.1H494.0zM500.2 383.2H503.4V398.1H500.2zM508.1 383.2H509.6V398.1H508.1zM519.0 383.2H520.6V398.1H519.0zM540.9 383.2H542.4V398.1H540.9zM573.7 383.2H575.3V398.1H573.7zM576.8 383.2H578.4V398.1H576.8zM583.1 383.2H584.6V398.1H583.1zM586.2 383.2H587.8V398.1H586.2zM595.6 383.2H597.1V398.1H595.6zM609.6 383.2H611.2V398.1H609.6zM622.1 383.2H623.7V398.1H622.1z" fill="#CF5E4A"/>
<path d="M62.7 383.2H64.2V398.1H62.7zM68.9 383.2H70.5V398.1H68.9zM90.8 383.2H92.3V398.1H90.8zM125.2 383.2H128.3V398.1H125.2zM137.7 383.2H139.2V398.1H137.7zM164.2 383.2H165.8V398.1H164.2zM178.3 383.2H179.9V398.1H178.3zM184.6 383.2H186.1V398.1H184.6zM190.8 383.2H192.4V398.1H190.8zM195.5 383.2H197.1V398.1H195.5zM206.4 383.2H208.0V398.1H206.4zM209.6 383.2H211.1V398.1H209.6zM212.7 383.2H214.2V398.1H212.7zM247.1 383.2H248.6V398.1H247.1zM251.8 383.2H253.3V398.1H251.8zM262.7 383.2H264.3V398.1H262.7zM265.8 383.2H267.4V398.1H265.8zM268.9 383.2H270.5V398.1H268.9zM273.6 383.2H275.2V398.1H273.6zM281.4 383.2H283.0V398.1H281.4zM284.6 383.2H286.1V398.1H284.6zM290.8 383.2H293.9V398.1H290.8zM297.1 383.2H298.6V398.1H297.1zM300.2 383.2H303.3V398.1H300.2zM309.6 383.2H311.1V398.1H309.6zM312.7 383.2H314.3V398.1H312.7zM326.8 383.2H328.3V398.1H326.8zM339.3 383.2H340.8V398.1H339.3zM344.0 383.2H347.1V398.1H344.0zM351.8 383.2H353.3V398.1H351.8zM354.9 383.2H356.5V398.1H354.9zM358.0 383.2H359.6V398.1H358.0zM365.8 383.2H367.4V398.1H365.8zM387.7 383.2H389.3V398.1H387.7zM395.5 383.2H397.1V398.1H395.5zM398.7 383.2H400.2V398.1H398.7zM401.8 383.2H403.3V398.1H401.8zM409.6 383.2H411.2V398.1H409.6zM412.7 383.2H415.8V398.1H412.7zM419.0 383.2H422.1V398.1H419.0zM426.8 383.2H428.3V398.1H426.8zM433.0 383.2H436.2V398.1H433.0zM442.4 383.2H444.0V398.1H442.4zM448.7 383.2H451.8V398.1H448.7zM454.9 383.2H456.5V398.1H454.9zM458.0 383.2H459.6V398.1H458.0zM465.9 383.2H469.0V398.1H465.9zM472.1 383.2H475.2V398.1H472.1zM486.2 383.2H489.3V398.1H486.2zM503.4 383.2H506.5V398.1H503.4zM514.3 383.2H517.4V398.1H514.3zM523.7 383.2H526.8V398.1H523.7zM528.4 383.2H529.9V398.1H528.4zM531.5 383.2H534.6V398.1H531.5zM542.4 383.2H545.6V398.1H542.4zM548.7 383.2H550.2V398.1H548.7zM551.8 383.2H553.4V398.1H551.8zM562.8 383.2H564.3V398.1H562.8zM567.4 383.2H572.1V398.1H567.4zM575.3 383.2H576.8V398.1H575.3zM579.9 383.2H581.5V398.1H579.9zM590.9 383.2H594.0V398.1H590.9zM598.7 383.2H600.3V398.1H598.7zM601.8 383.2H603.4V398.1H601.8zM606.5 383.2H608.1V398.1H606.5zM617.4 383.2H622.1V398.1H617.4z" fill="#D5449A"/>
<path d="M78.3 383.2H79.8V398.1H78.3zM129.9 383.2H131.4V398.1H129.9zM156.4 383.2H158.0V398.1H156.4zM175.2 383.2H176.7V398.1H175.2zM229.9 383.2H231.4V398.1H229.9zM242.4 383.2H243.9V398.1H242.4zM253.3 383.2H254.9V398.1H253.3zM303.3 383.2H304.9V398.1H303.3zM328.3 383.2H329.9V398.1H328.3zM425.2 383.2H426.8V398.1H425.2zM451.8 383.2H453.4V398.1H451.8zM469.0 383.2H470.5V398.1H469.0zM483.0 383.2H484.6V398.1H483.0zM520.6 383.2H522.1V398.1H520.6zM534.6 383.2H537.7V398.1H534.6zM584.6 383.2H586.2V398.1H584.6z" fill="#23838A"/>
<path d="M43.9 399.3H45.5V414.2H43.9zM47.0 399.3H48.6V414.2H47.0zM50.2 399.3H54.8V414.2H50.2zM58.0 399.3H62.7V414.2H58.0zM64.2 399.3H75.2V414.2H64.2zM76.7 399.3H78.3V414.2H76.7zM79.8 399.3H87.7V414.2H79.8zM89.2 399.3H93.9V414.2H89.2zM97.0 399.3H100.2V414.2H97.0zM101.7 399.3H118.9V414.2H101.7zM120.5 399.3H142.4V414.2H120.5zM143.9 399.3H147.0V414.2H143.9zM148.6 399.3H173.6V414.2H148.6zM175.2 399.3H181.4V414.2H175.2zM184.6 399.3H187.7V414.2H184.6zM189.2 399.3H200.2V414.2H189.2zM201.7 399.3H204.9V414.2H201.7zM206.4 399.3H215.8V414.2H206.4zM218.9 399.3H237.7V414.2H218.9zM239.3 399.3H247.1V414.2H239.3zM248.6 399.3H250.2V414.2H248.6zM251.8 399.3H256.4V414.2H251.8zM258.0 399.3H259.6V414.2H258.0zM261.1 399.3H268.9V414.2H261.1zM270.5 399.3H295.5V414.2H270.5zM297.1 399.3H301.8V414.2H297.1zM303.3 399.3H315.8V414.2H303.3zM317.4 399.3H325.2V414.2H317.4zM328.3 399.3H337.7V414.2H328.3zM339.3 399.3H348.6V414.2H339.3zM350.2 399.3H351.8V414.2H350.2zM353.3 399.3H367.4V414.2H353.3zM370.5 399.3H373.7V414.2H370.5zM375.2 399.3H378.3V414.2H375.2zM379.9 399.3H401.8V414.2H379.9zM403.3 399.3H404.9V414.2H403.3zM408.0 399.3H415.8V414.2H408.0zM417.4 399.3H422.1V414.2H417.4zM423.7 399.3H433.0V414.2H423.7zM434.6 399.3H440.9V414.2H434.6zM442.4 399.3H444.0V414.2H442.4zM445.5 399.3H448.7V414.2H445.5zM450.2 399.3H454.9V414.2H450.2zM456.5 399.3H458.0V414.2H456.5zM459.6 399.3H467.4V414.2H459.6zM469.0 399.3H470.5V414.2H469.0zM472.1 399.3H495.6V414.2H472.1zM497.1 399.3H504.9V414.2H497.1zM514.3 399.3H523.7V414.2H514.3zM525.2 399.3H528.4V414.2H525.2zM529.9 399.3H533.1V414.2H529.9zM536.2 399.3H539.3V414.2H536.2zM540.9 399.3H547.1V414.2H540.9zM548.7 399.3H553.4V414.2H548.7zM556.5 399.3H575.3V414.2H556.5zM576.8 399.3H594.0V414.2H576.8zM595.6 399.3H615.9V414.2H595.6zM617.4 399.3H620.6V414.2H617.4z" fill="#C77BB8"/>
<path d="M45.5 399.3H47.0V414.2H45.5zM48.6 399.3H50.2V414.2H48.6zM54.8 399.3H58.0V414.2H54.8zM62.7 399.3H64.2V414.2H62.7zM75.2 399.3H76.7V414.2H75.2zM78.3 399.3H79.8V414.2H78.3zM87.7 399.3H89.2V414.2H87.7zM93.9 399.3H97.0V414.2H93.9zM100.2 399.3H101.7V414.2H100.2zM118.9 399.3H120.5V414.2H118.9zM142.4 399.3H143.9V414.2H142.4zM147.0 399.3H148.6V414.2H147.0zM173.6 399.3H175.2V414.2H173.6zM181.4 399.3H184.6V414.2H181.4zM187.7 399.3H189.2V414.2H187.7zM200.2 399.3H201.7V414.2H200.2zM204.9 399.3H206.4V414.2H204.9zM215.8 399.3H218.9V414.2H215.8zM237.7 399.3H239.3V414.2H237.7zM247.1 399.3H248.6V414.2H247.1zM250.2 399.3H251.8V414.2H250.2zM256.4 399.3H258.0V414.2H256.4zM259.6 399.3H261.1V414.2H259.6zM268.9 399.3H270.5V414.2H268.9zM295.5 399.3H297.1V414.2H295.5zM301.8 399.3H303.3V414.2H301.8zM315.8 399.3H317.4V414.2H315.8zM325.2 399.3H328.3V414.2H325.2zM337.7 399.3H339.3V414.2H337.7zM348.6 399.3H350.2V414.2H348.6zM351.8 399.3H353.3V414.2H351.8zM367.4 399.3H370.5V414.2H367.4zM373.7 399.3H375.2V414.2H373.7zM378.3 399.3H379.9V414.2H378.3zM401.8 399.3H403.3V414.2H401.8zM404.9 399.3H408.0V414.2H404.9zM415.8 399.3H417.4V414.2H415.8zM422.1 399.3H423.7V414.2H422.1zM433.0 399.3H434.6V414.2H433.0zM440.9 399.3H442.4V414.2H440.9zM444.0 399.3H445.5V414.2H444.0zM448.7 399.3H450.2V414.2H448.7zM454.9 399.3H456.5V414.2H454.9zM458.0 399.3H459.6V414.2H458.0zM467.4 399.3H469.0V414.2H467.4zM470.5 399.3H472.1V414.2H470.5zM495.6 399.3H497.1V414.2H495.6zM504.9 399.3H514.3V414.2H504.9zM523.7 399.3H525.2V414.2H523.7zM528.4 399.3H529.9V414.2H528.4zM533.1 399.3H536.2V414.2H533.1zM539.3 399.3H540.9V414.2H539.3zM547.1 399.3H548.7V414.2H547.1zM553.4 399.3H556.5V414.2H553.4zM575.3 399.3H576.8V414.2H575.3zM594.0 399.3H595.6V414.2H594.0zM615.9 399.3H617.4V414.2H615.9zM620.6 399.3H622.1V414.2H620.6z" fill="#BEBEBE"/>
<path d="M622.1 399.3H623.7V414.2H622.1z" fill="#263D96"/>
<path d="M43.9 415.4H47.0V430.3H43.9zM50.2 415.4H51.7V430.3H50.2zM53.3 415.4H61.1V430.3H53.3zM62.7 415.4H68.9V430.3H62.7zM70.5 415.4H73.6V430.3H70.5zM78.3 415.4H79.8V430.3H78.3zM81.4 415.4H84.5V430.3H81.4zM86.1 415.4H90.8V430.3H86.1zM92.3 415.4H93.9V430.3H92.3zM95.5 415.4H101.7V430.3H95.5zM103.3 415.4H118.9V430.3H103.3zM120.5 415.4H122.0V430.3H120.5zM123.6 415.4H129.9V430.3H123.6zM133.0 415.4H140.8V430.3H133.0zM143.9 415.4H147.0V430.3H143.9zM148.6 415.4H151.7V430.3H148.6zM154.9 415.4H156.4V430.3H154.9zM158.0 415.4H170.5V430.3H158.0zM172.0 415.4H193.9V430.3H172.0zM195.5 415.4H203.3V430.3H195.5zM204.9 415.4H206.4V430.3H204.9zM211.1 415.4H214.2V430.3H211.1zM215.8 415.4H225.2V430.3H215.8zM226.7 415.4H236.1V430.3H226.7zM237.7 415.4H256.4V430.3H237.7zM258.0 415.4H262.7V430.3H258.0zM264.3 415.4H265.8V430.3H264.3zM268.9 415.4H270.5V430.3H268.9zM272.1 415.4H276.8V430.3H272.1zM278.3 415.4H283.0V430.3H278.3zM284.6 415.4H290.8V430.3H284.6zM297.1 415.4H298.6V430.3H297.1zM300.2 415.4H301.8V430.3H300.2zM304.9 415.4H306.5V430.3H304.9zM308.0 415.4H311.1V430.3H308.0zM312.7 415.4H317.4V430.3H312.7zM319.0 415.4H320.5V430.3H319.0zM323.6 415.4H329.9V430.3H323.6zM333.0 415.4H337.7V430.3H333.0zM340.8 415.4H347.1V430.3H340.8zM353.3 415.4H354.9V430.3H353.3zM356.5 415.4H365.8V430.3H356.5zM367.4 415.4H370.5V430.3H367.4zM372.1 415.4H383.0V430.3H372.1zM384.6 415.4H386.2V430.3H384.6zM389.3 415.4H390.8V430.3H389.3zM392.4 415.4H394.0V430.3H392.4zM397.1 415.4H404.9V430.3H397.1zM406.5 415.4H425.2V430.3H406.5zM426.8 415.4H434.6V430.3H426.8zM436.2 415.4H440.9V430.3H436.2zM442.4 415.4H445.5V430.3H442.4zM448.7 415.4H451.8V430.3H448.7zM453.4 415.4H456.5V430.3H453.4zM458.0 415.4H469.0V430.3H458.0zM470.5 415.4H479.9V430.3H470.5zM483.0 415.4H519.0V430.3H483.0zM522.1 415.4H526.8V430.3H522.1zM528.4 415.4H533.1V430.3H528.4zM534.6 415.4H539.3V430.3H534.6zM540.9 415.4H542.4V430.3H540.9zM544.0 415.4H558.1V430.3H544.0zM559.6 415.4H562.8V430.3H559.6zM564.3 415.4H567.4V430.3H564.3zM572.1 415.4H579.9V430.3H572.1zM581.5 415.4H589.3V430.3H581.5zM590.9 415.4H592.4V430.3H590.9zM594.0 415.4H600.3V430.3H594.0zM601.8 415.4H608.1V430.3H601.8zM609.6 415.4H611.2V430.3H609.6zM612.8 415.4H615.9V430.3H612.8zM619.0 415.4H623.7V430.3H619.0z" fill="#6A4C9C"/>
<path d="M47.0 415.4H50.2V430.3H47.0zM51.7 415.4H53.3V430.3H51.7zM61.1 415.4H62.7V430.3H61.1zM68.9 415.4H70.5V430.3H68.9zM73.6 415.4H78.3V430.3H73.6zM79.8 415.4H81.4V430.3H79.8zM84.5 415.4H86.1V430.3H84.5zM90.8 415.4H92.3V430.3H90.8zM93.9 415.4H95.5V430.3H93.9zM101.7 415.4H103.3V430.3H101.7zM118.9 415.4H120.5V430.3H118.9zM122.0 415.4H123.6V430.3H122.0zM129.9 415.4H133.0V430.3H129.9zM140.8 415.4H143.9V430.3H140.8zM147.0 415.4H148.6V430.3H147.0zM151.7 415.4H154.9V430.3H151.7zM156.4 415.4H158.0V430.3H156.4zM170.5 415.4H172.0V430.3H170.5zM193.9 415.4H195.5V430.3H193.9zM203.3 415.4H204.9V430.3H203.3zM206.4 415.4H211.1V430.3H206.4zM225.2 415.4H226.7V430.3H225.2zM236.1 415.4H237.7V430.3H236.1zM256.4 415.4H258.0V430.3H256.4zM262.7 415.4H264.3V430.3H262.7zM265.8 415.4H268.9V430.3H265.8zM270.5 415.4H272.1V430.3H270.5zM276.8 415.4H278.3V430.3H276.8zM283.0 415.4H284.6V430.3H283.0zM290.8 415.4H297.1V430.3H290.8zM298.6 415.4H300.2V430.3H298.6zM301.8 415.4H304.9V430.3H301.8zM306.5 415.4H308.0V430.3H306.5zM311.1 415.4H312.7V430.3H311.1zM317.4 415.4H319.0V430.3H317.4zM320.5 415.4H323.6V430.3H320.5zM331.5 415.4H333.0V430.3H331.5zM337.7 415.4H339.3V430.3H337.7zM347.1 415.4H353.3V430.3H347.1zM354.9 415.4H356.5V430.3H354.9zM365.8 415.4H367.4V430.3H365.8zM370.5 415.4H372.1V430.3H370.5zM383.0 415.4H384.6V430.3H383.0zM386.2 415.4H389.3V430.3H386.2zM390.8 415.4H392.4V430.3H390.8zM394.0 415.4H397.1V430.3H394.0zM404.9 415.4H406.5V430.3H404.9zM425.2 415.4H426.8V430.3H425.2zM434.6 415.4H436.2V430.3H434.6zM440.9 415.4H442.4V430.3H440.9zM445.5 415.4H448.7V430.3H445.5zM456.5 415.4H458.0V430.3H456.5zM469.0 415.4H470.5V430.3H469.0zM479.9 415.4H483.0V430.3H479.9zM519.0 415.4H522.1V430.3H519.0zM533.1 415.4H534.6V430.3H533.1zM539.3 415.4H540.9V430.3H539.3zM542.4 415.4H544.0V430.3H542.4zM558.1 415.4H559.6V430.3H558.1zM562.8 415.4H564.3V430.3H562.8zM567.4 415.4H572.1V430.3H567.4zM579.9 415.4H581.5V430.3H579.9zM589.3 415.4H590.9V430.3H589.3zM592.4 415.4H594.0V430.3H592.4zM600.3 415.4H601.8V430.3H600.3zM611.2 415.4H612.8V430.3H611.2zM615.9 415.4H619.0V430.3H615.9z" fill="#BEBEBE"/>
<path d="M214.2 415.4H215.8V430.3H214.2zM329.9 415.4H331.5V430.3H329.9zM339.3 415.4H340.8V430.3H339.3zM451.8 415.4H453.4V430.3H451.8zM526.8 415.4H528.4V430.3H526.8zM608.1 415.4H609.6V430.3H608.1z" fill="#F39B6D"/>
<text x="634.5" y="314.6" font-size="12.8" fill="#111">P2RX4</text>
<text x="634.5" y="330.8" font-size="12.8" fill="#111">Age</text>
<text x="634.5" y="346.8" font-size="12.8" fill="#111">Gender</text>
<text x="634.5" y="362.9" font-size="12.8" fill="#111">Grade***</text>
<text x="634.5" y="379.1" font-size="12.8" fill="#111">Stage</text>
<text x="634.5" y="395.1" font-size="12.8" fill="#111">T</text>
<text x="634.5" y="411.2" font-size="12.8" fill="#111">M</text>
<text x="634.5" y="427.3" font-size="12.8" fill="#111">N</text>
<text x="0" y="0"></text>
<text x="48.0" y="448" font-size="10.3" fill="#111">P2RX4</text>
<rect x="48.7" y="453.9" width="10.8" height="10.8" fill="#1F4A9E"/>
<text x="62.9" y="462.8" font-size="10.3" fill="#111">Low</text>
<rect x="48.7" y="466.0" width="10.8" height="10.8" fill="#E41A1C"/>
<text x="62.9" y="474.9" font-size="10.3" fill="#111">High</text>
<text x="128.1" y="448" font-size="10.3" fill="#111">Age</text>
<rect x="128.1" y="453.9" width="10.8" height="10.8" fill="#2D64AE"/>
<text x="142.3" y="462.8" font-size="10.3" fill="#111">&lt;=65</text>
<rect x="128.1" y="466.0" width="10.8" height="10.8" fill="#F39A1E"/>
<text x="142.3" y="474.9" font-size="10.3" fill="#111">&gt;65</text>
<rect x="128.1" y="478.1" width="10.8" height="10.8" fill="#BEBEBE"/>
<text x="142.3" y="487.0" font-size="10.3" fill="#111">unknow</text>
<text x="193.0" y="448" font-size="10.3" fill="#111">Gender</text>
<rect x="195.6" y="453.9" width="10.8" height="10.8" fill="#D8338F"/>
<text x="209.8" y="462.8" font-size="10.3" fill="#111">FEMALE</text>
<rect x="195.6" y="466.0" width="10.8" height="10.8" fill="#2EAA3B"/>
<text x="209.8" y="474.9" font-size="10.3" fill="#111">MALE</text>
<text x="264.1" y="448" font-size="10.3" fill="#111">Grade***</text>
<rect x="266.3" y="453.9" width="10.8" height="10.8" fill="#1F6A8E"/>
<text x="280.5" y="462.8" font-size="10.3" fill="#111">G1</text>
<rect x="266.3" y="466.0" width="10.8" height="10.8" fill="#C98B1F"/>
<text x="280.5" y="474.9" font-size="10.3" fill="#111">G2</text>
<rect x="266.3" y="478.1" width="10.8" height="10.8" fill="#A867AA"/>
<text x="280.5" y="487.0" font-size="10.3" fill="#111">G3</text>
<rect x="266.3" y="490.2" width="10.8" height="10.8" fill="#C4462B"/>
<text x="280.5" y="499.1" font-size="10.3" fill="#111">G4</text>
<rect x="266.3" y="502.3" width="10.8" height="10.8" fill="#BEBEBE"/>
<text x="280.5" y="511.2" font-size="10.3" fill="#111">unknow</text>
<text x="344.5" y="448" font-size="10.3" fill="#111">Stage</text>
<rect x="345.8" y="453.9" width="10.8" height="10.8" fill="#F0A45E"/>
<text x="360.0" y="462.8" font-size="10.3" fill="#111">Stage I</text>
<rect x="345.8" y="466.0" width="10.8" height="10.8" fill="#9BCB54"/>
<text x="360.0" y="474.9" font-size="10.3" fill="#111">Stage II</text>
<rect x="345.8" y="478.1" width="10.8" height="10.8" fill="#35A83A"/>
<text x="360.0" y="487.0" font-size="10.3" fill="#111">Stage III</text>
<rect x="345.8" y="490.2" width="10.8" height="10.8" fill="#66BB5A"/>
<text x="360.0" y="499.1" font-size="10.3" fill="#111">Stage IV</text>
<rect x="345.8" y="502.3" width="10.8" height="10.8" fill="#BEBEBE"/>
<text x="360.0" y="511.2" font-size="10.3" fill="#111">unknow</text>
<text x="429.6" y="448" font-size="10.3" fill="#111">T</text>
<rect x="428.5" y="453.9" width="10.8" height="10.8" fill="#9BC850"/>
<text x="442.7" y="462.8" font-size="10.3" fill="#111">T1</text>
<rect x="428.5" y="466.0" width="10.8" height="10.8" fill="#D5449A"/>
<text x="442.7" y="474.9" font-size="10.3" fill="#111">T2</text>
<rect x="428.5" y="478.1" width="10.8" height="10.8" fill="#CF5E4A"/>
<text x="442.7" y="487.0" font-size="10.3" fill="#111">T3</text>
<rect x="428.5" y="490.2" width="10.8" height="10.8" fill="#23838A"/>
<text x="442.7" y="499.1" font-size="10.3" fill="#111">T4</text>
<rect x="428.5" y="502.3" width="10.8" height="10.8" fill="#BEBEBE"/>
<text x="442.7" y="511.2" font-size="10.3" fill="#111">unknow</text>
<text x="501.2" y="448" font-size="10.3" fill="#111">M</text>
<rect x="501.4" y="453.9" width="10.8" height="10.8" fill="#C77BB8"/>
<text x="515.6" y="462.8" font-size="10.3" fill="#111">M0</text>
<rect x="501.4" y="466.0" width="10.8" height="10.8" fill="#263D96"/>
<text x="515.6" y="474.9" font-size="10.3" fill="#111">M1</text>
<rect x="501.4" y="478.1" width="10.8" height="10.8" fill="#BEBEBE"/>
<text x="515.6" y="487.0" font-size="10.3" fill="#111">unknow</text>
<text x="575.5" y="448" font-size="10.3" fill="#111">N</text>
<rect x="576.3" y="453.9" width="10.8" height="10.8" fill="#6A4C9C"/>
<text x="590.5" y="462.8" font-size="10.3" fill="#111">N0</text>
<rect x="576.3" y="466.0" width="10.8" height="10.8" fill="#F39B6D"/>
<text x="590.5" y="474.9" font-size="10.3" fill="#111">N1</text>
<rect x="576.3" y="478.1" width="10.8" height="10.8" fill="#BEBEBE"/>
<text x="590.5" y="487.0" font-size="10.3" fill="#111">unknow</text>
<text x="6" y="302" font-size="16" fill="#000">B</text>
<text x="6.5" y="536.3" font-size="16" fill="#000">C</text>
<path d="M52.8 546.4V670.5H219.8" stroke="#222" stroke-width="0.7" fill="none"/>
<path d="M51.2 651.9H52.8" stroke="#222" stroke-width="0.6"/>
<text x="50.6" y="653.8" font-size="5.4" text-anchor="end" fill="#111">1</text>
<path d="M51.2 621.7H52.8" stroke="#222" stroke-width="0.6"/>
<text x="50.6" y="623.6" font-size="5.4" text-anchor="end" fill="#111">2</text>
<path d="M51.2 591.5H52.8" stroke="#222" stroke-width="0.6"/>
<text x="50.6" y="593.5" font-size="5.4" text-anchor="end" fill="#111">3</text>
<path d="M51.2 561.4H52.8" stroke="#222" stroke-width="0.6"/>
<text x="50.6" y="563.3" font-size="5.4" text-anchor="end" fill="#111">4</text>
<text transform="translate(43,601) rotate(-90)" font-size="8.0" text-anchor="middle" fill="#111">P2RX4 expression</text>
<path d="M98.6 670.5v1.8" stroke="#222" stroke-width="0.6"/>
<text x="101.3" y="681.6" font-size="8.1" text-anchor="middle" fill="#111">Normal</text>
<path d="M173.2 670.5v1.8" stroke="#222" stroke-width="0.6"/>
<text x="176.5" y="681.6" font-size="8.1" text-anchor="middle" fill="#111">Tumor</text>
<text x="126.6" y="550.4" font-size="7.2" text-anchor="middle" fill="#111" stroke="#111" stroke-width="0.25">***</text>
<path d="M98.6 620.9V638.7M98.6 649.5V661.2" stroke="#1AA3A6" stroke-width="0.7"/>
<rect x="71.8" y="638.7" width="53.7" height="10.8" fill="none" stroke="#1AA3A6" stroke-width="0.9"/>
<path d="M71.8 644.5h53.7" stroke="#1AA3A6" stroke-width="0.9"/>
<path d="M173.2 558.4V604.2M173.2 635.5V666.1" stroke="#DA5A55" stroke-width="0.7"/>
<rect x="146.2" y="604.2" width="54.0" height="31.3" fill="none" stroke="#DA5A55" stroke-width="0.9"/>
<path d="M146.2 619.4h54.0" stroke="#DA5A55" stroke-width="0.9"/>
<path d="M94.3 653.2h0M93.5 653h0M107.7 638.7h0M98.3 661.5h0M93.6 645.6h0M98.3 661.2h0M104.5 635h0M86.4 642.8h0M112.1 632.8h0M85.4 648.2h0M105.8 641.1h0M108.5 646.6h0M85.3 650h0M106.9 643.3h0M95.1 653.8h0M101 647.1h0M85.1 638.5h0M86.1 644h0M89.9 647.5h0M111.5 625.7h0M90.3 644h0M106 648.9h0M110.8 643.1h0M111.2 648.4h0M94.4 647.4h0M94.7 647.1h0M99.5 627.1h0M106.5 644.3h0M87.8 643h0M105.8 638.7h0M107.1 627.2h0M108.9 646.2h0M85.8 649.1h0M111.3 623.2h0M87.4 655.3h0M94.3 647.2h0M101.9 638.8h0M110.5 624.9h0M94.3 651.5h0M110.7 638.8h0M100.1 648.4h0M93.5 647.4h0M93.7 640.5h0M89.8 642.6h0M87 642h0M89 647.7h0M104.1 633.4h0M112.7 631.6h0M89.3 644.2h0M111.8 606.6h0" stroke="#1AA3A6" stroke-width="3.4" stroke-linecap="round"/>
<path d="M157.5 565.8h0M164.3 602.5h0M159.3 643.2h0M169.9 624.5h0M188.8 617.4h0M168.7 593.8h0M167 609.7h0M172.1 642.8h0M166 626.5h0M180.9 616.3h0M180.4 615.1h0M162.1 622.5h0M164.6 664.9h0M178.9 617.9h0M187.7 598.2h0M178 596.7h0M170.9 593.7h0M188.9 629.8h0M156.9 617.3h0M158.7 630.4h0M182.4 631.8h0M170.2 615.1h0M158.2 610.4h0M174.8 635.9h0M189.4 598.3h0M173.8 588.1h0M168.3 645.9h0M159.8 613h0M159.1 622.9h0M186.4 646.4h0M172.9 625.6h0M187.6 600.6h0M158.5 608.1h0M164.7 604.6h0M158.4 571h0M169.8 623.8h0M158.7 639h0M165.1 639.5h0M170.1 624.8h0M166.8 612.4h0M158.4 625.2h0M157.9 586.3h0M188.8 607.2h0M162.6 636.1h0M173.5 612h0M170 659.6h0M174.2 631.4h0M159.5 652.5h0M167.1 618.3h0M160.3 642h0M174.6 624.9h0M187.1 638h0M176.4 660.1h0M185 616.5h0M163.8 626.6h0M157.3 638h0M174.5 593.3h0M172.8 631h0M175.6 622.6h0M169.1 621.2h0M177.3 636.8h0M180.6 624.7h0M186.8 632h0M166.9 642.9h0M171.5 608.2h0M184 650.9h0M164.1 614.2h0M160.5 640.5h0M167 643.5h0M159.6 650.1h0M182.2 611h0M183.7 638.9h0M167 598.1h0M161 659.6h0M159.4 644h0M164.8 597.1h0M159.5 627.2h0M170.8 633.5h0M175.7 622h0M164.8 596.1h0M158.7 655.6h0M179.8 615.2h0M158.3 626.7h0M163.3 657.3h0M166.1 603.7h0M169 590h0M160 650.3h0M170.6 636.6h0M167.1 648.7h0M181.5 606.6h0M175.1 615.2h0M186.3 653h0M178.3 620.4h0M181.8 625h0M175.7 608.3h0M171.3 602h0M183.7 629.3h0M178.3 633h0M188.2 632.6h0M180.7 650.4h0M179.8 598.5h0M165.5 613.8h0M183.5 618.5h0M169.3 613.1h0M161 608.2h0M158.9 607h0M162.3 614.2h0M165.4 608h0M179 598.5h0M166.1 614.6h0M158.8 643.4h0M181.9 601.4h0M175.1 634.2h0M157.6 628.8h0M158.4 618.8h0M161 619.9h0M168.5 635.4h0M185.1 610.7h0M188 629.4h0M176.9 614.3h0M164.3 610.3h0M170.9 639.5h0M168.7 593.7h0M167.6 613.5h0M157.1 599.5h0M176 605.9h0M184 636.2h0M180.7 598.1h0M159.8 585.3h0M174.2 630.8h0M162.3 657.6h0M180.1 602.4h0M171.4 633.8h0M187.7 637.3h0M182.9 603.3h0M160.6 599.3h0M167.2 642.8h0M186.9 593.7h0M171.9 625.9h0M171 649.4h0M171.3 586.8h0M182 610.3h0M187.6 619.3h0M174.3 649.6h0M188.7 632.7h0M176.4 602.3h0M160.1 598.6h0M183.6 605h0M170.5 634h0M158.4 634.9h0M189 613.7h0M157.8 635.9h0M175.7 569.9h0M172.6 663.7h0M185.8 586h0M169.7 597.3h0M163.8 636h0M165.8 623.5h0M163.3 565.7h0M175.3 644.1h0M168.5 618.9h0M181.5 648.4h0M164.7 569.4h0M168.3 639h0M164.9 618.6h0M189.1 631.4h0M184.4 618h0M184.7 638h0M177.1 637.3h0M169.9 630.5h0M161.4 587.2h0M184.1 618h0M172.9 622.8h0M157.9 638.1h0M162.3 623.3h0M160 588.7h0M180.4 635.9h0M186.4 619h0M163.3 604.3h0M183 587.1h0M167.4 572h0M179.2 628.2h0M185.2 594.2h0M177.3 653.3h0M183.1 615h0M169.1 650.7h0M157 643.3h0M173.6 595.6h0M176.1 597.5h0M162.8 628.6h0M169.5 597h0M167.2 629.7h0M157.6 605.6h0M167 645.6h0M169.3 624.4h0M172.4 644.8h0M179.9 595.2h0M169.9 624.9h0M189.1 622.9h0M183.6 619.8h0M187.2 598.3h0M179.6 584.8h0M178.8 644.4h0M174.4 623.3h0M183.1 620.6h0M168.7 615.8h0M176.3 644.2h0M179.1 652.7h0M173.9 636.5h0M166.1 637.9h0M159.3 639.6h0M159.6 603.4h0M168.4 631.8h0M175.9 655.7h0M181.8 595.9h0M180.3 614.1h0M166.8 604.3h0M187.4 616h0M165.8 627.1h0M180.3 604.2h0M159.1 650.9h0M181.6 637.3h0M178.8 613h0M188.3 611.3h0M186.3 605.8h0M179.4 602.4h0M184.4 646.1h0M181.1 627.9h0M176.9 626.1h0M163.6 609.7h0M173.8 656.8h0M186.3 641.8h0M164.6 606.8h0M188.9 613.6h0M174.7 605.1h0M169.7 657.7h0M156.8 622.2h0M169.6 624.1h0M162.6 630.7h0M178.3 589.7h0M186.4 619.8h0M186.7 584.4h0M176.9 608.3h0M169.5 614.1h0M160.3 592.4h0M179.4 590.6h0M175 630.5h0M180.3 608.9h0M169 607.5h0M186 609.9h0M163.7 626.1h0M166.8 638.4h0M165.5 635.2h0M177.2 605.3h0M186.3 596.8h0M162.2 610.6h0M177.6 616.9h0M182 626.1h0M164.1 614.3h0M158.8 596h0M175.4 610.5h0M184.1 621.8h0M185.7 605.9h0M180.7 604.2h0M170.5 632.2h0M170.7 595.6h0M174.1 616.4h0M186.6 625.1h0M166.7 614.8h0M166 623.8h0M176.7 632.3h0M188.6 638.6h0M162.9 640.2h0M157.7 598.8h0M160.5 635.6h0M175.3 632.9h0M176.6 632.2h0M162.8 636.7h0M163 625.2h0M176.3 619.3h0M178 648.2h0M179.5 610.1h0M180.8 609h0M158.7 646.3h0M172.7 596.8h0M184.2 606.4h0M188.3 592.1h0M167.2 625.1h0M184.8 627.7h0M178 624.5h0M187.3 628.5h0M164.3 601.2h0M179.7 601.3h0M184.4 616.6h0M172.4 580.4h0M160 640.3h0M163.1 617.3h0M161.9 618.1h0M159.8 625h0M161.7 620.6h0M177 627.2h0M160.2 591.9h0M181.7 581.1h0M181 626.5h0M183.6 634.8h0M183.2 581.1h0M180.2 585.2h0M187.2 641.9h0M188.3 657.5h0M177.3 602.3h0M188.5 598.8h0M160.1 630h0M160.1 608.3h0M158.8 635.8h0M163.5 596.5h0M169.1 633.1h0M171.8 604h0M179.2 595.8h0M181.2 592.1h0M159.5 645.2h0M170 654h0M174.6 662h0M169.1 604.2h0M160.6 651.2h0M176.4 622.9h0M169.1 654.5h0M179.3 636.8h0M173.1 627.9h0M188.5 614.1h0M187.9 606.8h0M159.1 616.7h0M181.8 580.5h0M180.5 609.6h0M166.5 659.5h0M160.6 615.5h0M172.5 597.8h0M168.4 619.3h0M181 598.9h0M187 640.6h0M169.3 643.5h0M166.3 610.1h0M173.2 610.4h0M179.7 612.9h0M182.7 609.4h0M175.7 603.8h0M166.5 656.4h0M167.8 593.5h0M184.7 611h0M173.8 607.4h0M158.4 621.8h0M170.6 608.2h0M164.5 623.4h0M178.7 605.8h0M159.1 625.5h0M165.6 618.8h0M159.9 603.1h0M172.5 629.9h0M189.2 592.4h0M174.6 633.2h0M169.4 631.8h0M187.5 643.3h0M159.7 610.4h0M168.4 623.4h0M183.5 629.1h0M156.9 636.7h0M182 637h0M168.6 653.7h0M157.2 612.8h0M165 608.4h0M171.8 558.4h0M169.3 561.5h0" stroke="#DA5A55" stroke-width="3.4" stroke-linecap="round"/>
<text x="228.2" y="533.8" font-size="16" fill="#000">D</text>
<path d="M261.3 545.8V669.9H427.7" stroke="#222" stroke-width="0.7" fill="none"/>
<path d="M259.7 652.4H261.3" stroke="#222" stroke-width="0.6"/>
<text x="259.1" y="654.5" font-size="5.8" text-anchor="end" fill="#111">1</text>
<path d="M259.7 617.1H261.3" stroke="#222" stroke-width="0.6"/>
<text x="259.1" y="619.2" font-size="5.8" text-anchor="end" fill="#111">2</text>
<path d="M259.7 581.8H261.3" stroke="#222" stroke-width="0.6"/>
<text x="259.1" y="583.9" font-size="5.8" text-anchor="end" fill="#111">3</text>
<path d="M259.7 546.5H261.3" stroke="#222" stroke-width="0.6"/>
<text x="259.1" y="548.6" font-size="5.8" text-anchor="end" fill="#111">4</text>
<text transform="translate(252,601) rotate(-90)" font-size="7.8" text-anchor="middle" fill="#111">P2RX4 expression</text>
<path d="M306.6 669.9v1.8" stroke="#222" stroke-width="0.6"/>
<text x="306.9" y="681.2" font-size="8.1" text-anchor="middle" fill="#111">Normal</text>
<path d="M383.0 669.9v1.8" stroke="#222" stroke-width="0.6"/>
<text x="383.6" y="681.2" font-size="8.1" text-anchor="middle" fill="#111">Tumor</text>
<text x="336.4" y="550.4" font-size="7.2" text-anchor="middle" fill="#111" stroke="#111" stroke-width="0.25">***</text>
<path d="M306.6 635.2V635.2M306.6 648.6V648.6" stroke="#444" stroke-width="0.6"/>
<rect x="287.7" y="635.2" width="37.9" height="13.4" fill="#20B3B5" stroke="#222" stroke-width="0.6"/>
<path d="M287.7 643.1h37.9" stroke="#111" stroke-width="0.9"/>
<path d="M382.8 605.7V605.7M382.8 635.5V635.5" stroke="#444" stroke-width="0.6"/>
<rect x="364.1" y="605.7" width="37.4" height="29.8" fill="#EA7369" stroke="#222" stroke-width="0.6"/>
<path d="M364.1 621.2h37.4" stroke="#111" stroke-width="0.9"/>
<path d="M306.6 649.6L383 627.7M306.6 651.8L383 621.9M306.6 652.9L383 640.4M306.6 644.3L383 624.2M306.6 627.8L383 631.2M306.6 647.2L383 638.1M306.6 654L383 551.4M306.6 635.1L383 619.4M306.6 637.1L383 615.6M306.6 657.3L383 649.7M306.6 647.7L383 645.1M306.6 629.6L383 589.9M306.6 659.5L383 664.8M306.6 646.8L383 661.3M306.6 631.4L383 628.9M306.6 643.4L383 623.1M306.6 620.5L383 616.9M306.6 643.9L383 614.3M306.6 635.8L383 583.7M306.6 618.6L383 577.4M306.6 624.1L383 596.1M306.6 655.1L383 647.4M306.6 636.4L383 606.7M306.6 640.3L383 630M306.6 642.2L383 593M306.6 645.6L383 599.2M306.6 645.1L383 634.7M306.6 644.7L383 609.3M306.6 622.3L383 605.5M306.6 646L383 574.3M306.6 639L383 586.8M306.6 641.6L383 642.8M306.6 642.9L383 626.5M306.6 650.7L383 620.7M306.6 616.8L383 602.3M306.6 660.6L383 635.8M306.6 638.4L383 580.5M306.6 626L383 613.1M306.6 633.3L383 656.7M306.6 646.4L383 608M306.6 615L383 571.2M306.6 598.4L383 659M306.6 639.6L383 611.8M306.6 662.3L383 652M306.6 640.9L383 632.3M306.6 648.5L383 618.2M306.6 648.1L383 633.5M306.6 658.4L383 654.3M306.6 656.2L383 625.4M306.6 637.7L383 610.5" stroke="#111" stroke-width="0.55" fill="none"/>
<path d="M306.6 649.6h0M306.6 651.8h0M306.6 652.9h0M306.6 644.3h0M306.6 627.8h0M306.6 647.2h0M306.6 654h0M306.6 635.1h0M306.6 637.1h0M306.6 657.3h0M306.6 647.7h0M306.6 629.6h0M306.6 659.5h0M306.6 646.8h0M306.6 631.4h0M306.6 643.4h0M306.6 620.5h0M306.6 643.9h0M306.6 635.8h0M306.6 618.6h0M306.6 624.1h0M306.6 655.1h0M306.6 636.4h0M306.6 640.3h0M306.6 642.2h0M306.6 645.6h0M306.6 645.1h0M306.6 644.7h0M306.6 622.3h0M306.6 646h0M306.6 639h0M306.6 641.6h0M306.6 642.9h0M306.6 650.7h0M306.6 616.8h0M306.6 660.6h0M306.6 638.4h0M306.6 626h0M306.6 633.3h0M306.6 646.4h0M306.6 615h0M306.6 598.4h0M306.6 639.6h0M306.6 662.3h0M306.6 640.9h0M306.6 648.5h0M306.6 648.1h0M306.6 658.4h0M306.6 656.2h0M306.6 637.7h0M383 627.7h0M383 621.9h0M383 640.4h0M383 624.2h0M383 631.2h0M383 638.1h0M383 551.4h0M383 619.4h0M383 615.6h0M383 649.7h0M383 645.1h0M383 589.9h0M383 664.8h0M383 661.3h0M383 628.9h0M383 623.1h0M383 616.9h0M383 614.3h0M383 583.7h0M383 577.4h0M383 596.1h0M383 647.4h0M383 606.7h0M383 630h0M383 593h0M383 599.2h0M383 634.7h0M383 609.3h0M383 605.5h0M383 574.3h0M383 586.8h0M383 642.8h0M383 626.5h0M383 620.7h0M383 602.3h0M383 635.8h0M383 580.5h0M383 613.1h0M383 656.7h0M383 608h0M383 571.2h0M383 659h0M383 611.8h0M383 652h0M383 632.3h0M383 618.2h0M383 633.5h0M383 654.3h0M383 625.4h0M383 610.5h0" stroke="#111" stroke-width="2.0" stroke-linecap="round"/>
<text x="457.1" y="536.7" font-size="16" fill="#000">E</text>
<path d="M483.6 543.6V668.1H644.6" stroke="#222" stroke-width="0.7" fill="none"/>
<path d="M482.0 649.5H483.6" stroke="#222" stroke-width="0.6"/>
<text x="481.4" y="651.4" font-size="5.4" text-anchor="end" fill="#111">1</text>
<path d="M482.0 619.2H483.6" stroke="#222" stroke-width="0.6"/>
<text x="481.4" y="621.1" font-size="5.4" text-anchor="end" fill="#111">2</text>
<path d="M482.0 588.9H483.6" stroke="#222" stroke-width="0.6"/>
<text x="481.4" y="590.8" font-size="5.4" text-anchor="end" fill="#111">3</text>
<path d="M482.0 558.6H483.6" stroke="#222" stroke-width="0.6"/>
<text x="481.4" y="560.5" font-size="5.4" text-anchor="end" fill="#111">4</text>
<text transform="translate(475.6,595) rotate(-90)" font-size="8.0" text-anchor="middle" fill="#111">P2RX4  expression</text>
<path d="M527.6 668.1v1.8" stroke="#222" stroke-width="0.6"/>
<text x="527.8" y="679.5" font-size="8.1" text-anchor="middle" fill="#111">&lt;=65</text>
<path d="M600.6 668.1v1.8" stroke="#222" stroke-width="0.6"/>
<text x="604.2" y="679.5" font-size="8.1" text-anchor="middle" fill="#111">&gt;65</text>
<text x="568.7" y="683.8" font-size="8.1" text-anchor="middle" fill="#111">Age</text>
<path d="M527.3 555.0V599.0M527.3 631.2V662.4" stroke="#444" stroke-width="0.6"/>
<rect x="501.5" y="599.0" width="51.5" height="32.2" fill="#EA7369" stroke="#333" stroke-width="0.6"/>
<path d="M501.5 615.1h51.5" stroke="#111" stroke-width="1.2"/>
<path d="M601.0 562.6V604.1M601.0 634.1V660.6" stroke="#444" stroke-width="0.6"/>
<rect x="575.2" y="604.1" width="51.5" height="30.0" fill="#20B3B5" stroke="#333" stroke-width="0.6"/>
<path d="M575.2 618.4h51.5" stroke="#111" stroke-width="1.2"/>
<path d="M527.6 552.3V549.7H600.6V552.3" stroke="#666" stroke-width="0.6" fill="none"/>
<text x="564.1" y="548.5" font-size="5" text-anchor="middle" fill="#333">ns</text>
<text x="8.7" y="725.7" font-size="16" fill="#000">F</text>
<path d="M54.4 735.2V859.4H214.9" stroke="#222" stroke-width="0.7" fill="none"/>
<path d="M52.8 840.6H54.4" stroke="#222" stroke-width="0.6"/>
<text x="52.2" y="842.5" font-size="5.4" text-anchor="end" fill="#111">1</text>
<path d="M52.8 810.5H54.4" stroke="#222" stroke-width="0.6"/>
<text x="52.2" y="812.4" font-size="5.4" text-anchor="end" fill="#111">2</text>
<path d="M52.8 780.4H54.4" stroke="#222" stroke-width="0.6"/>
<text x="52.2" y="782.3" font-size="5.4" text-anchor="end" fill="#111">3</text>
<path d="M52.8 750.3H54.4" stroke="#222" stroke-width="0.6"/>
<text x="52.2" y="752.2" font-size="5.4" text-anchor="end" fill="#111">4</text>
<text transform="translate(45.8,787) rotate(-90)" font-size="8.0" text-anchor="middle" fill="#111">P2RX4  expression</text>
<path d="M98.0 859.4v1.8" stroke="#222" stroke-width="0.6"/>
<text x="99.1" y="871.9" font-size="8.1" text-anchor="middle" fill="#111">FEMALE</text>
<path d="M171.6 859.4v1.8" stroke="#222" stroke-width="0.6"/>
<text x="170.8" y="871.9" font-size="8.1" text-anchor="middle" fill="#111">MALE</text>
<path d="M98.0 745.3V789.9M98.0 822.5V853.7" stroke="#444" stroke-width="0.6"/>
<rect x="72.2" y="789.9" width="51.7" height="32.6" fill="#EA7369" stroke="#333" stroke-width="0.6"/>
<path d="M72.2 801.0h51.7" stroke="#111" stroke-width="1.2"/>
<path d="M171.6 758.0V793.6M171.6 824.5V852.7" stroke="#444" stroke-width="0.6"/>
<rect x="145.9" y="793.6" width="51.3" height="30.9" fill="#20B3B5" stroke="#333" stroke-width="0.6"/>
<path d="M145.9 809.4h51.3" stroke="#111" stroke-width="1.2"/>
<path d="M98.0 743.5V740.9H171.6V743.5" stroke="#666" stroke-width="0.6" fill="none"/>
<text x="134.8" y="739.7" font-size="5" text-anchor="middle" fill="#333">ns</text>
<text x="230.2" y="727.7" font-size="16" fill="#000">G</text>
<path d="M266 734.2V857.7H426.5" stroke="#222" stroke-width="0.7" fill="none"/>
<path d="M264.4 825.2H266" stroke="#222" stroke-width="0.6"/>
<text x="263.8" y="827.1" font-size="5.4" text-anchor="end" fill="#111">2</text>
<path d="M264.4 786.9H266" stroke="#222" stroke-width="0.6"/>
<text x="263.8" y="788.8" font-size="5.4" text-anchor="end" fill="#111">4</text>
<path d="M264.4 748.6H266" stroke="#222" stroke-width="0.6"/>
<text x="263.8" y="750.5" font-size="5.4" text-anchor="end" fill="#111">6</text>
<text transform="translate(258,786) rotate(-90)" font-size="8.0" text-anchor="middle" fill="#111">P2RX4  expression</text>
<path d="M288.8 857.7v1.8" stroke="#222" stroke-width="0.6"/>
<text x="289.8" y="871.9" font-size="8.1" text-anchor="middle" fill="#111">G1</text>
<path d="M327.5 857.7v1.8" stroke="#222" stroke-width="0.6"/>
<text x="328.6" y="871.9" font-size="8.1" text-anchor="middle" fill="#111">G2</text>
<path d="M365.4 857.7v1.8" stroke="#222" stroke-width="0.6"/>
<text x="366.7" y="871.9" font-size="8.1" text-anchor="middle" fill="#111">G3</text>
<path d="M404.0 857.7v1.8" stroke="#222" stroke-width="0.6"/>
<text x="405.4" y="871.9" font-size="8.1" text-anchor="middle" fill="#111">G4</text>
<path d="M288.8 806.4V821.5M288.8 836.6V847.0" stroke="#444" stroke-width="0.6"/>
<rect x="275.4" y="821.5" width="26.9" height="15.1" fill="#EA7369" stroke="#333" stroke-width="0.6"/>
<path d="M275.4 831.2h26.9" stroke="#111" stroke-width="1.2"/>
<circle cx="288.8" cy="791.3" r="1.1" fill="#111"/>
<path d="M327.5 789.6V815.1M327.5 834.2V852.7" stroke="#444" stroke-width="0.6"/>
<rect x="314.2" y="815.1" width="26.5" height="19.1" fill="#78A52C" stroke="#333" stroke-width="0.6"/>
<path d="M314.2 823.5h26.5" stroke="#111" stroke-width="1.2"/>
<path d="M365.4 783.9V808.1M365.4 829.9V850.4" stroke="#444" stroke-width="0.6"/>
<rect x="352.1" y="808.1" width="26.5" height="21.8" fill="#20B3B5" stroke="#333" stroke-width="0.6"/>
<path d="M352.1 817.5h26.5" stroke="#111" stroke-width="1.2"/>
<path d="M404.0 794.6V808.1M404.0 826.5V840.3" stroke="#444" stroke-width="0.6"/>
<rect x="390.6" y="808.1" width="26.8" height="18.4" fill="#A47EC0" stroke="#333" stroke-width="0.6"/>
<path d="M390.6 820.1h26.8" stroke="#111" stroke-width="1.2"/>
<path d="M288.8 783.1V780.5H327.5V783.1" stroke="#666" stroke-width="0.6" fill="none"/>
<text x="308.1" y="779.3" font-size="5" text-anchor="middle" fill="#333">**</text>
<path d="M288.8 775.1V772.5H365.4V775.1" stroke="#666" stroke-width="0.6" fill="none"/>
<text x="327.1" y="771.3" font-size="5" text-anchor="middle" fill="#333">****</text>
<path d="M288.8 767.0V764.4H404.0V767.0" stroke="#666" stroke-width="0.6" fill="none"/>
<text x="346.4" y="763.2" font-size="5" text-anchor="middle" fill="#333">*</text>
<path d="M327.5 758.9V756.3H365.4V758.9" stroke="#666" stroke-width="0.6" fill="none"/>
<text x="346.4" y="755.1" font-size="5" text-anchor="middle" fill="#333">**</text>
<path d="M327.5 750.9V748.3H404.0V750.9" stroke="#666" stroke-width="0.6" fill="none"/>
<text x="365.8" y="747.1" font-size="5" text-anchor="middle" fill="#333">ns</text>
<path d="M365.4 742.5V739.9H404.0V742.5" stroke="#666" stroke-width="0.6" fill="none"/>
<text x="384.7" y="738.7" font-size="5" text-anchor="middle" fill="#333">ns</text>
<text x="457.6" y="728" font-size="16" fill="#000">H</text>
<path d="M485.4 733.2V856.6H646.7" stroke="#222" stroke-width="0.7" fill="none"/>
<path d="M483.8 823.6H485.4" stroke="#222" stroke-width="0.6"/>
<text x="483.2" y="825.5" font-size="5.4" text-anchor="end" fill="#111">2</text>
<path d="M483.8 785.2H485.4" stroke="#222" stroke-width="0.6"/>
<text x="483.2" y="787.1" font-size="5.4" text-anchor="end" fill="#111">4</text>
<path d="M483.8 746.8H485.4" stroke="#222" stroke-width="0.6"/>
<text x="483.2" y="748.7" font-size="5.4" text-anchor="end" fill="#111">6</text>
<text transform="translate(477,784) rotate(-90)" font-size="8.0" text-anchor="middle" fill="#111">P2RX4  expression</text>
<path d="M508.0 856.6v1.8" stroke="#222" stroke-width="0.6"/>
<text x="509.7" y="871.7" font-size="8.1" text-anchor="middle" fill="#111">T1</text>
<path d="M546.6 856.6v1.8" stroke="#222" stroke-width="0.6"/>
<text x="549.1" y="871.7" font-size="8.1" text-anchor="middle" fill="#111">T2</text>
<path d="M585.2 856.6v1.8" stroke="#222" stroke-width="0.6"/>
<text x="588.4" y="871.7" font-size="8.1" text-anchor="middle" fill="#111">T3</text>
<path d="M623.5 856.6v1.8" stroke="#222" stroke-width="0.6"/>
<text x="627.4" y="871.7" font-size="8.1" text-anchor="middle" fill="#111">T4</text>
<path d="M508.1 791.5V814.8M508.1 832.3V850.2" stroke="#444" stroke-width="0.6"/>
<rect x="494.7" y="814.8" width="26.8" height="17.5" fill="#EA7369" stroke="#333" stroke-width="0.6"/>
<path d="M494.7 823.0h26.8" stroke="#111" stroke-width="1.2"/>
<path d="M547.1 788.0V809.1M547.1 830.5V848.8" stroke="#444" stroke-width="0.6"/>
<rect x="533.7" y="809.1" width="26.8" height="21.4" fill="#78A52C" stroke="#333" stroke-width="0.6"/>
<path d="M533.7 819.1h26.8" stroke="#111" stroke-width="1.2"/>
<path d="M585.3 782.6V806.6M585.3 832.3V851.3" stroke="#444" stroke-width="0.6"/>
<rect x="572.2" y="806.6" width="26.1" height="25.7" fill="#20B3B5" stroke="#333" stroke-width="0.6"/>
<path d="M572.2 818.0h26.1" stroke="#111" stroke-width="1.2"/>
<path d="M623.8 794.8V811.9M623.8 824.4V833.4" stroke="#444" stroke-width="0.6"/>
<rect x="610.9" y="811.9" width="25.7" height="12.5" fill="#A47EC0" stroke="#333" stroke-width="0.6"/>
<path d="M610.9 817.3h25.7" stroke="#111" stroke-width="1.2"/>
<path d="M508.0 781.6V779.0H546.6V781.6" stroke="#666" stroke-width="0.6" fill="none"/>
<circle cx="527.3" cy="775.6" r="0.55" fill="#222"/>
<path d="M508.0 773.4V770.8H585.2V773.4" stroke="#666" stroke-width="0.6" fill="none"/>
<circle cx="546.6" cy="767.4" r="0.55" fill="#222"/>
<path d="M508.0 765.2V762.6H623.5V765.2" stroke="#666" stroke-width="0.6" fill="none"/>
<text x="565.8" y="761.4" font-size="5" text-anchor="middle" fill="#333">ns</text>
<path d="M546.6 756.9V754.3H585.2V756.9" stroke="#666" stroke-width="0.6" fill="none"/>
<text x="565.9" y="753.1" font-size="5" text-anchor="middle" fill="#333">ns</text>
<path d="M546.6 748.7V746.1H623.5V748.7" stroke="#666" stroke-width="0.6" fill="none"/>
<text x="585.0" y="744.9" font-size="5" text-anchor="middle" fill="#333">ns</text>
<path d="M585.2 740.5V737.9H623.5V740.5" stroke="#666" stroke-width="0.6" fill="none"/>
<text x="604.4" y="736.7" font-size="5" text-anchor="middle" fill="#333">ns</text>
<text x="11.6" y="909.9" font-size="16" fill="#000">I</text>
<path d="M56.1 911.9V1035.5H216.6" stroke="#222" stroke-width="0.7" fill="none"/>
<path d="M54.5 1018.0H56.1" stroke="#222" stroke-width="0.6"/>
<text x="53.9" y="1019.9" font-size="5.4" text-anchor="end" fill="#111">1</text>
<path d="M54.5 987.5H56.1" stroke="#222" stroke-width="0.6"/>
<text x="53.9" y="989.4" font-size="5.4" text-anchor="end" fill="#111">2</text>
<path d="M54.5 957.0H56.1" stroke="#222" stroke-width="0.6"/>
<text x="53.9" y="958.9" font-size="5.4" text-anchor="end" fill="#111">3</text>
<path d="M54.5 926.5H56.1" stroke="#222" stroke-width="0.6"/>
<text x="53.9" y="928.4" font-size="5.4" text-anchor="end" fill="#111">4</text>
<text transform="translate(48,963) rotate(-90)" font-size="8.0" text-anchor="middle" fill="#111">P2RX4  expression</text>
<path d="M99.7 1035.5v1.8" stroke="#222" stroke-width="0.6"/>
<text x="101.4" y="1047" font-size="8.1" text-anchor="middle" fill="#111">N0</text>
<path d="M173.6 1035.5v1.8" stroke="#222" stroke-width="0.6"/>
<text x="173.9" y="1047" font-size="8.1" text-anchor="middle" fill="#111">N1</text>
<path d="M100.0 922.0V968.0M100.0 1001.6V1029.4" stroke="#444" stroke-width="0.6"/>
<rect x="74.5" y="968.0" width="51.1" height="33.6" fill="#EA7369" stroke="#333" stroke-width="0.6"/>
<path d="M74.5 984.1h51.1" stroke="#111" stroke-width="1.2"/>
<path d="M173.5 956.6V972.3M173.5 995.2V1015.0" stroke="#444" stroke-width="0.6"/>
<rect x="147.8" y="972.3" width="51.3" height="22.9" fill="#20B3B5" stroke="#333" stroke-width="0.6"/>
<path d="M147.8 983.1h51.3" stroke="#111" stroke-width="1.2"/>
<path d="M99.7 919.5V916.9H173.6V919.5" stroke="#666" stroke-width="0.6" fill="none"/>
<text x="136.7" y="915.7" font-size="5" text-anchor="middle" fill="#333">ns</text>
<text x="235.6" y="909.6" font-size="16" fill="#000">J</text>
<path d="M268.7 911.9V1035.5H429.9" stroke="#222" stroke-width="0.7" fill="none"/>
<path d="M267.1 1018.0H268.7" stroke="#222" stroke-width="0.6"/>
<text x="266.5" y="1019.9" font-size="5.4" text-anchor="end" fill="#111">1</text>
<path d="M267.1 987.5H268.7" stroke="#222" stroke-width="0.6"/>
<text x="266.5" y="989.4" font-size="5.4" text-anchor="end" fill="#111">2</text>
<path d="M267.1 957.0H268.7" stroke="#222" stroke-width="0.6"/>
<text x="266.5" y="958.9" font-size="5.4" text-anchor="end" fill="#111">3</text>
<path d="M267.1 926.5H268.7" stroke="#222" stroke-width="0.6"/>
<text x="266.5" y="928.4" font-size="5.4" text-anchor="end" fill="#111">4</text>
<text transform="translate(260.5,963) rotate(-90)" font-size="8.0" text-anchor="middle" fill="#111">P2RX4  expression</text>
<path d="M312.7 1035.5v1.8" stroke="#222" stroke-width="0.6"/>
<text x="315.7" y="1047" font-size="8.1" text-anchor="middle" fill="#111">M0</text>
<path d="M385.9 1035.5v1.8" stroke="#222" stroke-width="0.6"/>
<text x="386.9" y="1047" font-size="8.1" text-anchor="middle" fill="#111">M1</text>
<path d="M312.7 922.0V967.3M312.7 1000.2V1029.4" stroke="#444" stroke-width="0.6"/>
<rect x="287.2" y="967.3" width="51.0" height="32.9" fill="#EA7369" stroke="#333" stroke-width="0.6"/>
<path d="M287.2 983.4h51.0" stroke="#111" stroke-width="1.2"/>
<path d="M385.9 958.9V975.0M385.9 987.5V987.5" stroke="#444" stroke-width="0.6"/>
<rect x="360.4" y="975.0" width="51.0" height="12.5" fill="#20B3B5" stroke="#333" stroke-width="0.6"/>
<path d="M360.4 984.1h51.0" stroke="#111" stroke-width="1.2"/>
<path d="M312.7 919.5V916.9H385.9V919.5" stroke="#666" stroke-width="0.6" fill="none"/>
<text x="349.3" y="915.7" font-size="5" text-anchor="middle" fill="#333">ns</text>
<text x="456.7" y="910.6" font-size="16" fill="#000">K</text>
<path d="M488.3 908.6V1033.1H648.5" stroke="#222" stroke-width="0.7" fill="none"/>
<path d="M486.7 999.6H488.3" stroke="#222" stroke-width="0.6"/>
<text x="486.1" y="1001.5" font-size="5.4" text-anchor="end" fill="#111">2</text>
<path d="M486.7 961.2H488.3" stroke="#222" stroke-width="0.6"/>
<text x="486.1" y="963.1" font-size="5.4" text-anchor="end" fill="#111">4</text>
<path d="M486.7 922.8H488.3" stroke="#222" stroke-width="0.6"/>
<text x="486.1" y="924.7" font-size="5.4" text-anchor="end" fill="#111">6</text>
<text transform="translate(480,960) rotate(-90)" font-size="8.0" text-anchor="middle" fill="#111">P2RX4  expression</text>
<path d="M510.5 1033.1v1.8" stroke="#222" stroke-width="0.6"/>
<text x="510.1" y="1047.4" font-size="8.1" text-anchor="middle" fill="#111">Stage I</text>
<path d="M549.1 1033.1v1.8" stroke="#222" stroke-width="0.6"/>
<text x="553.7" y="1047.4" font-size="8.1" text-anchor="middle" fill="#111">Stage II</text>
<path d="M587.7 1033.1v1.8" stroke="#222" stroke-width="0.6"/>
<text x="588.4" y="1047.4" font-size="8.1" text-anchor="middle" fill="#111">Stage III</text>
<path d="M626.0 1033.1v1.8" stroke="#222" stroke-width="0.6"/>
<text x="626.0" y="1047.4" font-size="8.1" text-anchor="middle" fill="#111">Stage IV</text>
<path d="M510.8 966.9V990.9M510.8 1008.8V1026.6" stroke="#444" stroke-width="0.6"/>
<rect x="497.2" y="990.9" width="27.2" height="17.9" fill="#EA7369" stroke="#333" stroke-width="0.6"/>
<path d="M497.2 999.1h27.2" stroke="#111" stroke-width="1.2"/>
<path d="M549.3 964.0V986.2M549.3 1007.0V1025.6" stroke="#444" stroke-width="0.6"/>
<rect x="535.9" y="986.2" width="26.8" height="20.8" fill="#78A52C" stroke="#333" stroke-width="0.6"/>
<path d="M535.9 996.2h26.8" stroke="#111" stroke-width="1.2"/>
<path d="M587.7 958.7V981.9M587.7 1007.7V1027.4" stroke="#444" stroke-width="0.6"/>
<rect x="574.1" y="981.9" width="27.2" height="25.8" fill="#20B3B5" stroke="#333" stroke-width="0.6"/>
<path d="M574.1 993.4h27.2" stroke="#111" stroke-width="1.2"/>
<path d="M626.1 995.2V995.2M626.1 1000.5V1000.5" stroke="#444" stroke-width="0.6"/>
<rect x="612.6" y="995.2" width="26.9" height="5.3" fill="#A47EC0" stroke="#333" stroke-width="0.6"/>
<path d="M612.6 999.8h26.9" stroke="#111" stroke-width="1.2"/>
<circle cx="626" cy="981.9" r="1.1" fill="#111"/><circle cx="626" cy="1016.6" r="1.1" fill="#111"/>
<path d="M510.5 958.1V955.5H549.1V958.1" stroke="#666" stroke-width="0.6" fill="none"/>
<text x="529.8" y="954.3" font-size="5" text-anchor="middle" fill="#333">ns</text>
<path d="M510.5 949.8V947.2H587.7V949.8" stroke="#666" stroke-width="0.6" fill="none"/>
<circle cx="549.1" cy="943.8" r="0.55" fill="#222"/>
<path d="M510.5 941.6V939.0H626.0V941.6" stroke="#666" stroke-width="0.6" fill="none"/>
<text x="568.2" y="937.8" font-size="5" text-anchor="middle" fill="#333">ns</text>
<path d="M549.1 933.4V930.8H587.7V933.4" stroke="#666" stroke-width="0.6" fill="none"/>
<text x="568.4" y="929.6" font-size="5" text-anchor="middle" fill="#333">ns</text>
<path d="M549.1 925.2V922.6H626.0V925.2" stroke="#666" stroke-width="0.6" fill="none"/>
<text x="587.5" y="921.4" font-size="5" text-anchor="middle" fill="#333">ns</text>
<path d="M587.7 916.9V914.3H626.0V916.9" stroke="#666" stroke-width="0.6" fill="none"/>
<text x="606.9" y="913.1" font-size="5" text-anchor="middle" fill="#333">ns</text>
</svg></body></html>
